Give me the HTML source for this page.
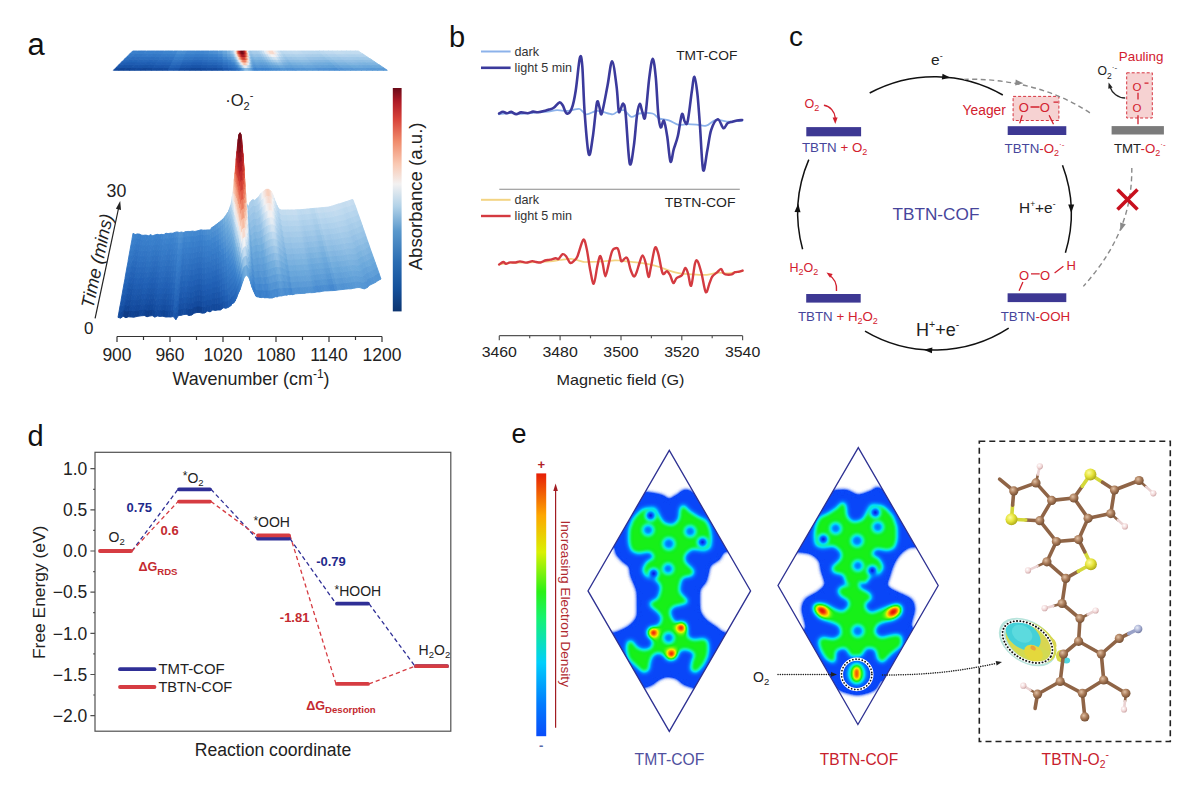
<!DOCTYPE html>
<html><head><meta charset="utf-8"><title>Figure</title>
<style>
html,body{margin:0;padding:0;background:#fff;}
body{width:1202px;height:797px;overflow:hidden;}
svg{display:block;font-family:"Liberation Sans", Arial, sans-serif;}
</style></head><body>
<svg width="1202" height="797" viewBox="0 0 1202 797">
<rect width="1202" height="797" fill="#fff"/>
<text x="27.5" y="54.5" font-size="31" fill="#111">a</text><path d="M117.0 336.5H382.0" stroke="#333" stroke-width="1.2" fill="none"/><path d="M117.0 336.5V342.0" stroke="#333" stroke-width="1.2"/><path d="M143.5 336.5V340.0" stroke="#333" stroke-width="1.2"/><path d="M170.0 336.5V342.0" stroke="#333" stroke-width="1.2"/><path d="M196.5 336.5V340.0" stroke="#333" stroke-width="1.2"/><path d="M223.0 336.5V342.0" stroke="#333" stroke-width="1.2"/><path d="M249.5 336.5V340.0" stroke="#333" stroke-width="1.2"/><path d="M276.0 336.5V342.0" stroke="#333" stroke-width="1.2"/><path d="M302.5 336.5V340.0" stroke="#333" stroke-width="1.2"/><path d="M329.0 336.5V342.0" stroke="#333" stroke-width="1.2"/><path d="M355.5 336.5V340.0" stroke="#333" stroke-width="1.2"/><path d="M382.0 336.5V342.0" stroke="#333" stroke-width="1.2"/><text x="117.0" y="361" font-size="17.5" text-anchor="middle" fill="#222">900</text><text x="170.0" y="361" font-size="17.5" text-anchor="middle" fill="#222">960</text><text x="223.0" y="361" font-size="17.5" text-anchor="middle" fill="#222">1020</text><text x="276.0" y="361" font-size="17.5" text-anchor="middle" fill="#222">1080</text><text x="329.0" y="361" font-size="17.5" text-anchor="middle" fill="#222">1140</text><text x="382.0" y="361" font-size="17.5" text-anchor="middle" fill="#222">1200</text><text x="251" y="385" font-size="17.9" text-anchor="middle" fill="#222">Wavenumber (cm<tspan font-size="12" dy="-7">-1</tspan><tspan dy="7">)</tspan></text><text x="106.6" y="196.6" font-size="17.8" fill="#222">30</text><text x="84" y="333.5" font-size="17" fill="#222">0</text><path d="M95.1 318.4L118.6 208" stroke="#222" stroke-width="1.2" fill="none"/><path d="M120.2 201.0L121.0 209.9L115.9 208.8Z" fill="#222"/><text transform="translate(93.2,309) rotate(-78)" font-size="18.2" font-style="italic" fill="#222">Time (mins)</text><text x="225.2" y="106" font-size="16.5" fill="#222">·O<tspan font-size="11" dy="4">2</tspan><tspan font-size="11" dy="-11">-</tspan></text><defs><linearGradient id="cbA" x1="0" y1="1" x2="0" y2="0"><stop offset="0" stop-color="#0c3470"/><stop offset="0.1" stop-color="#14509a"/><stop offset="0.22" stop-color="#2a6cb2"/><stop offset="0.36" stop-color="#5a98cc"/><stop offset="0.47" stop-color="#b2d2e8"/><stop offset="0.57" stop-color="#f3f1f1"/><stop offset="0.66" stop-color="#f9c8b2"/><stop offset="0.76" stop-color="#f08c6c"/><stop offset="0.86" stop-color="#d8433a"/><stop offset="0.94" stop-color="#ae1a26"/><stop offset="1" stop-color="#6a0a18"/></linearGradient></defs><rect x="392.8" y="88" width="8.8" height="223.4" fill="url(#cbA)"/><text transform="translate(422.2,270.3) rotate(-90)" font-size="18.6" fill="#222">Absorbance (a.u.)</text><g stroke-width="0.9" stroke-linejoin="bevel"><path fill="#3d83cd" stroke="#3d83cd" d="M132.0 239.0l2.2 1.1 1.0 -5.6 -2.2 -1.2z"/><path fill="#3b81cc" stroke="#3b81cc" d="M134.2 240.2l2.2 -0.8 0.9 -5.5 -2.2 0.7z"/><path fill="#397fcb" stroke="#397fcb" d="M136.5 239.4l2.2 0.3 0.9 -5.6 -2.2 -0.2z"/><path fill="#397eca" stroke="#397eca" d="M138.7 239.7l2.2 0.9 0.9 -5.4 -2.2 -1.0z"/><path fill="#3b80cc" stroke="#3b80cc" d="M140.9 240.6l2.2 0.2 0.9 -5.4 -2.2 -0.2z"/><path fill="#3b81cc" stroke="#3b81cc" d="M143.1 240.7l2.2 -0.1 0.8 -5.5 -2.2 0.1z"/><path fill="#3b80cc" stroke="#3b80cc" d="M145.4 240.6l2.2 0.5 0.8 -5.4 -2.2 -0.6z"/><path fill="#3b81cc" stroke="#3b81cc" d="M147.6 241.2l2.2 -1.1 0.8 -5.4 -2.2 1.2z"/><path fill="#3d83cd" stroke="#3d83cd" d="M149.8 240.0l2.2 1.0 0.7 -5.3 -2.2 -1.0z"/><path fill="#3d83cd" stroke="#3d83cd" d="M152.1 241.0l2.2 -0.7 0.7 -5.4 -2.2 0.8z"/><path fill="#3b81cd" stroke="#3b81cd" d="M154.3 240.3l2.2 -0.5 0.7 -5.5 -2.2 0.6z"/><path fill="#3b81cc" stroke="#3b81cc" d="M156.5 239.8l2.2 0.4 0.7 -5.4 -2.2 -0.5z"/><path fill="#3b81cc" stroke="#3b81cc" d="M158.7 240.2l2.2 -0.5 0.6 -5.4 -2.2 0.5z"/><path fill="#3e83ce" stroke="#3e83ce" d="M161.0 239.8l2.2 0.3 0.6 -5.5 -2.2 -0.2z"/><path fill="#4287cf" stroke="#4287cf" d="M163.2 240.1l2.2 -1.4 0.6 -5.5 -2.2 1.5z"/><path fill="#4387cf" stroke="#4387cf" d="M165.4 238.7l2.2 0.4 0.5 -5.5 -2.2 -0.4z"/><path fill="#4186ce" stroke="#4186ce" d="M167.7 239.1l2.2 -0.4 0.5 -5.5 -2.2 0.4z"/><path fill="#3f85ce" stroke="#3f85ce" d="M169.9 238.7l2.2 0.1 0.5 -5.6 -2.2 -0.0z"/><path fill="#4186cf" stroke="#4186cf" d="M172.1 238.8l2.2 -0.7 0.5 -5.6 -2.2 0.8z"/><path fill="#4589d0" stroke="#4589d0" d="M174.3 238.1l2.2 -0.5 0.4 -5.7 -2.2 0.5z"/><path fill="#498cd1" stroke="#498cd1" d="M176.6 237.6l2.2 0.4 0.4 -5.6 -2.2 -0.5z"/><path fill="#5193d3" stroke="#5193d3" d="M178.8 238.0l2.2 -0.2 0.4 -5.8 -2.2 0.5z"/><path fill="#4e90d2" stroke="#4e90d2" d="M181.0 237.8l2.2 0.2 0.3 -5.5 -2.2 -0.5z"/><path fill="#4489d0" stroke="#4489d0" d="M183.3 238.0l2.2 -0.8 0.3 -5.6 -2.2 0.8z"/><path fill="#468ad0" stroke="#468ad0" d="M185.5 237.2l2.2 -0.3 0.3 -5.5 -2.2 0.3z"/><path fill="#478bd0" stroke="#478bd0" d="M187.7 236.9l2.2 0.1 0.3 -5.5 -2.2 -0.1z"/><path fill="#4489cf" stroke="#4489cf" d="M189.9 237.0l2.2 -0.3 0.2 -5.6 -2.2 0.4z"/><path fill="#4287cf" stroke="#4287cf" d="M192.2 236.7l2.2 0.3 0.2 -5.6 -2.2 -0.4z"/><path fill="#4287cf" stroke="#4287cf" d="M194.4 237.1l2.2 -0.6 0.2 -5.5 -2.2 0.5z"/><path fill="#4287cf" stroke="#4287cf" d="M196.6 236.5l2.2 -0.6 0.1 -5.5 -2.2 0.6z"/><path fill="#4186ce" stroke="#4186ce" d="M198.9 235.9l2.2 -0.6 0.1 -5.5 -2.2 0.6z"/><path fill="#4287cf" stroke="#4287cf" d="M201.1 235.3l2.2 0.4 0.1 -5.5 -2.2 -0.3z"/><path fill="#468ad0" stroke="#468ad0" d="M203.3 235.6l2.2 -0.0 0.1 -5.5 -2.2 0.0z"/><path fill="#498cd1" stroke="#498cd1" d="M205.5 235.6l2.2 -0.3 0.0 -5.4 -2.2 0.2z"/><path fill="#4b8ed1" stroke="#4b8ed1" d="M207.8 235.3l2.2 0.2 -0.0 -5.5 -2.2 -0.1z"/><path fill="#4d90d2" stroke="#4d90d2" d="M210.0 235.4l2.2 -2.7 -0.0 -5.5 -2.2 2.7z"/><path fill="#4f91d3" stroke="#4f91d3" d="M212.2 232.8l2.2 -1.2 -0.1 -5.6 -2.2 1.4z"/><path fill="#5293d3" stroke="#5293d3" d="M214.5 231.5l2.2 -1.6 -0.1 -5.7 -2.2 1.6z"/><path fill="#5697d5" stroke="#5697d5" d="M216.7 230.0l2.2 -1.7 -0.1 -5.8 -2.2 1.8z"/><path fill="#5e9dd7" stroke="#5e9dd7" d="M218.9 228.3l2.2 -1.6 -0.1 -5.8 -2.2 1.6z"/><path fill="#66a3da" stroke="#66a3da" d="M221.1 226.7l2.2 -1.8 -0.2 -6.0 -2.2 1.9z"/><path fill="#6fabdc" stroke="#6fabdc" d="M223.4 224.9l2.2 -2.8 -0.2 -6.1 -2.2 2.9z"/><path fill="#80b5e0" stroke="#80b5e0" d="M225.6 222.1l2.2 -3.3 -0.2 -6.2 -2.2 3.4z"/><path fill="#89bae2" stroke="#89bae2" d="M227.8 218.9l0.7 -0.7 -0.2 -6.1 -0.7 0.7z"/><path fill="#8ebde4" stroke="#8ebde4" d="M228.6 218.1l0.7 -1.7 -0.3 -6.2 -0.7 1.8z"/><path fill="#97c3e6" stroke="#97c3e6" d="M229.2 216.4l0.7 -1.7 -0.3 -6.3 -0.7 1.8z"/><path fill="#9fc7e8" stroke="#9fc7e8" d="M229.9 214.7l0.7 -1.7 -0.3 -6.4 -0.7 1.8z"/><path fill="#a7ccea" stroke="#a7ccea" d="M230.6 213.0l0.7 -1.8 -0.3 -6.4 -0.7 1.8z"/><path fill="#b3d3ed" stroke="#b3d3ed" d="M231.2 211.2l0.7 -3.4 -0.3 -6.5 -0.7 3.5z"/><path fill="#cadff0" stroke="#cadff0" d="M231.9 207.8l0.7 -4.6 -0.3 -6.7 -0.7 4.8z"/><path fill="#e9eef4" stroke="#e9eef4" d="M232.6 203.3l0.7 -4.6 -0.3 -6.9 -0.7 4.8z"/><path fill="#f5e3dc" stroke="#f5e3dc" d="M233.3 198.6l0.7 -5.1 -0.3 -7.1 -0.7 5.3z"/><path fill="#f9c7b1" stroke="#f9c7b1" d="M233.9 193.6l0.7 -6.6 -0.3 -7.5 -0.7 6.9z"/><path fill="#f3a184" stroke="#f3a184" d="M234.6 187.0l0.7 -6.6 -0.3 -7.8 -0.7 6.9z"/><path fill="#ea785d" stroke="#ea785d" d="M235.3 180.5l0.7 -6.6 -0.3 -8.1 -0.7 6.9z"/><path fill="#dc4b3a" stroke="#dc4b3a" d="M235.9 173.9l0.7 -6.8 -0.3 -8.5 -0.7 7.2z"/><path fill="#c32f2d" stroke="#c32f2d" d="M236.6 167.1l0.7 -6.9 -0.4 -8.8 -0.7 7.2z"/><path fill="#a51922" stroke="#a51922" d="M237.3 160.2l0.7 -6.6 -0.4 -9.1 -0.7 6.9z"/><path fill="#89101c" stroke="#89101c" d="M237.9 153.5l0.7 -4.8 -0.4 -9.3 -0.7 5.0z"/><path fill="#730917" stroke="#730917" d="M238.6 148.8l0.7 -4.7 -0.4 -9.5 -0.7 5.0z"/><path fill="#6e0816" stroke="#6e0816" d="M239.3 144.0l0.7 -1.3 -0.4 -9.5 -0.7 1.3z"/><path fill="#6e0816" stroke="#6e0816" d="M239.9 142.7l0.7 -0.4 -0.4 -9.5 -0.7 0.4z"/><path fill="#6e0816" stroke="#6e0816" d="M240.6 142.3l0.7 1.4 -0.4 -9.4 -0.7 -1.5z"/><path fill="#780b18" stroke="#780b18" d="M241.3 143.7l0.7 4.2 -0.4 -9.2 -0.7 -4.4z"/><path fill="#95141e" stroke="#95141e" d="M241.9 147.9l0.7 6.4 -0.4 -8.8 -0.7 -6.8z"/><path fill="#b62127" stroke="#b62127" d="M242.6 154.3l0.7 7.4 -0.4 -8.4 -0.7 -7.8z"/><path fill="#d64437" stroke="#d64437" d="M243.3 161.7l0.7 9.4 -0.4 -7.8 -0.7 -9.9z"/><path fill="#ec8165" stroke="#ec8165" d="M244.0 171.0l0.7 9.4 -0.4 -7.4 -0.7 -9.8z"/><path fill="#f7baa1" stroke="#f7baa1" d="M244.6 180.4l0.7 9.0 -0.5 -6.9 -0.7 -9.5z"/><path fill="#f5e5df" stroke="#f5e5df" d="M245.3 189.4l0.7 8.9 -0.5 -6.4 -0.7 -9.5z"/><path fill="#d5e4f1" stroke="#d5e4f1" d="M246.0 198.4l0.7 6.6 -0.5 -6.1 -0.7 -6.9z"/><path fill="#b1d2ec" stroke="#b1d2ec" d="M246.6 205.0l0.7 5.2 -0.5 -5.8 -0.7 -5.5z"/><path fill="#a0c8e8" stroke="#a0c8e8" d="M247.3 210.2l0.7 1.6 -0.5 -5.9 -0.7 -1.6z"/><path fill="#9dc6e7" stroke="#9dc6e7" d="M248.0 211.8l0.7 1.6 -0.5 -5.9 -0.7 -1.6z"/><path fill="#a0c8e8" stroke="#a0c8e8" d="M248.6 213.4l0.7 -1.5 -0.5 -6.1 -0.7 1.7z"/><path fill="#a5cbe9" stroke="#a5cbe9" d="M249.3 211.9l0.7 -1.5 -0.5 -6.2 -0.7 1.6z"/><path fill="#a8cdea" stroke="#a8cdea" d="M250.0 210.4l0.7 -1.5 -0.5 -6.3 -0.7 1.7z"/><path fill="#accfeb" stroke="#accfeb" d="M250.6 208.8l0.2 -0.5 -0.5 -6.3 -0.2 0.5z"/><path fill="#aaceeb" stroke="#aaceeb" d="M250.9 208.3l1.3 -1.4 -0.5 -6.5 -1.3 1.5z"/><path fill="#a9cdea" stroke="#a9cdea" d="M252.2 207.0l1.3 -0.7 -0.6 -6.5 -1.3 0.8z"/><path fill="#aaceea" stroke="#aaceea" d="M253.5 206.2l1.3 0.5 -0.6 -6.5 -1.3 -0.6z"/><path fill="#add0eb" stroke="#add0eb" d="M254.9 206.8l1.3 -0.5 -0.6 -6.5 -1.3 0.6z"/><path fill="#b0d2ec" stroke="#b0d2ec" d="M256.2 206.3l1.3 -1.1 -0.6 -6.6 -1.3 1.1z"/><path fill="#b4d4ed" stroke="#b4d4ed" d="M257.5 205.2l1.3 -1.3 -0.6 -6.7 -1.3 1.4z"/><path fill="#bed9ef" stroke="#bed9ef" d="M258.9 203.9l1.3 -1.7 -0.6 -6.8 -1.3 1.8z"/><path fill="#d0e2f1" stroke="#d0e2f1" d="M260.2 202.2l1.3 -1.7 -0.7 -7.0 -1.3 1.8z"/><path fill="#e5ecf3" stroke="#e5ecf3" d="M261.6 200.6l1.3 -1.2 -0.7 -7.0 -1.3 1.3z"/><path fill="#f3f1f2" stroke="#f3f1f2" d="M262.9 199.3l1.3 -1.0 -0.7 -7.1 -1.3 1.0z"/><path fill="#f5e7e2" stroke="#f5e7e2" d="M264.2 198.3l1.3 -1.0 -0.7 -7.1 -1.3 1.0z"/><path fill="#f6ddd2" stroke="#f6ddd2" d="M265.6 197.3l1.3 -0.7 -0.7 -7.2 -1.3 0.7z"/><path fill="#f8d4c4" stroke="#f8d4c4" d="M266.9 196.6l1.3 -0.2 -0.8 -7.1 -1.3 0.1z"/><path fill="#f8cfbb" stroke="#f8cfbb" d="M268.2 196.4l1.3 0.0 -0.8 -7.1 -1.3 -0.0z"/><path fill="#f8d3c1" stroke="#f8d3c1" d="M269.6 196.5l1.3 1.2 -0.8 -7.0 -1.3 -1.3z"/><path fill="#f6dcd1" stroke="#f6dcd1" d="M270.9 197.6l1.3 1.1 -0.8 -6.9 -1.3 -1.3z"/><path fill="#f4ebe8" stroke="#f4ebe8" d="M272.3 198.8l1.3 2.7 -0.8 -6.7 -1.3 -2.9z"/><path fill="#e9eef4" stroke="#e9eef4" d="M273.6 201.5l1.3 2.9 -0.8 -6.5 -1.3 -3.2z"/><path fill="#d9e7f2" stroke="#d9e7f2" d="M274.9 204.4l1.3 3.2 -0.9 -6.2 -1.3 -3.4z"/><path fill="#cbe0f0" stroke="#cbe0f0" d="M276.3 207.6l1.3 3.4 -0.9 -6.0 -1.3 -3.6z"/><path fill="#bfdaef" stroke="#bfdaef" d="M277.6 211.0l1.3 2.4 -0.9 -5.8 -1.3 -2.6z"/><path fill="#bbd8ee" stroke="#bbd8ee" d="M278.9 213.4l1.3 1.4 -0.9 -5.7 -1.3 -1.4z"/><path fill="#bfdaef" stroke="#bfdaef" d="M280.3 214.8l0.3 0.3 -0.9 -5.7 -0.3 -0.3z"/><path fill="#c4dcef" stroke="#c4dcef" d="M280.6 215.1l2.2 0.7 -0.9 -5.6 -2.2 -0.8z"/><path fill="#c3dcef" stroke="#c3dcef" d="M282.8 215.7l2.2 -0.1 -1.0 -5.6 -2.2 0.0z"/><path fill="#c3dcef" stroke="#c3dcef" d="M285.0 215.7l2.2 -0.1 -1.0 -5.6 -2.2 0.0z"/><path fill="#c5ddef" stroke="#c5ddef" d="M287.3 215.6l2.2 -0.1 -1.0 -5.6 -2.2 0.0z"/><path fill="#c5ddef" stroke="#c5ddef" d="M289.5 215.6l2.2 -0.1 -1.1 -5.5 -2.2 0.0z"/><path fill="#c5ddef" stroke="#c5ddef" d="M291.7 215.5l2.2 -0.1 -1.1 -5.5 -2.2 0.0z"/><path fill="#c6ddf0" stroke="#c6ddf0" d="M293.9 215.5l2.2 -0.0 -1.1 -5.5 -2.2 0.0z"/><path fill="#c5ddef" stroke="#c5ddef" d="M296.2 215.4l2.2 -0.1 -1.1 -5.5 -2.2 0.0z"/><path fill="#c0dbef" stroke="#c0dbef" d="M298.4 215.4l2.2 -0.1 -1.2 -5.5 -2.2 0.0z"/><path fill="#bdd9ef" stroke="#bdd9ef" d="M300.6 215.3l2.2 -0.2 -1.2 -5.5 -2.2 0.2z"/><path fill="#bedaef" stroke="#bedaef" d="M302.9 215.1l2.2 -0.2 -1.2 -5.5 -2.2 0.2z"/><path fill="#c0daef" stroke="#c0daef" d="M305.1 214.8l2.2 -0.2 -1.3 -5.4 -2.2 0.2z"/><path fill="#c1dbef" stroke="#c1dbef" d="M307.3 214.6l2.2 -0.2 -1.3 -5.5 -2.2 0.2z"/><path fill="#bfdaef" stroke="#bfdaef" d="M309.6 214.4l2.2 -0.2 -1.3 -5.5 -2.2 0.2z"/><path fill="#bad8ee" stroke="#bad8ee" d="M311.8 214.2l2.2 -0.2 -1.3 -5.5 -2.2 0.2z"/><path fill="#bad8ee" stroke="#bad8ee" d="M314.0 214.0l2.2 -0.2 -1.4 -5.5 -2.2 0.2z"/><path fill="#c1dbef" stroke="#c1dbef" d="M316.2 213.8l2.2 -0.2 -1.4 -5.5 -2.2 0.2z"/><path fill="#c6ddf0" stroke="#c6ddf0" d="M318.5 213.6l2.2 -0.2 -1.4 -5.5 -2.2 0.2z"/><path fill="#c4dcef" stroke="#c4dcef" d="M320.7 213.3l2.2 -0.2 -1.5 -5.4 -2.2 0.2z"/><path fill="#c3dcef" stroke="#c3dcef" d="M322.9 213.1l2.2 -0.2 -1.5 -5.4 -2.2 0.2z"/><path fill="#c5ddef" stroke="#c5ddef" d="M325.2 212.9l2.2 -0.2 -1.5 -5.4 -2.2 0.2z"/><path fill="#c6ddf0" stroke="#c6ddf0" d="M327.4 212.7l2.2 -0.2 -1.5 -5.4 -2.2 0.2z"/><path fill="#c6ddf0" stroke="#c6ddf0" d="M329.6 212.5l2.2 -0.4 -1.6 -5.4 -2.2 0.4z"/><path fill="#c8def0" stroke="#c8def0" d="M331.8 212.1l2.2 -0.7 -1.6 -5.5 -2.2 0.7z"/><path fill="#cadff0" stroke="#cadff0" d="M334.1 211.4l2.2 -0.7 -1.6 -5.5 -2.2 0.7z"/><path fill="#c9dff0" stroke="#c9dff0" d="M336.3 210.7l2.2 -0.6 -1.7 -5.6 -2.2 0.7z"/><path fill="#c8def0" stroke="#c8def0" d="M338.5 210.1l2.2 -0.6 -1.7 -5.7 -2.2 0.7z"/><path fill="#c6ddf0" stroke="#c6ddf0" d="M340.8 209.5l2.2 -0.7 -1.7 -5.6 -2.2 0.7z"/><path fill="#c4dcef" stroke="#c4dcef" d="M343.0 208.8l2.2 -0.8 -1.7 -5.5 -2.2 0.7z"/><path fill="#c4dcef" stroke="#c4dcef" d="M345.2 208.0l2.2 -0.7 -1.8 -5.5 -2.2 0.7z"/><path fill="#c6ddf0" stroke="#c6ddf0" d="M347.4 207.2l2.2 -0.7 -1.8 -5.4 -2.2 0.7z"/><path fill="#c8def0" stroke="#c8def0" d="M349.7 206.5l2.2 -0.8 -1.8 -5.4 -2.2 0.7z"/><path fill="#c6ddf0" stroke="#c6ddf0" d="M351.9 205.7l2.2 -0.8 -1.9 -5.3 -2.2 0.7z"/><path fill="#c5ddef" stroke="#c5ddef" d="M354.1 205.0l0.7 -0.2 -1.9 -5.3 -0.7 0.2z"/><path fill="#3a7fcb" stroke="#3a7fcb" d="M131.0 244.6l2.3 1.1 1.0 -5.6 -2.2 -1.1z"/><path fill="#397eca" stroke="#397eca" d="M133.3 245.7l2.3 -0.9 0.9 -5.5 -2.2 0.8z"/><path fill="#367bc8" stroke="#367bc8" d="M135.5 244.9l2.3 0.4 0.9 -5.6 -2.2 -0.3z"/><path fill="#367ac7" stroke="#367ac7" d="M137.8 245.2l2.3 0.8 0.9 -5.4 -2.2 -0.9z"/><path fill="#387cc9" stroke="#387cc9" d="M140.0 246.0l2.3 0.2 0.9 -5.4 -2.2 -0.2z"/><path fill="#397eca" stroke="#397eca" d="M142.3 246.2l2.3 -0.1 0.8 -5.5 -2.2 0.1z"/><path fill="#387dc9" stroke="#387dc9" d="M144.5 246.1l2.3 0.5 0.8 -5.4 -2.2 -0.5z"/><path fill="#387dc9" stroke="#387dc9" d="M146.8 246.5l2.3 -1.1 0.8 -5.4 -2.2 1.1z"/><path fill="#397fcb" stroke="#397fcb" d="M149.1 245.5l2.3 0.9 0.7 -5.3 -2.2 -1.0z"/><path fill="#3a7fcb" stroke="#3a7fcb" d="M151.3 246.3l2.3 -0.7 0.7 -5.4 -2.2 0.7z"/><path fill="#387eca" stroke="#387eca" d="M153.6 245.6l2.3 -0.4 0.7 -5.5 -2.2 0.5z"/><path fill="#387dc9" stroke="#387dc9" d="M155.8 245.3l2.3 0.4 0.7 -5.4 -2.2 -0.4z"/><path fill="#387dca" stroke="#387dca" d="M158.1 245.6l2.3 -0.5 0.6 -5.4 -2.2 0.5z"/><path fill="#3a7fcb" stroke="#3a7fcb" d="M160.3 245.2l2.3 0.4 0.6 -5.5 -2.2 -0.3z"/><path fill="#3c81cd" stroke="#3c81cd" d="M162.6 245.6l2.3 -1.4 0.6 -5.5 -2.2 1.4z"/><path fill="#3c82cd" stroke="#3c82cd" d="M164.9 244.2l2.3 0.4 0.5 -5.5 -2.2 -0.4z"/><path fill="#3b81cc" stroke="#3b81cc" d="M167.1 244.6l2.3 -0.3 0.5 -5.5 -2.2 0.4z"/><path fill="#3a80cc" stroke="#3a80cc" d="M169.4 244.3l2.3 0.1 0.5 -5.6 -2.2 -0.1z"/><path fill="#3b81cc" stroke="#3b81cc" d="M171.6 244.4l2.3 -0.7 0.5 -5.6 -2.2 0.7z"/><path fill="#3e83ce" stroke="#3e83ce" d="M173.9 243.7l2.3 -0.4 0.4 -5.7 -2.2 0.5z"/><path fill="#4287cf" stroke="#4287cf" d="M176.1 243.3l2.3 0.4 0.4 -5.6 -2.2 -0.4z"/><path fill="#4b8ed2" stroke="#4b8ed2" d="M178.4 243.6l2.3 0.0 0.4 -5.8 -2.2 0.2z"/><path fill="#488bd0" stroke="#488bd0" d="M180.7 243.6l2.3 -0.1 0.3 -5.5 -2.2 -0.2z"/><path fill="#3d83cd" stroke="#3d83cd" d="M182.9 243.6l2.3 -0.7 0.3 -5.6 -2.2 0.8z"/><path fill="#3f84ce" stroke="#3f84ce" d="M185.2 242.8l2.3 -0.3 0.3 -5.5 -2.2 0.3z"/><path fill="#4086ce" stroke="#4086ce" d="M187.4 242.5l2.3 0.0 0.3 -5.5 -2.2 -0.1z"/><path fill="#3d83cd" stroke="#3d83cd" d="M189.7 242.5l2.3 -0.2 0.2 -5.6 -2.2 0.3z"/><path fill="#3b81cc" stroke="#3b81cc" d="M191.9 242.3l2.3 0.3 0.2 -5.6 -2.2 -0.3z"/><path fill="#3c81cd" stroke="#3c81cd" d="M194.2 242.6l2.3 -0.7 0.2 -5.5 -2.2 0.6z"/><path fill="#3b81cc" stroke="#3b81cc" d="M196.5 242.0l2.3 -0.6 0.1 -5.5 -2.2 0.6z"/><path fill="#3b80cc" stroke="#3b80cc" d="M198.7 241.3l2.3 -0.5 0.1 -5.5 -2.2 0.6z"/><path fill="#3b81cc" stroke="#3b81cc" d="M201.0 240.8l2.3 0.4 0.1 -5.5 -2.2 -0.4z"/><path fill="#3f84ce" stroke="#3f84ce" d="M203.2 241.2l2.3 -0.0 0.1 -5.5 -2.2 0.0z"/><path fill="#4287cf" stroke="#4287cf" d="M205.5 241.1l2.3 -0.4 0.0 -5.4 -2.2 0.3z"/><path fill="#4388cf" stroke="#4388cf" d="M207.7 240.7l2.3 0.2 -0.0 -5.5 -2.2 -0.2z"/><path fill="#468ad0" stroke="#468ad0" d="M210.0 240.9l2.3 -2.6 -0.0 -5.5 -2.2 2.7z"/><path fill="#488bd0" stroke="#488bd0" d="M212.3 238.3l2.3 -1.1 -0.1 -5.6 -2.2 1.2z"/><path fill="#4a8dd1" stroke="#4a8dd1" d="M214.5 237.2l2.3 -1.5 -0.1 -5.7 -2.2 1.6z"/><path fill="#4e90d2" stroke="#4e90d2" d="M216.8 235.7l2.3 -1.5 -0.1 -5.8 -2.2 1.7z"/><path fill="#5697d5" stroke="#5697d5" d="M219.0 234.1l2.3 -1.6 -0.1 -5.8 -2.2 1.6z"/><path fill="#5e9dd7" stroke="#5e9dd7" d="M221.3 232.5l2.3 -1.6 -0.2 -6.0 -2.2 1.8z"/><path fill="#67a4da" stroke="#67a4da" d="M223.6 230.9l2.3 -2.7 -0.2 -6.1 -2.2 2.8z"/><path fill="#74aedd" stroke="#74aedd" d="M225.8 228.2l2.3 -3.2 -0.2 -6.2 -2.2 3.3z"/><path fill="#7db3e0" stroke="#7db3e0" d="M228.1 225.0l0.8 -0.8 -0.2 -6.1 -0.7 0.7z"/><path fill="#82b6e1" stroke="#82b6e1" d="M228.8 224.2l0.7 -1.6 -0.3 -6.2 -0.7 1.7z"/><path fill="#8abbe3" stroke="#8abbe3" d="M229.5 222.6l0.7 -1.6 -0.3 -6.3 -0.7 1.7z"/><path fill="#92bfe5" stroke="#92bfe5" d="M230.2 221.0l0.7 -1.7 -0.3 -6.4 -0.7 1.7z"/><path fill="#99c4e6" stroke="#99c4e6" d="M230.8 219.3l0.7 -1.7 -0.3 -6.4 -0.7 1.8z"/><path fill="#a5cbe9" stroke="#a5cbe9" d="M231.5 217.6l0.7 -3.3 -0.3 -6.5 -0.7 3.4z"/><path fill="#b9d7ee" stroke="#b9d7ee" d="M232.2 214.4l0.7 -4.4 -0.3 -6.7 -0.7 4.6z"/><path fill="#d6e5f1" stroke="#d6e5f1" d="M232.9 210.0l0.7 -4.4 -0.3 -6.9 -0.7 4.6z"/><path fill="#f3f0f0" stroke="#f3f0f0" d="M233.6 205.6l0.7 -4.8 -0.3 -7.1 -0.7 5.1z"/><path fill="#f7d6c7" stroke="#f7d6c7" d="M234.2 200.7l0.7 -6.2 -0.3 -7.5 -0.7 6.6z"/><path fill="#f6b59b" stroke="#f6b59b" d="M234.9 194.5l0.7 -6.2 -0.3 -7.8 -0.7 6.6z"/><path fill="#f09070" stroke="#f09070" d="M235.6 188.3l0.7 -6.3 -0.3 -8.1 -0.7 6.6z"/><path fill="#e5654e" stroke="#e5654e" d="M236.3 182.0l0.7 -6.5 -0.3 -8.5 -0.7 6.8z"/><path fill="#d23f35" stroke="#d23f35" d="M236.9 175.5l0.7 -6.6 -0.4 -8.8 -0.7 6.9z"/><path fill="#b82328" stroke="#b82328" d="M237.6 169.0l0.7 -6.3 -0.4 -9.1 -0.7 6.6z"/><path fill="#9f1721" stroke="#9f1721" d="M238.3 162.6l0.7 -4.6 -0.4 -9.3 -0.7 4.8z"/><path fill="#8a111c" stroke="#8a111c" d="M239.0 158.0l0.7 -4.5 -0.4 -9.5 -0.7 4.7z"/><path fill="#7d0d19" stroke="#7d0d19" d="M239.7 153.5l0.7 -1.3 -0.4 -9.5 -0.7 1.3z"/><path fill="#7a0c19" stroke="#7a0c19" d="M240.3 152.3l0.7 -0.4 -0.4 -9.5 -0.7 0.4z"/><path fill="#7e0d1a" stroke="#7e0d1a" d="M241.0 151.8l0.7 1.2 -0.4 -9.4 -0.7 -1.4z"/><path fill="#8f121d" stroke="#8f121d" d="M241.7 153.1l0.7 4.0 -0.4 -9.2 -0.7 -4.2z"/><path fill="#a91a23" stroke="#a91a23" d="M242.4 157.1l0.7 6.0 -0.4 -8.8 -0.7 -6.4z"/><path fill="#c4302e" stroke="#c4302e" d="M243.0 163.0l0.7 7.0 -0.4 -8.4 -0.7 -7.4z"/><path fill="#e05541" stroke="#e05541" d="M243.7 170.0l0.7 8.9 -0.4 -7.8 -0.7 -9.4z"/><path fill="#f19474" stroke="#f19474" d="M244.4 178.9l0.7 8.9 -0.4 -7.4 -0.7 -9.4z"/><path fill="#f9c8b2" stroke="#f9c8b2" d="M245.1 187.8l0.7 8.6 -0.5 -6.9 -0.7 -9.0z"/><path fill="#f4eeed" stroke="#f4eeed" d="M245.7 196.4l0.7 8.4 -0.5 -6.4 -0.7 -8.9z"/><path fill="#c9dff0" stroke="#c9dff0" d="M246.4 204.8l0.7 6.2 -0.5 -6.1 -0.7 -6.6z"/><path fill="#a9cdea" stroke="#a9cdea" d="M247.1 211.1l0.7 5.0 -0.5 -5.8 -0.7 -5.2z"/><path fill="#98c3e6" stroke="#98c3e6" d="M247.8 216.0l0.7 1.6 -0.5 -5.9 -0.7 -1.6z"/><path fill="#96c2e5" stroke="#96c2e5" d="M248.5 217.6l0.7 1.6 -0.5 -5.9 -0.7 -1.6z"/><path fill="#98c3e6" stroke="#98c3e6" d="M249.1 219.3l0.7 -1.3 -0.5 -6.1 -0.7 1.5z"/><path fill="#9dc6e7" stroke="#9dc6e7" d="M249.8 218.0l0.7 -1.4 -0.5 -6.2 -0.7 1.5z"/><path fill="#a1c8e8" stroke="#a1c8e8" d="M250.5 216.6l0.7 -1.4 -0.5 -6.3 -0.7 1.5z"/><path fill="#a4cae9" stroke="#a4cae9" d="M251.2 215.1l0.2 -0.5 -0.5 -6.3 -0.2 0.5z"/><path fill="#a2c9e9" stroke="#a2c9e9" d="M251.4 214.7l1.4 -1.2 -0.5 -6.5 -1.3 1.4z"/><path fill="#a1c8e8" stroke="#a1c8e8" d="M252.7 213.4l1.4 -0.7 -0.6 -6.5 -1.3 0.7z"/><path fill="#a2c9e8" stroke="#a2c9e8" d="M254.1 212.7l1.4 0.5 -0.6 -6.5 -1.3 -0.5z"/><path fill="#a5cbe9" stroke="#a5cbe9" d="M255.5 213.2l1.4 -0.4 -0.6 -6.5 -1.3 0.5z"/><path fill="#a8cdea" stroke="#a8cdea" d="M256.8 212.8l1.4 -1.0 -0.6 -6.6 -1.3 1.1z"/><path fill="#abceeb" stroke="#abceeb" d="M258.2 211.8l1.4 -1.2 -0.6 -6.7 -1.3 1.3z"/><path fill="#b4d4ed" stroke="#b4d4ed" d="M259.5 210.6l1.4 -1.5 -0.6 -6.8 -1.3 1.7z"/><path fill="#c4dcef" stroke="#c4dcef" d="M260.9 209.1l1.4 -1.6 -0.7 -7.0 -1.3 1.7z"/><path fill="#d7e6f2" stroke="#d7e6f2" d="M262.2 207.5l1.4 -1.1 -0.7 -7.0 -1.3 1.2z"/><path fill="#e7edf4" stroke="#e7edf4" d="M263.6 206.4l1.4 -1.0 -0.7 -7.1 -1.3 1.0z"/><path fill="#f3f1f1" stroke="#f3f1f1" d="M264.9 205.4l1.4 -1.0 -0.7 -7.1 -1.3 1.0z"/><path fill="#f5e7e2" stroke="#f5e7e2" d="M266.3 204.4l1.4 -0.6 -0.7 -7.2 -1.3 0.7z"/><path fill="#f6dfd6" stroke="#f6dfd6" d="M267.6 203.8l1.4 -0.2 -0.8 -7.1 -1.3 0.2z"/><path fill="#f7dacd" stroke="#f7dacd" d="M269.0 203.6l1.4 0.0 -0.8 -7.1 -1.3 -0.0z"/><path fill="#f6ddd2" stroke="#f6ddd2" d="M270.4 203.6l1.4 1.1 -0.8 -7.0 -1.3 -1.2z"/><path fill="#f5e6e0" stroke="#f5e6e0" d="M271.7 204.6l1.4 1.0 -0.8 -6.9 -1.3 -1.1z"/><path fill="#f2f3f5" stroke="#f2f3f5" d="M273.1 205.7l1.4 2.5 -0.8 -6.7 -1.3 -2.7z"/><path fill="#dce8f2" stroke="#dce8f2" d="M274.4 208.2l1.4 2.7 -0.8 -6.5 -1.3 -2.9z"/><path fill="#cee1f1" stroke="#cee1f1" d="M275.8 210.9l1.4 2.9 -0.9 -6.2 -1.3 -3.2z"/><path fill="#c2dbef" stroke="#c2dbef" d="M277.1 213.8l1.4 3.1 -0.9 -6.0 -1.3 -3.4z"/><path fill="#b6d5ed" stroke="#b6d5ed" d="M278.5 217.0l1.4 2.3 -0.9 -5.8 -1.3 -2.4z"/><path fill="#b3d3ec" stroke="#b3d3ec" d="M279.8 219.2l1.4 1.3 -0.9 -5.7 -1.3 -1.4z"/><path fill="#b7d6ed" stroke="#b7d6ed" d="M281.2 220.5l0.3 0.3 -0.9 -5.7 -0.3 -0.3z"/><path fill="#bcd8ee" stroke="#bcd8ee" d="M281.5 220.7l2.3 0.6 -0.9 -5.6 -2.2 -0.7z"/><path fill="#bbd8ee" stroke="#bbd8ee" d="M283.7 221.3l2.3 -0.1 -1.0 -5.6 -2.2 0.1z"/><path fill="#bad8ee" stroke="#bad8ee" d="M286.0 221.3l2.3 -0.1 -1.0 -5.6 -2.2 0.1z"/><path fill="#bcd9ee" stroke="#bcd9ee" d="M288.3 221.2l2.3 -0.1 -1.0 -5.6 -2.2 0.1z"/><path fill="#bdd9ee" stroke="#bdd9ee" d="M290.5 221.1l2.3 -0.1 -1.1 -5.5 -2.2 0.1z"/><path fill="#bdd9ee" stroke="#bdd9ee" d="M292.8 221.0l2.3 -0.1 -1.1 -5.5 -2.2 0.1z"/><path fill="#bed9ef" stroke="#bed9ef" d="M295.0 221.0l2.3 -0.0 -1.1 -5.5 -2.2 0.0z"/><path fill="#bcd9ee" stroke="#bcd9ee" d="M297.3 220.9l2.3 -0.1 -1.1 -5.5 -2.2 0.1z"/><path fill="#b8d6ee" stroke="#b8d6ee" d="M299.5 220.9l2.3 -0.1 -1.2 -5.5 -2.2 0.1z"/><path fill="#b5d5ed" stroke="#b5d5ed" d="M301.8 220.7l2.3 -0.2 -1.2 -5.5 -2.2 0.2z"/><path fill="#b6d5ed" stroke="#b6d5ed" d="M304.1 220.6l2.3 -0.3 -1.2 -5.5 -2.2 0.2z"/><path fill="#b7d6ee" stroke="#b7d6ee" d="M306.3 220.3l2.3 -0.2 -1.3 -5.4 -2.2 0.2z"/><path fill="#b8d7ee" stroke="#b8d7ee" d="M308.6 220.1l2.3 -0.2 -1.3 -5.5 -2.2 0.2z"/><path fill="#b6d5ed" stroke="#b6d5ed" d="M310.8 219.9l2.3 -0.2 -1.3 -5.5 -2.2 0.2z"/><path fill="#b2d3ec" stroke="#b2d3ec" d="M313.1 219.7l2.3 -0.2 -1.3 -5.5 -2.2 0.2z"/><path fill="#b2d3ec" stroke="#b2d3ec" d="M315.3 219.5l2.3 -0.2 -1.4 -5.5 -2.2 0.2z"/><path fill="#b8d7ee" stroke="#b8d7ee" d="M317.6 219.3l2.3 -0.2 -1.4 -5.5 -2.2 0.2z"/><path fill="#bed9ef" stroke="#bed9ef" d="M319.9 219.0l2.3 -0.2 -1.4 -5.5 -2.2 0.2z"/><path fill="#bcd8ee" stroke="#bcd8ee" d="M322.1 218.8l2.3 -0.2 -1.5 -5.4 -2.2 0.2z"/><path fill="#bad8ee" stroke="#bad8ee" d="M324.4 218.6l2.3 -0.2 -1.5 -5.4 -2.2 0.2z"/><path fill="#bdd9ee" stroke="#bdd9ee" d="M326.6 218.4l2.3 -0.2 -1.5 -5.4 -2.2 0.2z"/><path fill="#bed9ef" stroke="#bed9ef" d="M328.9 218.1l2.3 -0.2 -1.5 -5.4 -2.2 0.2z"/><path fill="#bedaef" stroke="#bedaef" d="M331.2 217.9l2.3 -0.4 -1.6 -5.4 -2.2 0.4z"/><path fill="#c0daef" stroke="#c0daef" d="M333.4 217.5l2.3 -0.7 -1.6 -5.5 -2.2 0.7z"/><path fill="#c2dbef" stroke="#c2dbef" d="M335.7 216.9l2.3 -0.6 -1.6 -5.5 -2.2 0.7z"/><path fill="#c1dbef" stroke="#c1dbef" d="M337.9 216.2l2.3 -0.5 -1.7 -5.6 -2.2 0.6z"/><path fill="#c0daef" stroke="#c0daef" d="M340.2 215.7l2.3 -0.5 -1.7 -5.7 -2.2 0.6z"/><path fill="#bedaef" stroke="#bedaef" d="M342.4 215.2l2.3 -0.8 -1.7 -5.6 -2.2 0.7z"/><path fill="#bbd8ee" stroke="#bbd8ee" d="M344.7 214.4l2.3 -0.9 -1.7 -5.5 -2.2 0.8z"/><path fill="#bcd8ee" stroke="#bcd8ee" d="M347.0 213.5l2.3 -0.8 -1.8 -5.5 -2.2 0.7z"/><path fill="#bedaef" stroke="#bedaef" d="M349.2 212.7l2.3 -0.8 -1.8 -5.4 -2.2 0.7z"/><path fill="#c0daef" stroke="#c0daef" d="M351.5 211.9l2.3 -0.8 -1.8 -5.4 -2.2 0.8z"/><path fill="#bed9ef" stroke="#bed9ef" d="M353.7 211.1l2.3 -0.8 -1.9 -5.3 -2.2 0.8z"/><path fill="#bdd9ee" stroke="#bdd9ee" d="M356.0 210.3l0.8 -0.3 -1.9 -5.3 -0.7 0.2z"/><path fill="#377cc8" stroke="#377cc8" d="M130.0 250.2l2.3 1.1 1.0 -5.6 -2.3 -1.1z"/><path fill="#367ac7" stroke="#367ac7" d="M132.3 251.3l2.3 -0.9 0.9 -5.5 -2.3 0.9z"/><path fill="#3377c5" stroke="#3377c5" d="M134.6 250.4l2.3 0.4 0.9 -5.6 -2.3 -0.4z"/><path fill="#3376c5" stroke="#3376c5" d="M136.9 250.8l2.3 0.6 0.9 -5.4 -2.3 -0.8z"/><path fill="#3579c6" stroke="#3579c6" d="M139.1 251.5l2.3 0.2 0.9 -5.4 -2.3 -0.2z"/><path fill="#367ac7" stroke="#367ac7" d="M141.4 251.6l2.3 -0.1 0.8 -5.5 -2.3 0.1z"/><path fill="#3579c6" stroke="#3579c6" d="M143.7 251.6l2.3 0.4 0.8 -5.4 -2.3 -0.5z"/><path fill="#3579c7" stroke="#3579c7" d="M146.0 251.9l2.3 -1.0 0.8 -5.4 -2.3 1.1z"/><path fill="#377bc8" stroke="#377bc8" d="M148.3 250.9l2.3 0.8 0.7 -5.3 -2.3 -0.9z"/><path fill="#377bc8" stroke="#377bc8" d="M150.6 251.7l2.3 -0.7 0.7 -5.4 -2.3 0.7z"/><path fill="#357ac7" stroke="#357ac7" d="M152.9 251.0l2.3 -0.2 0.7 -5.5 -2.3 0.4z"/><path fill="#3579c6" stroke="#3579c6" d="M155.1 250.8l2.3 0.3 0.7 -5.4 -2.3 -0.4z"/><path fill="#357ac7" stroke="#357ac7" d="M157.4 251.1l2.3 -0.5 0.6 -5.4 -2.3 0.5z"/><path fill="#377cc8" stroke="#377cc8" d="M159.7 250.6l2.3 0.5 0.6 -5.5 -2.3 -0.4z"/><path fill="#397eca" stroke="#397eca" d="M162.0 251.1l2.3 -1.4 0.6 -5.5 -2.3 1.4z"/><path fill="#397eca" stroke="#397eca" d="M164.3 249.7l2.3 0.4 0.5 -5.5 -2.3 -0.4z"/><path fill="#387dc9" stroke="#387dc9" d="M166.6 250.1l2.3 -0.3 0.5 -5.5 -2.3 0.3z"/><path fill="#377cc9" stroke="#377cc9" d="M168.9 249.8l2.3 0.2 0.5 -5.6 -2.3 -0.1z"/><path fill="#387dca" stroke="#387dca" d="M171.1 250.0l2.3 -0.6 0.5 -5.6 -2.3 0.7z"/><path fill="#3a7fcb" stroke="#3a7fcb" d="M173.4 249.3l2.3 -0.4 0.4 -5.7 -2.3 0.4z"/><path fill="#3c82cd" stroke="#3c82cd" d="M175.7 249.0l2.3 0.3 0.4 -5.6 -2.3 -0.4z"/><path fill="#4589d0" stroke="#4589d0" d="M178.0 249.2l2.3 0.2 0.4 -5.8 -2.3 -0.0z"/><path fill="#4186cf" stroke="#4186cf" d="M180.3 249.5l2.3 -0.4 0.3 -5.5 -2.3 0.1z"/><path fill="#3a7fcb" stroke="#3a7fcb" d="M182.6 249.1l2.3 -0.7 0.3 -5.6 -2.3 0.7z"/><path fill="#3a80cb" stroke="#3a80cb" d="M184.9 248.4l2.3 -0.4 0.3 -5.5 -2.3 0.3z"/><path fill="#3b81cc" stroke="#3b81cc" d="M187.2 248.0l2.3 0.0 0.3 -5.5 -2.3 -0.0z"/><path fill="#397fcb" stroke="#397fcb" d="M189.4 248.0l2.3 -0.0 0.2 -5.6 -2.3 0.2z"/><path fill="#387dca" stroke="#387dca" d="M191.7 248.0l2.3 0.2 0.2 -5.6 -2.3 -0.3z"/><path fill="#387eca" stroke="#387eca" d="M194.0 248.2l2.3 -0.7 0.2 -5.5 -2.3 0.7z"/><path fill="#387dca" stroke="#387dca" d="M196.3 247.5l2.3 -0.6 0.1 -5.5 -2.3 0.6z"/><path fill="#377cc9" stroke="#377cc9" d="M198.6 246.8l2.3 -0.5 0.1 -5.5 -2.3 0.5z"/><path fill="#387dc9" stroke="#387dc9" d="M200.9 246.3l2.3 0.4 0.1 -5.5 -2.3 -0.4z"/><path fill="#3a80cb" stroke="#3a80cb" d="M203.2 246.7l2.3 -0.1 0.1 -5.5 -2.3 0.0z"/><path fill="#3b81cc" stroke="#3b81cc" d="M205.4 246.7l2.3 -0.5 0.0 -5.4 -2.3 0.4z"/><path fill="#3c82cd" stroke="#3c82cd" d="M207.7 246.1l2.3 0.2 -0.0 -5.5 -2.3 -0.2z"/><path fill="#3e84ce" stroke="#3e84ce" d="M210.0 246.4l2.3 -2.5 -0.0 -5.5 -2.3 2.6z"/><path fill="#4085ce" stroke="#4085ce" d="M212.3 243.8l2.3 -1.0 -0.1 -5.6 -2.3 1.1z"/><path fill="#4186cf" stroke="#4186cf" d="M214.6 242.8l2.3 -1.4 -0.1 -5.7 -2.3 1.5z"/><path fill="#468ad0" stroke="#468ad0" d="M216.9 241.4l2.3 -1.4 -0.1 -5.8 -2.3 1.5z"/><path fill="#4e90d2" stroke="#4e90d2" d="M219.2 240.0l2.3 -1.7 -0.1 -5.8 -2.3 1.6z"/><path fill="#5697d5" stroke="#5697d5" d="M221.4 238.3l2.3 -1.5 -0.2 -6.0 -2.3 1.6z"/><path fill="#5f9ed7" stroke="#5f9ed7" d="M223.7 236.8l2.3 -2.5 -0.2 -6.1 -2.3 2.7z"/><path fill="#6aa7db" stroke="#6aa7db" d="M226.0 234.3l2.3 -3.1 -0.2 -6.2 -2.3 3.2z"/><path fill="#71acdd" stroke="#71acdd" d="M228.3 231.2l0.8 -0.9 -0.2 -6.1 -0.8 0.8z"/><path fill="#76afde" stroke="#76afde" d="M229.1 230.3l0.7 -1.5 -0.3 -6.2 -0.7 1.6z"/><path fill="#7eb3e0" stroke="#7eb3e0" d="M229.7 228.8l0.7 -1.5 -0.3 -6.3 -0.7 1.6z"/><path fill="#85b8e1" stroke="#85b8e1" d="M230.4 227.3l0.7 -1.6 -0.3 -6.4 -0.7 1.7z"/><path fill="#8cbce3" stroke="#8cbce3" d="M231.1 225.7l0.7 -1.7 -0.3 -6.4 -0.7 1.7z"/><path fill="#97c3e6" stroke="#97c3e6" d="M231.8 224.0l0.7 -3.2 -0.3 -6.5 -0.7 3.3z"/><path fill="#aaceea" stroke="#aaceea" d="M232.5 220.9l0.7 -4.2 -0.3 -6.7 -0.7 4.4z"/><path fill="#c3dcef" stroke="#c3dcef" d="M233.2 216.7l0.7 -4.2 -0.3 -6.9 -0.7 4.4z"/><path fill="#e3ebf3" stroke="#e3ebf3" d="M233.9 212.5l0.7 -4.6 -0.3 -7.1 -0.7 4.8z"/><path fill="#f5e4dd" stroke="#f5e4dd" d="M234.5 207.8l0.7 -5.9 -0.3 -7.5 -0.7 6.2z"/><path fill="#f9c8b2" stroke="#f9c8b2" d="M235.2 202.0l0.7 -5.9 -0.3 -7.8 -0.7 6.2z"/><path fill="#f4a68a" stroke="#f4a68a" d="M235.9 196.1l0.7 -6.0 -0.3 -8.1 -0.7 6.3z"/><path fill="#ec7f63" stroke="#ec7f63" d="M236.6 190.1l0.7 -6.1 -0.3 -8.5 -0.7 6.5z"/><path fill="#e0533f" stroke="#e0533f" d="M237.3 184.0l0.7 -6.3 -0.4 -8.8 -0.7 6.6z"/><path fill="#c93530" stroke="#c93530" d="M238.0 177.7l0.7 -6.0 -0.4 -9.1 -0.7 6.3z"/><path fill="#b41f26" stroke="#b41f26" d="M238.7 171.7l0.7 -4.5 -0.4 -9.3 -0.7 4.6z"/><path fill="#a11821" stroke="#a11821" d="M239.3 167.3l0.7 -4.3 -0.4 -9.5 -0.7 4.5z"/><path fill="#95141e" stroke="#95141e" d="M240.0 163.0l0.7 -1.2 -0.4 -9.5 -0.7 1.3z"/><path fill="#92131e" stroke="#92131e" d="M240.7 161.8l0.7 -0.4 -0.4 -9.5 -0.7 0.4z"/><path fill="#95141f" stroke="#95141f" d="M241.4 161.4l0.7 1.1 -0.4 -9.4 -0.7 -1.2z"/><path fill="#a51922" stroke="#a51922" d="M242.1 162.4l0.7 3.8 -0.4 -9.2 -0.7 -4.0z"/><path fill="#bb2629" stroke="#bb2629" d="M242.8 166.2l0.7 5.6 -0.4 -8.8 -0.7 -6.0z"/><path fill="#d24035" stroke="#d24035" d="M243.5 171.8l0.7 6.5 -0.4 -8.4 -0.7 -7.0z"/><path fill="#e66c53" stroke="#e66c53" d="M244.1 178.4l0.7 8.4 -0.4 -7.8 -0.7 -8.9z"/><path fill="#f4a589" stroke="#f4a589" d="M244.8 186.7l0.7 8.5 -0.4 -7.4 -0.7 -8.9z"/><path fill="#f8d4c4" stroke="#f8d4c4" d="M245.5 195.2l0.7 8.1 -0.5 -6.9 -0.7 -8.6z"/><path fill="#edf0f4" stroke="#edf0f4" d="M246.2 203.3l0.7 7.9 -0.5 -6.4 -0.7 -8.4z"/><path fill="#bed9ef" stroke="#bed9ef" d="M246.9 211.3l0.7 5.9 -0.5 -6.1 -0.7 -6.2z"/><path fill="#a0c8e8" stroke="#a0c8e8" d="M247.6 217.1l0.7 4.7 -0.5 -5.8 -0.7 -5.0z"/><path fill="#90bfe4" stroke="#90bfe4" d="M248.3 221.9l0.7 1.6 -0.5 -5.9 -0.7 -1.6z"/><path fill="#8ebde4" stroke="#8ebde4" d="M248.9 223.5l0.7 1.7 -0.5 -5.9 -0.7 -1.6z"/><path fill="#90bfe4" stroke="#90bfe4" d="M249.6 225.1l0.7 -1.1 -0.5 -6.1 -0.7 1.3z"/><path fill="#95c2e5" stroke="#95c2e5" d="M250.3 224.0l0.7 -1.3 -0.5 -6.2 -0.7 1.4z"/><path fill="#99c4e6" stroke="#99c4e6" d="M251.0 222.7l0.7 -1.3 -0.5 -6.3 -0.7 1.4z"/><path fill="#9cc5e7" stroke="#9cc5e7" d="M251.7 221.4l0.2 -0.4 -0.5 -6.3 -0.2 0.5z"/><path fill="#9ac4e7" stroke="#9ac4e7" d="M251.9 221.0l1.4 -1.1 -0.5 -6.5 -1.4 1.2z"/><path fill="#98c3e6" stroke="#98c3e6" d="M253.3 219.9l1.4 -0.6 -0.6 -6.5 -1.4 0.7z"/><path fill="#9ac4e6" stroke="#9ac4e6" d="M254.7 219.3l1.4 0.4 -0.6 -6.5 -1.4 -0.5z"/><path fill="#9dc6e7" stroke="#9dc6e7" d="M256.0 219.7l1.4 -0.3 -0.6 -6.5 -1.4 0.4z"/><path fill="#9fc8e8" stroke="#9fc8e8" d="M257.4 219.4l1.4 -0.9 -0.6 -6.6 -1.4 1.0z"/><path fill="#a1c9e8" stroke="#a1c9e8" d="M258.8 218.4l1.4 -1.1 -0.6 -6.7 -1.4 1.2z"/><path fill="#aaceea" stroke="#aaceea" d="M260.1 217.3l1.4 -1.4 -0.6 -6.8 -1.4 1.5z"/><path fill="#b8d6ee" stroke="#b8d6ee" d="M261.5 215.9l1.4 -1.5 -0.7 -7.0 -1.4 1.6z"/><path fill="#cadff0" stroke="#cadff0" d="M262.9 214.5l1.4 -1.0 -0.7 -7.0 -1.4 1.1z"/><path fill="#d8e6f2" stroke="#d8e6f2" d="M264.3 213.4l1.4 -1.0 -0.7 -7.1 -1.4 1.0z"/><path fill="#e7edf4" stroke="#e7edf4" d="M265.6 212.4l1.4 -0.9 -0.7 -7.1 -1.4 1.0z"/><path fill="#f3f2f3" stroke="#f3f2f3" d="M267.0 211.5l1.4 -0.6 -0.7 -7.2 -1.4 0.6z"/><path fill="#f4ebe8" stroke="#f4ebe8" d="M268.4 210.9l1.4 -0.3 -0.8 -7.1 -1.4 0.2z"/><path fill="#f5e6df" stroke="#f5e6df" d="M269.8 210.7l1.4 -0.0 -0.8 -7.1 -1.4 -0.0z"/><path fill="#f5e7e3" stroke="#f5e7e3" d="M271.1 210.7l1.4 1.0 -0.8 -7.0 -1.4 -1.1z"/><path fill="#f4efef" stroke="#f4efef" d="M272.5 211.7l1.4 0.9 -0.8 -6.9 -1.4 -1.0z"/><path fill="#e4ecf3" stroke="#e4ecf3" d="M273.9 212.6l1.4 2.3 -0.8 -6.7 -1.4 -2.5z"/><path fill="#cfe2f1" stroke="#cfe2f1" d="M275.2 214.9l1.4 2.5 -0.8 -6.5 -1.4 -2.7z"/><path fill="#c3dcef" stroke="#c3dcef" d="M276.6 217.4l1.4 2.6 -0.9 -6.2 -1.4 -2.9z"/><path fill="#b8d7ee" stroke="#b8d7ee" d="M278.0 220.0l1.4 2.9 -0.9 -6.0 -1.4 -3.1z"/><path fill="#aed0eb" stroke="#aed0eb" d="M279.4 222.9l1.4 2.1 -0.9 -5.8 -1.4 -2.3z"/><path fill="#aaceea" stroke="#aaceea" d="M280.7 225.0l1.4 1.2 -0.9 -5.7 -1.4 -1.3z"/><path fill="#afd1ec" stroke="#afd1ec" d="M282.1 226.2l0.3 0.2 -0.9 -5.7 -0.3 -0.3z"/><path fill="#b4d4ed" stroke="#b4d4ed" d="M282.4 226.4l2.3 0.5 -0.9 -5.6 -2.3 -0.6z"/><path fill="#b3d4ed" stroke="#b3d4ed" d="M284.7 226.9l2.3 -0.1 -1.0 -5.6 -2.3 0.1z"/><path fill="#b3d3ec" stroke="#b3d3ec" d="M287.0 226.8l2.3 -0.1 -1.0 -5.6 -2.3 0.1z"/><path fill="#b5d4ed" stroke="#b5d4ed" d="M289.3 226.8l2.3 -0.1 -1.0 -5.6 -2.3 0.1z"/><path fill="#b5d5ed" stroke="#b5d5ed" d="M291.5 226.7l2.3 -0.1 -1.1 -5.5 -2.3 0.1z"/><path fill="#b5d5ed" stroke="#b5d5ed" d="M293.8 226.6l2.3 -0.1 -1.1 -5.5 -2.3 0.1z"/><path fill="#b6d5ed" stroke="#b6d5ed" d="M296.1 226.5l2.3 -0.0 -1.1 -5.5 -2.3 0.0z"/><path fill="#b5d4ed" stroke="#b5d4ed" d="M298.4 226.5l2.3 -0.1 -1.1 -5.5 -2.3 0.1z"/><path fill="#b0d2ec" stroke="#b0d2ec" d="M300.7 226.4l2.3 -0.2 -1.2 -5.5 -2.3 0.1z"/><path fill="#add0eb" stroke="#add0eb" d="M303.0 226.2l2.3 -0.2 -1.2 -5.5 -2.3 0.2z"/><path fill="#aed1eb" stroke="#aed1eb" d="M305.3 226.1l2.3 -0.3 -1.2 -5.5 -2.3 0.3z"/><path fill="#b0d1ec" stroke="#b0d1ec" d="M307.5 225.8l2.3 -0.3 -1.3 -5.4 -2.3 0.2z"/><path fill="#b1d2ec" stroke="#b1d2ec" d="M309.8 225.5l2.3 -0.2 -1.3 -5.5 -2.3 0.2z"/><path fill="#afd1ec" stroke="#afd1ec" d="M312.1 225.3l2.3 -0.2 -1.3 -5.5 -2.3 0.2z"/><path fill="#aaceea" stroke="#aaceea" d="M314.4 225.1l2.3 -0.2 -1.3 -5.5 -2.3 0.2z"/><path fill="#aaceea" stroke="#aaceea" d="M316.7 224.9l2.3 -0.2 -1.4 -5.5 -2.3 0.2z"/><path fill="#b1d2ec" stroke="#b1d2ec" d="M319.0 224.7l2.3 -0.2 -1.4 -5.5 -2.3 0.2z"/><path fill="#b6d5ed" stroke="#b6d5ed" d="M321.3 224.5l2.3 -0.2 -1.4 -5.5 -2.3 0.2z"/><path fill="#b4d4ed" stroke="#b4d4ed" d="M323.5 224.3l2.3 -0.2 -1.5 -5.4 -2.3 0.2z"/><path fill="#b3d3ed" stroke="#b3d3ed" d="M325.8 224.0l2.3 -0.2 -1.5 -5.4 -2.3 0.2z"/><path fill="#b5d5ed" stroke="#b5d5ed" d="M328.1 223.8l2.3 -0.2 -1.5 -5.4 -2.3 0.2z"/><path fill="#b6d5ed" stroke="#b6d5ed" d="M330.4 223.6l2.3 -0.2 -1.5 -5.4 -2.3 0.2z"/><path fill="#b7d6ed" stroke="#b7d6ed" d="M332.7 223.4l2.3 -0.4 -1.6 -5.4 -2.3 0.4z"/><path fill="#b8d7ee" stroke="#b8d7ee" d="M335.0 223.0l2.3 -0.7 -1.6 -5.5 -2.3 0.7z"/><path fill="#bad7ee" stroke="#bad7ee" d="M337.3 222.3l2.3 -0.6 -1.6 -5.5 -2.3 0.6z"/><path fill="#b9d7ee" stroke="#b9d7ee" d="M339.6 221.7l2.3 -0.4 -1.7 -5.6 -2.3 0.5z"/><path fill="#b8d6ee" stroke="#b8d6ee" d="M341.8 221.3l2.3 -0.4 -1.7 -5.7 -2.3 0.5z"/><path fill="#b7d6ed" stroke="#b7d6ed" d="M344.1 220.9l2.3 -0.8 -1.7 -5.6 -2.3 0.8z"/><path fill="#b4d4ed" stroke="#b4d4ed" d="M346.4 220.1l2.3 -1.1 -1.7 -5.5 -2.3 0.9z"/><path fill="#b4d4ed" stroke="#b4d4ed" d="M348.7 219.0l2.3 -0.8 -1.8 -5.5 -2.3 0.8z"/><path fill="#b7d6ed" stroke="#b7d6ed" d="M351.0 218.2l2.3 -0.8 -1.8 -5.4 -2.3 0.8z"/><path fill="#b8d6ee" stroke="#b8d6ee" d="M353.3 217.4l2.3 -0.9 -1.8 -5.4 -2.3 0.8z"/><path fill="#b6d5ed" stroke="#b6d5ed" d="M355.6 216.5l2.3 -0.9 -1.9 -5.3 -2.3 0.8z"/><path fill="#b5d5ed" stroke="#b5d5ed" d="M357.8 215.6l0.8 -0.3 -1.9 -5.3 -0.8 0.3z"/><path fill="#3478c6" stroke="#3478c6" d="M129.0 255.8l2.3 1.1 1.0 -5.6 -2.3 -1.1z"/><path fill="#3377c5" stroke="#3377c5" d="M131.3 256.9l2.3 -1.0 0.9 -5.5 -2.3 0.9z"/><path fill="#3073c2" stroke="#3073c2" d="M133.6 255.9l2.3 0.5 0.9 -5.6 -2.3 -0.4z"/><path fill="#2f72c2" stroke="#2f72c2" d="M135.9 256.4l2.3 0.5 0.9 -5.4 -2.3 -0.6z"/><path fill="#3275c4" stroke="#3275c4" d="M138.3 256.9l2.3 0.2 0.9 -5.4 -2.3 -0.2z"/><path fill="#3376c5" stroke="#3376c5" d="M140.6 257.1l2.3 -0.0 0.8 -5.5 -2.3 0.1z"/><path fill="#3275c4" stroke="#3275c4" d="M142.9 257.0l2.3 0.3 0.8 -5.4 -2.3 -0.4z"/><path fill="#3275c4" stroke="#3275c4" d="M145.2 257.3l2.3 -1.0 0.8 -5.4 -2.3 1.0z"/><path fill="#3477c5" stroke="#3477c5" d="M147.5 256.3l2.3 0.7 0.7 -5.3 -2.3 -0.8z"/><path fill="#3478c6" stroke="#3478c6" d="M149.8 257.0l2.3 -0.6 0.7 -5.4 -2.3 0.7z"/><path fill="#3276c4" stroke="#3276c4" d="M152.1 256.4l2.3 -0.1 0.7 -5.5 -2.3 0.2z"/><path fill="#3175c3" stroke="#3175c3" d="M154.5 256.3l2.3 0.2 0.7 -5.4 -2.3 -0.3z"/><path fill="#3276c4" stroke="#3276c4" d="M156.8 256.5l2.3 -0.5 0.6 -5.4 -2.3 0.5z"/><path fill="#3478c6" stroke="#3478c6" d="M159.1 256.0l2.3 0.6 0.6 -5.5 -2.3 -0.5z"/><path fill="#367ac7" stroke="#367ac7" d="M161.4 256.6l2.3 -1.4 0.6 -5.5 -2.3 1.4z"/><path fill="#367bc8" stroke="#367bc8" d="M163.7 255.2l2.3 0.4 0.5 -5.5 -2.3 -0.4z"/><path fill="#3579c7" stroke="#3579c7" d="M166.0 255.7l2.3 -0.3 0.5 -5.5 -2.3 0.3z"/><path fill="#3478c6" stroke="#3478c6" d="M168.3 255.3l2.3 0.2 0.5 -5.6 -2.3 -0.2z"/><path fill="#3579c7" stroke="#3579c7" d="M170.7 255.6l2.3 -0.6 0.5 -5.6 -2.3 0.6z"/><path fill="#377cc8" stroke="#377cc8" d="M173.0 255.0l2.3 -0.3 0.4 -5.7 -2.3 0.4z"/><path fill="#397eca" stroke="#397eca" d="M175.3 254.6l2.3 0.2 0.4 -5.6 -2.3 -0.3z"/><path fill="#3f85ce" stroke="#3f85ce" d="M177.6 254.8l2.3 0.5 0.4 -5.8 -2.3 -0.2z"/><path fill="#3c82cd" stroke="#3c82cd" d="M179.9 255.3l2.3 -0.7 0.3 -5.5 -2.3 0.4z"/><path fill="#377bc8" stroke="#377bc8" d="M182.2 254.6l2.3 -0.7 0.3 -5.6 -2.3 0.7z"/><path fill="#377cc9" stroke="#377cc9" d="M184.6 254.0l2.3 -0.4 0.3 -5.5 -2.3 0.4z"/><path fill="#387dc9" stroke="#387dc9" d="M186.9 253.6l2.3 -0.0 0.3 -5.5 -2.3 -0.0z"/><path fill="#367bc8" stroke="#367bc8" d="M189.2 253.5l2.3 0.1 0.2 -5.6 -2.3 0.0z"/><path fill="#3579c7" stroke="#3579c7" d="M191.5 253.6l2.3 0.2 0.2 -5.6 -2.3 -0.2z"/><path fill="#3579c7" stroke="#3579c7" d="M193.8 253.8l2.3 -0.8 0.2 -5.5 -2.3 0.7z"/><path fill="#3579c7" stroke="#3579c7" d="M196.1 252.9l2.3 -0.6 0.1 -5.5 -2.3 0.6z"/><path fill="#3478c6" stroke="#3478c6" d="M198.4 252.3l2.3 -0.5 0.1 -5.5 -2.3 0.5z"/><path fill="#3579c6" stroke="#3579c6" d="M200.8 251.8l2.3 0.4 0.1 -5.5 -2.3 -0.4z"/><path fill="#377cc8" stroke="#377cc8" d="M203.1 252.3l2.3 -0.1 0.1 -5.5 -2.3 0.1z"/><path fill="#387dca" stroke="#387dca" d="M205.4 252.2l2.3 -0.7 0.0 -5.4 -2.3 0.5z"/><path fill="#397eca" stroke="#397eca" d="M207.7 251.5l2.3 0.3 -0.0 -5.5 -2.3 -0.2z"/><path fill="#3a7fcb" stroke="#3a7fcb" d="M210.0 251.8l2.3 -2.5 -0.0 -5.5 -2.3 2.5z"/><path fill="#3a80cb" stroke="#3a80cb" d="M212.3 249.3l2.3 -0.9 -0.1 -5.6 -2.3 1.0z"/><path fill="#3b80cc" stroke="#3b80cc" d="M214.6 248.4l2.3 -1.3 -0.1 -5.7 -2.3 1.4z"/><path fill="#3d83cd" stroke="#3d83cd" d="M217.0 247.1l2.3 -1.3 -0.1 -5.8 -2.3 1.4z"/><path fill="#468ad0" stroke="#468ad0" d="M219.3 245.8l2.3 -1.7 -0.1 -5.8 -2.3 1.7z"/><path fill="#4e91d2" stroke="#4e91d2" d="M221.6 244.1l2.3 -1.3 -0.2 -6.0 -2.3 1.5z"/><path fill="#5797d5" stroke="#5797d5" d="M223.9 242.8l2.3 -2.4 -0.2 -6.1 -2.3 2.5z"/><path fill="#62a0d8" stroke="#62a0d8" d="M226.2 240.4l2.3 -3.0 -0.2 -6.2 -2.3 3.1z"/><path fill="#68a5da" stroke="#68a5da" d="M228.5 237.4l0.8 -1.0 -0.2 -6.1 -0.8 0.9z"/><path fill="#6ba7db" stroke="#6ba7db" d="M229.3 236.4l0.7 -1.4 -0.3 -6.2 -0.7 1.5z"/><path fill="#71acdd" stroke="#71acdd" d="M230.0 235.0l0.7 -1.4 -0.3 -6.3 -0.7 1.5z"/><path fill="#77afde" stroke="#77afde" d="M230.7 233.6l0.7 -1.6 -0.3 -6.4 -0.7 1.6z"/><path fill="#7eb4e0" stroke="#7eb4e0" d="M231.4 232.1l0.7 -1.6 -0.3 -6.4 -0.7 1.7z"/><path fill="#89bae2" stroke="#89bae2" d="M232.1 230.5l0.7 -3.1 -0.3 -6.5 -0.7 3.2z"/><path fill="#9ac4e7" stroke="#9ac4e7" d="M232.8 227.4l0.7 -4.0 -0.3 -6.7 -0.7 4.2z"/><path fill="#b0d2ec" stroke="#b0d2ec" d="M233.5 223.4l0.7 -4.0 -0.3 -6.9 -0.7 4.2z"/><path fill="#cee1f1" stroke="#cee1f1" d="M234.2 219.4l0.7 -4.4 -0.3 -7.1 -0.7 4.6z"/><path fill="#f3f2f3" stroke="#f3f2f3" d="M234.9 215.0l0.7 -5.5 -0.3 -7.5 -0.7 5.9z"/><path fill="#f7d9cb" stroke="#f7d9cb" d="M235.6 209.4l0.7 -5.5 -0.3 -7.8 -0.7 5.9z"/><path fill="#f7bca4" stroke="#f7bca4" d="M236.2 203.9l0.7 -5.7 -0.3 -8.1 -0.7 6.0z"/><path fill="#f2997b" stroke="#f2997b" d="M236.9 198.2l0.7 -5.8 -0.3 -8.5 -0.7 6.1z"/><path fill="#e87057" stroke="#e87057" d="M237.6 192.5l0.7 -6.0 -0.4 -8.8 -0.7 6.3z"/><path fill="#d94738" stroke="#d94738" d="M238.3 186.5l0.7 -5.7 -0.4 -9.1 -0.7 6.0z"/><path fill="#c6322f" stroke="#c6322f" d="M239.0 180.8l0.7 -4.3 -0.4 -9.3 -0.7 4.5z"/><path fill="#b72127" stroke="#b72127" d="M239.7 176.5l0.7 -4.1 -0.4 -9.5 -0.7 4.3z"/><path fill="#ad1b24" stroke="#ad1b24" d="M240.4 172.5l0.7 -1.2 -0.4 -9.5 -0.7 1.2z"/><path fill="#a91a23" stroke="#a91a23" d="M241.1 171.3l0.7 -0.5 -0.4 -9.5 -0.7 0.4z"/><path fill="#ac1b24" stroke="#ac1b24" d="M241.8 170.9l0.7 1.0 -0.4 -9.4 -0.7 -1.1z"/><path fill="#b92428" stroke="#b92428" d="M242.5 171.8l0.7 3.6 -0.4 -9.2 -0.7 -3.8z"/><path fill="#cb3831" stroke="#cb3831" d="M243.2 175.4l0.7 5.2 -0.4 -8.8 -0.7 -5.6z"/><path fill="#df513e" stroke="#df513e" d="M243.9 180.6l0.7 6.1 -0.4 -8.4 -0.7 -6.5z"/><path fill="#ed8366" stroke="#ed8366" d="M244.6 186.7l0.7 7.8 -0.4 -7.8 -0.7 -8.4z"/><path fill="#f6b79d" stroke="#f6b79d" d="M245.3 194.6l0.7 8.0 -0.4 -7.4 -0.7 -8.5z"/><path fill="#f6dfd6" stroke="#f6dfd6" d="M246.0 202.6l0.7 7.7 -0.5 -6.9 -0.7 -8.1z"/><path fill="#dee9f2" stroke="#dee9f2" d="M246.7 210.3l0.7 7.4 -0.5 -6.4 -0.7 -7.9z"/><path fill="#b3d4ed" stroke="#b3d4ed" d="M247.4 217.7l0.7 5.5 -0.5 -6.1 -0.7 -5.9z"/><path fill="#98c3e6" stroke="#98c3e6" d="M248.1 223.2l0.7 4.5 -0.5 -5.8 -0.7 -4.7z"/><path fill="#88bae2" stroke="#88bae2" d="M248.7 227.7l0.7 1.6 -0.5 -5.9 -0.7 -1.6z"/><path fill="#86b8e2" stroke="#86b8e2" d="M249.4 229.3l0.7 1.7 -0.5 -5.9 -0.7 -1.7z"/><path fill="#89bae2" stroke="#89bae2" d="M250.1 231.0l0.7 -1.0 -0.5 -6.1 -0.7 1.1z"/><path fill="#8ebde4" stroke="#8ebde4" d="M250.8 230.1l0.7 -1.1 -0.5 -6.2 -0.7 1.3z"/><path fill="#91bfe4" stroke="#91bfe4" d="M251.5 228.9l0.7 -1.2 -0.5 -6.3 -0.7 1.3z"/><path fill="#94c1e5" stroke="#94c1e5" d="M252.2 227.7l0.2 -0.4 -0.5 -6.3 -0.2 0.4z"/><path fill="#92bfe5" stroke="#92bfe5" d="M252.4 227.3l1.4 -1.0 -0.5 -6.5 -1.4 1.1z"/><path fill="#8fbee4" stroke="#8fbee4" d="M253.8 226.3l1.4 -0.5 -0.6 -6.5 -1.4 0.6z"/><path fill="#91bfe4" stroke="#91bfe4" d="M255.2 225.8l1.4 0.4 -0.6 -6.5 -1.4 -0.4z"/><path fill="#95c1e5" stroke="#95c1e5" d="M256.6 226.1l1.4 -0.2 -0.6 -6.5 -1.4 0.3z"/><path fill="#97c2e6" stroke="#97c2e6" d="M258.0 225.9l1.4 -0.9 -0.6 -6.6 -1.4 0.9z"/><path fill="#98c3e6" stroke="#98c3e6" d="M259.4 225.0l1.4 -1.0 -0.6 -6.7 -1.4 1.1z"/><path fill="#a0c8e8" stroke="#a0c8e8" d="M260.8 224.0l1.4 -1.2 -0.6 -6.8 -1.4 1.4z"/><path fill="#aed0eb" stroke="#aed0eb" d="M262.2 222.8l1.4 -1.4 -0.7 -7.0 -1.4 1.5z"/><path fill="#bdd9ee" stroke="#bdd9ee" d="M263.6 221.4l1.4 -1.0 -0.7 -7.0 -1.4 1.0z"/><path fill="#cadff0" stroke="#cadff0" d="M264.9 220.5l1.4 -0.9 -0.7 -7.1 -1.4 1.0z"/><path fill="#d7e5f2" stroke="#d7e5f2" d="M266.3 219.5l1.4 -0.9 -0.7 -7.1 -1.4 0.9z"/><path fill="#e4ecf3" stroke="#e4ecf3" d="M267.7 218.6l1.4 -0.5 -0.7 -7.2 -1.4 0.6z"/><path fill="#eef1f4" stroke="#eef1f4" d="M269.1 218.1l1.4 -0.3 -0.8 -7.1 -1.4 0.3z"/><path fill="#f3f1f1" stroke="#f3f1f1" d="M270.5 217.8l1.4 -0.0 -0.8 -7.1 -1.4 0.0z"/><path fill="#f3f2f3" stroke="#f3f2f3" d="M271.9 217.8l1.4 0.9 -0.8 -7.0 -1.4 -1.0z"/><path fill="#e9eef4" stroke="#e9eef4" d="M273.3 218.7l1.4 0.8 -0.8 -6.9 -1.4 -0.9z"/><path fill="#d6e5f1" stroke="#d6e5f1" d="M274.7 219.5l1.4 2.1 -0.8 -6.7 -1.4 -2.3z"/><path fill="#c2dcef" stroke="#c2dcef" d="M276.1 221.6l1.4 2.3 -0.8 -6.5 -1.4 -2.5z"/><path fill="#b8d6ee" stroke="#b8d6ee" d="M277.4 223.9l1.4 2.4 -0.9 -6.2 -1.4 -2.6z"/><path fill="#b0d1ec" stroke="#b0d1ec" d="M278.8 226.2l1.4 2.7 -0.9 -6.0 -1.4 -2.9z"/><path fill="#a6cbe9" stroke="#a6cbe9" d="M280.2 228.9l1.4 1.9 -0.9 -5.8 -1.4 -2.1z"/><path fill="#a2c9e8" stroke="#a2c9e8" d="M281.6 230.8l1.4 1.1 -0.9 -5.7 -1.4 -1.2z"/><path fill="#a7ccea" stroke="#a7ccea" d="M283.0 231.9l0.3 0.2 -0.9 -5.7 -0.3 -0.2z"/><path fill="#accfeb" stroke="#accfeb" d="M283.3 232.1l2.3 0.4 -0.9 -5.6 -2.3 -0.5z"/><path fill="#accfeb" stroke="#accfeb" d="M285.6 232.5l2.3 -0.1 -1.0 -5.6 -2.3 0.1z"/><path fill="#abcfeb" stroke="#abcfeb" d="M287.9 232.4l2.3 -0.1 -1.0 -5.6 -2.3 0.1z"/><path fill="#add0eb" stroke="#add0eb" d="M290.3 232.3l2.3 -0.1 -1.0 -5.6 -2.3 0.1z"/><path fill="#add0eb" stroke="#add0eb" d="M292.6 232.3l2.3 -0.2 -1.1 -5.5 -2.3 0.1z"/><path fill="#aed0eb" stroke="#aed0eb" d="M294.9 232.1l2.3 -0.1 -1.1 -5.5 -2.3 0.1z"/><path fill="#afd1eb" stroke="#afd1eb" d="M297.2 232.0l2.3 -0.0 -1.1 -5.5 -2.3 0.0z"/><path fill="#add0eb" stroke="#add0eb" d="M299.5 232.0l2.3 -0.1 -1.1 -5.5 -2.3 0.1z"/><path fill="#a9cdea" stroke="#a9cdea" d="M301.8 231.9l2.3 -0.2 -1.2 -5.5 -2.3 0.2z"/><path fill="#a5cbe9" stroke="#a5cbe9" d="M304.1 231.7l2.3 -0.1 -1.2 -5.5 -2.3 0.2z"/><path fill="#a6ccea" stroke="#a6ccea" d="M306.5 231.5l2.3 -0.3 -1.2 -5.5 -2.3 0.3z"/><path fill="#a8cdea" stroke="#a8cdea" d="M308.8 231.2l2.3 -0.3 -1.3 -5.4 -2.3 0.3z"/><path fill="#a9cdea" stroke="#a9cdea" d="M311.1 231.0l2.3 -0.2 -1.3 -5.5 -2.3 0.2z"/><path fill="#a7ccea" stroke="#a7ccea" d="M313.4 230.8l2.3 -0.2 -1.3 -5.5 -2.3 0.2z"/><path fill="#a2c9e8" stroke="#a2c9e8" d="M315.7 230.6l2.3 -0.2 -1.3 -5.5 -2.3 0.2z"/><path fill="#a2c9e8" stroke="#a2c9e8" d="M318.0 230.4l2.3 -0.2 -1.4 -5.5 -2.3 0.2z"/><path fill="#a9cdea" stroke="#a9cdea" d="M320.3 230.2l2.3 -0.3 -1.4 -5.5 -2.3 0.2z"/><path fill="#afd1ec" stroke="#afd1ec" d="M322.7 229.9l2.3 -0.2 -1.4 -5.5 -2.3 0.2z"/><path fill="#add0eb" stroke="#add0eb" d="M325.0 229.7l2.3 -0.2 -1.5 -5.4 -2.3 0.2z"/><path fill="#abcfeb" stroke="#abcfeb" d="M327.3 229.5l2.3 -0.2 -1.5 -5.4 -2.3 0.2z"/><path fill="#aed0eb" stroke="#aed0eb" d="M329.6 229.2l2.3 -0.2 -1.5 -5.4 -2.3 0.2z"/><path fill="#afd1ec" stroke="#afd1ec" d="M331.9 229.0l2.3 -0.2 -1.5 -5.4 -2.3 0.2z"/><path fill="#afd1ec" stroke="#afd1ec" d="M334.2 228.8l2.3 -0.4 -1.6 -5.4 -2.3 0.4z"/><path fill="#b1d2ec" stroke="#b1d2ec" d="M336.5 228.4l2.3 -0.6 -1.6 -5.5 -2.3 0.7z"/><path fill="#b3d3ed" stroke="#b3d3ed" d="M338.9 227.8l2.3 -0.6 -1.6 -5.5 -2.3 0.6z"/><path fill="#b2d3ec" stroke="#b2d3ec" d="M341.2 227.2l2.3 -0.3 -1.7 -5.6 -2.3 0.4z"/><path fill="#b1d2ec" stroke="#b1d2ec" d="M343.5 226.9l2.3 -0.3 -1.7 -5.7 -2.3 0.4z"/><path fill="#afd1ec" stroke="#afd1ec" d="M345.8 226.5l2.3 -0.8 -1.7 -5.6 -2.3 0.8z"/><path fill="#accfeb" stroke="#accfeb" d="M348.1 225.7l2.3 -1.2 -1.7 -5.5 -2.3 1.1z"/><path fill="#add0eb" stroke="#add0eb" d="M350.4 224.5l2.3 -0.8 -1.8 -5.5 -2.3 0.8z"/><path fill="#afd1ec" stroke="#afd1ec" d="M352.8 223.7l2.3 -0.8 -1.8 -5.4 -2.3 0.8z"/><path fill="#b1d2ec" stroke="#b1d2ec" d="M355.1 222.8l2.3 -1.0 -1.8 -5.4 -2.3 0.9z"/><path fill="#afd1ec" stroke="#afd1ec" d="M357.4 221.8l2.3 -0.9 -1.9 -5.3 -2.3 0.9z"/><path fill="#aed0eb" stroke="#aed0eb" d="M359.7 220.9l0.8 -0.3 -1.9 -5.3 -0.8 0.3z"/><path fill="#3175c3" stroke="#3175c3" d="M128.0 261.4l2.3 1.0 1.0 -5.6 -2.3 -1.1z"/><path fill="#3073c2" stroke="#3073c2" d="M130.3 262.4l2.3 -1.1 0.9 -5.5 -2.3 1.0z"/><path fill="#2d6fbf" stroke="#2d6fbf" d="M132.7 261.4l2.3 0.6 0.9 -5.6 -2.3 -0.5z"/><path fill="#2c6ebf" stroke="#2c6ebf" d="M135.0 262.0l2.3 0.4 0.9 -5.4 -2.3 -0.5z"/><path fill="#2e71c1" stroke="#2e71c1" d="M137.4 262.3l2.3 0.2 0.9 -5.4 -2.3 -0.2z"/><path fill="#2f72c2" stroke="#2f72c2" d="M139.7 262.5l2.3 -0.0 0.8 -5.5 -2.3 0.0z"/><path fill="#2e71c1" stroke="#2e71c1" d="M142.1 262.5l2.3 0.2 0.8 -5.4 -2.3 -0.3z"/><path fill="#2f71c1" stroke="#2f71c1" d="M144.4 262.7l2.3 -0.9 0.8 -5.4 -2.3 1.0z"/><path fill="#3074c3" stroke="#3074c3" d="M146.7 261.8l2.3 0.6 0.7 -5.3 -2.3 -0.7z"/><path fill="#3174c3" stroke="#3174c3" d="M149.1 262.4l2.3 -0.6 0.7 -5.4 -2.3 0.6z"/><path fill="#2f72c1" stroke="#2f72c1" d="M151.4 261.8l2.3 0.0 0.7 -5.5 -2.3 0.1z"/><path fill="#2e71c1" stroke="#2e71c1" d="M153.8 261.8l2.3 0.1 0.7 -5.4 -2.3 -0.2z"/><path fill="#2f71c1" stroke="#2f71c1" d="M156.1 261.9l2.3 -0.5 0.6 -5.4 -2.3 0.5z"/><path fill="#3174c3" stroke="#3174c3" d="M158.5 261.4l2.3 0.7 0.6 -5.5 -2.3 -0.6z"/><path fill="#3376c5" stroke="#3376c5" d="M160.8 262.1l2.3 -1.3 0.6 -5.5 -2.3 1.4z"/><path fill="#3377c5" stroke="#3377c5" d="M163.2 260.8l2.3 0.4 0.5 -5.5 -2.3 -0.4z"/><path fill="#3275c4" stroke="#3275c4" d="M165.5 261.2l2.3 -0.3 0.5 -5.5 -2.3 0.3z"/><path fill="#3174c3" stroke="#3174c3" d="M167.8 260.9l2.3 0.3 0.5 -5.6 -2.3 -0.2z"/><path fill="#3276c4" stroke="#3276c4" d="M170.2 261.1l2.3 -0.5 0.5 -5.6 -2.3 0.6z"/><path fill="#3478c6" stroke="#3478c6" d="M172.5 260.6l2.3 -0.3 0.4 -5.7 -2.3 0.3z"/><path fill="#367bc8" stroke="#367bc8" d="M174.9 260.3l2.3 0.1 0.4 -5.6 -2.3 -0.2z"/><path fill="#3b80cc" stroke="#3b80cc" d="M177.2 260.4l2.3 0.7 0.4 -5.8 -2.3 -0.5z"/><path fill="#397eca" stroke="#397eca" d="M179.6 261.2l2.3 -1.0 0.3 -5.5 -2.3 0.7z"/><path fill="#3377c5" stroke="#3377c5" d="M181.9 260.2l2.3 -0.6 0.3 -5.6 -2.3 0.7z"/><path fill="#3478c6" stroke="#3478c6" d="M184.2 259.5l2.3 -0.4 0.3 -5.5 -2.3 0.4z"/><path fill="#3579c7" stroke="#3579c7" d="M186.6 259.1l2.3 -0.1 0.3 -5.5 -2.3 0.0z"/><path fill="#3377c5" stroke="#3377c5" d="M188.9 259.1l2.3 0.2 0.2 -5.6 -2.3 -0.1z"/><path fill="#3275c4" stroke="#3275c4" d="M191.3 259.2l2.3 0.1 0.2 -5.6 -2.3 -0.2z"/><path fill="#3275c4" stroke="#3275c4" d="M193.6 259.4l2.3 -0.9 0.2 -5.5 -2.3 0.8z"/><path fill="#3275c4" stroke="#3275c4" d="M196.0 258.4l2.3 -0.6 0.1 -5.5 -2.3 0.6z"/><path fill="#3174c3" stroke="#3174c3" d="M198.3 257.8l2.3 -0.4 0.1 -5.5 -2.3 0.5z"/><path fill="#3175c3" stroke="#3175c3" d="M200.6 257.4l2.3 0.4 0.1 -5.5 -2.3 -0.4z"/><path fill="#3478c6" stroke="#3478c6" d="M203.0 257.8l2.3 -0.1 0.1 -5.5 -2.3 0.1z"/><path fill="#3579c7" stroke="#3579c7" d="M205.3 257.7l2.3 -0.8 0.0 -5.4 -2.3 0.7z"/><path fill="#367ac7" stroke="#367ac7" d="M207.7 257.0l2.3 0.3 -0.0 -5.5 -2.3 -0.3z"/><path fill="#367bc8" stroke="#367bc8" d="M210.0 257.3l2.3 -2.4 -0.0 -5.5 -2.3 2.5z"/><path fill="#377cc8" stroke="#377cc8" d="M212.4 254.9l2.3 -0.8 -0.1 -5.6 -2.3 0.9z"/><path fill="#377cc9" stroke="#377cc9" d="M214.7 254.1l2.3 -1.2 -0.1 -5.7 -2.3 1.3z"/><path fill="#397eca" stroke="#397eca" d="M217.0 252.8l2.3 -1.2 -0.1 -5.8 -2.3 1.3z"/><path fill="#3d83cd" stroke="#3d83cd" d="M219.4 251.6l2.3 -1.8 -0.1 -5.8 -2.3 1.7z"/><path fill="#468ad0" stroke="#468ad0" d="M221.7 249.9l2.3 -1.2 -0.2 -6.0 -2.3 1.3z"/><path fill="#4e91d3" stroke="#4e91d3" d="M224.1 248.7l2.3 -2.3 -0.2 -6.1 -2.3 2.4z"/><path fill="#5999d6" stroke="#5999d6" d="M226.4 246.5l2.3 -2.9 -0.2 -6.2 -2.3 3.0z"/><path fill="#5f9ed8" stroke="#5f9ed8" d="M228.8 243.6l0.8 -1.0 -0.2 -6.1 -0.8 1.0z"/><path fill="#62a1d9" stroke="#62a1d9" d="M229.5 242.6l0.7 -1.3 -0.3 -6.2 -0.7 1.4z"/><path fill="#67a5da" stroke="#67a5da" d="M230.2 241.2l0.7 -1.3 -0.3 -6.3 -0.7 1.4z"/><path fill="#6ba8db" stroke="#6ba8db" d="M231.0 240.0l0.7 -1.5 -0.3 -6.4 -0.7 1.6z"/><path fill="#70abdc" stroke="#70abdc" d="M231.7 238.4l0.7 -1.6 -0.3 -6.4 -0.7 1.6z"/><path fill="#7ab1df" stroke="#7ab1df" d="M232.4 236.9l0.7 -3.0 -0.3 -6.5 -0.7 3.1z"/><path fill="#8bbbe3" stroke="#8bbbe3" d="M233.1 233.9l0.7 -3.8 -0.3 -6.7 -0.7 4.0z"/><path fill="#a0c8e8" stroke="#a0c8e8" d="M233.8 230.1l0.7 -3.9 -0.3 -6.9 -0.7 4.0z"/><path fill="#b9d7ee" stroke="#b9d7ee" d="M234.5 226.3l0.7 -4.2 -0.3 -7.1 -0.7 4.4z"/><path fill="#dee9f2" stroke="#dee9f2" d="M235.2 222.1l0.7 -5.2 -0.3 -7.5 -0.7 5.5z"/><path fill="#f5e8e4" stroke="#f5e8e4" d="M235.9 216.9l0.7 -5.2 -0.3 -7.8 -0.7 5.5z"/><path fill="#f8d1be" stroke="#f8d1be" d="M236.6 211.7l0.7 -5.4 -0.3 -8.1 -0.7 5.7z"/><path fill="#f6b298" stroke="#f6b298" d="M237.3 206.3l0.7 -5.4 -0.3 -8.5 -0.7 5.8z"/><path fill="#f08d6e" stroke="#f08d6e" d="M238.0 200.9l0.7 -5.6 -0.4 -8.8 -0.7 6.0z"/><path fill="#e4624c" stroke="#e4624c" d="M238.7 195.3l0.7 -5.4 -0.4 -9.1 -0.7 5.7z"/><path fill="#d74537" stroke="#d74537" d="M239.4 189.9l0.7 -4.1 -0.4 -9.3 -0.7 4.3z"/><path fill="#c93530" stroke="#c93530" d="M240.1 185.8l0.7 -3.8 -0.4 -9.5 -0.7 4.1z"/><path fill="#c02c2c" stroke="#c02c2c" d="M240.8 181.9l0.7 -1.1 -0.4 -9.5 -0.7 1.2z"/><path fill="#be292b" stroke="#be292b" d="M241.5 180.8l0.7 -0.5 -0.4 -9.5 -0.7 0.5z"/><path fill="#c02b2c" stroke="#c02b2c" d="M242.2 180.4l0.7 0.8 -0.4 -9.4 -0.7 -1.0z"/><path fill="#cb3731" stroke="#cb3731" d="M242.9 181.2l0.7 3.4 -0.4 -9.2 -0.7 -3.6z"/><path fill="#db4a3a" stroke="#db4a3a" d="M243.6 184.6l0.7 4.8 -0.4 -8.8 -0.7 -5.2z"/><path fill="#e76c54" stroke="#e76c54" d="M244.3 189.4l0.7 5.7 -0.4 -8.4 -0.7 -6.1z"/><path fill="#f2997a" stroke="#f2997a" d="M245.0 195.1l0.7 7.3 -0.4 -7.8 -0.7 -7.8z"/><path fill="#f9c9b2" stroke="#f9c9b2" d="M245.7 202.4l0.7 7.6 -0.4 -7.4 -0.7 -8.0z"/><path fill="#f4ebe8" stroke="#f4ebe8" d="M246.4 210.0l0.7 7.2 -0.5 -6.9 -0.7 -7.7z"/><path fill="#cfe2f1" stroke="#cfe2f1" d="M247.1 217.2l0.7 6.9 -0.5 -6.4 -0.7 -7.4z"/><path fill="#a9ceea" stroke="#a9ceea" d="M247.8 224.1l0.7 5.2 -0.5 -6.1 -0.7 -5.5z"/><path fill="#8fbee4" stroke="#8fbee4" d="M248.5 229.3l0.7 4.3 -0.5 -5.8 -0.7 -4.5z"/><path fill="#80b5e0" stroke="#80b5e0" d="M249.2 233.6l0.7 1.6 -0.5 -5.9 -0.7 -1.6z"/><path fill="#7eb3e0" stroke="#7eb3e0" d="M249.9 235.2l0.7 1.7 -0.5 -5.9 -0.7 -1.7z"/><path fill="#81b5e0" stroke="#81b5e0" d="M250.6 236.9l0.7 -0.8 -0.5 -6.1 -0.7 1.0z"/><path fill="#86b8e2" stroke="#86b8e2" d="M251.3 236.1l0.7 -1.0 -0.5 -6.2 -0.7 1.1z"/><path fill="#89bae2" stroke="#89bae2" d="M252.0 235.1l0.7 -1.1 -0.5 -6.3 -0.7 1.2z"/><path fill="#8cbce3" stroke="#8cbce3" d="M252.7 234.0l0.2 -0.3 -0.5 -6.3 -0.2 0.4z"/><path fill="#89bae3" stroke="#89bae3" d="M253.0 233.7l1.4 -0.9 -0.5 -6.5 -1.4 1.0z"/><path fill="#86b9e2" stroke="#86b9e2" d="M254.4 232.8l1.4 -0.5 -0.6 -6.5 -1.4 0.5z"/><path fill="#89bae2" stroke="#89bae2" d="M255.8 232.3l1.4 0.3 -0.6 -6.5 -1.4 -0.4z"/><path fill="#8cbce3" stroke="#8cbce3" d="M257.2 232.6l1.4 -0.2 -0.6 -6.5 -1.4 0.2z"/><path fill="#8ebde4" stroke="#8ebde4" d="M258.6 232.4l1.4 -0.8 -0.6 -6.6 -1.4 0.9z"/><path fill="#8fbee4" stroke="#8fbee4" d="M260.0 231.7l1.4 -0.9 -0.6 -6.7 -1.4 1.0z"/><path fill="#96c2e6" stroke="#96c2e6" d="M261.4 230.7l1.4 -1.1 -0.6 -6.8 -1.4 1.2z"/><path fill="#a3cae9" stroke="#a3cae9" d="M262.8 229.6l1.4 -1.2 -0.7 -7.0 -1.4 1.4z"/><path fill="#b0d2ec" stroke="#b0d2ec" d="M264.2 228.4l1.4 -0.9 -0.7 -7.0 -1.4 1.0z"/><path fill="#bbd8ee" stroke="#bbd8ee" d="M265.6 227.5l1.4 -0.9 -0.7 -7.1 -1.4 0.9z"/><path fill="#c7def0" stroke="#c7def0" d="M267.0 226.6l1.4 -0.9 -0.7 -7.1 -1.4 0.9z"/><path fill="#d2e3f1" stroke="#d2e3f1" d="M268.4 225.7l1.4 -0.4 -0.7 -7.2 -1.4 0.5z"/><path fill="#dbe8f2" stroke="#dbe8f2" d="M269.8 225.3l1.4 -0.3 -0.8 -7.1 -1.4 0.3z"/><path fill="#e4ecf3" stroke="#e4ecf3" d="M271.3 224.9l1.4 -0.0 -0.8 -7.1 -1.4 0.0z"/><path fill="#e3ebf3" stroke="#e3ebf3" d="M272.7 224.9l1.4 0.8 -0.8 -7.0 -1.4 -0.9z"/><path fill="#dae7f2" stroke="#dae7f2" d="M274.1 225.7l1.4 0.7 -0.8 -6.9 -1.4 -0.8z"/><path fill="#c7def0" stroke="#c7def0" d="M275.5 226.4l1.4 1.9 -0.8 -6.7 -1.4 -2.1z"/><path fill="#b6d5ed" stroke="#b6d5ed" d="M276.9 228.2l1.4 2.1 -0.8 -6.5 -1.4 -2.3z"/><path fill="#aed1eb" stroke="#aed1eb" d="M278.3 230.4l1.4 2.1 -0.9 -6.2 -1.4 -2.4z"/><path fill="#a7ccea" stroke="#a7ccea" d="M279.7 232.4l1.4 2.5 -0.9 -6.0 -1.4 -2.7z"/><path fill="#9dc6e7" stroke="#9dc6e7" d="M281.1 234.9l1.4 1.7 -0.9 -5.8 -1.4 -1.9z"/><path fill="#99c4e6" stroke="#99c4e6" d="M282.5 236.6l1.4 1.0 -0.9 -5.7 -1.4 -1.1z"/><path fill="#9fc7e8" stroke="#9fc7e8" d="M283.9 237.6l0.3 0.2 -0.9 -5.7 -0.3 -0.2z"/><path fill="#a5cbe9" stroke="#a5cbe9" d="M284.2 237.8l2.3 0.3 -0.9 -5.6 -2.3 -0.4z"/><path fill="#a4cae9" stroke="#a4cae9" d="M286.6 238.0l2.3 -0.1 -1.0 -5.6 -2.3 0.1z"/><path fill="#a3cae9" stroke="#a3cae9" d="M288.9 237.9l2.3 -0.1 -1.0 -5.6 -2.3 0.1z"/><path fill="#a6cbe9" stroke="#a6cbe9" d="M291.3 237.9l2.3 -0.1 -1.0 -5.6 -2.3 0.1z"/><path fill="#a6cce9" stroke="#a6cce9" d="M293.6 237.8l2.3 -0.2 -1.1 -5.5 -2.3 0.2z"/><path fill="#a6cce9" stroke="#a6cce9" d="M295.9 237.6l2.3 -0.1 -1.1 -5.5 -2.3 0.1z"/><path fill="#a7ccea" stroke="#a7ccea" d="M298.3 237.5l2.3 -0.0 -1.1 -5.5 -2.3 0.0z"/><path fill="#a6cbe9" stroke="#a6cbe9" d="M300.6 237.5l2.3 -0.1 -1.1 -5.5 -2.3 0.1z"/><path fill="#a1c8e8" stroke="#a1c8e8" d="M303.0 237.4l2.3 -0.2 -1.2 -5.5 -2.3 0.2z"/><path fill="#9dc6e7" stroke="#9dc6e7" d="M305.3 237.2l2.3 -0.1 -1.2 -5.5 -2.3 0.1z"/><path fill="#9ec7e8" stroke="#9ec7e8" d="M307.7 237.0l2.3 -0.3 -1.2 -5.5 -2.3 0.3z"/><path fill="#a0c8e8" stroke="#a0c8e8" d="M310.0 236.7l2.3 -0.3 -1.3 -5.4 -2.3 0.3z"/><path fill="#a1c9e8" stroke="#a1c9e8" d="M312.3 236.4l2.3 -0.1 -1.3 -5.5 -2.3 0.2z"/><path fill="#9fc7e8" stroke="#9fc7e8" d="M314.7 236.3l2.3 -0.2 -1.3 -5.5 -2.3 0.2z"/><path fill="#99c4e6" stroke="#99c4e6" d="M317.0 236.1l2.3 -0.2 -1.3 -5.5 -2.3 0.2z"/><path fill="#99c4e6" stroke="#99c4e6" d="M319.4 235.9l2.3 -0.2 -1.4 -5.5 -2.3 0.2z"/><path fill="#a1c9e8" stroke="#a1c9e8" d="M321.7 235.7l2.3 -0.3 -1.4 -5.5 -2.3 0.3z"/><path fill="#a7ccea" stroke="#a7ccea" d="M324.1 235.4l2.3 -0.2 -1.4 -5.5 -2.3 0.2z"/><path fill="#a5cbe9" stroke="#a5cbe9" d="M326.4 235.2l2.3 -0.2 -1.5 -5.4 -2.3 0.2z"/><path fill="#a4cae9" stroke="#a4cae9" d="M328.7 234.9l2.3 -0.2 -1.5 -5.4 -2.3 0.2z"/><path fill="#a6cce9" stroke="#a6cce9" d="M331.1 234.7l2.3 -0.2 -1.5 -5.4 -2.3 0.2z"/><path fill="#a7ccea" stroke="#a7ccea" d="M333.4 234.5l2.3 -0.2 -1.5 -5.4 -2.3 0.2z"/><path fill="#a8cdea" stroke="#a8cdea" d="M335.8 234.3l2.3 -0.5 -1.6 -5.4 -2.3 0.4z"/><path fill="#aaceea" stroke="#aaceea" d="M338.1 233.8l2.3 -0.6 -1.6 -5.5 -2.3 0.6z"/><path fill="#accfeb" stroke="#accfeb" d="M340.5 233.2l2.3 -0.5 -1.6 -5.5 -2.3 0.6z"/><path fill="#abceeb" stroke="#abceeb" d="M342.8 232.7l2.3 -0.3 -1.7 -5.6 -2.3 0.3z"/><path fill="#a9ceea" stroke="#a9ceea" d="M345.1 232.4l2.3 -0.2 -1.7 -5.7 -2.3 0.3z"/><path fill="#a8cdea" stroke="#a8cdea" d="M347.5 232.2l2.3 -0.8 -1.7 -5.6 -2.3 0.8z"/><path fill="#a5cbe9" stroke="#a5cbe9" d="M349.8 231.4l2.3 -1.3 -1.7 -5.5 -2.3 1.2z"/><path fill="#a5cbe9" stroke="#a5cbe9" d="M352.2 230.0l2.3 -0.9 -1.8 -5.5 -2.3 0.8z"/><path fill="#a8cdea" stroke="#a8cdea" d="M354.5 229.2l2.3 -0.9 -1.8 -5.4 -2.3 0.8z"/><path fill="#a9ceea" stroke="#a9ceea" d="M356.9 228.3l2.3 -1.1 -1.8 -5.4 -2.3 1.0z"/><path fill="#a8cdea" stroke="#a8cdea" d="M359.2 227.2l2.3 -1.0 -1.9 -5.3 -2.3 0.9z"/><path fill="#a6cce9" stroke="#a6cce9" d="M361.6 226.2l0.8 -0.3 -1.9 -5.3 -0.8 0.3z"/><path fill="#2e71c1" stroke="#2e71c1" d="M127.0 267.0l2.4 1.0 1.0 -5.6 -2.3 -1.0z"/><path fill="#2d6fbf" stroke="#2d6fbf" d="M129.4 268.0l2.4 -1.1 0.9 -5.5 -2.3 1.1z"/><path fill="#296bbc" stroke="#296bbc" d="M131.7 266.9l2.4 0.7 0.9 -5.6 -2.3 -0.6z"/><path fill="#296abc" stroke="#296abc" d="M134.1 267.5l2.4 0.2 0.9 -5.4 -2.3 -0.4z"/><path fill="#2b6dbe" stroke="#2b6dbe" d="M136.5 267.8l2.4 0.2 0.9 -5.4 -2.3 -0.2z"/><path fill="#2c6ebf" stroke="#2c6ebf" d="M138.9 268.0l2.4 0.0 0.8 -5.5 -2.3 0.0z"/><path fill="#2b6dbe" stroke="#2b6dbe" d="M141.2 268.0l2.4 0.1 0.8 -5.4 -2.3 -0.2z"/><path fill="#2b6dbe" stroke="#2b6dbe" d="M143.6 268.1l2.4 -0.9 0.8 -5.4 -2.3 0.9z"/><path fill="#2d70c0" stroke="#2d70c0" d="M146.0 267.2l2.4 0.5 0.7 -5.3 -2.3 -0.6z"/><path fill="#2d70c0" stroke="#2d70c0" d="M148.3 267.7l2.4 -0.6 0.7 -5.4 -2.3 0.6z"/><path fill="#2c6ebf" stroke="#2c6ebf" d="M150.7 267.1l2.4 0.1 0.7 -5.5 -2.3 -0.0z"/><path fill="#2b6cbe" stroke="#2b6cbe" d="M153.1 267.3l2.4 0.0 0.7 -5.4 -2.3 -0.1z"/><path fill="#2b6dbe" stroke="#2b6dbe" d="M155.5 267.3l2.4 -0.5 0.6 -5.4 -2.3 0.5z"/><path fill="#2d70c0" stroke="#2d70c0" d="M157.8 266.9l2.4 0.8 0.6 -5.5 -2.3 -0.7z"/><path fill="#3072c2" stroke="#3072c2" d="M160.2 267.6l2.4 -1.3 0.6 -5.5 -2.3 1.3z"/><path fill="#3073c2" stroke="#3073c2" d="M162.6 266.3l2.4 0.4 0.5 -5.5 -2.3 -0.4z"/><path fill="#2f71c1" stroke="#2f71c1" d="M165.0 266.7l2.4 -0.3 0.5 -5.5 -2.3 0.3z"/><path fill="#2e70c0" stroke="#2e70c0" d="M167.3 266.4l2.4 0.3 0.5 -5.6 -2.3 -0.3z"/><path fill="#2f72c1" stroke="#2f72c1" d="M169.7 266.7l2.4 -0.5 0.5 -5.6 -2.3 0.5z"/><path fill="#3174c3" stroke="#3174c3" d="M172.1 266.2l2.4 -0.3 0.4 -5.7 -2.3 0.3z"/><path fill="#3377c5" stroke="#3377c5" d="M174.4 266.0l2.4 0.1 0.4 -5.6 -2.3 -0.1z"/><path fill="#387dca" stroke="#387dca" d="M176.8 266.1l2.4 1.0 0.4 -5.8 -2.3 -0.7z"/><path fill="#367bc8" stroke="#367bc8" d="M179.2 267.0l2.4 -1.3 0.3 -5.5 -2.3 1.0z"/><path fill="#3073c3" stroke="#3073c3" d="M181.6 265.7l2.4 -0.6 0.3 -5.6 -2.3 0.6z"/><path fill="#3174c3" stroke="#3174c3" d="M183.9 265.1l2.4 -0.5 0.3 -5.5 -2.3 0.4z"/><path fill="#3275c4" stroke="#3275c4" d="M186.3 264.7l2.4 -0.1 0.3 -5.5 -2.3 0.1z"/><path fill="#3073c2" stroke="#3073c2" d="M188.7 264.6l2.4 0.3 0.2 -5.6 -2.3 -0.2z"/><path fill="#2e71c1" stroke="#2e71c1" d="M191.0 264.9l2.4 0.1 0.2 -5.6 -2.3 -0.1z"/><path fill="#2e71c1" stroke="#2e71c1" d="M193.4 264.9l2.4 -1.0 0.2 -5.5 -2.3 0.9z"/><path fill="#2e71c1" stroke="#2e71c1" d="M195.8 263.9l2.4 -0.7 0.1 -5.5 -2.3 0.6z"/><path fill="#2d6fc0" stroke="#2d6fc0" d="M198.2 263.3l2.4 -0.4 0.1 -5.5 -2.3 0.4z"/><path fill="#2e70c0" stroke="#2e70c0" d="M200.5 262.9l2.4 0.5 0.1 -5.5 -2.3 -0.4z"/><path fill="#3073c3" stroke="#3073c3" d="M202.9 263.3l2.4 -0.1 0.1 -5.5 -2.3 0.1z"/><path fill="#3275c4" stroke="#3275c4" d="M205.3 263.2l2.4 -0.9 0.0 -5.4 -2.3 0.8z"/><path fill="#3276c4" stroke="#3276c4" d="M207.6 262.4l2.4 0.4 -0.0 -5.5 -2.3 -0.3z"/><path fill="#3377c5" stroke="#3377c5" d="M210.0 262.7l2.4 -2.4 -0.0 -5.5 -2.3 2.4z"/><path fill="#3377c5" stroke="#3377c5" d="M212.4 260.4l2.4 -0.7 -0.1 -5.6 -2.3 0.8z"/><path fill="#3478c6" stroke="#3478c6" d="M214.8 259.7l2.4 -1.2 -0.1 -5.7 -2.3 1.2z"/><path fill="#357ac7" stroke="#357ac7" d="M217.1 258.5l2.4 -1.1 -0.1 -5.8 -2.3 1.2z"/><path fill="#397eca" stroke="#397eca" d="M219.5 257.5l2.4 -1.8 -0.1 -5.8 -2.3 1.8z"/><path fill="#3e83ce" stroke="#3e83ce" d="M221.9 255.7l2.4 -1.0 -0.2 -6.0 -2.3 1.2z"/><path fill="#468ad0" stroke="#468ad0" d="M224.3 254.7l2.4 -2.1 -0.2 -6.1 -2.3 2.3z"/><path fill="#5193d3" stroke="#5193d3" d="M226.6 252.6l2.4 -2.8 -0.2 -6.2 -2.3 2.9z"/><path fill="#5797d5" stroke="#5797d5" d="M229.0 249.8l0.8 -1.1 -0.2 -6.1 -0.8 1.0z"/><path fill="#5a9ad6" stroke="#5a9ad6" d="M229.8 248.7l0.7 -1.2 -0.3 -6.2 -0.7 1.3z"/><path fill="#5e9dd7" stroke="#5e9dd7" d="M230.5 247.5l0.7 -1.2 -0.3 -6.3 -0.7 1.3z"/><path fill="#62a0d8" stroke="#62a0d8" d="M231.2 246.3l0.7 -1.5 -0.3 -6.4 -0.7 1.5z"/><path fill="#66a4da" stroke="#66a4da" d="M231.9 244.8l0.7 -1.5 -0.3 -6.4 -0.7 1.6z"/><path fill="#6da9dc" stroke="#6da9dc" d="M232.6 243.3l0.7 -2.9 -0.3 -6.5 -0.7 3.0z"/><path fill="#7bb2df" stroke="#7bb2df" d="M233.3 240.4l0.7 -3.5 -0.3 -6.7 -0.7 3.8z"/><path fill="#8ebde4" stroke="#8ebde4" d="M234.1 236.9l0.7 -3.7 -0.3 -6.9 -0.7 3.9z"/><path fill="#a7ccea" stroke="#a7ccea" d="M234.8 233.2l0.7 -4.0 -0.3 -7.1 -0.7 4.2z"/><path fill="#c6ddf0" stroke="#c6ddf0" d="M235.5 229.2l0.7 -4.8 -0.3 -7.5 -0.7 5.2z"/><path fill="#eaeff4" stroke="#eaeff4" d="M236.2 224.4l0.7 -4.9 -0.3 -7.8 -0.7 5.2z"/><path fill="#f5e3db" stroke="#f5e3db" d="M236.9 219.5l0.7 -5.0 -0.3 -8.1 -0.7 5.4z"/><path fill="#f9cbb5" stroke="#f9cbb5" d="M237.6 214.5l0.7 -5.1 -0.3 -8.5 -0.7 5.4z"/><path fill="#f4a88c" stroke="#f4a88c" d="M238.3 209.4l0.7 -5.3 -0.4 -8.8 -0.7 5.6z"/><path fill="#ec8165" stroke="#ec8165" d="M239.0 204.1l0.7 -5.1 -0.4 -9.1 -0.7 5.4z"/><path fill="#e3604a" stroke="#e3604a" d="M239.7 199.0l0.7 -4.0 -0.4 -9.3 -0.7 4.1z"/><path fill="#db4939" stroke="#db4939" d="M240.5 195.0l0.7 -3.6 -0.4 -9.5 -0.7 3.8z"/><path fill="#d34135" stroke="#d34135" d="M241.2 191.4l0.7 -1.1 -0.4 -9.5 -0.7 1.1z"/><path fill="#d03e34" stroke="#d03e34" d="M241.9 190.4l0.7 -0.5 -0.4 -9.5 -0.7 0.5z"/><path fill="#d23f35" stroke="#d23f35" d="M242.6 189.9l0.7 0.7 -0.4 -9.4 -0.7 -0.8z"/><path fill="#dc4b3a" stroke="#dc4b3a" d="M243.3 190.6l0.7 3.2 -0.4 -9.2 -0.7 -3.4z"/><path fill="#e5664f" stroke="#e5664f" d="M244.0 193.7l0.7 4.4 -0.4 -8.8 -0.7 -4.8z"/><path fill="#ee876a" stroke="#ee876a" d="M244.7 198.1l0.7 5.3 -0.4 -8.4 -0.7 -5.7z"/><path fill="#f5ae93" stroke="#f5ae93" d="M245.4 203.4l0.7 6.8 -0.4 -7.8 -0.7 -7.3z"/><path fill="#f7d7c8" stroke="#f7d7c8" d="M246.2 210.2l0.7 7.1 -0.4 -7.4 -0.7 -7.6z"/><path fill="#edf0f4" stroke="#edf0f4" d="M246.9 217.4l0.7 6.8 -0.5 -6.9 -0.7 -7.2z"/><path fill="#c0daef" stroke="#c0daef" d="M247.6 224.2l0.7 6.4 -0.5 -6.4 -0.7 -6.9z"/><path fill="#9fc7e8" stroke="#9fc7e8" d="M248.3 230.6l0.7 4.9 -0.5 -6.1 -0.7 -5.2z"/><path fill="#86b9e2" stroke="#86b9e2" d="M249.0 235.4l0.7 4.0 -0.5 -5.8 -0.7 -4.3z"/><path fill="#78b0de" stroke="#78b0de" d="M249.7 239.4l0.7 1.6 -0.5 -5.9 -0.7 -1.6z"/><path fill="#76afde" stroke="#76afde" d="M250.4 241.0l0.7 1.8 -0.5 -5.9 -0.7 -1.7z"/><path fill="#78b0df" stroke="#78b0df" d="M251.1 242.8l0.7 -0.6 -0.5 -6.1 -0.7 0.8z"/><path fill="#7db3e0" stroke="#7db3e0" d="M251.8 242.2l0.7 -0.9 -0.5 -6.2 -0.7 1.0z"/><path fill="#81b5e0" stroke="#81b5e0" d="M252.6 241.3l0.7 -1.0 -0.5 -6.3 -0.7 1.1z"/><path fill="#83b7e1" stroke="#83b7e1" d="M253.3 240.3l0.2 -0.3 -0.5 -6.3 -0.2 0.3z"/><path fill="#80b5e0" stroke="#80b5e0" d="M253.5 240.0l1.4 -0.7 -0.5 -6.5 -1.4 0.9z"/><path fill="#7db3e0" stroke="#7db3e0" d="M254.9 239.2l1.4 -0.4 -0.6 -6.5 -1.4 0.5z"/><path fill="#80b5e0" stroke="#80b5e0" d="M256.4 238.8l1.4 0.2 -0.6 -6.5 -1.4 -0.3z"/><path fill="#83b7e1" stroke="#83b7e1" d="M257.8 239.1l1.4 -0.1 -0.6 -6.5 -1.4 0.2z"/><path fill="#85b8e2" stroke="#85b8e2" d="M259.2 239.0l1.4 -0.7 -0.6 -6.6 -1.4 0.8z"/><path fill="#85b8e2" stroke="#85b8e2" d="M260.6 238.3l1.4 -0.8 -0.6 -6.7 -1.4 0.9z"/><path fill="#8cbce3" stroke="#8cbce3" d="M262.0 237.4l1.4 -0.9 -0.6 -6.8 -1.4 1.1z"/><path fill="#98c3e6" stroke="#98c3e6" d="M263.5 236.5l1.4 -1.1 -0.7 -7.0 -1.4 1.2z"/><path fill="#a5cbe9" stroke="#a5cbe9" d="M264.9 235.3l1.4 -0.8 -0.7 -7.0 -1.4 0.9z"/><path fill="#aed0eb" stroke="#aed0eb" d="M266.3 234.5l1.4 -0.9 -0.7 -7.1 -1.4 0.9z"/><path fill="#b7d6ee" stroke="#b7d6ee" d="M267.7 233.6l1.4 -0.8 -0.7 -7.1 -1.4 0.9z"/><path fill="#c0dbef" stroke="#c0dbef" d="M269.2 232.8l1.4 -0.4 -0.7 -7.2 -1.4 0.4z"/><path fill="#c9def0" stroke="#c9def0" d="M270.6 232.4l1.4 -0.4 -0.8 -7.1 -1.4 0.3z"/><path fill="#d1e3f1" stroke="#d1e3f1" d="M272.0 232.0l1.4 -0.0 -0.8 -7.1 -1.4 0.0z"/><path fill="#d2e3f1" stroke="#d2e3f1" d="M273.4 232.0l1.4 0.7 -0.8 -7.0 -1.4 -0.8z"/><path fill="#cadff0" stroke="#cadff0" d="M274.9 232.7l1.4 0.5 -0.8 -6.9 -1.4 -0.7z"/><path fill="#b9d7ee" stroke="#b9d7ee" d="M276.3 233.3l1.4 1.6 -0.8 -6.7 -1.4 -1.9z"/><path fill="#abceeb" stroke="#abceeb" d="M277.7 234.9l1.4 1.9 -0.8 -6.5 -1.4 -2.1z"/><path fill="#a4cbe9" stroke="#a4cbe9" d="M279.1 236.8l1.4 1.8 -0.9 -6.2 -1.4 -2.1z"/><path fill="#9ec7e8" stroke="#9ec7e8" d="M280.5 238.7l1.4 2.2 -0.9 -6.0 -1.4 -2.5z"/><path fill="#95c1e5" stroke="#95c1e5" d="M282.0 240.9l1.4 1.5 -0.9 -5.8 -1.4 -1.7z"/><path fill="#91bfe4" stroke="#91bfe4" d="M283.4 242.4l1.4 0.9 -0.9 -5.7 -1.4 -1.0z"/><path fill="#97c2e6" stroke="#97c2e6" d="M284.8 243.3l0.3 0.1 -0.9 -5.7 -0.3 -0.2z"/><path fill="#9dc6e7" stroke="#9dc6e7" d="M285.1 243.4l2.4 0.2 -0.9 -5.6 -2.3 -0.3z"/><path fill="#9cc6e7" stroke="#9cc6e7" d="M287.5 243.6l2.4 -0.1 -1.0 -5.6 -2.3 0.1z"/><path fill="#9bc5e7" stroke="#9bc5e7" d="M289.9 243.5l2.4 -0.1 -1.0 -5.6 -2.3 0.1z"/><path fill="#9ec7e7" stroke="#9ec7e7" d="M292.2 243.4l2.4 -0.1 -1.0 -5.6 -2.3 0.1z"/><path fill="#9ec7e8" stroke="#9ec7e8" d="M294.6 243.4l2.4 -0.2 -1.1 -5.5 -2.3 0.2z"/><path fill="#9ec7e8" stroke="#9ec7e8" d="M297.0 243.1l2.4 -0.1 -1.1 -5.5 -2.3 0.1z"/><path fill="#9fc8e8" stroke="#9fc8e8" d="M299.4 243.0l2.4 0.0 -1.1 -5.5 -2.3 0.0z"/><path fill="#9ec7e7" stroke="#9ec7e7" d="M301.7 243.0l2.4 -0.1 -1.1 -5.5 -2.3 0.1z"/><path fill="#98c3e6" stroke="#98c3e6" d="M304.1 242.9l2.4 -0.3 -1.2 -5.5 -2.3 0.2z"/><path fill="#95c1e5" stroke="#95c1e5" d="M306.5 242.6l2.4 -0.1 -1.2 -5.5 -2.3 0.1z"/><path fill="#96c2e6" stroke="#96c2e6" d="M308.9 242.5l2.4 -0.4 -1.2 -5.5 -2.3 0.3z"/><path fill="#98c3e6" stroke="#98c3e6" d="M311.2 242.1l2.4 -0.3 -1.3 -5.4 -2.3 0.3z"/><path fill="#99c4e6" stroke="#99c4e6" d="M313.6 241.9l2.4 -0.1 -1.3 -5.5 -2.3 0.1z"/><path fill="#97c2e6" stroke="#97c2e6" d="M316.0 241.7l2.4 -0.2 -1.3 -5.5 -2.3 0.2z"/><path fill="#91bfe4" stroke="#91bfe4" d="M318.3 241.5l2.4 -0.2 -1.3 -5.5 -2.3 0.2z"/><path fill="#91bfe4" stroke="#91bfe4" d="M320.7 241.3l2.4 -0.2 -1.4 -5.5 -2.3 0.2z"/><path fill="#99c4e6" stroke="#99c4e6" d="M323.1 241.1l2.4 -0.3 -1.4 -5.5 -2.3 0.3z"/><path fill="#a0c8e8" stroke="#a0c8e8" d="M325.5 240.9l2.4 -0.2 -1.4 -5.5 -2.3 0.2z"/><path fill="#9dc6e7" stroke="#9dc6e7" d="M327.8 240.6l2.4 -0.2 -1.5 -5.4 -2.3 0.2z"/><path fill="#9cc5e7" stroke="#9cc5e7" d="M330.2 240.4l2.4 -0.2 -1.5 -5.4 -2.3 0.2z"/><path fill="#9ec7e8" stroke="#9ec7e8" d="M332.6 240.1l2.4 -0.2 -1.5 -5.4 -2.3 0.2z"/><path fill="#a0c8e8" stroke="#a0c8e8" d="M334.9 239.9l2.4 -0.2 -1.5 -5.4 -2.3 0.2z"/><path fill="#a0c8e8" stroke="#a0c8e8" d="M337.3 239.7l2.4 -0.5 -1.6 -5.4 -2.3 0.5z"/><path fill="#a2c9e9" stroke="#a2c9e9" d="M339.7 239.3l2.4 -0.6 -1.6 -5.5 -2.3 0.6z"/><path fill="#a4cbe9" stroke="#a4cbe9" d="M342.1 238.7l2.4 -0.5 -1.6 -5.5 -2.3 0.5z"/><path fill="#a3cae9" stroke="#a3cae9" d="M344.4 238.2l2.4 -0.2 -1.7 -5.6 -2.3 0.3z"/><path fill="#a2c9e8" stroke="#a2c9e8" d="M346.8 238.0l2.4 -0.1 -1.7 -5.7 -2.3 0.2z"/><path fill="#a0c8e8" stroke="#a0c8e8" d="M349.2 237.9l2.4 -0.9 -1.7 -5.6 -2.3 0.8z"/><path fill="#9dc6e7" stroke="#9dc6e7" d="M351.5 237.0l2.4 -1.4 -1.7 -5.5 -2.3 1.3z"/><path fill="#9ec7e7" stroke="#9ec7e7" d="M353.9 235.6l2.4 -0.9 -1.8 -5.5 -2.3 0.9z"/><path fill="#a0c8e8" stroke="#a0c8e8" d="M356.3 234.7l2.4 -0.9 -1.8 -5.4 -2.3 0.9z"/><path fill="#a2c9e8" stroke="#a2c9e8" d="M358.7 233.7l2.4 -1.1 -1.8 -5.4 -2.3 1.1z"/><path fill="#a0c8e8" stroke="#a0c8e8" d="M361.0 232.6l2.4 -1.1 -1.9 -5.3 -2.3 1.0z"/><path fill="#9ec7e8" stroke="#9ec7e8" d="M363.4 231.5l0.8 -0.3 -1.9 -5.3 -0.8 0.3z"/><path fill="#2b6dbe" stroke="#2b6dbe" d="M126.0 272.6l2.4 1.0 1.0 -5.6 -2.4 -1.0z"/><path fill="#2a6bbd" stroke="#2a6bbd" d="M128.4 273.6l2.4 -1.2 0.9 -5.5 -2.4 1.1z"/><path fill="#2666b9" stroke="#2666b9" d="M130.8 272.4l2.4 0.7 0.9 -5.6 -2.4 -0.7z"/><path fill="#2565b9" stroke="#2565b9" d="M133.2 273.1l2.4 0.1 0.9 -5.4 -2.4 -0.2z"/><path fill="#2869bb" stroke="#2869bb" d="M135.6 273.2l2.4 0.2 0.9 -5.4 -2.4 -0.2z"/><path fill="#296abc" stroke="#296abc" d="M138.0 273.4l2.4 0.0 0.8 -5.5 -2.4 -0.0z"/><path fill="#2869bb" stroke="#2869bb" d="M140.4 273.4l2.4 0.1 0.8 -5.4 -2.4 -0.1z"/><path fill="#2869bb" stroke="#2869bb" d="M142.8 273.5l2.4 -0.9 0.8 -5.4 -2.4 0.9z"/><path fill="#2a6cbd" stroke="#2a6cbd" d="M145.2 272.6l2.4 0.4 0.7 -5.3 -2.4 -0.5z"/><path fill="#2a6cbd" stroke="#2a6cbd" d="M147.6 273.1l2.4 -0.5 0.7 -5.4 -2.4 0.6z"/><path fill="#286abc" stroke="#286abc" d="M150.0 272.5l2.4 0.3 0.7 -5.5 -2.4 -0.1z"/><path fill="#2768ba" stroke="#2768ba" d="M152.4 272.8l2.4 -0.0 0.7 -5.4 -2.4 -0.0z"/><path fill="#2869bb" stroke="#2869bb" d="M154.8 272.7l2.4 -0.5 0.6 -5.4 -2.4 0.5z"/><path fill="#2a6cbd" stroke="#2a6cbd" d="M157.2 272.3l2.4 0.8 0.6 -5.5 -2.4 -0.8z"/><path fill="#2c6ebf" stroke="#2c6ebf" d="M159.6 273.1l2.4 -1.3 0.6 -5.5 -2.4 1.3z"/><path fill="#2d6fc0" stroke="#2d6fc0" d="M162.0 271.8l2.4 0.4 0.5 -5.5 -2.4 -0.4z"/><path fill="#2b6dbe" stroke="#2b6dbe" d="M164.4 272.2l2.4 -0.3 0.5 -5.5 -2.4 0.3z"/><path fill="#2b6cbd" stroke="#2b6cbd" d="M166.8 271.9l2.4 0.4 0.5 -5.6 -2.4 -0.3z"/><path fill="#2c6dbe" stroke="#2c6dbe" d="M169.2 272.3l2.4 -0.4 0.5 -5.6 -2.4 0.5z"/><path fill="#2e70c0" stroke="#2e70c0" d="M171.6 271.9l2.4 -0.2 0.4 -5.7 -2.4 0.3z"/><path fill="#3073c2" stroke="#3073c2" d="M174.0 271.7l2.4 -0.0 0.4 -5.6 -2.4 -0.1z"/><path fill="#357ac7" stroke="#357ac7" d="M176.4 271.7l2.4 1.2 0.4 -5.8 -2.4 -1.0z"/><path fill="#3377c5" stroke="#3377c5" d="M178.8 272.8l2.4 -1.6 0.3 -5.5 -2.4 1.3z"/><path fill="#2d6fc0" stroke="#2d6fc0" d="M181.2 271.2l2.4 -0.5 0.3 -5.6 -2.4 0.6z"/><path fill="#2e70c0" stroke="#2e70c0" d="M183.6 270.7l2.4 -0.5 0.3 -5.5 -2.4 0.5z"/><path fill="#2f71c1" stroke="#2f71c1" d="M186.0 270.2l2.4 -0.1 0.3 -5.5 -2.4 0.1z"/><path fill="#2c6fbf" stroke="#2c6fbf" d="M188.4 270.1l2.4 0.4 0.2 -5.6 -2.4 -0.3z"/><path fill="#2b6dbe" stroke="#2b6dbe" d="M190.8 270.5l2.4 0.0 0.2 -5.6 -2.4 -0.1z"/><path fill="#2b6dbe" stroke="#2b6dbe" d="M193.2 270.5l2.4 -1.1 0.2 -5.5 -2.4 1.0z"/><path fill="#2b6cbd" stroke="#2b6cbd" d="M195.6 269.4l2.4 -0.7 0.1 -5.5 -2.4 0.7z"/><path fill="#2a6bbd" stroke="#2a6bbd" d="M198.0 268.7l2.4 -0.3 0.1 -5.5 -2.4 0.4z"/><path fill="#2a6cbd" stroke="#2a6cbd" d="M200.4 268.4l2.4 0.5 0.1 -5.5 -2.4 -0.5z"/><path fill="#2d6fc0" stroke="#2d6fc0" d="M202.8 268.9l2.4 -0.1 0.1 -5.5 -2.4 0.1z"/><path fill="#2e71c1" stroke="#2e71c1" d="M205.2 268.8l2.4 -1.0 0.0 -5.4 -2.4 0.9z"/><path fill="#2f72c1" stroke="#2f72c1" d="M207.6 267.8l2.4 0.4 -0.0 -5.5 -2.4 -0.4z"/><path fill="#3072c2" stroke="#3072c2" d="M210.0 268.2l2.4 -2.3 -0.0 -5.5 -2.4 2.4z"/><path fill="#3073c2" stroke="#3073c2" d="M212.4 265.9l2.4 -0.6 -0.1 -5.6 -2.4 0.7z"/><path fill="#3073c2" stroke="#3073c2" d="M214.8 265.3l2.4 -1.1 -0.1 -5.7 -2.4 1.2z"/><path fill="#3275c4" stroke="#3275c4" d="M217.2 264.3l2.4 -0.9 -0.1 -5.8 -2.4 1.1z"/><path fill="#357ac7" stroke="#357ac7" d="M219.6 263.3l2.4 -1.8 -0.1 -5.8 -2.4 1.8z"/><path fill="#397eca" stroke="#397eca" d="M222.0 261.5l2.4 -0.8 -0.2 -6.0 -2.4 1.0z"/><path fill="#3e83cd" stroke="#3e83cd" d="M224.4 260.6l2.4 -2.0 -0.2 -6.1 -2.4 2.1z"/><path fill="#488cd1" stroke="#488cd1" d="M226.8 258.6l2.4 -2.7 -0.2 -6.2 -2.4 2.8z"/><path fill="#4e90d2" stroke="#4e90d2" d="M229.2 256.0l0.8 -1.2 -0.2 -6.1 -0.8 1.1z"/><path fill="#5193d3" stroke="#5193d3" d="M230.0 254.8l0.7 -1.1 -0.3 -6.2 -0.7 1.2z"/><path fill="#5596d5" stroke="#5596d5" d="M230.7 253.7l0.7 -1.1 -0.3 -6.3 -0.7 1.2z"/><path fill="#5999d6" stroke="#5999d6" d="M231.5 252.6l0.7 -1.4 -0.3 -6.4 -0.7 1.5z"/><path fill="#5c9cd7" stroke="#5c9cd7" d="M232.2 251.2l0.7 -1.5 -0.3 -6.4 -0.7 1.5z"/><path fill="#63a1d9" stroke="#63a1d9" d="M232.9 249.7l0.7 -2.8 -0.3 -6.5 -0.7 2.9z"/><path fill="#6ca8db" stroke="#6ca8db" d="M233.6 246.9l0.7 -3.3 -0.3 -6.7 -0.7 3.5z"/><path fill="#7db3e0" stroke="#7db3e0" d="M234.4 243.6l0.7 -3.5 -0.3 -6.9 -0.7 3.7z"/><path fill="#94c1e5" stroke="#94c1e5" d="M235.1 240.1l0.7 -3.8 -0.3 -7.1 -0.7 4.0z"/><path fill="#b0d2ec" stroke="#b0d2ec" d="M235.8 236.3l0.7 -4.5 -0.3 -7.5 -0.7 4.8z"/><path fill="#cfe2f1" stroke="#cfe2f1" d="M236.5 231.8l0.7 -4.5 -0.3 -7.8 -0.7 4.9z"/><path fill="#f1f2f5" stroke="#f1f2f5" d="M237.2 227.3l0.7 -4.7 -0.3 -8.1 -0.7 5.0z"/><path fill="#f6ded4" stroke="#f6ded4" d="M238.0 222.6l0.7 -4.7 -0.3 -8.5 -0.7 5.1z"/><path fill="#f8c3ab" stroke="#f8c3ab" d="M238.7 217.9l0.7 -5.0 -0.4 -8.8 -0.7 5.3z"/><path fill="#f39f82" stroke="#f39f82" d="M239.4 212.8l0.7 -4.7 -0.4 -9.1 -0.7 5.1z"/><path fill="#ec8164" stroke="#ec8164" d="M240.1 208.1l0.7 -3.8 -0.4 -9.3 -0.7 4.0z"/><path fill="#e66951" stroke="#e66951" d="M240.8 204.3l0.7 -3.4 -0.4 -9.5 -0.7 3.6z"/><path fill="#e25b46" stroke="#e25b46" d="M241.6 200.9l0.7 -1.0 -0.4 -9.5 -0.7 1.1z"/><path fill="#e05642" stroke="#e05642" d="M242.3 199.9l0.7 -0.5 -0.4 -9.5 -0.7 0.5z"/><path fill="#e15844" stroke="#e15844" d="M243.0 199.4l0.7 0.6 -0.4 -9.4 -0.7 -0.7z"/><path fill="#e66a52" stroke="#e66a52" d="M243.7 199.9l0.7 3.0 -0.4 -9.2 -0.7 -3.2z"/><path fill="#ed8568" stroke="#ed8568" d="M244.4 202.9l0.7 4.0 -0.4 -8.8 -0.7 -4.4z"/><path fill="#f3a184" stroke="#f3a184" d="M245.2 206.9l0.7 4.9 -0.4 -8.4 -0.7 -5.3z"/><path fill="#f8c4ac" stroke="#f8c4ac" d="M245.9 211.8l0.7 6.3 -0.4 -7.8 -0.7 -6.8z"/><path fill="#f5e5df" stroke="#f5e5df" d="M246.6 218.1l0.7 6.7 -0.4 -7.4 -0.7 -7.1z"/><path fill="#dae7f2" stroke="#dae7f2" d="M247.3 224.7l0.7 6.4 -0.5 -6.9 -0.7 -6.8z"/><path fill="#b2d3ec" stroke="#b2d3ec" d="M248.0 231.1l0.7 5.9 -0.5 -6.4 -0.7 -6.4z"/><path fill="#95c1e5" stroke="#95c1e5" d="M248.8 237.0l0.7 4.5 -0.5 -6.1 -0.7 -4.9z"/><path fill="#7db3e0" stroke="#7db3e0" d="M249.5 241.5l0.7 3.8 -0.5 -5.8 -0.7 -4.0z"/><path fill="#6fabdc" stroke="#6fabdc" d="M250.2 245.3l0.7 1.6 -0.5 -5.9 -0.7 -1.6z"/><path fill="#6daadc" stroke="#6daadc" d="M250.9 246.9l0.7 1.8 -0.5 -5.9 -0.7 -1.8z"/><path fill="#70abdd" stroke="#70abdd" d="M251.6 248.7l0.7 -0.5 -0.5 -6.1 -0.7 0.6z"/><path fill="#75aede" stroke="#75aede" d="M252.4 248.2l0.7 -0.8 -0.5 -6.2 -0.7 0.9z"/><path fill="#78b0de" stroke="#78b0de" d="M253.1 247.5l0.7 -0.9 -0.5 -6.3 -0.7 1.0z"/><path fill="#7bb2df" stroke="#7bb2df" d="M253.8 246.6l0.2 -0.3 -0.5 -6.3 -0.2 0.3z"/><path fill="#77b0de" stroke="#77b0de" d="M254.0 246.3l1.4 -0.6 -0.5 -6.5 -1.4 0.7z"/><path fill="#74aedd" stroke="#74aedd" d="M255.5 245.7l1.4 -0.3 -0.6 -6.5 -1.4 0.4z"/><path fill="#77afde" stroke="#77afde" d="M256.9 245.4l1.4 0.2 -0.6 -6.5 -1.4 -0.2z"/><path fill="#7bb2df" stroke="#7bb2df" d="M258.4 245.5l1.4 -0.0 -0.6 -6.5 -1.4 0.1z"/><path fill="#7cb2df" stroke="#7cb2df" d="M259.8 245.5l1.4 -0.7 -0.6 -6.6 -1.4 0.7z"/><path fill="#7bb2df" stroke="#7bb2df" d="M261.2 244.9l1.4 -0.7 -0.6 -6.7 -1.4 0.8z"/><path fill="#82b6e1" stroke="#82b6e1" d="M262.7 244.1l1.4 -0.8 -0.6 -6.8 -1.4 0.9z"/><path fill="#8dbde3" stroke="#8dbde3" d="M264.1 243.3l1.4 -1.0 -0.7 -7.0 -1.4 1.1z"/><path fill="#99c4e6" stroke="#99c4e6" d="M265.6 242.3l1.4 -0.7 -0.7 -7.0 -1.4 0.8z"/><path fill="#a1c9e8" stroke="#a1c9e8" d="M267.0 241.6l1.4 -0.9 -0.7 -7.1 -1.4 0.9z"/><path fill="#a9ceea" stroke="#a9ceea" d="M268.4 240.7l1.4 -0.8 -0.7 -7.1 -1.4 0.8z"/><path fill="#b0d2ec" stroke="#b0d2ec" d="M269.9 239.9l1.4 -0.3 -0.7 -7.2 -1.4 0.4z"/><path fill="#b6d5ed" stroke="#b6d5ed" d="M271.3 239.6l1.4 -0.4 -0.8 -7.1 -1.4 0.4z"/><path fill="#bed9ef" stroke="#bed9ef" d="M272.8 239.2l1.4 -0.0 -0.8 -7.1 -1.4 0.0z"/><path fill="#c0daef" stroke="#c0daef" d="M274.2 239.1l1.4 0.6 -0.8 -7.0 -1.4 -0.7z"/><path fill="#bad7ee" stroke="#bad7ee" d="M275.6 239.8l1.4 0.4 -0.8 -6.9 -1.4 -0.5z"/><path fill="#accfeb" stroke="#accfeb" d="M277.1 240.2l1.4 1.4 -0.8 -6.7 -1.4 -1.6z"/><path fill="#9fc7e8" stroke="#9fc7e8" d="M278.5 241.6l1.4 1.7 -0.8 -6.5 -1.4 -1.9z"/><path fill="#9ac5e7" stroke="#9ac5e7" d="M280.0 243.3l1.4 1.5 -0.9 -6.2 -1.4 -1.8z"/><path fill="#95c2e5" stroke="#95c2e5" d="M281.4 244.9l1.4 2.0 -0.9 -6.0 -1.4 -2.2z"/><path fill="#8cbce3" stroke="#8cbce3" d="M282.8 246.9l1.4 1.3 -0.9 -5.8 -1.4 -1.5z"/><path fill="#88b9e2" stroke="#88b9e2" d="M284.3 248.2l1.4 0.9 -0.9 -5.7 -1.4 -0.9z"/><path fill="#8ebde4" stroke="#8ebde4" d="M285.7 249.0l0.3 0.1 -0.9 -5.7 -0.3 -0.1z"/><path fill="#94c1e5" stroke="#94c1e5" d="M286.0 249.1l2.4 0.1 -0.9 -5.6 -2.4 -0.2z"/><path fill="#94c1e5" stroke="#94c1e5" d="M288.4 249.2l2.4 -0.1 -1.0 -5.6 -2.4 0.1z"/><path fill="#93c0e5" stroke="#93c0e5" d="M290.8 249.1l2.4 -0.1 -1.0 -5.6 -2.4 0.1z"/><path fill="#96c2e6" stroke="#96c2e6" d="M293.2 249.0l2.4 -0.1 -1.0 -5.6 -2.4 0.1z"/><path fill="#96c2e6" stroke="#96c2e6" d="M295.6 248.9l2.4 -0.3 -1.1 -5.5 -2.4 0.2z"/><path fill="#96c2e6" stroke="#96c2e6" d="M298.0 248.7l2.4 -0.1 -1.1 -5.5 -2.4 0.1z"/><path fill="#97c3e6" stroke="#97c3e6" d="M300.4 248.5l2.4 0.0 -1.1 -5.5 -2.4 -0.0z"/><path fill="#96c2e6" stroke="#96c2e6" d="M302.8 248.5l2.4 -0.1 -1.1 -5.5 -2.4 0.1z"/><path fill="#90bee4" stroke="#90bee4" d="M305.2 248.4l2.4 -0.3 -1.2 -5.5 -2.4 0.3z"/><path fill="#8cbce3" stroke="#8cbce3" d="M307.7 248.1l2.4 -0.1 -1.2 -5.5 -2.4 0.1z"/><path fill="#8ebde4" stroke="#8ebde4" d="M310.1 248.0l2.4 -0.4 -1.2 -5.5 -2.4 0.4z"/><path fill="#8fbee4" stroke="#8fbee4" d="M312.5 247.6l2.4 -0.3 -1.3 -5.4 -2.4 0.3z"/><path fill="#91bfe4" stroke="#91bfe4" d="M314.9 247.3l2.4 -0.1 -1.3 -5.5 -2.4 0.1z"/><path fill="#8ebde4" stroke="#8ebde4" d="M317.3 247.2l2.4 -0.2 -1.3 -5.5 -2.4 0.2z"/><path fill="#88bae2" stroke="#88bae2" d="M319.7 247.0l2.4 -0.2 -1.3 -5.5 -2.4 0.2z"/><path fill="#88bae2" stroke="#88bae2" d="M322.1 246.8l2.4 -0.2 -1.4 -5.5 -2.4 0.2z"/><path fill="#91bfe4" stroke="#91bfe4" d="M324.5 246.6l2.4 -0.3 -1.4 -5.5 -2.4 0.3z"/><path fill="#98c3e6" stroke="#98c3e6" d="M326.9 246.3l2.4 -0.2 -1.4 -5.5 -2.4 0.2z"/><path fill="#95c2e5" stroke="#95c2e5" d="M329.3 246.1l2.4 -0.3 -1.5 -5.4 -2.4 0.2z"/><path fill="#94c1e5" stroke="#94c1e5" d="M331.7 245.8l2.4 -0.2 -1.5 -5.4 -2.4 0.2z"/><path fill="#96c2e6" stroke="#96c2e6" d="M334.1 245.6l2.4 -0.2 -1.5 -5.4 -2.4 0.2z"/><path fill="#98c3e6" stroke="#98c3e6" d="M336.5 245.4l2.4 -0.2 -1.5 -5.4 -2.4 0.2z"/><path fill="#99c4e6" stroke="#99c4e6" d="M338.9 245.2l2.4 -0.5 -1.6 -5.4 -2.4 0.5z"/><path fill="#9bc5e7" stroke="#9bc5e7" d="M341.3 244.7l2.4 -0.6 -1.6 -5.5 -2.4 0.6z"/><path fill="#9dc6e7" stroke="#9dc6e7" d="M343.7 244.1l2.4 -0.5 -1.6 -5.5 -2.4 0.5z"/><path fill="#9cc5e7" stroke="#9cc5e7" d="M346.1 243.7l2.4 -0.1 -1.7 -5.6 -2.4 0.2z"/><path fill="#9ac5e7" stroke="#9ac5e7" d="M348.5 243.6l2.4 -0.0 -1.7 -5.7 -2.4 0.1z"/><path fill="#99c4e6" stroke="#99c4e6" d="M350.9 243.5l2.4 -0.9 -1.7 -5.6 -2.4 0.9z"/><path fill="#95c1e5" stroke="#95c1e5" d="M353.3 242.6l2.4 -1.6 -1.7 -5.5 -2.4 1.4z"/><path fill="#96c2e6" stroke="#96c2e6" d="M355.7 241.1l2.4 -0.9 -1.8 -5.5 -2.4 0.9z"/><path fill="#99c4e6" stroke="#99c4e6" d="M358.1 240.1l2.4 -1.0 -1.8 -5.4 -2.4 0.9z"/><path fill="#9ac5e7" stroke="#9ac5e7" d="M360.5 239.2l2.4 -1.2 -1.8 -5.4 -2.4 1.1z"/><path fill="#98c3e6" stroke="#98c3e6" d="M362.9 238.0l2.4 -1.1 -1.9 -5.3 -2.4 1.1z"/><path fill="#97c2e6" stroke="#97c2e6" d="M365.3 236.9l0.8 -0.3 -1.9 -5.3 -0.8 0.3z"/><path fill="#2869bb" stroke="#2869bb" d="M125.0 278.2l2.4 0.9 1.0 -5.6 -2.4 -1.0z"/><path fill="#2667ba" stroke="#2667ba" d="M127.4 279.2l2.4 -1.3 0.9 -5.5 -2.4 1.2z"/><path fill="#2362b6" stroke="#2362b6" d="M129.9 277.9l2.4 0.8 0.9 -5.6 -2.4 -0.7z"/><path fill="#2261b5" stroke="#2261b5" d="M132.3 278.7l2.4 -0.0 0.9 -5.4 -2.4 -0.1z"/><path fill="#2465b8" stroke="#2465b8" d="M134.7 278.7l2.4 0.2 0.9 -5.4 -2.4 -0.2z"/><path fill="#2666b9" stroke="#2666b9" d="M137.1 278.8l2.4 0.1 0.8 -5.5 -2.4 -0.0z"/><path fill="#2464b8" stroke="#2464b8" d="M139.6 278.9l2.4 -0.0 0.8 -5.4 -2.4 -0.1z"/><path fill="#2565b8" stroke="#2565b8" d="M142.0 278.9l2.4 -0.8 0.8 -5.4 -2.4 0.9z"/><path fill="#2767ba" stroke="#2767ba" d="M144.4 278.1l2.4 0.3 0.7 -5.3 -2.4 -0.4z"/><path fill="#2768ba" stroke="#2768ba" d="M146.9 278.4l2.4 -0.5 0.7 -5.4 -2.4 0.5z"/><path fill="#2565b8" stroke="#2565b8" d="M149.3 277.9l2.4 0.4 0.7 -5.5 -2.4 -0.3z"/><path fill="#2464b7" stroke="#2464b7" d="M151.7 278.3l2.4 -0.1 0.7 -5.4 -2.4 0.0z"/><path fill="#2565b8" stroke="#2565b8" d="M154.2 278.2l2.4 -0.5 0.6 -5.4 -2.4 0.5z"/><path fill="#2767ba" stroke="#2767ba" d="M156.6 277.7l2.4 0.9 0.6 -5.5 -2.4 -0.8z"/><path fill="#296abc" stroke="#296abc" d="M159.0 278.6l2.4 -1.3 0.6 -5.5 -2.4 1.3z"/><path fill="#2a6bbd" stroke="#2a6bbd" d="M161.4 277.3l2.4 0.4 0.5 -5.5 -2.4 -0.4z"/><path fill="#2869bb" stroke="#2869bb" d="M163.9 277.7l2.4 -0.3 0.5 -5.5 -2.4 0.3z"/><path fill="#2768ba" stroke="#2768ba" d="M166.3 277.5l2.4 0.4 0.5 -5.6 -2.4 -0.4z"/><path fill="#2869bb" stroke="#2869bb" d="M168.7 277.9l2.4 -0.4 0.5 -5.6 -2.4 0.4z"/><path fill="#2a6cbd" stroke="#2a6cbd" d="M171.2 277.5l2.4 -0.2 0.4 -5.7 -2.4 0.2z"/><path fill="#2d6fc0" stroke="#2d6fc0" d="M173.6 277.3l2.4 -0.1 0.4 -5.6 -2.4 0.0z"/><path fill="#3376c5" stroke="#3376c5" d="M176.0 277.3l2.4 1.4 0.4 -5.8 -2.4 -1.2z"/><path fill="#3073c3" stroke="#3073c3" d="M178.4 278.7l2.4 -1.9 0.3 -5.5 -2.4 1.6z"/><path fill="#2a6bbd" stroke="#2a6bbd" d="M180.9 276.8l2.4 -0.5 0.3 -5.6 -2.4 0.5z"/><path fill="#2a6cbd" stroke="#2a6cbd" d="M183.3 276.3l2.4 -0.5 0.3 -5.5 -2.4 0.5z"/><path fill="#2b6dbe" stroke="#2b6dbe" d="M185.7 275.7l2.4 -0.1 0.3 -5.5 -2.4 0.1z"/><path fill="#296abc" stroke="#296abc" d="M188.2 275.6l2.4 0.5 0.2 -5.6 -2.4 -0.4z"/><path fill="#2768ba" stroke="#2768ba" d="M190.6 276.1l2.4 -0.0 0.2 -5.6 -2.4 -0.0z"/><path fill="#2768bb" stroke="#2768bb" d="M193.0 276.1l2.4 -1.2 0.2 -5.5 -2.4 1.1z"/><path fill="#2768ba" stroke="#2768ba" d="M195.5 274.9l2.4 -0.7 0.1 -5.5 -2.4 0.7z"/><path fill="#2666b9" stroke="#2666b9" d="M197.9 274.2l2.4 -0.3 0.1 -5.5 -2.4 0.3z"/><path fill="#2667ba" stroke="#2667ba" d="M200.3 273.9l2.4 0.5 0.1 -5.5 -2.4 -0.5z"/><path fill="#296bbc" stroke="#296bbc" d="M202.7 274.4l2.4 -0.1 0.1 -5.5 -2.4 0.1z"/><path fill="#2b6dbe" stroke="#2b6dbe" d="M205.2 274.3l2.4 -1.1 0.0 -5.4 -2.4 1.0z"/><path fill="#2b6dbe" stroke="#2b6dbe" d="M207.6 273.2l2.4 0.5 -0.0 -5.5 -2.4 -0.4z"/><path fill="#2c6ebf" stroke="#2c6ebf" d="M210.0 273.7l2.4 -2.2 -0.0 -5.5 -2.4 2.3z"/><path fill="#2c6ebf" stroke="#2c6ebf" d="M212.5 271.4l2.4 -0.4 -0.1 -5.6 -2.4 0.6z"/><path fill="#2c6ebf" stroke="#2c6ebf" d="M214.9 271.0l2.4 -1.0 -0.1 -5.7 -2.4 1.1z"/><path fill="#2e70c0" stroke="#2e70c0" d="M217.3 270.0l2.4 -0.8 -0.1 -5.8 -2.4 0.9z"/><path fill="#3275c4" stroke="#3275c4" d="M219.7 269.1l2.4 -1.9 -0.1 -5.8 -2.4 1.8z"/><path fill="#367ac7" stroke="#367ac7" d="M222.2 267.3l2.4 -0.7 -0.2 -6.0 -2.4 0.8z"/><path fill="#397eca" stroke="#397eca" d="M224.6 266.6l2.4 -1.9 -0.2 -6.1 -2.4 2.0z"/><path fill="#3f85ce" stroke="#3f85ce" d="M227.0 264.7l2.4 -2.6 -0.2 -6.2 -2.4 2.7z"/><path fill="#4589d0" stroke="#4589d0" d="M229.5 262.2l0.8 -1.3 -0.2 -6.1 -0.8 1.2z"/><path fill="#488cd1" stroke="#488cd1" d="M230.3 260.9l0.7 -1.0 -0.3 -6.2 -0.7 1.1z"/><path fill="#4c8fd2" stroke="#4c8fd2" d="M231.0 259.9l0.7 -1.0 -0.3 -6.3 -0.7 1.1z"/><path fill="#4f91d3" stroke="#4f91d3" d="M231.7 258.9l0.7 -1.3 -0.3 -6.4 -0.7 1.4z"/><path fill="#5394d4" stroke="#5394d4" d="M232.5 257.6l0.7 -1.5 -0.3 -6.4 -0.7 1.5z"/><path fill="#5999d6" stroke="#5999d6" d="M233.2 256.1l0.7 -2.7 -0.3 -6.5 -0.7 2.8z"/><path fill="#61a0d8" stroke="#61a0d8" d="M233.9 253.4l0.7 -3.1 -0.3 -6.7 -0.7 3.3z"/><path fill="#6ca9dc" stroke="#6ca9dc" d="M234.6 250.3l0.7 -3.3 -0.3 -6.9 -0.7 3.5z"/><path fill="#81b6e1" stroke="#81b6e1" d="M235.4 247.0l0.7 -3.6 -0.3 -7.1 -0.7 3.8z"/><path fill="#9bc5e7" stroke="#9bc5e7" d="M236.1 243.5l0.7 -4.2 -0.3 -7.5 -0.7 4.5z"/><path fill="#b5d5ed" stroke="#b5d5ed" d="M236.8 239.3l0.7 -4.2 -0.3 -7.8 -0.7 4.5z"/><path fill="#d3e3f1" stroke="#d3e3f1" d="M237.6 235.1l0.7 -4.4 -0.3 -8.1 -0.7 4.7z"/><path fill="#f3f2f3" stroke="#f3f2f3" d="M238.3 230.7l0.7 -4.4 -0.3 -8.5 -0.7 4.7z"/><path fill="#f7dacd" stroke="#f7dacd" d="M239.0 226.3l0.7 -4.7 -0.4 -8.8 -0.7 5.0z"/><path fill="#f7bca3" stroke="#f7bca3" d="M239.7 221.6l0.7 -4.4 -0.4 -9.1 -0.7 4.7z"/><path fill="#f3a083" stroke="#f3a083" d="M240.5 217.2l0.7 -3.6 -0.4 -9.3 -0.7 3.8z"/><path fill="#ef8b6d" stroke="#ef8b6d" d="M241.2 213.5l0.7 -3.2 -0.4 -9.5 -0.7 3.4z"/><path fill="#ec7f63" stroke="#ec7f63" d="M241.9 210.4l0.7 -1.0 -0.4 -9.5 -0.7 1.0z"/><path fill="#ea795e" stroke="#ea795e" d="M242.7 209.4l0.7 -0.5 -0.4 -9.5 -0.7 0.5z"/><path fill="#eb7b60" stroke="#eb7b60" d="M243.4 208.9l0.7 0.4 -0.4 -9.4 -0.7 -0.6z"/><path fill="#ef8c6d" stroke="#ef8c6d" d="M244.1 209.3l0.7 2.8 -0.4 -9.2 -0.7 -3.0z"/><path fill="#f3a285" stroke="#f3a285" d="M244.8 212.1l0.7 3.6 -0.4 -8.8 -0.7 -4.0z"/><path fill="#f7baa1" stroke="#f7baa1" d="M245.6 215.7l0.7 4.4 -0.4 -8.4 -0.7 -4.9z"/><path fill="#f7d6c7" stroke="#f7d6c7" d="M246.3 220.1l0.7 5.8 -0.4 -7.8 -0.7 -6.3z"/><path fill="#f2f3f5" stroke="#f2f3f5" d="M247.0 225.9l0.7 6.2 -0.4 -7.4 -0.7 -6.7z"/><path fill="#c6ddf0" stroke="#c6ddf0" d="M247.8 232.1l0.7 5.9 -0.5 -6.9 -0.7 -6.4z"/><path fill="#a5cbe9" stroke="#a5cbe9" d="M248.5 238.1l0.7 5.4 -0.5 -6.4 -0.7 -5.9z"/><path fill="#8abbe3" stroke="#8abbe3" d="M249.2 243.4l0.7 4.2 -0.5 -6.1 -0.7 -4.5z"/><path fill="#74aedd" stroke="#74aedd" d="M249.9 247.6l0.7 3.5 -0.5 -5.8 -0.7 -3.8z"/><path fill="#69a6da" stroke="#69a6da" d="M250.7 251.1l0.7 1.6 -0.5 -5.9 -0.7 -1.6z"/><path fill="#68a5da" stroke="#68a5da" d="M251.4 252.7l0.7 1.8 -0.5 -5.9 -0.7 -1.8z"/><path fill="#6aa7db" stroke="#6aa7db" d="M252.1 254.6l0.7 -0.3 -0.5 -6.1 -0.7 0.5z"/><path fill="#6da9dc" stroke="#6da9dc" d="M252.9 254.3l0.7 -0.6 -0.5 -6.2 -0.7 0.8z"/><path fill="#6fabdc" stroke="#6fabdc" d="M253.6 253.6l0.7 -0.8 -0.5 -6.3 -0.7 0.9z"/><path fill="#72acdd" stroke="#72acdd" d="M254.3 252.9l0.2 -0.2 -0.5 -6.3 -0.2 0.3z"/><path fill="#6eaadc" stroke="#6eaadc" d="M254.6 252.7l1.5 -0.5 -0.5 -6.5 -1.4 0.6z"/><path fill="#6ca8db" stroke="#6ca8db" d="M256.0 252.2l1.5 -0.3 -0.6 -6.5 -1.4 0.3z"/><path fill="#6eaadc" stroke="#6eaadc" d="M257.5 251.9l1.5 0.1 -0.6 -6.5 -1.4 -0.2z"/><path fill="#71acdd" stroke="#71acdd" d="M258.9 252.0l1.5 0.1 -0.6 -6.5 -1.4 0.0z"/><path fill="#72addd" stroke="#72addd" d="M260.4 252.1l1.5 -0.6 -0.6 -6.6 -1.4 0.7z"/><path fill="#71acdd" stroke="#71acdd" d="M261.9 251.5l1.5 -0.6 -0.6 -6.7 -1.4 0.7z"/><path fill="#77b0de" stroke="#77b0de" d="M263.3 250.8l1.5 -0.7 -0.6 -6.8 -1.4 0.8z"/><path fill="#82b6e1" stroke="#82b6e1" d="M264.8 250.2l1.5 -0.9 -0.7 -7.0 -1.4 1.0z"/><path fill="#8dbde3" stroke="#8dbde3" d="M266.2 249.3l1.5 -0.6 -0.7 -7.0 -1.4 0.7z"/><path fill="#94c1e5" stroke="#94c1e5" d="M267.7 248.6l1.5 -0.8 -0.7 -7.1 -1.4 0.9z"/><path fill="#9bc5e7" stroke="#9bc5e7" d="M269.1 247.8l1.5 -0.8 -0.7 -7.1 -1.4 0.8z"/><path fill="#a1c9e8" stroke="#a1c9e8" d="M270.6 247.0l1.5 -0.2 -0.7 -7.2 -1.4 0.3z"/><path fill="#a6cce9" stroke="#a6cce9" d="M272.1 246.8l1.5 -0.5 -0.8 -7.1 -1.4 0.4z"/><path fill="#add0eb" stroke="#add0eb" d="M273.5 246.3l1.5 -0.0 -0.8 -7.1 -1.4 0.0z"/><path fill="#b0d2ec" stroke="#b0d2ec" d="M275.0 246.2l1.5 0.5 -0.8 -7.0 -1.4 -0.6z"/><path fill="#accfeb" stroke="#accfeb" d="M276.4 246.8l1.5 0.3 -0.8 -6.9 -1.4 -0.4z"/><path fill="#9fc8e8" stroke="#9fc8e8" d="M277.9 247.1l1.5 1.2 -0.8 -6.7 -1.4 -1.4z"/><path fill="#94c1e5" stroke="#94c1e5" d="M279.3 248.3l1.5 1.5 -0.8 -6.5 -1.4 -1.7z"/><path fill="#90bee4" stroke="#90bee4" d="M280.8 249.8l1.5 1.3 -0.9 -6.2 -1.4 -1.5z"/><path fill="#8cbce3" stroke="#8cbce3" d="M282.3 251.1l1.5 1.8 -0.9 -6.0 -1.4 -2.0z"/><path fill="#83b6e1" stroke="#83b6e1" d="M283.7 252.8l1.5 1.1 -0.9 -5.8 -1.4 -1.3z"/><path fill="#7fb4e0" stroke="#7fb4e0" d="M285.2 253.9l1.5 0.8 -0.9 -5.7 -1.4 -0.9z"/><path fill="#85b8e2" stroke="#85b8e2" d="M286.6 254.7l0.3 0.1 -0.9 -5.7 -0.3 -0.1z"/><path fill="#8cbce3" stroke="#8cbce3" d="M287.0 254.8l2.4 -0.0 -0.9 -5.6 -2.4 -0.1z"/><path fill="#8cbce3" stroke="#8cbce3" d="M289.4 254.8l2.4 -0.1 -1.0 -5.6 -2.4 0.1z"/><path fill="#8bbbe3" stroke="#8bbbe3" d="M291.8 254.6l2.4 -0.1 -1.0 -5.6 -2.4 0.1z"/><path fill="#8dbde4" stroke="#8dbde4" d="M294.2 254.6l2.4 -0.1 -1.0 -5.6 -2.4 0.1z"/><path fill="#8ebde4" stroke="#8ebde4" d="M296.7 254.5l2.4 -0.3 -1.1 -5.5 -2.4 0.3z"/><path fill="#8ebde4" stroke="#8ebde4" d="M299.1 254.2l2.4 -0.2 -1.1 -5.5 -2.4 0.1z"/><path fill="#8fbee4" stroke="#8fbee4" d="M301.5 254.0l2.4 0.0 -1.1 -5.5 -2.4 -0.0z"/><path fill="#8ebde4" stroke="#8ebde4" d="M304.0 254.1l2.4 -0.2 -1.1 -5.5 -2.4 0.1z"/><path fill="#88b9e2" stroke="#88b9e2" d="M306.4 253.9l2.4 -0.3 -1.2 -5.5 -2.4 0.3z"/><path fill="#83b7e1" stroke="#83b7e1" d="M308.8 253.6l2.4 -0.1 -1.2 -5.5 -2.4 0.1z"/><path fill="#85b8e1" stroke="#85b8e1" d="M311.2 253.5l2.4 -0.4 -1.2 -5.5 -2.4 0.4z"/><path fill="#87b9e2" stroke="#87b9e2" d="M313.7 253.1l2.4 -0.3 -1.3 -5.4 -2.4 0.3z"/><path fill="#88bae2" stroke="#88bae2" d="M316.1 252.8l2.4 -0.1 -1.3 -5.5 -2.4 0.1z"/><path fill="#85b8e2" stroke="#85b8e2" d="M318.5 252.7l2.4 -0.2 -1.3 -5.5 -2.4 0.2z"/><path fill="#7fb4e0" stroke="#7fb4e0" d="M321.0 252.5l2.4 -0.2 -1.3 -5.5 -2.4 0.2z"/><path fill="#7fb4e0" stroke="#7fb4e0" d="M323.4 252.3l2.4 -0.2 -1.4 -5.5 -2.4 0.2z"/><path fill="#88bae2" stroke="#88bae2" d="M325.8 252.1l2.4 -0.3 -1.4 -5.5 -2.4 0.3z"/><path fill="#90bee4" stroke="#90bee4" d="M328.3 251.8l2.4 -0.2 -1.4 -5.5 -2.4 0.2z"/><path fill="#8dbde3" stroke="#8dbde3" d="M330.7 251.5l2.4 -0.3 -1.5 -5.4 -2.4 0.3z"/><path fill="#8bbce3" stroke="#8bbce3" d="M333.1 251.3l2.4 -0.2 -1.5 -5.4 -2.4 0.2z"/><path fill="#8ebde4" stroke="#8ebde4" d="M335.5 251.0l2.4 -0.2 -1.5 -5.4 -2.4 0.2z"/><path fill="#90bee4" stroke="#90bee4" d="M338.0 250.8l2.4 -0.2 -1.5 -5.4 -2.4 0.2z"/><path fill="#90bfe4" stroke="#90bfe4" d="M340.4 250.6l2.4 -0.5 -1.6 -5.4 -2.4 0.5z"/><path fill="#93c0e5" stroke="#93c0e5" d="M342.8 250.1l2.4 -0.6 -1.6 -5.5 -2.4 0.6z"/><path fill="#95c2e5" stroke="#95c2e5" d="M345.3 249.6l2.4 -0.4 -1.6 -5.5 -2.4 0.5z"/><path fill="#94c1e5" stroke="#94c1e5" d="M347.7 249.1l2.4 0.0 -1.7 -5.6 -2.4 0.1z"/><path fill="#92c0e5" stroke="#92c0e5" d="M350.1 249.2l2.4 0.1 -1.7 -5.7 -2.4 0.0z"/><path fill="#91bfe4" stroke="#91bfe4" d="M352.5 249.2l2.4 -0.9 -1.7 -5.6 -2.4 0.9z"/><path fill="#8dbde3" stroke="#8dbde3" d="M355.0 248.3l2.4 -1.7 -1.7 -5.5 -2.4 1.6z"/><path fill="#8ebde4" stroke="#8ebde4" d="M357.4 246.6l2.4 -1.0 -1.8 -5.5 -2.4 0.9z"/><path fill="#91bfe4" stroke="#91bfe4" d="M359.8 245.6l2.4 -1.0 -1.8 -5.4 -2.4 1.0z"/><path fill="#92c0e5" stroke="#92c0e5" d="M362.3 244.6l2.4 -1.3 -1.8 -5.4 -2.4 1.2z"/><path fill="#90bfe4" stroke="#90bfe4" d="M364.7 243.4l2.4 -1.2 -1.9 -5.3 -2.4 1.1z"/><path fill="#8ebde4" stroke="#8ebde4" d="M367.1 242.2l0.8 -0.3 -1.9 -5.3 -0.8 0.3z"/><path fill="#2565b8" stroke="#2565b8" d="M124.0 283.8l2.5 0.9 1.0 -5.6 -2.4 -0.9z"/><path fill="#2363b7" stroke="#2363b7" d="M126.5 284.7l2.5 -1.3 0.9 -5.5 -2.4 1.3z"/><path fill="#1f5eb3" stroke="#1f5eb3" d="M128.9 283.4l2.5 0.9 0.9 -5.6 -2.4 -0.8z"/><path fill="#1f5db2" stroke="#1f5db2" d="M131.4 284.3l2.5 -0.1 0.9 -5.4 -2.4 0.0z"/><path fill="#2160b5" stroke="#2160b5" d="M133.8 284.1l2.5 0.2 0.9 -5.4 -2.4 -0.2z"/><path fill="#2262b6" stroke="#2262b6" d="M136.3 284.3l2.5 0.1 0.8 -5.5 -2.4 -0.1z"/><path fill="#2160b5" stroke="#2160b5" d="M138.7 284.4l2.5 -0.1 0.8 -5.4 -2.4 0.0z"/><path fill="#2160b5" stroke="#2160b5" d="M141.2 284.3l2.5 -0.8 0.8 -5.4 -2.4 0.8z"/><path fill="#2363b7" stroke="#2363b7" d="M143.7 283.5l2.5 0.2 0.7 -5.3 -2.4 -0.3z"/><path fill="#2363b7" stroke="#2363b7" d="M146.1 283.7l2.5 -0.5 0.7 -5.4 -2.4 0.5z"/><path fill="#2161b5" stroke="#2161b5" d="M148.6 283.3l2.5 0.5 0.7 -5.5 -2.4 -0.4z"/><path fill="#205fb4" stroke="#205fb4" d="M151.0 283.8l2.5 -0.2 0.7 -5.4 -2.4 0.1z"/><path fill="#2160b5" stroke="#2160b5" d="M153.5 283.6l2.5 -0.5 0.6 -5.4 -2.4 0.5z"/><path fill="#2363b7" stroke="#2363b7" d="M156.0 283.1l2.5 1.0 0.6 -5.5 -2.4 -0.9z"/><path fill="#2666b9" stroke="#2666b9" d="M158.4 284.1l2.5 -1.3 0.6 -5.5 -2.4 1.3z"/><path fill="#2667ba" stroke="#2667ba" d="M160.9 282.9l2.5 0.4 0.5 -5.5 -2.4 -0.4z"/><path fill="#2565b8" stroke="#2565b8" d="M163.3 283.2l2.5 -0.2 0.5 -5.5 -2.4 0.3z"/><path fill="#2463b7" stroke="#2463b7" d="M165.8 283.0l2.5 0.5 0.5 -5.6 -2.4 -0.4z"/><path fill="#2565b8" stroke="#2565b8" d="M168.2 283.5l2.5 -0.3 0.5 -5.6 -2.4 0.4z"/><path fill="#2768ba" stroke="#2768ba" d="M170.7 283.1l2.5 -0.1 0.4 -5.7 -2.4 0.2z"/><path fill="#2a6bbd" stroke="#2a6bbd" d="M173.2 283.0l2.5 -0.2 0.4 -5.6 -2.4 0.1z"/><path fill="#3073c2" stroke="#3073c2" d="M175.6 282.9l2.5 1.7 0.4 -5.8 -2.4 -1.4z"/><path fill="#2d6fc0" stroke="#2d6fc0" d="M178.1 284.5l2.5 -2.2 0.3 -5.5 -2.4 1.9z"/><path fill="#2667b9" stroke="#2667b9" d="M180.5 282.3l2.5 -0.5 0.3 -5.6 -2.4 0.5z"/><path fill="#2768ba" stroke="#2768ba" d="M183.0 281.8l2.5 -0.5 0.3 -5.5 -2.4 0.5z"/><path fill="#2869bb" stroke="#2869bb" d="M185.4 281.3l2.5 -0.2 0.3 -5.5 -2.4 0.1z"/><path fill="#2566b9" stroke="#2566b9" d="M187.9 281.1l2.5 0.6 0.2 -5.6 -2.4 -0.5z"/><path fill="#2463b7" stroke="#2463b7" d="M190.4 281.7l2.5 -0.1 0.2 -5.6 -2.4 0.0z"/><path fill="#2464b7" stroke="#2464b7" d="M192.8 281.7l2.5 -1.3 0.2 -5.5 -2.4 1.2z"/><path fill="#2363b7" stroke="#2363b7" d="M195.3 280.3l2.5 -0.7 0.1 -5.5 -2.4 0.7z"/><path fill="#2262b6" stroke="#2262b6" d="M197.7 279.7l2.5 -0.2 0.1 -5.5 -2.4 0.3z"/><path fill="#2362b6" stroke="#2362b6" d="M200.2 279.4l2.5 0.5 0.1 -5.5 -2.4 -0.5z"/><path fill="#2666b9" stroke="#2666b9" d="M202.7 279.9l2.5 -0.1 0.1 -5.5 -2.4 0.1z"/><path fill="#2768bb" stroke="#2768bb" d="M205.1 279.8l2.5 -1.2 0.0 -5.4 -2.4 1.1z"/><path fill="#2869bb" stroke="#2869bb" d="M207.6 278.6l2.5 0.5 -0.0 -5.5 -2.4 -0.5z"/><path fill="#2869bb" stroke="#2869bb" d="M210.0 279.1l2.5 -2.2 -0.0 -5.5 -2.4 2.2z"/><path fill="#2869bb" stroke="#2869bb" d="M212.5 276.9l2.5 -0.3 -0.1 -5.6 -2.4 0.4z"/><path fill="#2869bb" stroke="#2869bb" d="M214.9 276.6l2.5 -0.9 -0.1 -5.7 -2.4 1.0z"/><path fill="#2a6bbd" stroke="#2a6bbd" d="M217.4 275.7l2.5 -0.7 -0.1 -5.8 -2.4 0.8z"/><path fill="#2e70c0" stroke="#2e70c0" d="M219.9 275.0l2.5 -1.9 -0.1 -5.8 -2.4 1.9z"/><path fill="#3275c4" stroke="#3275c4" d="M222.3 273.1l2.5 -0.5 -0.2 -6.0 -2.4 0.7z"/><path fill="#3579c7" stroke="#3579c7" d="M224.8 272.5l2.5 -1.7 -0.2 -6.1 -2.4 1.9z"/><path fill="#3a7fcb" stroke="#3a7fcb" d="M227.2 270.8l2.5 -2.5 -0.2 -6.2 -2.4 2.6z"/><path fill="#3c82cd" stroke="#3c82cd" d="M229.7 268.3l0.8 -1.3 -0.2 -6.1 -0.8 1.3z"/><path fill="#3f84ce" stroke="#3f84ce" d="M230.5 267.0l0.7 -0.9 -0.3 -6.2 -0.7 1.0z"/><path fill="#4387cf" stroke="#4387cf" d="M231.3 266.1l0.7 -0.9 -0.3 -6.3 -0.7 1.0z"/><path fill="#458ad0" stroke="#458ad0" d="M232.0 265.2l0.7 -1.3 -0.3 -6.4 -0.7 1.3z"/><path fill="#498cd1" stroke="#498cd1" d="M232.7 263.9l0.7 -1.4 -0.3 -6.4 -0.7 1.5z"/><path fill="#4e91d3" stroke="#4e91d3" d="M233.5 262.5l0.7 -2.6 -0.3 -6.5 -0.7 2.7z"/><path fill="#5697d5" stroke="#5697d5" d="M234.2 260.0l0.7 -2.9 -0.3 -6.7 -0.7 3.1z"/><path fill="#619fd8" stroke="#619fd8" d="M234.9 257.0l0.7 -3.1 -0.3 -6.9 -0.7 3.3z"/><path fill="#6eaadc" stroke="#6eaadc" d="M235.7 253.9l0.7 -3.4 -0.3 -7.1 -0.7 3.6z"/><path fill="#87b9e2" stroke="#87b9e2" d="M236.4 250.6l0.7 -3.8 -0.3 -7.5 -0.7 4.2z"/><path fill="#9ec7e7" stroke="#9ec7e7" d="M237.1 246.8l0.7 -3.8 -0.3 -7.8 -0.7 4.2z"/><path fill="#b5d5ed" stroke="#b5d5ed" d="M237.9 242.9l0.7 -4.1 -0.3 -8.1 -0.7 4.4z"/><path fill="#d3e4f1" stroke="#d3e4f1" d="M238.6 238.8l0.7 -4.0 -0.3 -8.5 -0.7 4.4z"/><path fill="#f4efef" stroke="#f4efef" d="M239.4 234.8l0.7 -4.4 -0.4 -8.8 -0.7 4.7z"/><path fill="#f7d6c6" stroke="#f7d6c6" d="M240.1 230.4l0.7 -4.1 -0.4 -9.1 -0.7 4.4z"/><path fill="#f7bfa7" stroke="#f7bfa7" d="M240.8 226.3l0.7 -3.5 -0.4 -9.3 -0.7 3.6z"/><path fill="#f5ac90" stroke="#f5ac90" d="M241.6 222.8l0.7 -2.9 -0.4 -9.5 -0.7 3.2z"/><path fill="#f3a184" stroke="#f3a184" d="M242.3 219.9l0.7 -0.9 -0.4 -9.5 -0.7 1.0z"/><path fill="#f29c7e" stroke="#f29c7e" d="M243.0 218.9l0.7 -0.6 -0.4 -9.5 -0.7 0.5z"/><path fill="#f29d7e" stroke="#f29d7e" d="M243.8 218.4l0.7 0.3 -0.4 -9.4 -0.7 -0.4z"/><path fill="#f4ab8f" stroke="#f4ab8f" d="M244.5 218.7l0.7 2.5 -0.4 -9.2 -0.7 -2.8z"/><path fill="#f7bfa6" stroke="#f7bfa6" d="M245.3 221.2l0.7 3.2 -0.4 -8.8 -0.7 -3.6z"/><path fill="#f8d2bf" stroke="#f8d2bf" d="M246.0 224.5l0.7 4.0 -0.4 -8.4 -0.7 -4.4z"/><path fill="#f5e7e2" stroke="#f5e7e2" d="M246.7 228.5l0.7 5.3 -0.4 -7.8 -0.7 -5.8z"/><path fill="#dae7f2" stroke="#dae7f2" d="M247.5 233.8l0.7 5.7 -0.4 -7.4 -0.7 -6.2z"/><path fill="#b3d4ed" stroke="#b3d4ed" d="M248.2 239.5l0.7 5.5 -0.5 -6.9 -0.7 -5.9z"/><path fill="#97c3e6" stroke="#97c3e6" d="M248.9 245.0l0.7 4.9 -0.5 -6.4 -0.7 -5.4z"/><path fill="#7fb4e0" stroke="#7fb4e0" d="M249.7 249.9l0.7 3.8 -0.5 -6.1 -0.7 -4.2z"/><path fill="#6ca8db" stroke="#6ca8db" d="M250.4 253.7l0.7 3.3 -0.5 -5.8 -0.7 -3.5z"/><path fill="#63a1d9" stroke="#63a1d9" d="M251.2 257.0l0.7 1.6 -0.5 -5.9 -0.7 -1.6z"/><path fill="#62a0d8" stroke="#62a0d8" d="M251.9 258.6l0.7 1.8 -0.5 -5.9 -0.7 -1.8z"/><path fill="#64a2d9" stroke="#64a2d9" d="M252.6 260.4l0.7 -0.1 -0.5 -6.1 -0.7 0.3z"/><path fill="#67a4da" stroke="#67a4da" d="M253.4 260.3l0.7 -0.5 -0.5 -6.2 -0.7 0.6z"/><path fill="#69a6da" stroke="#69a6da" d="M254.1 259.8l0.7 -0.7 -0.5 -6.3 -0.7 0.8z"/><path fill="#6aa7db" stroke="#6aa7db" d="M254.8 259.2l0.2 -0.2 -0.5 -6.3 -0.2 0.2z"/><path fill="#68a5da" stroke="#68a5da" d="M255.1 259.0l1.5 -0.4 -0.5 -6.5 -1.5 0.5z"/><path fill="#65a3d9" stroke="#65a3d9" d="M256.6 258.6l1.5 -0.2 -0.6 -6.5 -1.5 0.3z"/><path fill="#67a5da" stroke="#67a5da" d="M258.0 258.4l1.5 0.0 -0.6 -6.5 -1.5 -0.1z"/><path fill="#6aa7db" stroke="#6aa7db" d="M259.5 258.5l1.5 0.1 -0.6 -6.5 -1.5 -0.1z"/><path fill="#6aa7db" stroke="#6aa7db" d="M261.0 258.6l1.5 -0.5 -0.6 -6.6 -1.5 0.6z"/><path fill="#69a6db" stroke="#69a6db" d="M262.5 258.1l1.5 -0.6 -0.6 -6.7 -1.5 0.6z"/><path fill="#6da9dc" stroke="#6da9dc" d="M263.9 257.5l1.5 -0.5 -0.6 -6.8 -1.5 0.7z"/><path fill="#77afde" stroke="#77afde" d="M265.4 257.0l1.5 -0.8 -0.7 -7.0 -1.5 0.9z"/><path fill="#81b5e1" stroke="#81b5e1" d="M266.9 256.2l1.5 -0.5 -0.7 -7.0 -1.5 0.6z"/><path fill="#87b9e2" stroke="#87b9e2" d="M268.4 255.7l1.5 -0.8 -0.7 -7.1 -1.5 0.8z"/><path fill="#8dbde4" stroke="#8dbde4" d="M269.8 254.8l1.5 -0.7 -0.7 -7.1 -1.5 0.8z"/><path fill="#92c0e5" stroke="#92c0e5" d="M271.3 254.1l1.5 -0.2 -0.7 -7.2 -1.5 0.2z"/><path fill="#96c2e6" stroke="#96c2e6" d="M272.8 253.9l1.5 -0.5 -0.8 -7.1 -1.5 0.5z"/><path fill="#9dc6e7" stroke="#9dc6e7" d="M274.3 253.4l1.5 -0.1 -0.8 -7.1 -1.5 0.0z"/><path fill="#a1c9e8" stroke="#a1c9e8" d="M275.7 253.4l1.5 0.4 -0.8 -7.0 -1.5 -0.5z"/><path fill="#9ec7e8" stroke="#9ec7e8" d="M277.2 253.8l1.5 0.2 -0.8 -6.9 -1.5 -0.3z"/><path fill="#93c0e5" stroke="#93c0e5" d="M278.7 254.0l1.5 1.0 -0.8 -6.7 -1.5 -1.2z"/><path fill="#88b9e2" stroke="#88b9e2" d="M280.2 255.0l1.5 1.3 -0.8 -6.5 -1.5 -1.5z"/><path fill="#86b8e2" stroke="#86b8e2" d="M281.6 256.3l1.5 1.0 -0.9 -6.2 -1.5 -1.3z"/><path fill="#82b6e1" stroke="#82b6e1" d="M283.1 257.3l1.5 1.5 -0.9 -6.0 -1.5 -1.8z"/><path fill="#79b1df" stroke="#79b1df" d="M284.6 258.8l1.5 0.9 -0.9 -5.8 -1.5 -1.1z"/><path fill="#75aede" stroke="#75aede" d="M286.1 259.7l1.5 0.7 -0.9 -5.7 -1.5 -0.8z"/><path fill="#7cb2df" stroke="#7cb2df" d="M287.5 260.4l0.3 0.0 -0.9 -5.7 -0.3 -0.1z"/><path fill="#83b7e1" stroke="#83b7e1" d="M287.9 260.5l2.5 -0.1 -0.9 -5.6 -2.4 0.0z"/><path fill="#83b6e1" stroke="#83b6e1" d="M290.3 260.3l2.5 -0.1 -1.0 -5.6 -2.4 0.1z"/><path fill="#82b6e1" stroke="#82b6e1" d="M292.8 260.2l2.5 -0.1 -1.0 -5.6 -2.4 0.1z"/><path fill="#85b8e2" stroke="#85b8e2" d="M295.2 260.1l2.5 -0.1 -1.0 -5.6 -2.4 0.1z"/><path fill="#85b8e2" stroke="#85b8e2" d="M297.7 260.0l2.5 -0.3 -1.1 -5.5 -2.4 0.3z"/><path fill="#85b8e2" stroke="#85b8e2" d="M300.2 259.7l2.5 -0.2 -1.1 -5.5 -2.4 0.2z"/><path fill="#87b9e2" stroke="#87b9e2" d="M302.6 259.6l2.5 0.0 -1.1 -5.5 -2.4 -0.0z"/><path fill="#85b8e2" stroke="#85b8e2" d="M305.1 259.6l2.5 -0.2 -1.1 -5.5 -2.4 0.2z"/><path fill="#7fb4e0" stroke="#7fb4e0" d="M307.5 259.4l2.5 -0.4 -1.2 -5.5 -2.4 0.3z"/><path fill="#7ab1df" stroke="#7ab1df" d="M310.0 259.0l2.5 -0.1 -1.2 -5.5 -2.4 0.1z"/><path fill="#7cb2df" stroke="#7cb2df" d="M312.4 259.0l2.5 -0.4 -1.2 -5.5 -2.4 0.4z"/><path fill="#7eb4e0" stroke="#7eb4e0" d="M314.9 258.5l2.5 -0.3 -1.3 -5.4 -2.4 0.3z"/><path fill="#80b5e0" stroke="#80b5e0" d="M317.4 258.2l2.5 -0.1 -1.3 -5.5 -2.4 0.1z"/><path fill="#7cb3df" stroke="#7cb3df" d="M319.8 258.1l2.5 -0.2 -1.3 -5.5 -2.4 0.2z"/><path fill="#76afde" stroke="#76afde" d="M322.3 257.9l2.5 -0.2 -1.3 -5.5 -2.4 0.2z"/><path fill="#76afde" stroke="#76afde" d="M324.7 257.8l2.5 -0.2 -1.4 -5.5 -2.4 0.2z"/><path fill="#80b5e0" stroke="#80b5e0" d="M327.2 257.5l2.5 -0.3 -1.4 -5.5 -2.4 0.3z"/><path fill="#87b9e2" stroke="#87b9e2" d="M329.7 257.2l2.5 -0.2 -1.4 -5.5 -2.4 0.2z"/><path fill="#84b7e1" stroke="#84b7e1" d="M332.1 257.0l2.5 -0.3 -1.5 -5.4 -2.4 0.3z"/><path fill="#83b6e1" stroke="#83b6e1" d="M334.6 256.7l2.5 -0.2 -1.5 -5.4 -2.4 0.2z"/><path fill="#86b8e2" stroke="#86b8e2" d="M337.0 256.5l2.5 -0.2 -1.5 -5.4 -2.4 0.2z"/><path fill="#87b9e2" stroke="#87b9e2" d="M339.5 256.3l2.5 -0.2 -1.5 -5.4 -2.4 0.2z"/><path fill="#88bae2" stroke="#88bae2" d="M341.9 256.1l2.5 -0.5 -1.6 -5.4 -2.4 0.5z"/><path fill="#8bbbe3" stroke="#8bbbe3" d="M344.4 255.6l2.5 -0.5 -1.6 -5.5 -2.4 0.6z"/><path fill="#8dbde3" stroke="#8dbde3" d="M346.9 255.0l2.5 -0.4 -1.6 -5.5 -2.4 0.4z"/><path fill="#8cbce3" stroke="#8cbce3" d="M349.3 254.6l2.5 0.1 -1.7 -5.6 -2.4 -0.0z"/><path fill="#8abbe3" stroke="#8abbe3" d="M351.8 254.7l2.5 0.2 -1.7 -5.7 -2.4 -0.1z"/><path fill="#88bae2" stroke="#88bae2" d="M354.2 254.9l2.5 -1.0 -1.7 -5.6 -2.4 0.9z"/><path fill="#84b7e1" stroke="#84b7e1" d="M356.7 253.9l2.5 -1.8 -1.7 -5.5 -2.4 1.7z"/><path fill="#85b8e2" stroke="#85b8e2" d="M359.1 252.1l2.5 -1.0 -1.8 -5.5 -2.4 1.0z"/><path fill="#88bae2" stroke="#88bae2" d="M361.6 251.1l2.5 -1.0 -1.8 -5.4 -2.4 1.0z"/><path fill="#8abbe3" stroke="#8abbe3" d="M364.1 250.1l2.5 -1.4 -1.8 -5.4 -2.4 1.3z"/><path fill="#88bae2" stroke="#88bae2" d="M366.5 248.7l2.5 -1.2 -1.9 -5.3 -2.4 1.2z"/><path fill="#86b8e2" stroke="#86b8e2" d="M369.0 247.5l0.8 -0.3 -1.9 -5.3 -0.8 0.3z"/><path fill="#2161b5" stroke="#2161b5" d="M123.0 289.4l2.5 0.9 1.0 -5.6 -2.5 -0.9z"/><path fill="#205fb4" stroke="#205fb4" d="M125.5 290.3l2.5 -1.4 0.9 -5.5 -2.5 1.3z"/><path fill="#1d5aae" stroke="#1d5aae" d="M128.0 288.9l2.5 1.0 0.9 -5.6 -2.5 -0.9z"/><path fill="#1c59ad" stroke="#1c59ad" d="M130.5 289.9l2.5 -0.3 0.9 -5.4 -2.5 0.1z"/><path fill="#1e5cb1" stroke="#1e5cb1" d="M132.9 289.6l2.5 0.2 0.9 -5.4 -2.5 -0.2z"/><path fill="#1f5eb2" stroke="#1f5eb2" d="M135.4 289.7l2.5 0.1 0.8 -5.5 -2.5 -0.1z"/><path fill="#1e5cb1" stroke="#1e5cb1" d="M137.9 289.8l2.5 -0.2 0.8 -5.4 -2.5 0.1z"/><path fill="#1e5cb1" stroke="#1e5cb1" d="M140.4 289.7l2.5 -0.7 0.8 -5.4 -2.5 0.8z"/><path fill="#205fb4" stroke="#205fb4" d="M142.9 288.9l2.5 0.2 0.7 -5.3 -2.5 -0.2z"/><path fill="#205fb4" stroke="#205fb4" d="M145.4 289.1l2.5 -0.5 0.7 -5.4 -2.5 0.5z"/><path fill="#1e5db1" stroke="#1e5db1" d="M147.9 288.6l2.5 0.6 0.7 -5.5 -2.5 -0.5z"/><path fill="#1e5bb0" stroke="#1e5bb0" d="M150.4 289.3l2.5 -0.3 0.7 -5.4 -2.5 0.2z"/><path fill="#1e5cb1" stroke="#1e5cb1" d="M152.8 289.0l2.5 -0.5 0.6 -5.4 -2.5 0.5z"/><path fill="#205eb3" stroke="#205eb3" d="M155.3 288.5l2.5 1.1 0.6 -5.5 -2.5 -1.0z"/><path fill="#2262b6" stroke="#2262b6" d="M157.8 289.6l2.5 -1.2 0.6 -5.5 -2.5 1.3z"/><path fill="#2362b6" stroke="#2362b6" d="M160.3 288.4l2.5 0.4 0.5 -5.5 -2.5 -0.4z"/><path fill="#2160b5" stroke="#2160b5" d="M162.8 288.8l2.5 -0.2 0.5 -5.5 -2.5 0.2z"/><path fill="#205fb4" stroke="#205fb4" d="M165.3 288.5l2.5 0.5 0.5 -5.6 -2.5 -0.5z"/><path fill="#2160b5" stroke="#2160b5" d="M167.8 289.1l2.5 -0.3 0.5 -5.6 -2.5 0.3z"/><path fill="#2363b7" stroke="#2363b7" d="M170.2 288.8l2.5 -0.1 0.4 -5.7 -2.5 0.1z"/><path fill="#2667ba" stroke="#2667ba" d="M172.7 288.7l2.5 -0.2 0.4 -5.6 -2.5 0.2z"/><path fill="#2d6fbf" stroke="#2d6fbf" d="M175.2 288.5l2.5 1.9 0.4 -5.8 -2.5 -1.7z"/><path fill="#2a6bbd" stroke="#2a6bbd" d="M177.7 290.4l2.5 -2.5 0.3 -5.5 -2.5 2.2z"/><path fill="#2262b6" stroke="#2262b6" d="M180.2 287.8l2.5 -0.4 0.3 -5.6 -2.5 0.5z"/><path fill="#2363b7" stroke="#2363b7" d="M182.7 287.4l2.5 -0.6 0.3 -5.5 -2.5 0.5z"/><path fill="#2464b8" stroke="#2464b8" d="M185.2 286.8l2.5 -0.2 0.3 -5.5 -2.5 0.2z"/><path fill="#2261b6" stroke="#2261b6" d="M187.7 286.7l2.5 0.7 0.2 -5.6 -2.5 -0.6z"/><path fill="#205fb4" stroke="#205fb4" d="M190.1 287.4l2.5 -0.1 0.2 -5.6 -2.5 0.1z"/><path fill="#205fb4" stroke="#205fb4" d="M192.6 287.2l2.5 -1.4 0.2 -5.5 -2.5 1.3z"/><path fill="#205eb3" stroke="#205eb3" d="M195.1 285.8l2.5 -0.7 0.1 -5.5 -2.5 0.7z"/><path fill="#1f5db2" stroke="#1f5db2" d="M197.6 285.2l2.5 -0.2 0.1 -5.5 -2.5 0.2z"/><path fill="#1f5eb2" stroke="#1f5eb2" d="M200.1 285.0l2.5 0.5 0.1 -5.5 -2.5 -0.5z"/><path fill="#2262b6" stroke="#2262b6" d="M202.6 285.5l2.5 -0.1 0.1 -5.5 -2.5 0.1z"/><path fill="#2464b7" stroke="#2464b7" d="M205.1 285.3l2.5 -1.3 0.0 -5.4 -2.5 1.2z"/><path fill="#2464b8" stroke="#2464b8" d="M207.5 284.0l2.5 0.5 -0.0 -5.5 -2.5 -0.5z"/><path fill="#2465b8" stroke="#2465b8" d="M210.0 284.6l2.5 -2.1 -0.0 -5.5 -2.5 2.2z"/><path fill="#2464b8" stroke="#2464b8" d="M212.5 282.4l2.5 -0.2 -0.1 -5.6 -2.5 0.3z"/><path fill="#2464b8" stroke="#2464b8" d="M215.0 282.2l2.5 -0.8 -0.1 -5.7 -2.5 0.9z"/><path fill="#2666b9" stroke="#2666b9" d="M217.5 281.4l2.5 -0.6 -0.1 -5.8 -2.5 0.7z"/><path fill="#2a6bbd" stroke="#2a6bbd" d="M220.0 280.8l2.5 -1.9 -0.1 -5.8 -2.5 1.9z"/><path fill="#2e70c0" stroke="#2e70c0" d="M222.5 278.9l2.5 -0.4 -0.2 -6.0 -2.5 0.5z"/><path fill="#3175c3" stroke="#3175c3" d="M225.0 278.5l2.5 -1.6 -0.2 -6.1 -2.5 1.7z"/><path fill="#367ac7" stroke="#367ac7" d="M227.4 276.9l2.5 -2.4 -0.2 -6.2 -2.5 2.5z"/><path fill="#387dc9" stroke="#387dc9" d="M229.9 274.5l0.8 -1.4 -0.2 -6.1 -0.8 1.3z"/><path fill="#397eca" stroke="#397eca" d="M230.8 273.1l0.7 -0.8 -0.3 -6.2 -0.7 0.9z"/><path fill="#3b80cc" stroke="#3b80cc" d="M231.5 272.3l0.7 -0.8 -0.3 -6.3 -0.7 0.9z"/><path fill="#3c82cd" stroke="#3c82cd" d="M232.2 271.5l0.7 -1.2 -0.3 -6.4 -0.7 1.3z"/><path fill="#3f84ce" stroke="#3f84ce" d="M233.0 270.3l0.7 -1.4 -0.3 -6.4 -0.7 1.4z"/><path fill="#4488cf" stroke="#4488cf" d="M233.7 268.9l0.7 -2.5 -0.3 -6.5 -0.7 2.6z"/><path fill="#4b8ed2" stroke="#4b8ed2" d="M234.5 266.5l0.7 -2.7 -0.3 -6.7 -0.7 2.9z"/><path fill="#5596d4" stroke="#5596d4" d="M235.2 263.8l0.7 -2.9 -0.3 -6.9 -0.7 3.1z"/><path fill="#61a0d8" stroke="#61a0d8" d="M236.0 260.8l0.7 -3.1 -0.3 -7.1 -0.7 3.4z"/><path fill="#72acdd" stroke="#72acdd" d="M236.7 257.7l0.7 -3.5 -0.3 -7.5 -0.7 3.8z"/><path fill="#86b9e2" stroke="#86b9e2" d="M237.5 254.2l0.7 -3.5 -0.3 -7.8 -0.7 3.8z"/><path fill="#9bc5e7" stroke="#9bc5e7" d="M238.2 250.7l0.7 -3.8 -0.3 -8.1 -0.7 4.1z"/><path fill="#b3d4ed" stroke="#b3d4ed" d="M239.0 246.9l0.7 -3.7 -0.3 -8.5 -0.7 4.0z"/><path fill="#d5e5f1" stroke="#d5e5f1" d="M239.7 243.3l0.7 -4.1 -0.4 -8.8 -0.7 4.4z"/><path fill="#f4edeb" stroke="#f4edeb" d="M240.5 239.2l0.7 -3.8 -0.4 -9.1 -0.7 4.1z"/><path fill="#f7d9cc" stroke="#f7d9cc" d="M241.2 235.4l0.7 -3.3 -0.4 -9.3 -0.7 3.5z"/><path fill="#f9cbb6" stroke="#f9cbb6" d="M241.9 232.1l0.7 -2.7 -0.4 -9.5 -0.7 2.9z"/><path fill="#f8c2aa" stroke="#f8c2aa" d="M242.7 229.3l0.7 -0.9 -0.4 -9.5 -0.7 0.9z"/><path fill="#f7bca4" stroke="#f7bca4" d="M243.4 228.5l0.7 -0.6 -0.4 -9.5 -0.7 0.6z"/><path fill="#f7bda4" stroke="#f7bda4" d="M244.2 227.9l0.7 0.1 -0.4 -9.4 -0.7 -0.3z"/><path fill="#f9cab3" stroke="#f9cab3" d="M244.9 228.0l0.7 2.3 -0.4 -9.2 -0.7 -2.5z"/><path fill="#f7d8c9" stroke="#f7d8c9" d="M245.7 230.4l0.7 2.9 -0.4 -8.8 -0.7 -3.2z"/><path fill="#f5e6e0" stroke="#f5e6e0" d="M246.4 233.2l0.7 3.6 -0.4 -8.4 -0.7 -4.0z"/><path fill="#eaeff4" stroke="#eaeff4" d="M247.2 236.8l0.7 4.8 -0.4 -7.8 -0.7 -5.3z"/><path fill="#c2dbef" stroke="#c2dbef" d="M247.9 241.6l0.7 5.3 -0.4 -7.4 -0.7 -5.7z"/><path fill="#a2c9e8" stroke="#a2c9e8" d="M248.7 246.9l0.7 5.0 -0.5 -6.9 -0.7 -5.5z"/><path fill="#89bae2" stroke="#89bae2" d="M249.4 252.0l0.7 4.4 -0.5 -6.4 -0.7 -4.9z"/><path fill="#73addd" stroke="#73addd" d="M250.2 256.3l0.7 3.5 -0.5 -6.1 -0.7 -3.8z"/><path fill="#65a3d9" stroke="#65a3d9" d="M250.9 259.8l0.7 3.0 -0.5 -5.8 -0.7 -3.3z"/><path fill="#5c9cd7" stroke="#5c9cd7" d="M251.6 262.8l0.7 1.6 -0.5 -5.9 -0.7 -1.6z"/><path fill="#5b9bd6" stroke="#5b9bd6" d="M252.4 264.4l0.7 1.9 -0.5 -5.9 -0.7 -1.8z"/><path fill="#5e9dd7" stroke="#5e9dd7" d="M253.1 266.3l0.7 0.0 -0.5 -6.1 -0.7 0.1z"/><path fill="#61a0d8" stroke="#61a0d8" d="M253.9 266.4l0.7 -0.4 -0.5 -6.2 -0.7 0.5z"/><path fill="#63a1d9" stroke="#63a1d9" d="M254.6 266.0l0.7 -0.5 -0.5 -6.3 -0.7 0.7z"/><path fill="#64a2d9" stroke="#64a2d9" d="M255.4 265.5l0.2 -0.1 -0.5 -6.3 -0.2 0.2z"/><path fill="#61a0d8" stroke="#61a0d8" d="M255.6 265.3l1.5 -0.2 -0.5 -6.5 -1.5 0.4z"/><path fill="#5f9ed7" stroke="#5f9ed7" d="M257.1 265.1l1.5 -0.1 -0.6 -6.5 -1.5 0.2z"/><path fill="#619fd8" stroke="#619fd8" d="M258.6 264.9l1.5 -0.0 -0.6 -6.5 -1.5 -0.0z"/><path fill="#64a2d9" stroke="#64a2d9" d="M260.1 264.9l1.5 0.2 -0.6 -6.5 -1.5 -0.1z"/><path fill="#64a2d9" stroke="#64a2d9" d="M261.6 265.1l1.5 -0.5 -0.6 -6.6 -1.5 0.5z"/><path fill="#62a1d9" stroke="#62a1d9" d="M263.1 264.7l1.5 -0.5 -0.6 -6.7 -1.5 0.6z"/><path fill="#66a4da" stroke="#66a4da" d="M264.6 264.2l1.5 -0.4 -0.6 -6.8 -1.5 0.5z"/><path fill="#6ca9db" stroke="#6ca9db" d="M266.1 263.9l1.5 -0.7 -0.7 -7.0 -1.5 0.8z"/><path fill="#75aede" stroke="#75aede" d="M267.6 263.2l1.5 -0.5 -0.7 -7.0 -1.5 0.5z"/><path fill="#7ab1df" stroke="#7ab1df" d="M269.1 262.7l1.5 -0.8 -0.7 -7.1 -1.5 0.8z"/><path fill="#7fb4e0" stroke="#7fb4e0" d="M270.5 261.9l1.5 -0.7 -0.7 -7.1 -1.5 0.7z"/><path fill="#83b6e1" stroke="#83b6e1" d="M272.0 261.2l1.5 -0.1 -0.7 -7.2 -1.5 0.2z"/><path fill="#86b8e2" stroke="#86b8e2" d="M273.5 261.1l1.5 -0.6 -0.8 -7.1 -1.5 0.5z"/><path fill="#8dbce3" stroke="#8dbce3" d="M275.0 260.5l1.5 -0.1 -0.8 -7.1 -1.5 0.1z"/><path fill="#92bfe5" stroke="#92bfe5" d="M276.5 260.5l1.5 0.4 -0.8 -7.0 -1.5 -0.4z"/><path fill="#90bee4" stroke="#90bee4" d="M278.0 260.8l1.5 0.1 -0.8 -6.9 -1.5 -0.2z"/><path fill="#86b8e2" stroke="#86b8e2" d="M279.5 260.9l1.5 0.8 -0.8 -6.7 -1.5 -1.0z"/><path fill="#7cb2df" stroke="#7cb2df" d="M281.0 261.7l1.5 1.1 -0.8 -6.5 -1.5 -1.3z"/><path fill="#7bb2df" stroke="#7bb2df" d="M282.5 262.8l1.5 0.7 -0.9 -6.2 -1.5 -1.0z"/><path fill="#79b0df" stroke="#79b0df" d="M284.0 263.5l1.5 1.3 -0.9 -6.0 -1.5 -1.5z"/><path fill="#6fabdc" stroke="#6fabdc" d="M285.5 264.8l1.5 0.7 -0.9 -5.8 -1.5 -0.9z"/><path fill="#6ca9db" stroke="#6ca9db" d="M287.0 265.5l1.5 0.6 -0.9 -5.7 -1.5 -0.7z"/><path fill="#73addd" stroke="#73addd" d="M288.4 266.1l0.3 0.0 -0.9 -5.7 -0.3 -0.0z"/><path fill="#7ab1df" stroke="#7ab1df" d="M288.8 266.1l2.5 -0.2 -0.9 -5.6 -2.5 0.1z"/><path fill="#7ab1df" stroke="#7ab1df" d="M291.3 265.9l2.5 -0.1 -1.0 -5.6 -2.5 0.1z"/><path fill="#79b0df" stroke="#79b0df" d="M293.8 265.8l2.5 -0.1 -1.0 -5.6 -2.5 0.1z"/><path fill="#7cb2df" stroke="#7cb2df" d="M296.2 265.7l2.5 -0.1 -1.0 -5.6 -2.5 0.1z"/><path fill="#7cb3df" stroke="#7cb3df" d="M298.7 265.6l2.5 -0.3 -1.1 -5.5 -2.5 0.3z"/><path fill="#7db3df" stroke="#7db3df" d="M301.2 265.3l2.5 -0.2 -1.1 -5.5 -2.5 0.2z"/><path fill="#7eb4e0" stroke="#7eb4e0" d="M303.7 265.1l2.5 0.0 -1.1 -5.5 -2.5 -0.0z"/><path fill="#7cb3df" stroke="#7cb3df" d="M306.2 265.1l2.5 -0.2 -1.1 -5.5 -2.5 0.2z"/><path fill="#75aede" stroke="#75aede" d="M308.7 264.9l2.5 -0.4 -1.2 -5.5 -2.5 0.4z"/><path fill="#71acdd" stroke="#71acdd" d="M311.2 264.5l2.5 -0.1 -1.2 -5.5 -2.5 0.1z"/><path fill="#73addd" stroke="#73addd" d="M313.6 264.5l2.5 -0.5 -1.2 -5.5 -2.5 0.4z"/><path fill="#75aede" stroke="#75aede" d="M316.1 264.0l2.5 -0.3 -1.3 -5.4 -2.5 0.3z"/><path fill="#77afde" stroke="#77afde" d="M318.6 263.6l2.5 -0.1 -1.3 -5.5 -2.5 0.1z"/><path fill="#73addd" stroke="#73addd" d="M321.1 263.6l2.5 -0.2 -1.3 -5.5 -2.5 0.2z"/><path fill="#6da9dc" stroke="#6da9dc" d="M323.6 263.4l2.5 -0.2 -1.3 -5.5 -2.5 0.2z"/><path fill="#6da9dc" stroke="#6da9dc" d="M326.1 263.2l2.5 -0.2 -1.4 -5.5 -2.5 0.2z"/><path fill="#76afde" stroke="#76afde" d="M328.6 263.0l2.5 -0.3 -1.4 -5.5 -2.5 0.3z"/><path fill="#7eb4e0" stroke="#7eb4e0" d="M331.1 262.7l2.5 -0.3 -1.4 -5.5 -2.5 0.2z"/><path fill="#7cb2df" stroke="#7cb2df" d="M333.5 262.4l2.5 -0.3 -1.5 -5.4 -2.5 0.3z"/><path fill="#7ab1df" stroke="#7ab1df" d="M336.0 262.2l2.5 -0.3 -1.5 -5.4 -2.5 0.2z"/><path fill="#7db3e0" stroke="#7db3e0" d="M338.5 261.9l2.5 -0.2 -1.5 -5.4 -2.5 0.2z"/><path fill="#7fb4e0" stroke="#7fb4e0" d="M341.0 261.7l2.5 -0.2 -1.5 -5.4 -2.5 0.2z"/><path fill="#80b5e0" stroke="#80b5e0" d="M343.5 261.5l2.5 -0.5 -1.6 -5.4 -2.5 0.5z"/><path fill="#82b6e1" stroke="#82b6e1" d="M346.0 261.0l2.5 -0.5 -1.6 -5.5 -2.5 0.5z"/><path fill="#85b8e1" stroke="#85b8e1" d="M348.5 260.5l2.5 -0.3 -1.6 -5.5 -2.5 0.4z"/><path fill="#83b7e1" stroke="#83b7e1" d="M350.9 260.1l2.5 0.2 -1.7 -5.6 -2.5 -0.1z"/><path fill="#82b6e1" stroke="#82b6e1" d="M353.4 260.3l2.5 0.3 -1.7 -5.7 -2.5 -0.2z"/><path fill="#80b5e0" stroke="#80b5e0" d="M355.9 260.6l2.5 -1.0 -1.7 -5.6 -2.5 1.0z"/><path fill="#7cb2df" stroke="#7cb2df" d="M358.4 259.6l2.5 -1.9 -1.7 -5.5 -2.5 1.8z"/><path fill="#7cb3df" stroke="#7cb3df" d="M360.9 257.6l2.5 -1.1 -1.8 -5.5 -2.5 1.0z"/><path fill="#80b5e0" stroke="#80b5e0" d="M363.4 256.6l2.5 -1.1 -1.8 -5.4 -2.5 1.0z"/><path fill="#82b6e1" stroke="#82b6e1" d="M365.9 255.5l2.5 -1.4 -1.8 -5.4 -2.5 1.4z"/><path fill="#7fb4e0" stroke="#7fb4e0" d="M368.4 254.1l2.5 -1.3 -1.9 -5.3 -2.5 1.2z"/><path fill="#7db3e0" stroke="#7db3e0" d="M370.8 252.8l0.8 -0.3 -1.9 -5.3 -0.8 0.3z"/><path fill="#1f5db2" stroke="#1f5db2" d="M122.0 295.0l2.5 0.8 1.0 -5.6 -2.5 -0.9z"/><path fill="#1d5baf" stroke="#1d5baf" d="M124.5 295.9l2.5 -1.5 0.9 -5.5 -2.5 1.4z"/><path fill="#1a55aa" stroke="#1a55aa" d="M127.0 294.4l2.5 1.0 0.9 -5.6 -2.5 -1.0z"/><path fill="#1954a8" stroke="#1954a8" d="M129.5 295.4l2.5 -0.4 0.9 -5.4 -2.5 0.3z"/><path fill="#1c58ac" stroke="#1c58ac" d="M132.1 295.0l2.5 0.2 0.9 -5.4 -2.5 -0.2z"/><path fill="#1d59ae" stroke="#1d59ae" d="M134.6 295.2l2.5 0.1 0.8 -5.5 -2.5 -0.1z"/><path fill="#1c58ac" stroke="#1c58ac" d="M137.1 295.3l2.5 -0.3 0.8 -5.4 -2.5 0.2z"/><path fill="#1c58ac" stroke="#1c58ac" d="M139.6 295.1l2.5 -0.7 0.8 -5.4 -2.5 0.7z"/><path fill="#1d5baf" stroke="#1d5baf" d="M142.1 294.4l2.5 0.1 0.7 -5.3 -2.5 -0.2z"/><path fill="#1d5baf" stroke="#1d5baf" d="M144.6 294.4l2.5 -0.4 0.7 -5.4 -2.5 0.5z"/><path fill="#1c58ad" stroke="#1c58ad" d="M147.2 294.0l2.5 0.7 0.7 -5.5 -2.5 -0.6z"/><path fill="#1b57ab" stroke="#1b57ab" d="M149.7 294.8l2.5 -0.4 0.7 -5.4 -2.5 0.3z"/><path fill="#1c58ac" stroke="#1c58ac" d="M152.2 294.4l2.5 -0.5 0.6 -5.4 -2.5 0.5z"/><path fill="#1d5aaf" stroke="#1d5aaf" d="M154.7 293.9l2.5 1.2 0.6 -5.5 -2.5 -1.1z"/><path fill="#1f5db2" stroke="#1f5db2" d="M157.2 295.1l2.5 -1.2 0.6 -5.5 -2.5 1.2z"/><path fill="#1f5eb3" stroke="#1f5eb3" d="M159.7 293.9l2.5 0.4 0.5 -5.5 -2.5 -0.4z"/><path fill="#1e5cb1" stroke="#1e5cb1" d="M162.2 294.3l2.5 -0.2 0.5 -5.5 -2.5 0.2z"/><path fill="#1d5baf" stroke="#1d5baf" d="M164.8 294.1l2.5 0.6 0.5 -5.6 -2.5 -0.5z"/><path fill="#1e5cb1" stroke="#1e5cb1" d="M167.3 294.6l2.5 -0.2 0.5 -5.6 -2.5 0.3z"/><path fill="#205fb4" stroke="#205fb4" d="M169.8 294.4l2.5 -0.0 0.4 -5.7 -2.5 0.1z"/><path fill="#2363b7" stroke="#2363b7" d="M172.3 294.4l2.5 -0.3 0.4 -5.6 -2.5 0.2z"/><path fill="#296bbc" stroke="#296bbc" d="M174.8 294.1l2.5 2.1 0.4 -5.8 -2.5 -1.9z"/><path fill="#2767ba" stroke="#2767ba" d="M177.3 296.2l2.5 -2.8 0.3 -5.5 -2.5 2.5z"/><path fill="#1f5eb2" stroke="#1f5eb2" d="M179.9 293.4l2.5 -0.4 0.3 -5.6 -2.5 0.4z"/><path fill="#205eb3" stroke="#205eb3" d="M182.4 293.0l2.5 -0.6 0.3 -5.5 -2.5 0.6z"/><path fill="#2160b5" stroke="#2160b5" d="M184.9 292.4l2.5 -0.2 0.3 -5.5 -2.5 0.2z"/><path fill="#1f5db1" stroke="#1f5db1" d="M187.4 292.2l2.5 0.8 0.2 -5.6 -2.5 -0.7z"/><path fill="#1d5aaf" stroke="#1d5aaf" d="M189.9 293.0l2.5 -0.2 0.2 -5.6 -2.5 0.1z"/><path fill="#1d5baf" stroke="#1d5baf" d="M192.4 292.8l2.5 -1.5 0.2 -5.5 -2.5 1.4z"/><path fill="#1d5aae" stroke="#1d5aae" d="M194.9 291.3l2.5 -0.7 0.1 -5.5 -2.5 0.7z"/><path fill="#1c58ad" stroke="#1c58ad" d="M197.5 290.6l2.5 -0.2 0.1 -5.5 -2.5 0.2z"/><path fill="#1c59ae" stroke="#1c59ae" d="M200.0 290.5l2.5 0.6 0.1 -5.5 -2.5 -0.5z"/><path fill="#1f5db2" stroke="#1f5db2" d="M202.5 291.0l2.5 -0.2 0.1 -5.5 -2.5 0.1z"/><path fill="#205fb4" stroke="#205fb4" d="M205.0 290.9l2.5 -1.4 0.0 -5.4 -2.5 1.3z"/><path fill="#205fb4" stroke="#205fb4" d="M207.5 289.4l2.5 0.6 -0.0 -5.5 -2.5 -0.5z"/><path fill="#2060b4" stroke="#2060b4" d="M210.0 290.0l2.5 -2.1 -0.0 -5.5 -2.5 2.1z"/><path fill="#205fb4" stroke="#205fb4" d="M212.6 288.0l2.5 -0.1 -0.1 -5.6 -2.5 0.2z"/><path fill="#205fb4" stroke="#205fb4" d="M215.1 287.9l2.5 -0.8 -0.1 -5.7 -2.5 0.8z"/><path fill="#2161b5" stroke="#2161b5" d="M217.6 287.1l2.5 -0.5 -0.1 -5.8 -2.5 0.6z"/><path fill="#2666b9" stroke="#2666b9" d="M220.1 286.6l2.5 -2.0 -0.1 -5.8 -2.5 1.9z"/><path fill="#2a6bbd" stroke="#2a6bbd" d="M222.6 284.7l2.5 -0.2 -0.2 -6.0 -2.5 0.4z"/><path fill="#2d70c0" stroke="#2d70c0" d="M225.1 284.4l2.5 -1.5 -0.2 -6.1 -2.5 1.6z"/><path fill="#3275c4" stroke="#3275c4" d="M227.6 283.0l2.5 -2.3 -0.2 -6.2 -2.5 2.4z"/><path fill="#3478c6" stroke="#3478c6" d="M230.2 280.7l0.8 -1.5 -0.2 -6.1 -0.8 1.4z"/><path fill="#3579c7" stroke="#3579c7" d="M231.0 279.2l0.8 -0.7 -0.3 -6.2 -0.7 0.8z"/><path fill="#367bc8" stroke="#367bc8" d="M231.8 278.5l0.8 -0.7 -0.3 -6.3 -0.7 0.8z"/><path fill="#377cc9" stroke="#377cc9" d="M232.5 277.8l0.8 -1.2 -0.3 -6.4 -0.7 1.2z"/><path fill="#397eca" stroke="#397eca" d="M233.3 276.7l0.8 -1.3 -0.3 -6.4 -0.7 1.4z"/><path fill="#3b80cc" stroke="#3b80cc" d="M234.0 275.3l0.8 -2.4 -0.3 -6.5 -0.7 2.5z"/><path fill="#3f85ce" stroke="#3f85ce" d="M234.8 273.0l0.8 -2.5 -0.3 -6.7 -0.7 2.7z"/><path fill="#488cd1" stroke="#488cd1" d="M235.5 270.5l0.8 -2.7 -0.3 -6.9 -0.7 2.9z"/><path fill="#5495d4" stroke="#5495d4" d="M236.3 267.7l0.8 -2.9 -0.3 -7.1 -0.7 3.1z"/><path fill="#62a0d8" stroke="#62a0d8" d="M237.0 264.8l0.8 -3.1 -0.3 -7.5 -0.7 3.5z"/><path fill="#6faadc" stroke="#6faadc" d="M237.8 261.7l0.8 -3.1 -0.3 -7.8 -0.7 3.5z"/><path fill="#81b5e1" stroke="#81b5e1" d="M238.5 258.5l0.8 -3.5 -0.3 -8.1 -0.7 3.8z"/><path fill="#96c2e6" stroke="#96c2e6" d="M239.3 255.0l0.8 -3.3 -0.3 -8.5 -0.7 3.7z"/><path fill="#b2d3ec" stroke="#b2d3ec" d="M240.1 251.7l0.8 -3.8 -0.4 -8.8 -0.7 4.1z"/><path fill="#d7e5f2" stroke="#d7e5f2" d="M240.8 247.9l0.8 -3.5 -0.4 -9.1 -0.7 3.8z"/><path fill="#f3f2f3" stroke="#f3f2f3" d="M241.6 244.5l0.8 -3.1 -0.4 -9.3 -0.7 3.3z"/><path fill="#f5e5de" stroke="#f5e5de" d="M242.3 241.3l0.8 -2.5 -0.4 -9.5 -0.7 2.7z"/><path fill="#f6ded3" stroke="#f6ded3" d="M243.1 238.8l0.8 -0.8 -0.4 -9.5 -0.7 0.9z"/><path fill="#f7d9cc" stroke="#f7d9cc" d="M243.8 238.0l0.8 -0.6 -0.4 -9.5 -0.7 0.6z"/><path fill="#f7d9cb" stroke="#f7d9cb" d="M244.6 237.4l0.8 0.0 -0.4 -9.4 -0.7 -0.1z"/><path fill="#f5e2db" stroke="#f5e2db" d="M245.3 237.4l0.8 2.1 -0.4 -9.2 -0.7 -2.3z"/><path fill="#f4eeee" stroke="#f4eeee" d="M246.1 239.5l0.8 2.5 -0.4 -8.8 -0.7 -2.9z"/><path fill="#e8eef4" stroke="#e8eef4" d="M246.8 242.0l0.8 3.2 -0.4 -8.4 -0.7 -3.6z"/><path fill="#cde0f0" stroke="#cde0f0" d="M247.6 245.2l0.8 4.3 -0.4 -7.8 -0.7 -4.8z"/><path fill="#abcfeb" stroke="#abcfeb" d="M248.4 249.5l0.8 4.8 -0.4 -7.4 -0.7 -5.3z"/><path fill="#90bfe4" stroke="#90bfe4" d="M249.1 254.3l0.8 4.6 -0.5 -6.9 -0.7 -5.0z"/><path fill="#7bb2df" stroke="#7bb2df" d="M249.9 258.9l0.8 3.8 -0.5 -6.4 -0.7 -4.4z"/><path fill="#6aa7db" stroke="#6aa7db" d="M250.6 262.7l0.8 3.2 -0.5 -6.1 -0.7 -3.5z"/><path fill="#5e9dd7" stroke="#5e9dd7" d="M251.4 265.9l0.8 2.8 -0.5 -5.8 -0.7 -3.0z"/><path fill="#5696d5" stroke="#5696d5" d="M252.1 268.7l0.8 1.6 -0.5 -5.9 -0.7 -1.6z"/><path fill="#5596d4" stroke="#5596d4" d="M252.9 270.3l0.8 1.9 -0.5 -5.9 -0.7 -1.9z"/><path fill="#5798d5" stroke="#5798d5" d="M253.6 272.2l0.8 0.2 -0.5 -6.1 -0.7 -0.0z"/><path fill="#5a9ad6" stroke="#5a9ad6" d="M254.4 272.4l0.8 -0.2 -0.5 -6.2 -0.7 0.4z"/><path fill="#5c9cd7" stroke="#5c9cd7" d="M255.1 272.2l0.8 -0.4 -0.5 -6.3 -0.7 0.5z"/><path fill="#5e9dd7" stroke="#5e9dd7" d="M255.9 271.7l0.3 -0.1 -0.5 -6.3 -0.2 0.1z"/><path fill="#5b9bd6" stroke="#5b9bd6" d="M256.2 271.7l1.5 -0.1 -0.5 -6.5 -1.5 0.2z"/><path fill="#5898d5" stroke="#5898d5" d="M257.7 271.5l1.5 -0.1 -0.6 -6.5 -1.5 0.1z"/><path fill="#5a9ad6" stroke="#5a9ad6" d="M259.2 271.5l1.5 -0.1 -0.6 -6.5 -1.5 0.0z"/><path fill="#5d9cd7" stroke="#5d9cd7" d="M260.7 271.4l1.5 0.3 -0.6 -6.5 -1.5 -0.2z"/><path fill="#5d9cd7" stroke="#5d9cd7" d="M262.2 271.7l1.5 -0.4 -0.6 -6.6 -1.5 0.5z"/><path fill="#5b9bd6" stroke="#5b9bd6" d="M263.7 271.3l1.5 -0.4 -0.6 -6.7 -1.5 0.5z"/><path fill="#5e9ed7" stroke="#5e9ed7" d="M265.2 270.9l1.5 -0.2 -0.6 -6.8 -1.5 0.4z"/><path fill="#64a2d9" stroke="#64a2d9" d="M266.7 270.7l1.5 -0.6 -0.7 -7.0 -1.5 0.7z"/><path fill="#6aa7db" stroke="#6aa7db" d="M268.2 270.1l1.5 -0.4 -0.7 -7.0 -1.5 0.5z"/><path fill="#6da9dc" stroke="#6da9dc" d="M269.7 269.7l1.5 -0.8 -0.7 -7.1 -1.5 0.8z"/><path fill="#71acdd" stroke="#71acdd" d="M271.2 269.0l1.5 -0.7 -0.7 -7.1 -1.5 0.7z"/><path fill="#73addd" stroke="#73addd" d="M272.8 268.3l1.5 -0.1 -0.7 -7.2 -1.5 0.1z"/><path fill="#75aede" stroke="#75aede" d="M274.3 268.2l1.5 -0.6 -0.8 -7.1 -1.5 0.6z"/><path fill="#7db3df" stroke="#7db3df" d="M275.8 267.6l1.5 -0.1 -0.8 -7.1 -1.5 0.1z"/><path fill="#82b6e1" stroke="#82b6e1" d="M277.3 267.6l1.5 0.3 -0.8 -7.0 -1.5 -0.4z"/><path fill="#82b6e1" stroke="#82b6e1" d="M278.8 267.8l1.5 -0.0 -0.8 -6.9 -1.5 -0.1z"/><path fill="#79b0df" stroke="#79b0df" d="M280.3 267.8l1.5 0.6 -0.8 -6.7 -1.5 -0.8z"/><path fill="#70abdc" stroke="#70abdc" d="M281.8 268.4l1.5 0.9 -0.8 -6.5 -1.5 -1.1z"/><path fill="#70abdc" stroke="#70abdc" d="M283.3 269.2l1.5 0.5 -0.9 -6.2 -1.5 -0.7z"/><path fill="#6eaadc" stroke="#6eaadc" d="M284.8 269.7l1.5 1.1 -0.9 -6.0 -1.5 -1.3z"/><path fill="#68a5da" stroke="#68a5da" d="M286.3 270.8l1.5 0.5 -0.9 -5.8 -1.5 -0.7z"/><path fill="#65a3d9" stroke="#65a3d9" d="M287.8 271.3l1.5 0.5 -0.9 -5.7 -1.5 -0.6z"/><path fill="#6aa7db" stroke="#6aa7db" d="M289.4 271.8l0.3 -0.0 -0.9 -5.7 -0.3 -0.0z"/><path fill="#71acdd" stroke="#71acdd" d="M289.7 271.8l2.5 -0.3 -0.9 -5.6 -2.5 0.2z"/><path fill="#70abdd" stroke="#70abdd" d="M292.2 271.5l2.5 -0.1 -1.0 -5.6 -2.5 0.1z"/><path fill="#6fabdc" stroke="#6fabdc" d="M294.7 271.3l2.5 -0.1 -1.0 -5.6 -2.5 0.1z"/><path fill="#73addd" stroke="#73addd" d="M297.2 271.3l2.5 -0.1 -1.0 -5.6 -2.5 0.1z"/><path fill="#73addd" stroke="#73addd" d="M299.8 271.2l2.5 -0.4 -1.1 -5.5 -2.5 0.3z"/><path fill="#73addd" stroke="#73addd" d="M302.3 270.8l2.5 -0.2 -1.1 -5.5 -2.5 0.2z"/><path fill="#75aede" stroke="#75aede" d="M304.8 270.6l2.5 0.0 -1.1 -5.5 -2.5 -0.0z"/><path fill="#73addd" stroke="#73addd" d="M307.3 270.6l2.5 -0.2 -1.1 -5.5 -2.5 0.2z"/><path fill="#6da9dc" stroke="#6da9dc" d="M309.8 270.4l2.5 -0.4 -1.2 -5.5 -2.5 0.4z"/><path fill="#69a6db" stroke="#69a6db" d="M312.3 270.0l2.5 -0.0 -1.2 -5.5 -2.5 0.1z"/><path fill="#6aa7db" stroke="#6aa7db" d="M314.8 270.0l2.5 -0.5 -1.2 -5.5 -2.5 0.5z"/><path fill="#6ca8db" stroke="#6ca8db" d="M317.4 269.5l2.5 -0.4 -1.3 -5.4 -2.5 0.3z"/><path fill="#6da9dc" stroke="#6da9dc" d="M319.9 269.1l2.5 -0.1 -1.3 -5.5 -2.5 0.1z"/><path fill="#6ba8db" stroke="#6ba8db" d="M322.4 269.0l2.5 -0.2 -1.3 -5.5 -2.5 0.2z"/><path fill="#66a4da" stroke="#66a4da" d="M324.9 268.8l2.5 -0.1 -1.3 -5.5 -2.5 0.2z"/><path fill="#66a4da" stroke="#66a4da" d="M327.4 268.7l2.5 -0.2 -1.4 -5.5 -2.5 0.2z"/><path fill="#6da9dc" stroke="#6da9dc" d="M329.9 268.5l2.5 -0.3 -1.4 -5.5 -2.5 0.3z"/><path fill="#75aede" stroke="#75aede" d="M332.4 268.1l2.5 -0.3 -1.4 -5.5 -2.5 0.3z"/><path fill="#72addd" stroke="#72addd" d="M335.0 267.9l2.5 -0.3 -1.5 -5.4 -2.5 0.3z"/><path fill="#70abdd" stroke="#70abdd" d="M337.5 267.6l2.5 -0.3 -1.5 -5.4 -2.5 0.3z"/><path fill="#74addd" stroke="#74addd" d="M340.0 267.4l2.5 -0.2 -1.5 -5.4 -2.5 0.2z"/><path fill="#76afde" stroke="#76afde" d="M342.5 267.1l2.5 -0.2 -1.5 -5.4 -2.5 0.2z"/><path fill="#77afde" stroke="#77afde" d="M345.0 267.0l2.5 -0.6 -1.6 -5.4 -2.5 0.5z"/><path fill="#79b1df" stroke="#79b1df" d="M347.5 266.4l2.5 -0.5 -1.6 -5.5 -2.5 0.5z"/><path fill="#7cb2df" stroke="#7cb2df" d="M350.1 265.9l2.5 -0.3 -1.6 -5.5 -2.5 0.3z"/><path fill="#7bb2df" stroke="#7bb2df" d="M352.6 265.6l2.5 0.3 -1.7 -5.6 -2.5 -0.2z"/><path fill="#79b0df" stroke="#79b0df" d="M355.1 265.9l2.5 0.3 -1.7 -5.7 -2.5 -0.3z"/><path fill="#77afde" stroke="#77afde" d="M357.6 266.2l2.5 -1.0 -1.7 -5.6 -2.5 1.0z"/><path fill="#72addd" stroke="#72addd" d="M360.1 265.2l2.5 -2.0 -1.7 -5.5 -2.5 1.9z"/><path fill="#73addd" stroke="#73addd" d="M362.6 263.2l2.5 -1.1 -1.8 -5.5 -2.5 1.1z"/><path fill="#77afde" stroke="#77afde" d="M365.1 262.1l2.5 -1.1 -1.8 -5.4 -2.5 1.1z"/><path fill="#79b0df" stroke="#79b0df" d="M367.7 261.0l2.5 -1.5 -1.8 -5.4 -2.5 1.4z"/><path fill="#76afde" stroke="#76afde" d="M370.2 259.5l2.5 -1.3 -1.9 -5.3 -2.5 1.3z"/><path fill="#74aede" stroke="#74aede" d="M372.7 258.1l0.8 -0.3 -1.9 -5.3 -0.8 0.3z"/><path fill="#1c59ad" stroke="#1c59ad" d="M121.0 300.6l2.5 0.8 1.0 -5.6 -2.5 -0.8z"/><path fill="#1b56ab" stroke="#1b56ab" d="M123.5 301.4l2.5 -1.5 0.9 -5.5 -2.5 1.5z"/><path fill="#1751a5" stroke="#1751a5" d="M126.1 299.9l2.5 1.1 0.9 -5.6 -2.5 -1.0z"/><path fill="#1750a3" stroke="#1750a3" d="M128.6 301.0l2.5 -0.5 0.9 -5.4 -2.5 0.4z"/><path fill="#1954a8" stroke="#1954a8" d="M131.2 300.5l2.5 0.2 0.9 -5.4 -2.5 -0.2z"/><path fill="#1a55a9" stroke="#1a55a9" d="M133.7 300.6l2.5 0.2 0.8 -5.5 -2.5 -0.1z"/><path fill="#1953a7" stroke="#1953a7" d="M136.3 300.8l2.5 -0.3 0.8 -5.4 -2.5 0.3z"/><path fill="#1953a7" stroke="#1953a7" d="M138.8 300.5l2.5 -0.6 0.8 -5.4 -2.5 0.7z"/><path fill="#1b56ab" stroke="#1b56ab" d="M141.4 299.8l2.5 -0.0 0.7 -5.3 -2.5 -0.1z"/><path fill="#1b56ab" stroke="#1b56ab" d="M143.9 299.8l2.5 -0.4 0.7 -5.4 -2.5 0.4z"/><path fill="#1954a8" stroke="#1954a8" d="M146.4 299.4l2.5 0.9 0.7 -5.5 -2.5 -0.7z"/><path fill="#1852a6" stroke="#1852a6" d="M149.0 300.3l2.5 -0.4 0.7 -5.4 -2.5 0.4z"/><path fill="#1953a7" stroke="#1953a7" d="M151.5 299.8l2.5 -0.5 0.6 -5.4 -2.5 0.5z"/><path fill="#1a56aa" stroke="#1a56aa" d="M154.1 299.3l2.5 1.3 0.6 -5.5 -2.5 -1.2z"/><path fill="#1c59ad" stroke="#1c59ad" d="M156.6 300.6l2.5 -1.2 0.6 -5.5 -2.5 1.2z"/><path fill="#1d5aae" stroke="#1d5aae" d="M159.2 299.4l2.5 0.4 0.5 -5.5 -2.5 -0.4z"/><path fill="#1c58ac" stroke="#1c58ac" d="M161.7 299.8l2.5 -0.2 0.5 -5.5 -2.5 0.2z"/><path fill="#1b56aa" stroke="#1b56aa" d="M164.2 299.6l2.5 0.6 0.5 -5.6 -2.5 -0.6z"/><path fill="#1b58ac" stroke="#1b58ac" d="M166.8 300.2l2.5 -0.2 0.5 -5.6 -2.5 0.2z"/><path fill="#1d5aaf" stroke="#1d5aaf" d="M169.3 300.0l2.5 -0.0 0.4 -5.7 -2.5 0.0z"/><path fill="#1f5eb3" stroke="#1f5eb3" d="M171.9 300.0l2.5 -0.4 0.4 -5.6 -2.5 0.3z"/><path fill="#2666b9" stroke="#2666b9" d="M174.4 299.7l2.5 2.4 0.4 -5.8 -2.5 -2.1z"/><path fill="#2363b7" stroke="#2363b7" d="M177.0 302.0l2.5 -3.1 0.3 -5.5 -2.5 2.8z"/><path fill="#1c59ae" stroke="#1c59ae" d="M179.5 298.9l2.5 -0.3 0.3 -5.6 -2.5 0.4z"/><path fill="#1d5aaf" stroke="#1d5aaf" d="M182.1 298.6l2.5 -0.6 0.3 -5.5 -2.5 0.6z"/><path fill="#1e5bb0" stroke="#1e5bb0" d="M184.6 297.9l2.5 -0.2 0.3 -5.5 -2.5 0.2z"/><path fill="#1c58ad" stroke="#1c58ad" d="M187.1 297.7l2.5 0.9 0.2 -5.6 -2.5 -0.8z"/><path fill="#1a56aa" stroke="#1a56aa" d="M189.7 298.6l2.5 -0.2 0.2 -5.6 -2.5 0.2z"/><path fill="#1a56aa" stroke="#1a56aa" d="M192.2 298.4l2.5 -1.6 0.2 -5.5 -2.5 1.5z"/><path fill="#1a55a9" stroke="#1a55a9" d="M194.8 296.8l2.5 -0.7 0.1 -5.5 -2.5 0.7z"/><path fill="#1954a8" stroke="#1954a8" d="M197.3 296.1l2.5 -0.1 0.1 -5.5 -2.5 0.2z"/><path fill="#1a54a8" stroke="#1a54a8" d="M199.9 296.0l2.5 0.6 0.1 -5.5 -2.5 -0.6z"/><path fill="#1c58ad" stroke="#1c58ad" d="M202.4 296.6l2.5 -0.2 0.1 -5.5 -2.5 0.2z"/><path fill="#1d5aaf" stroke="#1d5aaf" d="M205.0 296.4l2.5 -1.5 0.0 -5.4 -2.5 1.4z"/><path fill="#1d5aaf" stroke="#1d5aaf" d="M207.5 294.9l2.5 0.6 -0.0 -5.5 -2.5 -0.6z"/><path fill="#1e5bb0" stroke="#1e5bb0" d="M210.0 295.5l2.5 -2.0 -0.0 -5.5 -2.5 2.1z"/><path fill="#1d5baf" stroke="#1d5baf" d="M212.6 293.5l2.5 0.0 -0.1 -5.6 -2.5 0.1z"/><path fill="#1d5aaf" stroke="#1d5aaf" d="M215.1 293.5l2.5 -0.7 -0.1 -5.7 -2.5 0.8z"/><path fill="#1e5cb0" stroke="#1e5cb0" d="M217.7 292.8l2.5 -0.3 -0.1 -5.8 -2.5 0.5z"/><path fill="#2161b5" stroke="#2161b5" d="M220.2 292.5l2.5 -2.0 -0.1 -5.8 -2.5 2.0z"/><path fill="#2666b9" stroke="#2666b9" d="M222.8 290.5l2.5 -0.1 -0.2 -6.0 -2.5 0.2z"/><path fill="#296abc" stroke="#296abc" d="M225.3 290.4l2.5 -1.4 -0.2 -6.1 -2.5 1.5z"/><path fill="#2d70c0" stroke="#2d70c0" d="M227.8 289.0l2.5 -2.2 -0.2 -6.2 -2.5 2.3z"/><path fill="#2f72c2" stroke="#2f72c2" d="M230.4 286.9l0.8 -1.6 -0.2 -6.1 -0.8 1.5z"/><path fill="#3174c3" stroke="#3174c3" d="M231.2 285.3l0.8 -0.6 -0.3 -6.2 -0.8 0.7z"/><path fill="#3275c4" stroke="#3275c4" d="M232.0 284.7l0.8 -0.6 -0.3 -6.3 -0.8 0.7z"/><path fill="#3377c5" stroke="#3377c5" d="M232.8 284.1l0.8 -1.1 -0.3 -6.4 -0.8 1.2z"/><path fill="#3478c6" stroke="#3478c6" d="M233.5 283.0l0.8 -1.3 -0.3 -6.4 -0.8 1.3z"/><path fill="#367ac8" stroke="#367ac8" d="M234.3 281.8l0.8 -2.3 -0.3 -6.5 -0.8 2.4z"/><path fill="#387eca" stroke="#387eca" d="M235.1 279.5l0.8 -2.3 -0.3 -6.7 -0.8 2.5z"/><path fill="#3c82cd" stroke="#3c82cd" d="M235.8 277.2l0.8 -2.5 -0.3 -6.9 -0.8 2.7z"/><path fill="#478bd0" stroke="#478bd0" d="M236.6 274.7l0.8 -2.7 -0.3 -7.1 -0.8 2.9z"/><path fill="#5495d4" stroke="#5495d4" d="M237.3 271.9l0.8 -2.8 -0.3 -7.5 -0.8 3.1z"/><path fill="#5e9dd7" stroke="#5e9dd7" d="M238.1 269.2l0.8 -2.8 -0.3 -7.8 -0.8 3.1z"/><path fill="#69a6da" stroke="#69a6da" d="M238.9 266.3l0.8 -3.2 -0.3 -8.1 -0.8 3.5z"/><path fill="#79b1df" stroke="#79b1df" d="M239.6 263.2l0.8 -3.0 -0.3 -8.5 -0.8 3.3z"/><path fill="#93c0e5" stroke="#93c0e5" d="M240.4 260.2l0.8 -3.5 -0.4 -8.8 -0.8 3.8z"/><path fill="#b1d2ec" stroke="#b1d2ec" d="M241.2 256.7l0.8 -3.2 -0.4 -9.1 -0.8 3.5z"/><path fill="#cde0f0" stroke="#cde0f0" d="M241.9 253.6l0.8 -3.0 -0.4 -9.3 -0.8 3.1z"/><path fill="#e0eaf3" stroke="#e0eaf3" d="M242.7 250.6l0.8 -2.3 -0.4 -9.5 -0.8 2.5z"/><path fill="#ebeff4" stroke="#ebeff4" d="M243.5 248.3l0.8 -0.8 -0.4 -9.5 -0.8 0.8z"/><path fill="#f2f3f5" stroke="#f2f3f5" d="M244.2 247.5l0.8 -0.6 -0.4 -9.5 -0.8 0.6z"/><path fill="#f3f3f4" stroke="#f3f3f4" d="M245.0 246.9l0.8 -0.1 -0.4 -9.4 -0.8 -0.0z"/><path fill="#e5ecf3" stroke="#e5ecf3" d="M245.7 246.8l0.8 1.9 -0.4 -9.2 -0.8 -2.1z"/><path fill="#d4e4f1" stroke="#d4e4f1" d="M246.5 248.7l0.8 2.1 -0.4 -8.8 -0.8 -2.5z"/><path fill="#c5ddf0" stroke="#c5ddf0" d="M247.3 250.8l0.8 2.8 -0.4 -8.4 -0.8 -3.2z"/><path fill="#b0d2ec" stroke="#b0d2ec" d="M248.0 253.6l0.8 3.7 -0.4 -7.8 -0.8 -4.3z"/><path fill="#95c2e5" stroke="#95c2e5" d="M248.8 257.3l0.8 4.4 -0.4 -7.4 -0.8 -4.8z"/><path fill="#7eb4e0" stroke="#7eb4e0" d="M249.6 261.7l0.8 4.2 -0.5 -6.9 -0.8 -4.6z"/><path fill="#6ca9dc" stroke="#6ca9dc" d="M250.3 265.8l0.8 3.3 -0.5 -6.4 -0.8 -3.8z"/><path fill="#61a0d8" stroke="#61a0d8" d="M251.1 269.2l0.8 2.8 -0.5 -6.1 -0.8 -3.2z"/><path fill="#5697d5" stroke="#5697d5" d="M251.8 272.0l0.8 2.5 -0.5 -5.8 -0.8 -2.8z"/><path fill="#4e91d3" stroke="#4e91d3" d="M252.6 274.5l0.8 1.6 -0.5 -5.9 -0.8 -1.6z"/><path fill="#4e90d2" stroke="#4e90d2" d="M253.4 276.2l0.8 1.9 -0.5 -5.9 -0.8 -1.9z"/><path fill="#5092d3" stroke="#5092d3" d="M254.1 278.1l0.8 0.4 -0.5 -6.1 -0.8 -0.2z"/><path fill="#5495d4" stroke="#5495d4" d="M254.9 278.5l0.8 -0.1 -0.5 -6.2 -0.8 0.2z"/><path fill="#5596d5" stroke="#5596d5" d="M255.7 278.4l0.8 -0.3 -0.5 -6.3 -0.8 0.4z"/><path fill="#5797d5" stroke="#5797d5" d="M256.4 278.0l0.3 -0.0 -0.5 -6.3 -0.3 0.1z"/><path fill="#5495d4" stroke="#5495d4" d="M256.7 278.0l1.5 0.0 -0.5 -6.5 -1.5 0.1z"/><path fill="#5092d3" stroke="#5092d3" d="M258.2 278.0l1.5 -0.0 -0.6 -6.5 -1.5 0.1z"/><path fill="#5394d4" stroke="#5394d4" d="M259.7 278.0l1.5 -0.1 -0.6 -6.5 -1.5 0.1z"/><path fill="#5697d5" stroke="#5697d5" d="M261.3 277.8l1.5 0.4 -0.6 -6.5 -1.5 -0.3z"/><path fill="#5696d5" stroke="#5696d5" d="M262.8 278.2l1.5 -0.3 -0.6 -6.6 -1.5 0.4z"/><path fill="#5495d4" stroke="#5495d4" d="M264.3 277.9l1.5 -0.3 -0.6 -6.7 -1.5 0.4z"/><path fill="#5797d5" stroke="#5797d5" d="M265.8 277.6l1.5 -0.1 -0.6 -6.8 -1.5 0.2z"/><path fill="#5c9cd7" stroke="#5c9cd7" d="M267.4 277.6l1.5 -0.5 -0.7 -7.0 -1.5 0.6z"/><path fill="#62a0d8" stroke="#62a0d8" d="M268.9 277.1l1.5 -0.3 -0.7 -7.0 -1.5 0.4z"/><path fill="#64a2d9" stroke="#64a2d9" d="M270.4 276.8l1.5 -0.7 -0.7 -7.1 -1.5 0.8z"/><path fill="#66a4da" stroke="#66a4da" d="M271.9 276.0l1.5 -0.6 -0.7 -7.1 -1.5 0.7z"/><path fill="#67a5da" stroke="#67a5da" d="M273.5 275.4l1.5 0.0 -0.7 -7.2 -1.5 0.1z"/><path fill="#68a5da" stroke="#68a5da" d="M275.0 275.4l1.5 -0.6 -0.8 -7.1 -1.5 0.6z"/><path fill="#6da9dc" stroke="#6da9dc" d="M276.5 274.8l1.5 -0.1 -0.8 -7.1 -1.5 0.1z"/><path fill="#73addd" stroke="#73addd" d="M278.0 274.7l1.5 0.2 -0.8 -7.0 -1.5 -0.3z"/><path fill="#74addd" stroke="#74addd" d="M279.6 274.9l1.5 -0.2 -0.8 -6.9 -1.5 0.0z"/><path fill="#6ca8db" stroke="#6ca8db" d="M281.1 274.7l1.5 0.3 -0.8 -6.7 -1.5 -0.6z"/><path fill="#67a4da" stroke="#67a4da" d="M282.6 275.1l1.5 0.7 -0.8 -6.5 -1.5 -0.9z"/><path fill="#67a5da" stroke="#67a5da" d="M284.2 275.7l1.5 0.2 -0.9 -6.2 -1.5 -0.5z"/><path fill="#67a4da" stroke="#67a4da" d="M285.7 275.9l1.5 0.9 -0.9 -6.0 -1.5 -1.1z"/><path fill="#61a0d8" stroke="#61a0d8" d="M287.2 276.8l1.5 0.3 -0.9 -5.8 -1.5 -0.5z"/><path fill="#5e9dd7" stroke="#5e9dd7" d="M288.7 277.1l1.5 0.4 -0.9 -5.7 -1.5 -0.5z"/><path fill="#64a2d9" stroke="#64a2d9" d="M290.3 277.5l0.3 -0.1 -0.9 -5.7 -0.3 0.0z"/><path fill="#69a6db" stroke="#69a6db" d="M290.6 277.5l2.5 -0.4 -0.9 -5.6 -2.5 0.3z"/><path fill="#69a6da" stroke="#69a6da" d="M293.1 277.1l2.5 -0.2 -1.0 -5.6 -2.5 0.1z"/><path fill="#68a5da" stroke="#68a5da" d="M295.7 276.9l2.5 -0.1 -1.0 -5.6 -2.5 0.1z"/><path fill="#6aa7db" stroke="#6aa7db" d="M298.2 276.8l2.5 -0.1 -1.0 -5.6 -2.5 0.1z"/><path fill="#6ba7db" stroke="#6ba7db" d="M300.8 276.7l2.5 -0.4 -1.1 -5.5 -2.5 0.4z"/><path fill="#6ba8db" stroke="#6ba8db" d="M303.3 276.3l2.5 -0.2 -1.1 -5.5 -2.5 0.2z"/><path fill="#6ca8db" stroke="#6ca8db" d="M305.9 276.1l2.5 0.0 -1.1 -5.5 -2.5 -0.0z"/><path fill="#6ba7db" stroke="#6ba7db" d="M308.4 276.2l2.5 -0.2 -1.1 -5.5 -2.5 0.2z"/><path fill="#66a3da" stroke="#66a3da" d="M311.0 275.9l2.5 -0.5 -1.2 -5.5 -2.5 0.4z"/><path fill="#62a1d9" stroke="#62a1d9" d="M313.5 275.5l2.5 -0.0 -1.2 -5.5 -2.5 0.0z"/><path fill="#64a2d9" stroke="#64a2d9" d="M316.0 275.4l2.5 -0.5 -1.2 -5.5 -2.5 0.5z"/><path fill="#65a3d9" stroke="#65a3d9" d="M318.6 274.9l2.5 -0.4 -1.3 -5.4 -2.5 0.4z"/><path fill="#67a4da" stroke="#67a4da" d="M321.1 274.5l2.5 -0.0 -1.3 -5.5 -2.5 0.1z"/><path fill="#64a2d9" stroke="#64a2d9" d="M323.7 274.5l2.5 -0.2 -1.3 -5.5 -2.5 0.2z"/><path fill="#5f9ed7" stroke="#5f9ed7" d="M326.2 274.3l2.5 -0.1 -1.3 -5.5 -2.5 0.1z"/><path fill="#5f9ed7" stroke="#5f9ed7" d="M328.8 274.2l2.5 -0.2 -1.4 -5.5 -2.5 0.2z"/><path fill="#67a4da" stroke="#67a4da" d="M331.3 274.0l2.5 -0.3 -1.4 -5.5 -2.5 0.3z"/><path fill="#6ca9dc" stroke="#6ca9dc" d="M333.8 273.6l2.5 -0.3 -1.4 -5.5 -2.5 0.3z"/><path fill="#6aa7db" stroke="#6aa7db" d="M336.4 273.3l2.5 -0.3 -1.5 -5.4 -2.5 0.3z"/><path fill="#69a6da" stroke="#69a6da" d="M338.9 273.1l2.5 -0.3 -1.5 -5.4 -2.5 0.3z"/><path fill="#6ba8db" stroke="#6ba8db" d="M341.5 272.8l2.5 -0.2 -1.5 -5.4 -2.5 0.2z"/><path fill="#6da9dc" stroke="#6da9dc" d="M344.0 272.6l2.5 -0.2 -1.5 -5.4 -2.5 0.2z"/><path fill="#6da9dc" stroke="#6da9dc" d="M346.6 272.4l2.5 -0.6 -1.6 -5.4 -2.5 0.6z"/><path fill="#70abdc" stroke="#70abdc" d="M349.1 271.9l2.5 -0.5 -1.6 -5.5 -2.5 0.5z"/><path fill="#73addd" stroke="#73addd" d="M351.7 271.4l2.5 -0.3 -1.6 -5.5 -2.5 0.3z"/><path fill="#71acdd" stroke="#71acdd" d="M354.2 271.1l2.5 0.4 -1.7 -5.6 -2.5 -0.3z"/><path fill="#6fabdc" stroke="#6fabdc" d="M356.7 271.5l2.5 0.4 -1.7 -5.7 -2.5 -0.3z"/><path fill="#6daadc" stroke="#6daadc" d="M359.3 271.9l2.5 -1.0 -1.7 -5.6 -2.5 1.0z"/><path fill="#6aa7db" stroke="#6aa7db" d="M361.8 270.9l2.5 -2.2 -1.7 -5.5 -2.5 2.0z"/><path fill="#6ba8db" stroke="#6ba8db" d="M364.4 268.7l2.5 -1.1 -1.8 -5.5 -2.5 1.1z"/><path fill="#6eaadc" stroke="#6eaadc" d="M366.9 267.6l2.5 -1.1 -1.8 -5.4 -2.5 1.1z"/><path fill="#6fabdc" stroke="#6fabdc" d="M369.5 266.4l2.5 -1.6 -1.8 -5.4 -2.5 1.5z"/><path fill="#6da9dc" stroke="#6da9dc" d="M372.0 264.9l2.5 -1.4 -1.9 -5.3 -2.5 1.3z"/><path fill="#6ca8db" stroke="#6ca8db" d="M374.6 263.5l0.8 -0.4 -1.9 -5.3 -0.8 0.3z"/><path fill="#1954a8" stroke="#1954a8" d="M120.0 306.2l2.6 0.8 1.0 -5.6 -2.5 -0.8z"/><path fill="#1852a6" stroke="#1852a6" d="M122.6 307.0l2.6 -1.6 0.9 -5.5 -2.5 1.5z"/><path fill="#154ca0" stroke="#154ca0" d="M125.1 305.4l2.6 1.2 0.9 -5.6 -2.5 -1.1z"/><path fill="#144b9e" stroke="#144b9e" d="M127.7 306.6l2.6 -0.7 0.9 -5.4 -2.5 0.5z"/><path fill="#164fa2" stroke="#164fa2" d="M130.3 305.9l2.6 0.2 0.9 -5.4 -2.5 -0.2z"/><path fill="#1750a4" stroke="#1750a4" d="M132.9 306.1l2.6 0.2 0.8 -5.5 -2.5 -0.2z"/><path fill="#164ea2" stroke="#164ea2" d="M135.4 306.3l2.6 -0.4 0.8 -5.4 -2.5 0.3z"/><path fill="#164fa2" stroke="#164fa2" d="M138.0 305.8l2.6 -0.6 0.8 -5.4 -2.5 0.6z"/><path fill="#1852a5" stroke="#1852a5" d="M140.6 305.2l2.6 -0.1 0.7 -5.3 -2.5 0.0z"/><path fill="#1852a6" stroke="#1852a6" d="M143.2 305.1l2.6 -0.4 0.7 -5.4 -2.5 0.4z"/><path fill="#164fa3" stroke="#164fa3" d="M145.7 304.8l2.6 1.0 0.7 -5.5 -2.5 -0.9z"/><path fill="#154da1" stroke="#154da1" d="M148.3 305.8l2.6 -0.5 0.7 -5.4 -2.5 0.4z"/><path fill="#164ea2" stroke="#164ea2" d="M150.9 305.2l2.6 -0.5 0.6 -5.4 -2.5 0.5z"/><path fill="#1851a5" stroke="#1851a5" d="M153.4 304.8l2.6 1.4 0.6 -5.5 -2.5 -1.3z"/><path fill="#1a54a8" stroke="#1a54a8" d="M156.0 306.1l2.6 -1.2 0.6 -5.5 -2.5 1.2z"/><path fill="#1a55a9" stroke="#1a55a9" d="M158.6 304.9l2.6 0.4 0.5 -5.5 -2.5 -0.4z"/><path fill="#1953a7" stroke="#1953a7" d="M161.2 305.3l2.6 -0.2 0.5 -5.5 -2.5 0.2z"/><path fill="#1851a5" stroke="#1851a5" d="M163.7 305.1l2.6 0.7 0.5 -5.6 -2.5 -0.6z"/><path fill="#1953a7" stroke="#1953a7" d="M166.3 305.8l2.6 -0.1 0.5 -5.6 -2.5 0.2z"/><path fill="#1a56aa" stroke="#1a56aa" d="M168.9 305.7l2.6 0.0 0.4 -5.7 -2.5 0.0z"/><path fill="#1d59ae" stroke="#1d59ae" d="M171.5 305.7l2.6 -0.4 0.4 -5.6 -2.5 0.4z"/><path fill="#2262b6" stroke="#2262b6" d="M174.0 305.3l2.6 2.6 0.4 -5.8 -2.5 -2.4z"/><path fill="#1f5eb3" stroke="#1f5eb3" d="M176.6 307.9l2.6 -3.5 0.3 -5.5 -2.5 3.1z"/><path fill="#1a54a8" stroke="#1a54a8" d="M179.2 304.4l2.6 -0.3 0.3 -5.6 -2.5 0.3z"/><path fill="#1a55aa" stroke="#1a55aa" d="M181.7 304.1l2.6 -0.7 0.3 -5.5 -2.5 0.6z"/><path fill="#1b57ab" stroke="#1b57ab" d="M184.3 303.5l2.6 -0.3 0.3 -5.5 -2.5 0.2z"/><path fill="#1953a7" stroke="#1953a7" d="M186.9 303.2l2.6 1.0 0.2 -5.6 -2.5 -0.9z"/><path fill="#1751a5" stroke="#1751a5" d="M189.5 304.2l2.6 -0.3 0.2 -5.6 -2.5 0.2z"/><path fill="#1751a5" stroke="#1751a5" d="M192.0 304.0l2.6 -1.7 0.2 -5.5 -2.5 1.6z"/><path fill="#1750a4" stroke="#1750a4" d="M194.6 302.3l2.6 -0.7 0.1 -5.5 -2.5 0.7z"/><path fill="#164ea2" stroke="#164ea2" d="M197.2 301.6l2.6 -0.1 0.1 -5.5 -2.5 0.1z"/><path fill="#164fa3" stroke="#164fa3" d="M199.8 301.5l2.6 0.6 0.1 -5.5 -2.5 -0.6z"/><path fill="#1953a7" stroke="#1953a7" d="M202.3 302.1l2.6 -0.2 0.1 -5.5 -2.5 0.2z"/><path fill="#1a56aa" stroke="#1a56aa" d="M204.9 301.9l2.6 -1.6 0.0 -5.4 -2.5 1.5z"/><path fill="#1a56aa" stroke="#1a56aa" d="M207.5 300.3l2.6 0.7 -0.0 -5.5 -2.5 -0.6z"/><path fill="#1a56aa" stroke="#1a56aa" d="M210.0 300.9l2.6 -1.9 -0.0 -5.5 -2.5 2.0z"/><path fill="#1a56aa" stroke="#1a56aa" d="M212.6 299.0l2.6 0.1 -0.1 -5.6 -2.5 -0.0z"/><path fill="#1a55a9" stroke="#1a55a9" d="M215.2 299.1l2.6 -0.6 -0.1 -5.7 -2.5 0.7z"/><path fill="#1b57ab" stroke="#1b57ab" d="M217.8 298.5l2.6 -0.2 -0.1 -5.8 -2.5 0.3z"/><path fill="#1e5bb0" stroke="#1e5bb0" d="M220.3 298.3l2.6 -2.1 -0.1 -5.8 -2.5 2.0z"/><path fill="#2160b5" stroke="#2160b5" d="M222.9 296.3l2.6 0.1 -0.2 -6.0 -2.5 0.1z"/><path fill="#2465b8" stroke="#2465b8" d="M225.5 296.4l2.6 -1.2 -0.2 -6.1 -2.5 1.4z"/><path fill="#296abc" stroke="#296abc" d="M228.1 295.1l2.6 -2.1 -0.2 -6.2 -2.5 2.2z"/><path fill="#2b6dbe" stroke="#2b6dbe" d="M230.6 293.1l0.9 -1.6 -0.2 -6.1 -0.8 1.6z"/><path fill="#2c6ebf" stroke="#2c6ebf" d="M231.5 291.4l0.8 -0.5 -0.3 -6.2 -0.8 0.6z"/><path fill="#2d70c0" stroke="#2d70c0" d="M232.3 290.9l0.8 -0.5 -0.3 -6.3 -0.8 0.6z"/><path fill="#2e71c1" stroke="#2e71c1" d="M233.0 290.4l0.8 -1.0 -0.3 -6.4 -0.8 1.1z"/><path fill="#2f72c1" stroke="#2f72c1" d="M233.8 289.4l0.8 -1.2 -0.3 -6.4 -0.8 1.3z"/><path fill="#3174c3" stroke="#3174c3" d="M234.6 288.2l0.8 -2.2 -0.3 -6.5 -0.8 2.3z"/><path fill="#3377c5" stroke="#3377c5" d="M235.3 286.0l0.8 -2.1 -0.3 -6.7 -0.8 2.3z"/><path fill="#367bc8" stroke="#367bc8" d="M236.1 283.9l0.8 -2.3 -0.3 -6.9 -0.8 2.5z"/><path fill="#3b80cc" stroke="#3b80cc" d="M236.9 281.6l0.8 -2.5 -0.3 -7.1 -0.8 2.7z"/><path fill="#4489d0" stroke="#4489d0" d="M237.7 279.1l0.8 -2.5 -0.3 -7.5 -0.8 2.8z"/><path fill="#4e90d2" stroke="#4e90d2" d="M238.4 276.6l0.8 -2.5 -0.3 -7.8 -0.8 2.8z"/><path fill="#5797d5" stroke="#5797d5" d="M239.2 274.2l0.8 -2.9 -0.3 -8.1 -0.8 3.2z"/><path fill="#62a0d8" stroke="#62a0d8" d="M240.0 271.3l0.8 -2.6 -0.3 -8.5 -0.8 3.0z"/><path fill="#73addd" stroke="#73addd" d="M240.7 268.7l0.8 -3.2 -0.4 -8.8 -0.8 3.5z"/><path fill="#8fbee4" stroke="#8fbee4" d="M241.5 265.5l0.8 -2.9 -0.4 -9.1 -0.8 3.2z"/><path fill="#a6ccea" stroke="#a6ccea" d="M242.3 262.6l0.8 -2.8 -0.4 -9.3 -0.8 3.0z"/><path fill="#b6d5ed" stroke="#b6d5ed" d="M243.1 259.8l0.8 -2.0 -0.4 -9.5 -0.8 2.3z"/><path fill="#bfdaef" stroke="#bfdaef" d="M243.8 257.8l0.8 -0.7 -0.4 -9.5 -0.8 0.8z"/><path fill="#c6ddf0" stroke="#c6ddf0" d="M244.6 257.0l0.8 -0.6 -0.4 -9.5 -0.8 0.6z"/><path fill="#c8def0" stroke="#c8def0" d="M245.4 256.4l0.8 -0.3 -0.4 -9.4 -0.8 0.1z"/><path fill="#bbd8ee" stroke="#bbd8ee" d="M246.1 256.2l0.8 1.7 -0.4 -9.2 -0.8 -1.9z"/><path fill="#afd1ec" stroke="#afd1ec" d="M246.9 257.9l0.8 1.7 -0.4 -8.8 -0.8 -2.1z"/><path fill="#a6cbe9" stroke="#a6cbe9" d="M247.7 259.6l0.8 2.3 -0.4 -8.4 -0.8 -2.8z"/><path fill="#96c2e6" stroke="#96c2e6" d="M248.5 261.9l0.8 3.2 -0.4 -7.8 -0.8 -3.7z"/><path fill="#7fb4e0" stroke="#7fb4e0" d="M249.2 265.1l0.8 3.9 -0.4 -7.4 -0.8 -4.4z"/><path fill="#6ca8db" stroke="#6ca8db" d="M250.0 269.1l0.8 3.7 -0.5 -6.9 -0.8 -4.2z"/><path fill="#62a0d8" stroke="#62a0d8" d="M250.8 272.8l0.8 2.8 -0.5 -6.4 -0.8 -3.3z"/><path fill="#5999d6" stroke="#5999d6" d="M251.5 275.6l0.8 2.5 -0.5 -6.1 -0.8 -2.8z"/><path fill="#4f91d3" stroke="#4f91d3" d="M252.3 278.1l0.8 2.3 -0.5 -5.8 -0.8 -2.5z"/><path fill="#478bd0" stroke="#478bd0" d="M253.1 280.4l0.8 1.6 -0.5 -5.9 -0.8 -1.6z"/><path fill="#468ad0" stroke="#468ad0" d="M253.9 282.0l0.8 2.0 -0.5 -5.9 -0.8 -1.9z"/><path fill="#498cd1" stroke="#498cd1" d="M254.6 284.0l0.8 0.6 -0.5 -6.1 -0.8 -0.4z"/><path fill="#4c8fd2" stroke="#4c8fd2" d="M255.4 284.5l0.8 0.0 -0.5 -6.2 -0.8 0.1z"/><path fill="#4e90d2" stroke="#4e90d2" d="M256.2 284.5l0.8 -0.2 -0.5 -6.3 -0.8 0.3z"/><path fill="#4f91d3" stroke="#4f91d3" d="M257.0 284.3l0.3 -0.0 -0.5 -6.3 -0.3 0.0z"/><path fill="#4c8fd2" stroke="#4c8fd2" d="M257.2 284.3l1.5 0.1 -0.5 -6.5 -1.5 -0.0z"/><path fill="#498cd1" stroke="#498cd1" d="M258.8 284.5l1.5 0.0 -0.6 -6.5 -1.5 0.0z"/><path fill="#4b8ed1" stroke="#4b8ed1" d="M260.3 284.5l1.5 -0.2 -0.6 -6.5 -1.5 0.1z"/><path fill="#4e91d2" stroke="#4e91d2" d="M261.8 284.3l1.5 0.5 -0.6 -6.5 -1.5 -0.4z"/><path fill="#4e90d2" stroke="#4e90d2" d="M263.4 284.8l1.5 -0.3 -0.6 -6.6 -1.5 0.3z"/><path fill="#4b8ed2" stroke="#4b8ed2" d="M264.9 284.5l1.5 -0.2 -0.6 -6.7 -1.5 0.3z"/><path fill="#4e91d2" stroke="#4e91d2" d="M266.5 284.3l1.5 0.1 -0.6 -6.8 -1.5 0.1z"/><path fill="#5495d4" stroke="#5495d4" d="M268.0 284.4l1.5 -0.4 -0.7 -7.0 -1.5 0.5z"/><path fill="#5999d6" stroke="#5999d6" d="M269.6 284.0l1.5 -0.2 -0.7 -7.0 -1.5 0.3z"/><path fill="#5b9bd6" stroke="#5b9bd6" d="M271.1 283.8l1.5 -0.7 -0.7 -7.1 -1.5 0.7z"/><path fill="#5c9cd7" stroke="#5c9cd7" d="M272.6 283.1l1.5 -0.6 -0.7 -7.1 -1.5 0.6z"/><path fill="#5d9cd7" stroke="#5d9cd7" d="M274.2 282.5l1.5 0.1 -0.7 -7.2 -1.5 -0.0z"/><path fill="#5d9cd7" stroke="#5d9cd7" d="M275.7 282.6l1.5 -0.7 -0.8 -7.1 -1.5 0.6z"/><path fill="#62a0d8" stroke="#62a0d8" d="M277.3 281.9l1.5 -0.1 -0.8 -7.1 -1.5 0.1z"/><path fill="#67a4da" stroke="#67a4da" d="M278.8 281.8l1.5 0.1 -0.8 -7.0 -1.5 -0.2z"/><path fill="#68a5da" stroke="#68a5da" d="M280.4 281.9l1.5 -0.3 -0.8 -6.9 -1.5 0.2z"/><path fill="#63a1d9" stroke="#63a1d9" d="M281.9 281.6l1.5 0.1 -0.8 -6.7 -1.5 -0.3z"/><path fill="#5e9dd7" stroke="#5e9dd7" d="M283.5 281.7l1.5 0.5 -0.8 -6.5 -1.5 -0.7z"/><path fill="#5f9ed8" stroke="#5f9ed8" d="M285.0 282.2l1.5 -0.1 -0.9 -6.2 -1.5 -0.2z"/><path fill="#5f9ed8" stroke="#5f9ed8" d="M286.5 282.1l1.5 0.6 -0.9 -6.0 -1.5 -0.9z"/><path fill="#5999d6" stroke="#5999d6" d="M288.1 282.8l1.5 0.1 -0.9 -5.8 -1.5 -0.3z"/><path fill="#5697d5" stroke="#5697d5" d="M289.6 282.9l1.5 0.4 -0.9 -5.7 -1.5 -0.4z"/><path fill="#5c9cd7" stroke="#5c9cd7" d="M291.2 283.2l0.3 -0.1 -0.9 -5.7 -0.3 0.1z"/><path fill="#62a0d8" stroke="#62a0d8" d="M291.5 283.2l2.6 -0.5 -0.9 -5.6 -2.5 0.4z"/><path fill="#62a0d8" stroke="#62a0d8" d="M294.1 282.6l2.6 -0.2 -1.0 -5.6 -2.5 0.2z"/><path fill="#619fd8" stroke="#619fd8" d="M296.7 282.5l2.6 -0.1 -1.0 -5.6 -2.5 0.1z"/><path fill="#63a1d9" stroke="#63a1d9" d="M299.2 282.4l2.6 -0.1 -1.0 -5.6 -2.5 0.1z"/><path fill="#64a2d9" stroke="#64a2d9" d="M301.8 282.3l2.6 -0.4 -1.1 -5.5 -2.5 0.4z"/><path fill="#64a2d9" stroke="#64a2d9" d="M304.4 281.8l2.6 -0.2 -1.1 -5.5 -2.5 0.2z"/><path fill="#65a3d9" stroke="#65a3d9" d="M306.9 281.6l2.6 0.1 -1.1 -5.5 -2.5 -0.0z"/><path fill="#64a2d9" stroke="#64a2d9" d="M309.5 281.7l2.6 -0.2 -1.1 -5.5 -2.5 0.2z"/><path fill="#5e9ed7" stroke="#5e9ed7" d="M312.1 281.5l2.6 -0.5 -1.2 -5.5 -2.5 0.5z"/><path fill="#5b9bd6" stroke="#5b9bd6" d="M314.7 280.9l2.6 -0.0 -1.2 -5.5 -2.5 0.0z"/><path fill="#5c9cd7" stroke="#5c9cd7" d="M317.2 280.9l2.6 -0.6 -1.2 -5.5 -2.5 0.5z"/><path fill="#5e9dd7" stroke="#5e9dd7" d="M319.8 280.4l2.6 -0.4 -1.3 -5.4 -2.5 0.4z"/><path fill="#5f9ed8" stroke="#5f9ed8" d="M322.4 280.0l2.6 -0.0 -1.3 -5.5 -2.5 0.0z"/><path fill="#5d9cd7" stroke="#5d9cd7" d="M325.0 280.0l2.6 -0.2 -1.3 -5.5 -2.5 0.2z"/><path fill="#5798d5" stroke="#5798d5" d="M327.5 279.8l2.6 -0.1 -1.3 -5.5 -2.5 0.1z"/><path fill="#5798d5" stroke="#5798d5" d="M330.1 279.6l2.6 -0.2 -1.4 -5.5 -2.5 0.2z"/><path fill="#5f9ed8" stroke="#5f9ed8" d="M332.7 279.4l2.6 -0.4 -1.4 -5.5 -2.5 0.3z"/><path fill="#65a3d9" stroke="#65a3d9" d="M335.2 279.1l2.6 -0.3 -1.4 -5.5 -2.5 0.3z"/><path fill="#63a1d9" stroke="#63a1d9" d="M337.8 278.8l2.6 -0.3 -1.5 -5.4 -2.5 0.3z"/><path fill="#62a0d8" stroke="#62a0d8" d="M340.4 278.5l2.6 -0.3 -1.5 -5.4 -2.5 0.3z"/><path fill="#64a2d9" stroke="#64a2d9" d="M343.0 278.3l2.6 -0.2 -1.5 -5.4 -2.5 0.2z"/><path fill="#66a3d9" stroke="#66a3d9" d="M345.5 278.0l2.6 -0.2 -1.5 -5.4 -2.5 0.2z"/><path fill="#66a4da" stroke="#66a4da" d="M348.1 277.9l2.6 -0.6 -1.6 -5.4 -2.5 0.6z"/><path fill="#69a6da" stroke="#69a6da" d="M350.7 277.3l2.6 -0.5 -1.6 -5.5 -2.5 0.5z"/><path fill="#6ba7db" stroke="#6ba7db" d="M353.3 276.8l2.6 -0.2 -1.6 -5.5 -2.5 0.3z"/><path fill="#69a6db" stroke="#69a6db" d="M355.8 276.6l2.6 0.5 -1.7 -5.6 -2.5 -0.4z"/><path fill="#68a5da" stroke="#68a5da" d="M358.4 277.0l2.6 0.5 -1.7 -5.7 -2.5 -0.4z"/><path fill="#67a4da" stroke="#67a4da" d="M361.0 277.6l2.6 -1.1 -1.7 -5.6 -2.5 1.0z"/><path fill="#63a2d9" stroke="#63a2d9" d="M363.5 276.5l2.6 -2.3 -1.7 -5.5 -2.5 2.2z"/><path fill="#64a2d9" stroke="#64a2d9" d="M366.1 274.2l2.6 -1.2 -1.8 -5.5 -2.5 1.1z"/><path fill="#67a4da" stroke="#67a4da" d="M368.7 273.1l2.6 -1.2 -1.8 -5.4 -2.5 1.1z"/><path fill="#68a5da" stroke="#68a5da" d="M371.3 271.9l2.6 -1.6 -1.8 -5.4 -2.5 1.6z"/><path fill="#66a4da" stroke="#66a4da" d="M373.8 270.2l2.6 -1.5 -1.9 -5.3 -2.5 1.4z"/><path fill="#65a3d9" stroke="#65a3d9" d="M376.4 268.8l0.9 -0.4 -1.9 -5.3 -0.8 0.4z"/><path fill="#164fa3" stroke="#164fa3" d="M119.0 311.8l2.6 0.7 1.0 -5.6 -2.6 -0.8z"/><path fill="#154da0" stroke="#154da0" d="M121.6 312.6l2.6 -1.7 0.9 -5.5 -2.6 1.6z"/><path fill="#114698" stroke="#114698" d="M124.2 310.9l2.6 1.3 0.9 -5.6 -2.6 -1.2z"/><path fill="#114495" stroke="#114495" d="M126.8 312.2l2.6 -0.8 0.9 -5.4 -2.6 0.7z"/><path fill="#134a9d" stroke="#134a9d" d="M129.4 311.4l2.6 0.2 0.9 -5.4 -2.6 -0.2z"/><path fill="#144b9f" stroke="#144b9f" d="M132.0 311.5l2.6 0.2 0.8 -5.5 -2.6 -0.2z"/><path fill="#13499c" stroke="#13499c" d="M134.6 311.7l2.6 -0.5 0.8 -5.4 -2.6 0.4z"/><path fill="#13499c" stroke="#13499c" d="M137.2 311.2l2.6 -0.6 0.8 -5.4 -2.6 0.6z"/><path fill="#154ca0" stroke="#154ca0" d="M139.8 310.7l2.6 -0.2 0.7 -5.3 -2.6 0.1z"/><path fill="#154da0" stroke="#154da0" d="M142.4 310.5l2.6 -0.3 0.7 -5.4 -2.6 0.4z"/><path fill="#134a9d" stroke="#134a9d" d="M145.0 310.1l2.6 1.1 0.7 -5.5 -2.6 -1.0z"/><path fill="#12489a" stroke="#12489a" d="M147.6 311.3l2.6 -0.6 0.7 -5.4 -2.6 0.5z"/><path fill="#12499c" stroke="#12499c" d="M150.2 310.7l2.6 -0.5 0.6 -5.4 -2.6 0.5z"/><path fill="#144c9f" stroke="#144c9f" d="M152.8 310.2l2.6 1.4 0.6 -5.5 -2.6 -1.4z"/><path fill="#164fa3" stroke="#164fa3" d="M155.4 311.6l2.6 -1.2 0.6 -5.5 -2.6 1.2z"/><path fill="#1750a4" stroke="#1750a4" d="M158.0 310.5l2.6 0.4 0.5 -5.5 -2.6 -0.4z"/><path fill="#154ea1" stroke="#154ea1" d="M160.6 310.8l2.6 -0.2 0.5 -5.5 -2.6 0.2z"/><path fill="#144c9f" stroke="#144c9f" d="M163.2 310.7l2.6 0.7 0.5 -5.6 -2.6 -0.7z"/><path fill="#154ea1" stroke="#154ea1" d="M165.8 311.4l2.6 -0.1 0.5 -5.6 -2.6 0.1z"/><path fill="#1750a4" stroke="#1750a4" d="M168.4 311.3l2.6 0.1 0.4 -5.7 -2.6 -0.0z"/><path fill="#1a54a9" stroke="#1a54a9" d="M171.0 311.4l2.6 -0.5 0.4 -5.6 -2.6 0.4z"/><path fill="#1e5db1" stroke="#1e5db1" d="M173.6 310.9l2.6 2.9 0.4 -5.8 -2.6 -2.6z"/><path fill="#1c59ad" stroke="#1c59ad" d="M176.2 313.7l2.6 -3.8 0.3 -5.5 -2.6 3.5z"/><path fill="#164fa3" stroke="#164fa3" d="M178.8 310.0l2.6 -0.3 0.3 -5.6 -2.6 0.3z"/><path fill="#1750a4" stroke="#1750a4" d="M181.4 309.7l2.6 -0.7 0.3 -5.5 -2.6 0.7z"/><path fill="#1851a5" stroke="#1851a5" d="M184.0 309.0l2.6 -0.3 0.3 -5.5 -2.6 0.3z"/><path fill="#164ea1" stroke="#164ea1" d="M186.6 308.7l2.6 1.1 0.2 -5.6 -2.6 -1.0z"/><path fill="#144b9f" stroke="#144b9f" d="M189.2 309.9l2.6 -0.3 0.2 -5.6 -2.6 0.3z"/><path fill="#144b9f" stroke="#144b9f" d="M191.8 309.6l2.6 -1.8 0.2 -5.5 -2.6 1.7z"/><path fill="#144b9e" stroke="#144b9e" d="M194.4 307.7l2.6 -0.7 0.1 -5.5 -2.6 0.7z"/><path fill="#13499c" stroke="#13499c" d="M197.0 307.1l2.6 -0.0 0.1 -5.5 -2.6 0.1z"/><path fill="#134a9d" stroke="#134a9d" d="M199.6 307.0l2.6 0.6 0.1 -5.5 -2.6 -0.6z"/><path fill="#164ea2" stroke="#164ea2" d="M202.2 307.6l2.6 -0.2 0.1 -5.5 -2.6 0.2z"/><path fill="#1750a4" stroke="#1750a4" d="M204.8 307.4l2.6 -1.8 0.0 -5.4 -2.6 1.6z"/><path fill="#1750a4" stroke="#1750a4" d="M207.4 305.7l2.6 0.7 -0.0 -5.5 -2.6 -0.7z"/><path fill="#1750a4" stroke="#1750a4" d="M210.0 306.4l2.6 -1.9 -0.0 -5.5 -2.6 1.9z"/><path fill="#1750a4" stroke="#1750a4" d="M212.6 304.5l2.6 0.2 -0.1 -5.6 -2.6 -0.1z"/><path fill="#164fa3" stroke="#164fa3" d="M215.2 304.7l2.6 -0.5 -0.1 -5.7 -2.6 0.6z"/><path fill="#1751a5" stroke="#1751a5" d="M217.9 304.2l2.6 -0.1 -0.1 -5.8 -2.6 0.2z"/><path fill="#1a56aa" stroke="#1a56aa" d="M220.5 304.1l2.6 -2.1 -0.1 -5.8 -2.6 2.1z"/><path fill="#1d5baf" stroke="#1d5baf" d="M223.1 302.0l2.6 0.3 -0.2 -6.0 -2.6 -0.1z"/><path fill="#205eb3" stroke="#205eb3" d="M225.7 302.3l2.6 -1.1 -0.2 -6.1 -2.6 1.2z"/><path fill="#2464b7" stroke="#2464b7" d="M228.3 301.2l2.6 -1.9 -0.2 -6.2 -2.6 2.1z"/><path fill="#2666b9" stroke="#2666b9" d="M230.9 299.3l0.9 -1.7 -0.2 -6.1 -0.9 1.6z"/><path fill="#2767ba" stroke="#2767ba" d="M231.7 297.5l0.8 -0.4 -0.3 -6.2 -0.8 0.5z"/><path fill="#2869bb" stroke="#2869bb" d="M232.5 297.1l0.8 -0.4 -0.3 -6.3 -0.8 0.5z"/><path fill="#296abc" stroke="#296abc" d="M233.3 296.8l0.8 -1.0 -0.3 -6.4 -0.8 1.0z"/><path fill="#2a6bbd" stroke="#2a6bbd" d="M234.1 295.8l0.8 -1.2 -0.3 -6.4 -0.8 1.2z"/><path fill="#2b6dbe" stroke="#2b6dbe" d="M234.8 294.6l0.8 -2.1 -0.3 -6.5 -0.8 2.2z"/><path fill="#2d70c0" stroke="#2d70c0" d="M235.6 292.5l0.8 -1.9 -0.3 -6.7 -0.8 2.1z"/><path fill="#3073c2" stroke="#3073c2" d="M236.4 290.6l0.8 -2.2 -0.3 -6.9 -0.8 2.3z"/><path fill="#3478c6" stroke="#3478c6" d="M237.2 288.5l0.8 -2.3 -0.3 -7.1 -0.8 2.5z"/><path fill="#397eca" stroke="#397eca" d="M238.0 286.2l0.8 -2.1 -0.3 -7.5 -0.8 2.5z"/><path fill="#3c82cd" stroke="#3c82cd" d="M238.7 284.1l0.8 -2.1 -0.3 -7.8 -0.8 2.5z"/><path fill="#4488cf" stroke="#4488cf" d="M239.5 282.0l0.8 -2.6 -0.3 -8.1 -0.8 2.9z"/><path fill="#4d90d2" stroke="#4d90d2" d="M240.3 279.4l0.8 -2.3 -0.3 -8.5 -0.8 2.6z"/><path fill="#5c9bd6" stroke="#5c9bd6" d="M241.1 277.1l0.8 -2.9 -0.4 -8.8 -0.8 3.2z"/><path fill="#6da9dc" stroke="#6da9dc" d="M241.9 274.3l0.8 -2.5 -0.4 -9.1 -0.8 2.9z"/><path fill="#82b6e1" stroke="#82b6e1" d="M242.7 271.7l0.8 -2.7 -0.4 -9.3 -0.8 2.8z"/><path fill="#90bee4" stroke="#90bee4" d="M243.4 269.1l0.8 -1.8 -0.4 -9.5 -0.8 2.0z"/><path fill="#97c3e6" stroke="#97c3e6" d="M244.2 267.3l0.8 -0.7 -0.4 -9.5 -0.8 0.7z"/><path fill="#9dc6e7" stroke="#9dc6e7" d="M245.0 266.6l0.8 -0.7 -0.4 -9.5 -0.8 0.6z"/><path fill="#a0c8e8" stroke="#a0c8e8" d="M245.8 265.9l0.8 -0.4 -0.4 -9.4 -0.8 0.3z"/><path fill="#96c2e6" stroke="#96c2e6" d="M246.6 265.5l0.8 1.5 -0.4 -9.2 -0.8 -1.7z"/><path fill="#8dbce3" stroke="#8dbce3" d="M247.3 267.0l0.8 1.3 -0.4 -8.8 -0.8 -1.7z"/><path fill="#87b9e2" stroke="#87b9e2" d="M248.1 268.3l0.8 1.9 -0.4 -8.4 -0.8 -2.3z"/><path fill="#7bb2df" stroke="#7bb2df" d="M248.9 270.3l0.8 2.7 -0.4 -7.8 -0.8 -3.2z"/><path fill="#6aa7db" stroke="#6aa7db" d="M249.7 273.0l0.8 3.5 -0.4 -7.4 -0.8 -3.9z"/><path fill="#5f9ed7" stroke="#5f9ed7" d="M250.5 276.4l0.8 3.3 -0.5 -6.9 -0.8 -3.7z"/><path fill="#5797d5" stroke="#5797d5" d="M251.2 279.7l0.8 2.3 -0.5 -6.4 -0.8 -2.8z"/><path fill="#4f91d3" stroke="#4f91d3" d="M252.0 282.1l0.8 2.1 -0.5 -6.1 -0.8 -2.5z"/><path fill="#468ad0" stroke="#468ad0" d="M252.8 284.2l0.8 2.1 -0.5 -5.8 -0.8 -2.3z"/><path fill="#3e84ce" stroke="#3e84ce" d="M253.6 286.2l0.8 1.6 -0.5 -5.9 -0.8 -1.6z"/><path fill="#3e84ce" stroke="#3e84ce" d="M254.4 287.9l0.8 2.0 -0.5 -5.9 -0.8 -2.0z"/><path fill="#4186ce" stroke="#4186ce" d="M255.1 289.9l0.8 0.7 -0.5 -6.1 -0.8 -0.6z"/><path fill="#4488cf" stroke="#4488cf" d="M255.9 290.6l0.8 0.1 -0.5 -6.2 -0.8 -0.0z"/><path fill="#468ad0" stroke="#468ad0" d="M256.7 290.7l0.8 -0.1 -0.5 -6.3 -0.8 0.2z"/><path fill="#478bd0" stroke="#478bd0" d="M257.5 290.6l0.3 0.0 -0.5 -6.3 -0.3 0.0z"/><path fill="#4488cf" stroke="#4488cf" d="M257.7 290.7l1.6 0.3 -0.5 -6.5 -1.5 -0.1z"/><path fill="#4085ce" stroke="#4085ce" d="M259.3 290.9l1.6 0.1 -0.6 -6.5 -1.5 -0.0z"/><path fill="#4287cf" stroke="#4287cf" d="M260.9 291.0l1.6 -0.3 -0.6 -6.5 -1.5 0.2z"/><path fill="#468ad0" stroke="#468ad0" d="M262.4 290.8l1.6 0.5 -0.6 -6.5 -1.5 -0.5z"/><path fill="#4589d0" stroke="#4589d0" d="M264.0 291.3l1.6 -0.2 -0.6 -6.6 -1.5 0.3z"/><path fill="#4387cf" stroke="#4387cf" d="M265.5 291.1l1.6 -0.1 -0.6 -6.7 -1.5 0.2z"/><path fill="#4589d0" stroke="#4589d0" d="M267.1 291.0l1.6 0.2 -0.6 -6.8 -1.5 -0.1z"/><path fill="#4a8ed1" stroke="#4a8ed1" d="M268.7 291.2l1.6 -0.2 -0.7 -7.0 -1.5 0.4z"/><path fill="#4f91d3" stroke="#4f91d3" d="M270.2 291.0l1.6 -0.1 -0.7 -7.0 -1.5 0.2z"/><path fill="#5193d3" stroke="#5193d3" d="M271.8 290.9l1.6 -0.7 -0.7 -7.1 -1.5 0.7z"/><path fill="#5293d4" stroke="#5293d4" d="M273.3 290.2l1.6 -0.6 -0.7 -7.1 -1.5 0.6z"/><path fill="#5293d3" stroke="#5293d3" d="M274.9 289.6l1.6 0.1 -0.7 -7.2 -1.5 -0.1z"/><path fill="#5193d3" stroke="#5193d3" d="M276.5 289.7l1.6 -0.7 -0.8 -7.1 -1.5 0.7z"/><path fill="#5697d5" stroke="#5697d5" d="M278.0 289.0l1.6 -0.1 -0.8 -7.1 -1.5 0.1z"/><path fill="#5c9cd7" stroke="#5c9cd7" d="M279.6 288.9l1.6 -0.0 -0.8 -7.0 -1.5 -0.1z"/><path fill="#5e9dd7" stroke="#5e9dd7" d="M281.1 288.9l1.6 -0.4 -0.8 -6.9 -1.5 0.3z"/><path fill="#5999d6" stroke="#5999d6" d="M282.7 288.5l1.6 -0.1 -0.8 -6.7 -1.5 -0.1z"/><path fill="#5495d4" stroke="#5495d4" d="M284.3 288.4l1.6 0.3 -0.8 -6.5 -1.5 -0.5z"/><path fill="#5697d5" stroke="#5697d5" d="M285.8 288.7l1.6 -0.4 -0.9 -6.2 -1.5 0.1z"/><path fill="#5797d5" stroke="#5797d5" d="M287.4 288.3l1.6 0.4 -0.9 -6.0 -1.5 -0.6z"/><path fill="#5193d3" stroke="#5193d3" d="M289.0 288.7l1.6 -0.1 -0.9 -5.8 -1.5 -0.1z"/><path fill="#4e90d2" stroke="#4e90d2" d="M290.5 288.7l1.6 0.3 -0.9 -5.7 -1.5 -0.4z"/><path fill="#5495d4" stroke="#5495d4" d="M292.1 288.9l0.3 -0.1 -0.9 -5.7 -0.3 0.1z"/><path fill="#5a9ad6" stroke="#5a9ad6" d="M292.4 288.8l2.6 -0.6 -0.9 -5.6 -2.6 0.5z"/><path fill="#599ad6" stroke="#599ad6" d="M295.0 288.2l2.6 -0.2 -1.0 -5.6 -2.6 0.2z"/><path fill="#5999d6" stroke="#5999d6" d="M297.6 288.0l2.6 -0.1 -1.0 -5.6 -2.6 0.1z"/><path fill="#5b9bd6" stroke="#5b9bd6" d="M300.2 287.9l2.6 -0.1 -1.0 -5.6 -2.6 0.1z"/><path fill="#5c9bd7" stroke="#5c9bd7" d="M302.8 287.8l2.6 -0.5 -1.1 -5.5 -2.6 0.4z"/><path fill="#5c9bd7" stroke="#5c9bd7" d="M305.4 287.4l2.6 -0.2 -1.1 -5.5 -2.6 0.2z"/><path fill="#5d9cd7" stroke="#5d9cd7" d="M308.0 287.1l2.6 0.1 -1.1 -5.5 -2.6 -0.1z"/><path fill="#5c9bd6" stroke="#5c9bd6" d="M310.6 287.2l2.6 -0.2 -1.1 -5.5 -2.6 0.2z"/><path fill="#5697d5" stroke="#5697d5" d="M313.2 287.0l2.6 -0.6 -1.2 -5.5 -2.6 0.5z"/><path fill="#5394d4" stroke="#5394d4" d="M315.8 286.4l2.6 0.0 -1.2 -5.5 -2.6 0.0z"/><path fill="#5495d4" stroke="#5495d4" d="M318.4 286.4l2.6 -0.6 -1.2 -5.5 -2.6 0.6z"/><path fill="#5697d5" stroke="#5697d5" d="M321.0 285.8l2.6 -0.4 -1.3 -5.4 -2.6 0.4z"/><path fill="#5798d5" stroke="#5798d5" d="M323.6 285.4l2.6 -0.0 -1.3 -5.5 -2.6 0.0z"/><path fill="#5496d4" stroke="#5496d4" d="M326.2 285.4l2.6 -0.2 -1.3 -5.5 -2.6 0.2z"/><path fill="#4f91d3" stroke="#4f91d3" d="M328.8 285.2l2.6 -0.1 -1.3 -5.5 -2.6 0.1z"/><path fill="#4f91d3" stroke="#4f91d3" d="M331.4 285.1l2.6 -0.2 -1.4 -5.5 -2.6 0.2z"/><path fill="#5798d5" stroke="#5798d5" d="M334.0 284.9l2.6 -0.4 -1.4 -5.5 -2.6 0.4z"/><path fill="#5e9dd7" stroke="#5e9dd7" d="M336.6 284.5l2.6 -0.3 -1.4 -5.5 -2.6 0.3z"/><path fill="#5b9bd6" stroke="#5b9bd6" d="M339.2 284.3l2.6 -0.3 -1.5 -5.4 -2.6 0.3z"/><path fill="#5a9ad6" stroke="#5a9ad6" d="M341.8 284.0l2.6 -0.3 -1.5 -5.4 -2.6 0.3z"/><path fill="#5d9cd7" stroke="#5d9cd7" d="M344.4 283.7l2.6 -0.2 -1.5 -5.4 -2.6 0.2z"/><path fill="#5e9dd7" stroke="#5e9dd7" d="M347.1 283.5l2.6 -0.1 -1.5 -5.4 -2.6 0.2z"/><path fill="#5f9ed7" stroke="#5f9ed7" d="M349.7 283.3l2.6 -0.6 -1.6 -5.4 -2.6 0.6z"/><path fill="#61a0d8" stroke="#61a0d8" d="M352.3 282.7l2.6 -0.5 -1.6 -5.5 -2.6 0.5z"/><path fill="#63a1d9" stroke="#63a1d9" d="M354.9 282.3l2.6 -0.2 -1.6 -5.5 -2.6 0.2z"/><path fill="#62a0d8" stroke="#62a0d8" d="M357.5 282.1l2.6 0.5 -1.7 -5.6 -2.6 -0.5z"/><path fill="#609fd8" stroke="#609fd8" d="M360.1 282.6l2.6 0.6 -1.7 -5.7 -2.6 -0.5z"/><path fill="#5f9ed7" stroke="#5f9ed7" d="M362.7 283.2l2.6 -1.1 -1.7 -5.6 -2.6 1.1z"/><path fill="#5c9bd6" stroke="#5c9bd6" d="M365.3 282.1l2.6 -2.4 -1.7 -5.5 -2.6 2.3z"/><path fill="#5c9cd7" stroke="#5c9cd7" d="M367.9 279.7l2.6 -1.2 -1.8 -5.5 -2.6 1.2z"/><path fill="#5f9ed8" stroke="#5f9ed8" d="M370.5 278.5l2.6 -1.2 -1.8 -5.4 -2.6 1.2z"/><path fill="#619fd8" stroke="#619fd8" d="M373.1 277.3l2.6 -1.7 -1.8 -5.4 -2.6 1.6z"/><path fill="#5f9ed7" stroke="#5f9ed7" d="M375.7 275.6l2.6 -1.5 -1.9 -5.3 -2.6 1.5z"/><path fill="#5d9dd7" stroke="#5d9dd7" d="M378.3 274.1l0.9 -0.4 -1.9 -5.3 -0.9 0.4z"/><path fill="#12499c" stroke="#12499c" d="M118.0 317.4l2.6 0.7 1.0 -5.6 -2.6 -0.7z"/><path fill="#114597" stroke="#114597" d="M120.6 318.1l2.6 -1.8 0.9 -5.5 -2.6 1.7z"/><path fill="#0e3c88" stroke="#0e3c88" d="M123.3 316.4l2.6 1.3 0.9 -5.6 -2.6 -1.3z"/><path fill="#0d3a85" stroke="#0d3a85" d="M125.9 317.7l2.6 -0.9 0.9 -5.4 -2.6 0.8z"/><path fill="#0f408f" stroke="#0f408f" d="M128.5 316.8l2.6 0.2 0.9 -5.4 -2.6 -0.2z"/><path fill="#104393" stroke="#104393" d="M131.1 317.0l2.6 0.2 0.8 -5.5 -2.6 -0.2z"/><path fill="#0f408e" stroke="#0f408e" d="M133.8 317.2l2.6 -0.6 0.8 -5.4 -2.6 0.5z"/><path fill="#0f408e" stroke="#0f408e" d="M136.4 316.6l2.6 -0.5 0.8 -5.4 -2.6 0.6z"/><path fill="#114596" stroke="#114596" d="M139.0 316.1l2.6 -0.3 0.7 -5.3 -2.6 0.2z"/><path fill="#114596" stroke="#114596" d="M141.7 315.8l2.6 -0.3 0.7 -5.4 -2.6 0.3z"/><path fill="#0f408f" stroke="#0f408f" d="M144.3 315.5l2.6 1.2 0.7 -5.5 -2.6 -1.1z"/><path fill="#0e3d8a" stroke="#0e3d8a" d="M146.9 316.8l2.6 -0.7 0.7 -5.4 -2.6 0.6z"/><path fill="#0f3f8d" stroke="#0f3f8d" d="M149.6 316.1l2.6 -0.5 0.6 -5.4 -2.6 0.5z"/><path fill="#104494" stroke="#104494" d="M152.2 315.6l2.6 1.5 0.6 -5.5 -2.6 -1.4z"/><path fill="#12489b" stroke="#12489b" d="M154.8 317.1l2.6 -1.1 0.6 -5.5 -2.6 1.2z"/><path fill="#13499c" stroke="#13499c" d="M157.4 316.0l2.6 0.4 0.5 -5.5 -2.6 -0.4z"/><path fill="#114698" stroke="#114698" d="M160.1 316.4l2.6 -0.2 0.5 -5.5 -2.6 0.2z"/><path fill="#104494" stroke="#104494" d="M162.7 316.2l2.6 0.7 0.5 -5.6 -2.6 -0.7z"/><path fill="#114698" stroke="#114698" d="M165.3 317.0l2.6 -0.0 0.5 -5.6 -2.6 0.1z"/><path fill="#134a9d" stroke="#134a9d" d="M168.0 316.9l2.6 0.1 0.4 -5.7 -2.6 -0.1z"/><path fill="#164ea1" stroke="#164ea1" d="M170.6 317.1l2.6 -0.6 0.4 -5.6 -2.6 0.5z"/><path fill="#1b56aa" stroke="#1b56aa" d="M173.2 316.5l2.6 3.1 0.4 -5.8 -2.6 -2.9z"/><path fill="#1852a6" stroke="#1852a6" d="M175.9 319.6l2.6 -4.1 0.3 -5.5 -2.6 3.8z"/><path fill="#12489b" stroke="#12489b" d="M178.5 315.5l2.6 -0.2 0.3 -5.6 -2.6 0.3z"/><path fill="#13499c" stroke="#13499c" d="M181.1 315.3l2.6 -0.7 0.3 -5.5 -2.6 0.7z"/><path fill="#144b9e" stroke="#144b9e" d="M183.8 314.6l2.6 -0.3 0.3 -5.5 -2.6 0.3z"/><path fill="#114698" stroke="#114698" d="M186.4 314.3l2.6 1.2 0.2 -5.6 -2.6 -1.1z"/><path fill="#104292" stroke="#104292" d="M189.0 315.5l2.6 -0.4 0.2 -5.6 -2.6 0.3z"/><path fill="#104392" stroke="#104392" d="M191.6 315.1l2.6 -1.9 0.2 -5.5 -2.6 1.8z"/><path fill="#104191" stroke="#104191" d="M194.3 313.2l2.6 -0.7 0.1 -5.5 -2.6 0.7z"/><path fill="#0f3f8c" stroke="#0f3f8c" d="M196.9 312.5l2.6 0.0 0.1 -5.5 -2.6 0.0z"/><path fill="#0f408e" stroke="#0f408e" d="M199.5 312.5l2.6 0.6 0.1 -5.5 -2.6 -0.6z"/><path fill="#114698" stroke="#114698" d="M202.2 313.2l2.6 -0.2 0.1 -5.5 -2.6 0.2z"/><path fill="#13499c" stroke="#13499c" d="M204.8 313.0l2.6 -1.9 0.0 -5.4 -2.6 1.8z"/><path fill="#13499c" stroke="#13499c" d="M207.4 311.1l2.6 0.8 -0.0 -5.5 -2.6 -0.7z"/><path fill="#13499c" stroke="#13499c" d="M210.1 311.9l2.6 -1.8 -0.0 -5.5 -2.6 1.9z"/><path fill="#12499c" stroke="#12499c" d="M212.7 310.0l2.6 0.4 -0.1 -5.6 -2.6 -0.2z"/><path fill="#12489b" stroke="#12489b" d="M215.3 310.4l2.6 -0.4 -0.1 -5.7 -2.6 0.5z"/><path fill="#134a9d" stroke="#134a9d" d="M217.9 310.0l2.6 0.0 -0.1 -5.8 -2.6 0.1z"/><path fill="#164ea2" stroke="#164ea2" d="M220.6 310.0l2.6 -2.1 -0.1 -5.8 -2.6 2.1z"/><path fill="#1953a7" stroke="#1953a7" d="M223.2 307.8l2.6 0.4 -0.2 -6.0 -2.6 -0.3z"/><path fill="#1b57ac" stroke="#1b57ac" d="M225.8 308.3l2.6 -1.0 -0.2 -6.1 -2.6 1.1z"/><path fill="#1e5cb1" stroke="#1e5cb1" d="M228.5 307.3l2.6 -1.8 -0.2 -6.2 -2.6 1.9z"/><path fill="#1f5eb3" stroke="#1f5eb3" d="M231.1 305.4l0.9 -1.8 -0.2 -6.1 -0.9 1.7z"/><path fill="#205fb4" stroke="#205fb4" d="M232.0 303.7l0.8 -0.3 -0.3 -6.2 -0.8 0.4z"/><path fill="#2161b5" stroke="#2161b5" d="M232.8 303.3l0.8 -0.3 -0.3 -6.3 -0.8 0.4z"/><path fill="#2262b6" stroke="#2262b6" d="M233.5 303.1l0.8 -0.9 -0.3 -6.4 -0.8 1.0z"/><path fill="#2363b7" stroke="#2363b7" d="M234.3 302.1l0.8 -1.1 -0.3 -6.4 -0.8 1.2z"/><path fill="#2565b8" stroke="#2565b8" d="M235.1 301.0l0.8 -2.0 -0.3 -6.5 -0.8 2.1z"/><path fill="#2667ba" stroke="#2667ba" d="M235.9 299.0l0.8 -1.7 -0.3 -6.7 -0.8 1.9z"/><path fill="#296abc" stroke="#296abc" d="M236.7 297.4l0.8 -2.0 -0.3 -6.9 -0.8 2.2z"/><path fill="#2d6fbf" stroke="#2d6fbf" d="M237.5 295.4l0.8 -2.1 -0.3 -7.1 -0.8 2.3z"/><path fill="#3174c3" stroke="#3174c3" d="M238.3 293.3l0.8 -1.8 -0.3 -7.5 -0.8 2.1z"/><path fill="#3377c5" stroke="#3377c5" d="M239.1 291.6l0.8 -1.8 -0.3 -7.8 -0.8 2.1z"/><path fill="#367bc8" stroke="#367bc8" d="M239.9 289.8l0.8 -2.3 -0.3 -8.1 -0.8 2.6z"/><path fill="#3a7fcb" stroke="#3a7fcb" d="M240.6 287.5l0.8 -1.9 -0.3 -8.5 -0.8 2.3z"/><path fill="#4388cf" stroke="#4388cf" d="M241.4 285.6l0.8 -2.5 -0.4 -8.8 -0.8 2.9z"/><path fill="#5395d4" stroke="#5395d4" d="M242.2 283.1l0.8 -2.2 -0.4 -9.1 -0.8 2.5z"/><path fill="#609fd8" stroke="#609fd8" d="M243.0 280.8l0.8 -2.5 -0.4 -9.3 -0.8 2.7z"/><path fill="#69a6da" stroke="#69a6da" d="M243.8 278.3l0.8 -1.6 -0.4 -9.5 -0.8 1.8z"/><path fill="#6da9dc" stroke="#6da9dc" d="M244.6 276.7l0.8 -0.6 -0.4 -9.5 -0.8 0.7z"/><path fill="#73addd" stroke="#73addd" d="M245.4 276.1l0.8 -0.7 -0.4 -9.5 -0.8 0.7z"/><path fill="#76afde" stroke="#76afde" d="M246.2 275.4l0.8 -0.5 -0.4 -9.4 -0.8 0.4z"/><path fill="#6eaadc" stroke="#6eaadc" d="M247.0 274.9l0.8 1.3 -0.4 -9.2 -0.8 -1.5z"/><path fill="#69a6db" stroke="#69a6db" d="M247.7 276.2l0.8 0.9 -0.4 -8.8 -0.8 -1.3z"/><path fill="#67a5da" stroke="#67a5da" d="M248.5 277.1l0.8 1.5 -0.4 -8.4 -0.8 -1.9z"/><path fill="#62a0d8" stroke="#62a0d8" d="M249.3 278.6l0.8 2.2 -0.4 -7.8 -0.8 -2.7z"/><path fill="#5798d5" stroke="#5798d5" d="M250.1 280.8l0.8 3.0 -0.4 -7.4 -0.8 -3.5z"/><path fill="#4e91d3" stroke="#4e91d3" d="M250.9 283.8l0.8 2.8 -0.5 -6.9 -0.8 -3.3z"/><path fill="#498cd1" stroke="#498cd1" d="M251.7 286.7l0.8 1.8 -0.5 -6.4 -0.8 -2.3z"/><path fill="#4287cf" stroke="#4287cf" d="M252.5 288.5l0.8 1.8 -0.5 -6.1 -0.8 -2.1z"/><path fill="#3b81cc" stroke="#3b81cc" d="M253.3 290.3l0.8 1.8 -0.5 -5.8 -0.8 -2.1z"/><path fill="#387dca" stroke="#387dca" d="M254.1 292.1l0.8 1.6 -0.5 -5.9 -0.8 -1.6z"/><path fill="#387dca" stroke="#387dca" d="M254.8 293.7l0.8 2.0 -0.5 -5.9 -0.8 -2.0z"/><path fill="#3a7fcb" stroke="#3a7fcb" d="M255.6 295.7l0.8 0.9 -0.5 -6.1 -0.8 -0.7z"/><path fill="#3b81cc" stroke="#3b81cc" d="M256.4 296.6l0.8 0.3 -0.5 -6.2 -0.8 -0.1z"/><path fill="#3c81cd" stroke="#3c81cd" d="M257.2 296.9l0.8 0.0 -0.5 -6.3 -0.8 0.1z"/><path fill="#3c82cd" stroke="#3c82cd" d="M258.0 296.9l0.3 0.1 -0.5 -6.3 -0.3 -0.0z"/><path fill="#3b80cc" stroke="#3b80cc" d="M258.3 297.0l1.6 0.4 -0.5 -6.5 -1.6 -0.3z"/><path fill="#397eca" stroke="#397eca" d="M259.8 297.4l1.6 0.2 -0.6 -6.5 -1.6 -0.1z"/><path fill="#3a80cb" stroke="#3a80cb" d="M261.4 297.6l1.6 -0.3 -0.6 -6.5 -1.6 0.3z"/><path fill="#3c81cd" stroke="#3c81cd" d="M263.0 297.2l1.6 0.6 -0.6 -6.5 -1.6 -0.5z"/><path fill="#3b81cc" stroke="#3b81cc" d="M264.6 297.8l1.6 -0.1 -0.6 -6.6 -1.6 0.2z"/><path fill="#3a7fcb" stroke="#3a7fcb" d="M266.2 297.7l1.6 0.0 -0.6 -6.7 -1.6 0.1z"/><path fill="#3b81cc" stroke="#3b81cc" d="M267.7 297.7l1.6 0.3 -0.6 -6.8 -1.6 -0.2z"/><path fill="#3f84ce" stroke="#3f84ce" d="M269.3 298.1l1.6 -0.1 -0.7 -7.0 -1.6 0.2z"/><path fill="#4388cf" stroke="#4388cf" d="M270.9 298.0l1.6 -0.0 -0.7 -7.0 -1.6 0.1z"/><path fill="#4589d0" stroke="#4589d0" d="M272.5 297.9l1.6 -0.7 -0.7 -7.1 -1.6 0.7z"/><path fill="#4589d0" stroke="#4589d0" d="M274.0 297.2l1.6 -0.5 -0.7 -7.1 -1.6 0.6z"/><path fill="#4589d0" stroke="#4589d0" d="M275.6 296.7l1.6 0.2 -0.7 -7.2 -1.6 -0.1z"/><path fill="#4488cf" stroke="#4488cf" d="M277.2 296.9l1.6 -0.8 -0.8 -7.1 -1.6 0.7z"/><path fill="#498cd1" stroke="#498cd1" d="M278.8 296.1l1.6 -0.1 -0.8 -7.1 -1.6 0.1z"/><path fill="#4f91d3" stroke="#4f91d3" d="M280.4 296.0l1.6 -0.1 -0.8 -7.0 -1.6 0.0z"/><path fill="#5293d3" stroke="#5293d3" d="M281.9 295.9l1.6 -0.5 -0.8 -6.9 -1.6 0.4z"/><path fill="#4d8fd2" stroke="#4d8fd2" d="M283.5 295.4l1.6 -0.3 -0.8 -6.7 -1.6 0.1z"/><path fill="#498cd1" stroke="#498cd1" d="M285.1 295.1l1.6 0.1 -0.8 -6.5 -1.6 -0.3z"/><path fill="#4b8ed1" stroke="#4b8ed1" d="M286.7 295.2l1.6 -0.6 -0.9 -6.2 -1.6 0.4z"/><path fill="#4c8fd2" stroke="#4c8fd2" d="M288.2 294.5l1.6 0.2 -0.9 -6.0 -1.6 -0.4z"/><path fill="#468ad0" stroke="#468ad0" d="M289.8 294.7l1.6 -0.3 -0.9 -5.8 -1.6 0.1z"/><path fill="#4287cf" stroke="#4287cf" d="M291.4 294.5l1.6 0.2 -0.9 -5.7 -1.6 -0.3z"/><path fill="#498cd1" stroke="#498cd1" d="M293.0 294.6l0.4 -0.1 -0.9 -5.7 -0.3 0.1z"/><path fill="#4f91d3" stroke="#4f91d3" d="M293.3 294.5l2.6 -0.7 -0.9 -5.6 -2.6 0.6z"/><path fill="#4f91d3" stroke="#4f91d3" d="M296.0 293.8l2.6 -0.2 -1.0 -5.6 -2.6 0.2z"/><path fill="#4e90d2" stroke="#4e90d2" d="M298.6 293.6l2.6 -0.1 -1.0 -5.6 -2.6 0.1z"/><path fill="#5193d3" stroke="#5193d3" d="M301.2 293.5l2.6 -0.1 -1.0 -5.6 -2.6 0.1z"/><path fill="#5193d3" stroke="#5193d3" d="M303.9 293.4l2.6 -0.5 -1.1 -5.5 -2.6 0.5z"/><path fill="#5193d3" stroke="#5193d3" d="M306.5 292.9l2.6 -0.2 -1.1 -5.5 -2.6 0.2z"/><path fill="#5394d4" stroke="#5394d4" d="M309.1 292.6l2.6 0.1 -1.1 -5.5 -2.6 -0.1z"/><path fill="#5193d3" stroke="#5193d3" d="M311.7 292.7l2.6 -0.2 -1.1 -5.5 -2.6 0.2z"/><path fill="#4b8ed2" stroke="#4b8ed2" d="M314.4 292.5l2.6 -0.6 -1.2 -5.5 -2.6 0.6z"/><path fill="#488bd1" stroke="#488bd1" d="M317.0 291.9l2.6 0.0 -1.2 -5.5 -2.6 -0.0z"/><path fill="#498cd1" stroke="#498cd1" d="M319.6 291.9l2.6 -0.6 -1.2 -5.5 -2.6 0.6z"/><path fill="#4b8ed1" stroke="#4b8ed1" d="M322.3 291.3l2.6 -0.4 -1.3 -5.4 -2.6 0.4z"/><path fill="#4d8fd2" stroke="#4d8fd2" d="M324.9 290.9l2.6 0.0 -1.3 -5.5 -2.6 0.0z"/><path fill="#4a8dd1" stroke="#4a8dd1" d="M327.5 290.9l2.6 -0.2 -1.3 -5.5 -2.6 0.2z"/><path fill="#4488cf" stroke="#4488cf" d="M330.2 290.7l2.6 -0.1 -1.3 -5.5 -2.6 0.1z"/><path fill="#4488cf" stroke="#4488cf" d="M332.8 290.6l2.6 -0.2 -1.4 -5.5 -2.6 0.2z"/><path fill="#4d8fd2" stroke="#4d8fd2" d="M335.4 290.4l2.6 -0.4 -1.4 -5.5 -2.6 0.4z"/><path fill="#5395d4" stroke="#5395d4" d="M338.0 290.0l2.6 -0.3 -1.4 -5.5 -2.6 0.3z"/><path fill="#5193d3" stroke="#5193d3" d="M340.7 289.7l2.6 -0.3 -1.5 -5.4 -2.6 0.3z"/><path fill="#5092d3" stroke="#5092d3" d="M343.3 289.4l2.6 -0.3 -1.5 -5.4 -2.6 0.3z"/><path fill="#5294d4" stroke="#5294d4" d="M345.9 289.1l2.6 -0.2 -1.5 -5.4 -2.6 0.2z"/><path fill="#5495d4" stroke="#5495d4" d="M348.6 288.9l2.6 -0.1 -1.5 -5.4 -2.6 0.1z"/><path fill="#5596d4" stroke="#5596d4" d="M351.2 288.8l2.6 -0.6 -1.6 -5.4 -2.6 0.6z"/><path fill="#5798d5" stroke="#5798d5" d="M353.8 288.2l2.6 -0.4 -1.6 -5.5 -2.6 0.5z"/><path fill="#5999d6" stroke="#5999d6" d="M356.5 287.7l2.6 -0.2 -1.6 -5.5 -2.6 0.2z"/><path fill="#5898d5" stroke="#5898d5" d="M359.1 287.5l2.6 0.6 -1.7 -5.6 -2.6 -0.5z"/><path fill="#5697d5" stroke="#5697d5" d="M361.7 288.2l2.6 0.7 -1.7 -5.7 -2.6 -0.6z"/><path fill="#5596d4" stroke="#5596d4" d="M364.3 288.9l2.6 -1.1 -1.7 -5.6 -2.6 1.1z"/><path fill="#5293d3" stroke="#5293d3" d="M367.0 287.8l2.6 -2.5 -1.7 -5.5 -2.6 2.4z"/><path fill="#5294d4" stroke="#5294d4" d="M369.6 285.2l2.6 -1.2 -1.8 -5.5 -2.6 1.2z"/><path fill="#5596d5" stroke="#5596d5" d="M372.2 284.0l2.6 -1.2 -1.8 -5.4 -2.6 1.2z"/><path fill="#5797d5" stroke="#5797d5" d="M374.9 282.8l2.6 -1.8 -1.8 -5.4 -2.6 1.7z"/><path fill="#5596d4" stroke="#5596d4" d="M377.5 281.0l2.6 -1.6 -1.9 -5.3 -2.6 1.5z"/><path fill="#5395d4" stroke="#5395d4" d="M380.1 279.4l0.9 -0.4 -1.9 -5.3 -0.9 0.4z"/></g><g stroke-width="0.9" stroke-linejoin="bevel"><path fill="#13499d" stroke="#13499d" d="M113.4 70.3l5.5 0.0 2.6 -2.8 -5.3 0.0z"/><path fill="#114495" stroke="#114495" d="M118.9 70.3l5.5 0.0 2.5 -2.8 -5.3 0.0z"/><path fill="#114596" stroke="#114596" d="M124.4 70.3l5.5 0.0 2.3 -2.8 -5.3 0.0z"/><path fill="#12479a" stroke="#12479a" d="M129.8 70.3l5.5 0.0 2.2 -2.8 -5.3 0.0z"/><path fill="#12489b" stroke="#12489b" d="M135.3 70.3l5.5 0.0 2.1 -2.8 -5.3 0.0z"/><path fill="#114597" stroke="#114597" d="M140.8 70.3l5.5 0.0 1.9 -2.8 -5.3 0.0z"/><path fill="#124799" stroke="#124799" d="M146.3 70.3l5.5 0.0 1.8 -2.8 -5.3 0.0z"/><path fill="#144b9e" stroke="#144b9e" d="M151.7 70.3l5.5 0.0 1.7 -2.8 -5.3 0.0z"/><path fill="#134a9d" stroke="#134a9d" d="M157.2 70.3l5.5 0.0 1.5 -2.8 -5.3 0.0z"/><path fill="#144b9f" stroke="#144b9f" d="M162.7 70.3l5.5 0.0 1.4 -2.8 -5.3 0.0z"/><path fill="#1b57ab" stroke="#1b57ab" d="M168.2 70.3l5.5 0.0 1.2 -2.8 -5.3 0.0z"/><path fill="#1a55a9" stroke="#1a55a9" d="M173.7 70.3l5.5 0.0 1.1 -2.8 -5.3 0.0z"/><path fill="#144c9f" stroke="#144c9f" d="M179.1 70.3l5.5 0.0 1.0 -2.8 -5.3 0.0z"/><path fill="#144b9e" stroke="#144b9e" d="M184.6 70.3l5.5 0.0 0.8 -2.8 -5.3 0.0z"/><path fill="#124799" stroke="#124799" d="M190.1 70.3l5.5 0.0 0.7 -2.8 -5.3 0.0z"/><path fill="#124799" stroke="#124799" d="M195.6 70.3l5.5 0.0 0.5 -2.8 -5.3 0.0z"/><path fill="#134a9e" stroke="#134a9e" d="M201.0 70.3l5.5 0.0 0.4 -2.8 -5.3 0.0z"/><path fill="#154da0" stroke="#154da0" d="M206.5 70.3l5.5 0.0 0.3 -2.8 -5.3 0.0z"/><path fill="#154ca0" stroke="#154ca0" d="M212.0 70.3l5.5 0.0 0.1 -2.8 -5.3 0.0z"/><path fill="#1751a4" stroke="#1751a4" d="M217.5 70.3l5.5 0.0 -0.0 -2.8 -5.3 0.0z"/><path fill="#1d59ae" stroke="#1d59ae" d="M223.0 70.3l5.5 0.0 -0.1 -2.8 -5.3 0.0z"/><path fill="#2060b4" stroke="#2060b4" d="M228.4 70.3l3.7 0.0 -0.2 -2.8 -3.6 0.0z"/><path fill="#2464b7" stroke="#2464b7" d="M232.1 70.3l1.4 0.0 -0.3 -2.8 -1.3 0.0z"/><path fill="#2565b9" stroke="#2565b9" d="M233.5 70.3l1.4 0.0 -0.3 -2.8 -1.3 0.0z"/><path fill="#2768ba" stroke="#2768ba" d="M234.8 70.3l1.4 0.0 -0.3 -2.8 -1.3 0.0z"/><path fill="#2b6dbe" stroke="#2b6dbe" d="M236.2 70.3l1.4 0.0 -0.4 -2.8 -1.3 0.0z"/><path fill="#3073c3" stroke="#3073c3" d="M237.6 70.3l1.4 0.0 -0.4 -2.8 -1.3 0.0z"/><path fill="#367ac7" stroke="#367ac7" d="M238.9 70.3l1.4 0.0 -0.4 -2.8 -1.3 0.0z"/><path fill="#3e83ce" stroke="#3e83ce" d="M240.3 70.3l1.4 0.0 -0.5 -2.8 -1.3 0.0z"/><path fill="#5092d3" stroke="#5092d3" d="M241.7 70.3l1.4 0.0 -0.5 -2.8 -1.3 0.0z"/><path fill="#66a4da" stroke="#66a4da" d="M243.0 70.3l1.4 0.0 -0.5 -2.8 -1.3 0.0z"/><path fill="#7eb4e0" stroke="#7eb4e0" d="M244.4 70.3l1.4 0.0 -0.6 -2.8 -1.3 0.0z"/><path fill="#89bae3" stroke="#89bae3" d="M245.8 70.3l1.4 0.0 -0.6 -2.8 -1.3 0.0z"/><path fill="#84b7e1" stroke="#84b7e1" d="M247.2 70.3l1.4 0.0 -0.6 -2.8 -1.3 0.0z"/><path fill="#77afde" stroke="#77afde" d="M248.5 70.3l1.4 0.0 -0.7 -2.8 -1.3 0.0z"/><path fill="#6da9dc" stroke="#6da9dc" d="M249.9 70.3l1.4 0.0 -0.7 -2.8 -1.3 0.0z"/><path fill="#5e9dd7" stroke="#5e9dd7" d="M251.3 70.3l1.4 0.0 -0.8 -2.8 -1.3 0.0z"/><path fill="#4d8fd2" stroke="#4d8fd2" d="M252.6 70.3l1.4 0.0 -0.8 -2.8 -1.3 0.0z"/><path fill="#3f85ce" stroke="#3f85ce" d="M254.0 70.3l1.4 0.0 -0.8 -2.8 -1.3 0.0z"/><path fill="#3b81cc" stroke="#3b81cc" d="M255.4 70.3l1.4 0.0 -0.9 -2.8 -1.3 0.0z"/><path fill="#3d82cd" stroke="#3d82cd" d="M256.7 70.3l1.4 0.0 -0.9 -2.8 -1.3 0.0z"/><path fill="#4186cf" stroke="#4186cf" d="M258.1 70.3l1.4 0.0 -0.9 -2.8 -1.3 0.0z"/><path fill="#3f84ce" stroke="#3f84ce" d="M259.5 70.3l2.7 0.0 -1.0 -2.8 -2.7 0.0z"/><path fill="#3d82cd" stroke="#3d82cd" d="M262.2 70.3l2.7 0.0 -1.1 -2.8 -2.7 0.0z"/><path fill="#3d83cd" stroke="#3d83cd" d="M265.0 70.3l2.7 0.0 -1.1 -2.8 -2.7 0.0z"/><path fill="#3f85ce" stroke="#3f85ce" d="M267.7 70.3l2.7 0.0 -1.2 -2.8 -2.7 0.0z"/><path fill="#4489cf" stroke="#4489cf" d="M270.4 70.3l2.7 0.0 -1.3 -2.8 -2.7 0.0z"/><path fill="#488cd1" stroke="#488cd1" d="M273.2 70.3l2.7 0.0 -1.3 -2.8 -2.7 0.0z"/><path fill="#4a8dd1" stroke="#4a8dd1" d="M275.9 70.3l2.7 0.0 -1.4 -2.8 -2.7 0.0z"/><path fill="#4b8ed1" stroke="#4b8ed1" d="M278.7 70.3l2.7 0.0 -1.5 -2.8 -2.7 0.0z"/><path fill="#5294d4" stroke="#5294d4" d="M281.4 70.3l2.7 0.0 -1.5 -2.8 -2.7 0.0z"/><path fill="#5395d4" stroke="#5395d4" d="M284.1 70.3l2.7 0.0 -1.6 -2.8 -2.7 0.0z"/><path fill="#4e91d2" stroke="#4e91d2" d="M286.9 70.3l2.7 0.0 -1.7 -2.8 -2.7 0.0z"/><path fill="#4f91d3" stroke="#4f91d3" d="M289.6 70.3l2.7 0.0 -1.8 -2.8 -2.7 0.0z"/><path fill="#4c8fd2" stroke="#4c8fd2" d="M292.3 70.3l2.7 0.0 -1.8 -2.8 -2.7 0.0z"/><path fill="#4e90d2" stroke="#4e90d2" d="M295.1 70.3l0.9 0.0 -1.8 -2.8 -0.9 0.0z"/><path fill="#5294d4" stroke="#5294d4" d="M296.0 70.3l5.5 0.0 -2.0 -2.8 -5.3 0.0z"/><path fill="#5495d4" stroke="#5495d4" d="M301.5 70.3l5.5 0.0 -2.1 -2.8 -5.3 0.0z"/><path fill="#5798d5" stroke="#5798d5" d="M307.0 70.3l5.5 0.0 -2.3 -2.8 -5.3 0.0z"/><path fill="#5697d5" stroke="#5697d5" d="M312.4 70.3l5.5 0.0 -2.4 -2.8 -5.3 0.0z"/><path fill="#5192d3" stroke="#5192d3" d="M317.9 70.3l5.5 0.0 -2.5 -2.8 -5.3 0.0z"/><path fill="#4f91d3" stroke="#4f91d3" d="M323.4 70.3l5.5 0.0 -2.7 -2.8 -5.3 0.0z"/><path fill="#4e90d2" stroke="#4e90d2" d="M328.9 70.3l5.5 0.0 -2.8 -2.8 -5.3 0.0z"/><path fill="#4b8ed2" stroke="#4b8ed2" d="M334.3 70.3l5.5 0.0 -2.9 -2.8 -5.3 0.0z"/><path fill="#5293d4" stroke="#5293d4" d="M339.8 70.3l5.5 0.0 -3.1 -2.8 -5.3 0.0z"/><path fill="#5797d5" stroke="#5797d5" d="M345.3 70.3l5.5 0.0 -3.2 -2.8 -5.3 0.0z"/><path fill="#5797d5" stroke="#5797d5" d="M350.8 70.3l5.5 0.0 -3.4 -2.8 -5.3 0.0z"/><path fill="#5a9ad6" stroke="#5a9ad6" d="M356.3 70.3l5.5 0.0 -3.5 -2.8 -5.3 0.0z"/><path fill="#5c9bd6" stroke="#5c9bd6" d="M361.7 70.3l5.5 0.0 -3.6 -2.8 -5.3 0.0z"/><path fill="#5999d6" stroke="#5999d6" d="M367.2 70.3l5.5 0.0 -3.8 -2.8 -5.3 0.0z"/><path fill="#5899d5" stroke="#5899d5" d="M372.7 70.3l5.5 0.0 -3.9 -2.8 -5.3 0.0z"/><path fill="#5a9ad6" stroke="#5a9ad6" d="M378.2 70.3l5.5 0.0 -4.1 -2.8 -5.3 0.0z"/><path fill="#5a9ad6" stroke="#5a9ad6" d="M383.6 70.3l3.7 0.0 -4.1 -2.8 -3.6 0.0z"/><path fill="#1a55a9" stroke="#1a55a9" d="M116.2 67.5l5.3 0.0 2.6 -2.8 -5.2 0.0z"/><path fill="#1852a6" stroke="#1852a6" d="M121.5 67.5l5.3 0.0 2.5 -2.8 -5.2 0.0z"/><path fill="#1852a6" stroke="#1852a6" d="M126.8 67.5l5.3 0.0 2.3 -2.8 -5.2 0.0z"/><path fill="#1954a8" stroke="#1954a8" d="M132.2 67.5l5.3 0.0 2.2 -2.8 -5.2 0.0z"/><path fill="#1954a8" stroke="#1954a8" d="M137.5 67.5l5.3 0.0 2.1 -2.8 -5.2 0.0z"/><path fill="#1853a6" stroke="#1853a6" d="M142.9 67.5l5.3 0.0 1.9 -2.8 -5.2 0.0z"/><path fill="#1954a8" stroke="#1954a8" d="M148.2 67.5l5.3 0.0 1.8 -2.8 -5.2 0.0z"/><path fill="#1b57ab" stroke="#1b57ab" d="M153.5 67.5l5.3 0.0 1.7 -2.8 -5.2 0.0z"/><path fill="#1b56ab" stroke="#1b56ab" d="M158.9 67.5l5.3 0.0 1.5 -2.8 -5.2 0.0z"/><path fill="#1c58ac" stroke="#1c58ac" d="M164.2 67.5l5.3 0.0 1.4 -2.8 -5.2 0.0z"/><path fill="#2362b6" stroke="#2362b6" d="M169.6 67.5l5.3 0.0 1.2 -2.8 -5.2 0.0z"/><path fill="#2160b5" stroke="#2160b5" d="M174.9 67.5l5.3 0.0 1.1 -2.8 -5.2 0.0z"/><path fill="#1c58ad" stroke="#1c58ad" d="M180.2 67.5l5.3 0.0 1.0 -2.8 -5.2 0.0z"/><path fill="#1b57ac" stroke="#1b57ac" d="M185.6 67.5l5.3 0.0 0.8 -2.8 -5.2 0.0z"/><path fill="#1954a8" stroke="#1954a8" d="M190.9 67.5l5.3 0.0 0.7 -2.8 -5.2 0.0z"/><path fill="#1954a8" stroke="#1954a8" d="M196.3 67.5l5.3 0.0 0.5 -2.8 -5.2 0.0z"/><path fill="#1b57ab" stroke="#1b57ab" d="M201.6 67.5l5.3 0.0 0.4 -2.8 -5.2 0.0z"/><path fill="#1d59ae" stroke="#1d59ae" d="M206.9 67.5l5.3 0.0 0.3 -2.8 -5.2 0.0z"/><path fill="#1d59ae" stroke="#1d59ae" d="M212.3 67.5l5.3 0.0 0.1 -2.8 -5.2 0.0z"/><path fill="#1f5eb2" stroke="#1f5eb2" d="M217.6 67.5l5.3 0.0 -0.0 -2.8 -5.2 0.0z"/><path fill="#2767ba" stroke="#2767ba" d="M223.0 67.5l5.3 0.0 -0.1 -2.8 -5.2 0.0z"/><path fill="#2c6ebf" stroke="#2c6ebf" d="M228.3 67.5l3.6 0.0 -0.2 -2.8 -3.5 0.0z"/><path fill="#3073c2" stroke="#3073c2" d="M231.9 67.5l1.3 0.0 -0.3 -2.8 -1.3 0.0z"/><path fill="#3175c4" stroke="#3175c4" d="M233.2 67.5l1.3 0.0 -0.3 -2.8 -1.3 0.0z"/><path fill="#3377c5" stroke="#3377c5" d="M234.5 67.5l1.3 0.0 -0.3 -2.8 -1.3 0.0z"/><path fill="#397eca" stroke="#397eca" d="M235.9 67.5l1.3 0.0 -0.4 -2.8 -1.3 0.0z"/><path fill="#4287cf" stroke="#4287cf" d="M237.2 67.5l1.3 0.0 -0.4 -2.8 -1.3 0.0z"/><path fill="#5395d4" stroke="#5395d4" d="M238.5 67.5l1.3 0.0 -0.4 -2.8 -1.3 0.0z"/><path fill="#6aa7db" stroke="#6aa7db" d="M239.9 67.5l1.3 0.0 -0.5 -2.8 -1.3 0.0z"/><path fill="#8abbe3" stroke="#8abbe3" d="M241.2 67.5l1.3 0.0 -0.5 -2.8 -1.3 0.0z"/><path fill="#b1d2ec" stroke="#b1d2ec" d="M242.5 67.5l1.3 0.0 -0.5 -2.8 -1.3 0.0z"/><path fill="#d6e5f2" stroke="#d6e5f2" d="M243.9 67.5l1.3 0.0 -0.6 -2.8 -1.3 0.0z"/><path fill="#e5ecf3" stroke="#e5ecf3" d="M245.2 67.5l1.3 0.0 -0.6 -2.8 -1.3 0.0z"/><path fill="#dce8f2" stroke="#dce8f2" d="M246.5 67.5l1.3 0.0 -0.6 -2.8 -1.3 0.0z"/><path fill="#c0dbef" stroke="#c0dbef" d="M247.9 67.5l1.3 0.0 -0.7 -2.8 -1.3 0.0z"/><path fill="#a9cdea" stroke="#a9cdea" d="M249.2 67.5l1.3 0.0 -0.7 -2.8 -1.3 0.0z"/><path fill="#87b9e2" stroke="#87b9e2" d="M250.5 67.5l1.3 0.0 -0.8 -2.8 -1.3 0.0z"/><path fill="#65a3d9" stroke="#65a3d9" d="M251.9 67.5l1.3 0.0 -0.8 -2.8 -1.3 0.0z"/><path fill="#5495d4" stroke="#5495d4" d="M253.2 67.5l1.3 0.0 -0.8 -2.8 -1.3 0.0z"/><path fill="#4d90d2" stroke="#4d90d2" d="M254.6 67.5l1.3 0.0 -0.9 -2.8 -1.3 0.0z"/><path fill="#5092d3" stroke="#5092d3" d="M255.9 67.5l1.3 0.0 -0.9 -2.8 -1.3 0.0z"/><path fill="#5495d4" stroke="#5495d4" d="M257.2 67.5l1.3 0.0 -0.9 -2.8 -1.3 0.0z"/><path fill="#5394d4" stroke="#5394d4" d="M258.6 67.5l2.7 0.0 -1.0 -2.8 -2.6 0.0z"/><path fill="#5092d3" stroke="#5092d3" d="M261.2 67.5l2.7 0.0 -1.1 -2.8 -2.6 0.0z"/><path fill="#5193d3" stroke="#5193d3" d="M263.9 67.5l2.7 0.0 -1.1 -2.8 -2.6 0.0z"/><path fill="#5495d4" stroke="#5495d4" d="M266.6 67.5l2.7 0.0 -1.2 -2.8 -2.6 0.0z"/><path fill="#5a9ad6" stroke="#5a9ad6" d="M269.2 67.5l2.7 0.0 -1.3 -2.8 -2.6 0.0z"/><path fill="#5f9ed7" stroke="#5f9ed7" d="M271.9 67.5l2.7 0.0 -1.3 -2.8 -2.6 0.0z"/><path fill="#62a1d8" stroke="#62a1d8" d="M274.6 67.5l2.7 0.0 -1.4 -2.8 -2.6 0.0z"/><path fill="#65a3d9" stroke="#65a3d9" d="M277.2 67.5l2.7 0.0 -1.5 -2.8 -2.6 0.0z"/><path fill="#6ba8db" stroke="#6ba8db" d="M279.9 67.5l2.7 0.0 -1.5 -2.8 -2.6 0.0z"/><path fill="#6aa7db" stroke="#6aa7db" d="M282.6 67.5l2.7 0.0 -1.6 -2.8 -2.6 0.0z"/><path fill="#64a2d9" stroke="#64a2d9" d="M285.3 67.5l2.7 0.0 -1.7 -2.8 -2.6 0.0z"/><path fill="#63a1d9" stroke="#63a1d9" d="M287.9 67.5l2.7 0.0 -1.8 -2.8 -2.6 0.0z"/><path fill="#609fd8" stroke="#609fd8" d="M290.6 67.5l2.7 0.0 -1.8 -2.8 -2.6 0.0z"/><path fill="#61a0d8" stroke="#61a0d8" d="M293.3 67.5l0.9 0.0 -1.8 -2.8 -0.9 0.0z"/><path fill="#65a3d9" stroke="#65a3d9" d="M294.2 67.5l5.3 0.0 -2.0 -2.8 -5.2 0.0z"/><path fill="#67a4da" stroke="#67a4da" d="M299.5 67.5l5.3 0.0 -2.1 -2.8 -5.2 0.0z"/><path fill="#6aa6db" stroke="#6aa6db" d="M304.8 67.5l5.3 0.0 -2.3 -2.8 -5.2 0.0z"/><path fill="#68a5da" stroke="#68a5da" d="M310.2 67.5l5.3 0.0 -2.4 -2.8 -5.2 0.0z"/><path fill="#64a2d9" stroke="#64a2d9" d="M315.5 67.5l5.3 0.0 -2.5 -2.8 -5.2 0.0z"/><path fill="#62a0d8" stroke="#62a0d8" d="M320.9 67.5l5.3 0.0 -2.7 -2.8 -5.2 0.0z"/><path fill="#61a0d8" stroke="#61a0d8" d="M326.2 67.5l5.3 0.0 -2.8 -2.8 -5.2 0.0z"/><path fill="#5e9ed7" stroke="#5e9ed7" d="M331.5 67.5l5.3 0.0 -2.9 -2.8 -5.2 0.0z"/><path fill="#64a2d9" stroke="#64a2d9" d="M336.9 67.5l5.3 0.0 -3.1 -2.8 -5.2 0.0z"/><path fill="#69a6db" stroke="#69a6db" d="M342.2 67.5l5.3 0.0 -3.2 -2.8 -5.2 0.0z"/><path fill="#69a6da" stroke="#69a6da" d="M347.6 67.5l5.3 0.0 -3.4 -2.8 -5.2 0.0z"/><path fill="#6ca9db" stroke="#6ca9db" d="M352.9 67.5l5.3 0.0 -3.5 -2.8 -5.2 0.0z"/><path fill="#6da9dc" stroke="#6da9dc" d="M358.2 67.5l5.3 0.0 -3.6 -2.8 -5.2 0.0z"/><path fill="#6ba7db" stroke="#6ba7db" d="M363.6 67.5l5.3 0.0 -3.8 -2.8 -5.2 0.0z"/><path fill="#6aa7db" stroke="#6aa7db" d="M368.9 67.5l5.3 0.0 -3.9 -2.8 -5.2 0.0z"/><path fill="#6ca8db" stroke="#6ca8db" d="M374.3 67.5l5.3 0.0 -4.1 -2.8 -5.2 0.0z"/><path fill="#6ca8db" stroke="#6ca8db" d="M379.6 67.5l3.6 0.0 -4.1 -2.8 -3.5 0.0z"/><path fill="#205eb3" stroke="#205eb3" d="M118.9 64.8l5.2 0.0 2.6 -2.8 -5.1 0.0z"/><path fill="#1e5bb0" stroke="#1e5bb0" d="M124.1 64.8l5.2 0.0 2.5 -2.8 -5.1 0.0z"/><path fill="#1e5bb0" stroke="#1e5bb0" d="M129.3 64.8l5.2 0.0 2.3 -2.8 -5.1 0.0z"/><path fill="#1f5db2" stroke="#1f5db2" d="M134.5 64.8l5.2 0.0 2.2 -2.8 -5.1 0.0z"/><path fill="#1f5db2" stroke="#1f5db2" d="M139.7 64.8l5.2 0.0 2.1 -2.8 -5.1 0.0z"/><path fill="#1e5cb1" stroke="#1e5cb1" d="M144.9 64.8l5.2 0.0 1.9 -2.8 -5.1 0.0z"/><path fill="#1f5db2" stroke="#1f5db2" d="M150.1 64.8l5.2 0.0 1.8 -2.8 -5.1 0.0z"/><path fill="#2161b5" stroke="#2161b5" d="M155.3 64.8l5.2 0.0 1.7 -2.8 -5.1 0.0z"/><path fill="#2160b5" stroke="#2160b5" d="M160.5 64.8l5.2 0.0 1.5 -2.8 -5.1 0.0z"/><path fill="#2261b6" stroke="#2261b6" d="M165.7 64.8l5.2 0.0 1.4 -2.8 -5.1 0.0z"/><path fill="#2a6cbd" stroke="#2a6cbd" d="M170.9 64.8l5.2 0.0 1.2 -2.8 -5.1 0.0z"/><path fill="#296abc" stroke="#296abc" d="M176.1 64.8l5.2 0.0 1.1 -2.8 -5.1 0.0z"/><path fill="#2262b6" stroke="#2262b6" d="M181.3 64.8l5.2 0.0 1.0 -2.8 -5.1 0.0z"/><path fill="#2261b5" stroke="#2261b5" d="M186.5 64.8l5.2 0.0 0.8 -2.8 -5.1 0.0z"/><path fill="#1f5eb3" stroke="#1f5eb3" d="M191.7 64.8l5.2 0.0 0.7 -2.8 -5.1 0.0z"/><path fill="#1f5eb3" stroke="#1f5eb3" d="M196.9 64.8l5.2 0.0 0.5 -2.8 -5.1 0.0z"/><path fill="#2261b5" stroke="#2261b5" d="M202.1 64.8l5.2 0.0 0.4 -2.8 -5.1 0.0z"/><path fill="#2464b7" stroke="#2464b7" d="M207.3 64.8l5.2 0.0 0.3 -2.8 -5.1 0.0z"/><path fill="#2464b8" stroke="#2464b8" d="M212.6 64.8l5.2 0.0 0.1 -2.8 -5.1 0.0z"/><path fill="#2869bb" stroke="#2869bb" d="M217.8 64.8l5.2 0.0 -0.0 -2.8 -5.1 0.0z"/><path fill="#3072c2" stroke="#3072c2" d="M223.0 64.8l5.2 0.0 -0.1 -2.8 -5.1 0.0z"/><path fill="#357ac7" stroke="#357ac7" d="M228.2 64.8l3.5 0.0 -0.2 -2.8 -3.4 0.0z"/><path fill="#397eca" stroke="#397eca" d="M231.6 64.8l1.3 0.0 -0.3 -2.8 -1.3 0.0z"/><path fill="#3b81cc" stroke="#3b81cc" d="M232.9 64.8l1.3 0.0 -0.3 -2.8 -1.3 0.0z"/><path fill="#4085ce" stroke="#4085ce" d="M234.2 64.8l1.3 0.0 -0.3 -2.8 -1.3 0.0z"/><path fill="#4f91d3" stroke="#4f91d3" d="M235.5 64.8l1.3 0.0 -0.4 -2.8 -1.3 0.0z"/><path fill="#5f9ed8" stroke="#5f9ed8" d="M236.8 64.8l1.3 0.0 -0.4 -2.8 -1.3 0.0z"/><path fill="#77b0de" stroke="#77b0de" d="M238.1 64.8l1.3 0.0 -0.4 -2.8 -1.3 0.0z"/><path fill="#a4cae9" stroke="#a4cae9" d="M239.4 64.8l1.3 0.0 -0.5 -2.8 -1.3 0.0z"/><path fill="#d0e2f1" stroke="#d0e2f1" d="M240.7 64.8l1.3 0.0 -0.5 -2.8 -1.3 0.0z"/><path fill="#f5e8e4" stroke="#f5e8e4" d="M242.0 64.8l1.3 0.0 -0.5 -2.8 -1.3 0.0z"/><path fill="#f9cdb8" stroke="#f9cdb8" d="M243.3 64.8l1.3 0.0 -0.6 -2.8 -1.3 0.0z"/><path fill="#f8c1a9" stroke="#f8c1a9" d="M244.6 64.8l1.3 0.0 -0.6 -2.8 -1.3 0.0z"/><path fill="#f9cbb5" stroke="#f9cbb5" d="M245.9 64.8l1.3 0.0 -0.6 -2.8 -1.3 0.0z"/><path fill="#f5e3db" stroke="#f5e3db" d="M247.2 64.8l1.3 0.0 -0.7 -2.8 -1.3 0.0z"/><path fill="#e6edf3" stroke="#e6edf3" d="M248.5 64.8l1.3 0.0 -0.7 -2.8 -1.3 0.0z"/><path fill="#b2d3ec" stroke="#b2d3ec" d="M249.8 64.8l1.3 0.0 -0.8 -2.8 -1.3 0.0z"/><path fill="#7fb4e0" stroke="#7fb4e0" d="M251.1 64.8l1.3 0.0 -0.8 -2.8 -1.3 0.0z"/><path fill="#64a2d9" stroke="#64a2d9" d="M252.4 64.8l1.3 0.0 -0.8 -2.8 -1.3 0.0z"/><path fill="#5c9bd7" stroke="#5c9bd7" d="M253.7 64.8l1.3 0.0 -0.9 -2.8 -1.3 0.0z"/><path fill="#5e9dd7" stroke="#5e9dd7" d="M255.0 64.8l1.3 0.0 -0.9 -2.8 -1.3 0.0z"/><path fill="#63a1d9" stroke="#63a1d9" d="M256.3 64.8l1.3 0.0 -0.9 -2.8 -1.3 0.0z"/><path fill="#62a0d8" stroke="#62a0d8" d="M257.6 64.8l2.6 0.0 -1.0 -2.8 -2.5 0.0z"/><path fill="#609ed8" stroke="#609ed8" d="M260.2 64.8l2.6 0.0 -1.1 -2.8 -2.5 0.0z"/><path fill="#619fd8" stroke="#619fd8" d="M262.8 64.8l2.6 0.0 -1.1 -2.8 -2.5 0.0z"/><path fill="#64a2d9" stroke="#64a2d9" d="M265.4 64.8l2.6 0.0 -1.2 -2.8 -2.5 0.0z"/><path fill="#6ba8db" stroke="#6ba8db" d="M268.0 64.8l2.6 0.0 -1.3 -2.8 -2.5 0.0z"/><path fill="#74aedd" stroke="#74aedd" d="M270.6 64.8l2.6 0.0 -1.3 -2.8 -2.5 0.0z"/><path fill="#7db3e0" stroke="#7db3e0" d="M273.2 64.8l2.6 0.0 -1.4 -2.8 -2.5 0.0z"/><path fill="#83b7e1" stroke="#83b7e1" d="M275.8 64.8l2.6 0.0 -1.5 -2.8 -2.5 0.0z"/><path fill="#8bbce3" stroke="#8bbce3" d="M278.4 64.8l2.6 0.0 -1.5 -2.8 -2.5 0.0z"/><path fill="#86b9e2" stroke="#86b9e2" d="M281.0 64.8l2.6 0.0 -1.6 -2.8 -2.5 0.0z"/><path fill="#7ab1df" stroke="#7ab1df" d="M283.6 64.8l2.6 0.0 -1.7 -2.8 -2.5 0.0z"/><path fill="#76afde" stroke="#76afde" d="M286.2 64.8l2.6 0.0 -1.8 -2.8 -2.5 0.0z"/><path fill="#6fabdc" stroke="#6fabdc" d="M288.8 64.8l2.6 0.0 -1.8 -2.8 -2.5 0.0z"/><path fill="#71acdd" stroke="#71acdd" d="M291.4 64.8l0.9 0.0 -1.8 -2.8 -0.8 0.0z"/><path fill="#76afde" stroke="#76afde" d="M292.3 64.8l5.2 0.0 -2.0 -2.8 -5.1 0.0z"/><path fill="#79b1df" stroke="#79b1df" d="M297.5 64.8l5.2 0.0 -2.1 -2.8 -5.1 0.0z"/><path fill="#7cb3df" stroke="#7cb3df" d="M302.7 64.8l5.2 0.0 -2.3 -2.8 -5.1 0.0z"/><path fill="#7ab1df" stroke="#7ab1df" d="M307.9 64.8l5.2 0.0 -2.4 -2.8 -5.1 0.0z"/><path fill="#74aedd" stroke="#74aedd" d="M313.1 64.8l5.2 0.0 -2.5 -2.8 -5.1 0.0z"/><path fill="#72acdd" stroke="#72acdd" d="M318.3 64.8l5.2 0.0 -2.7 -2.8 -5.1 0.0z"/><path fill="#70abdd" stroke="#70abdd" d="M323.5 64.8l5.2 0.0 -2.8 -2.8 -5.1 0.0z"/><path fill="#6daadc" stroke="#6daadc" d="M328.7 64.8l5.2 0.0 -2.9 -2.8 -5.1 0.0z"/><path fill="#75aede" stroke="#75aede" d="M333.9 64.8l5.2 0.0 -3.1 -2.8 -5.1 0.0z"/><path fill="#7bb2df" stroke="#7bb2df" d="M339.1 64.8l5.2 0.0 -3.2 -2.8 -5.1 0.0z"/><path fill="#7bb2df" stroke="#7bb2df" d="M344.3 64.8l5.2 0.0 -3.4 -2.8 -5.1 0.0z"/><path fill="#80b5e0" stroke="#80b5e0" d="M349.5 64.8l5.2 0.0 -3.5 -2.8 -5.1 0.0z"/><path fill="#81b5e1" stroke="#81b5e1" d="M354.7 64.8l5.2 0.0 -3.6 -2.8 -5.1 0.0z"/><path fill="#7eb3e0" stroke="#7eb3e0" d="M359.9 64.8l5.2 0.0 -3.8 -2.8 -5.1 0.0z"/><path fill="#7cb3df" stroke="#7cb3df" d="M365.1 64.8l5.2 0.0 -3.9 -2.8 -5.1 0.0z"/><path fill="#7fb4e0" stroke="#7fb4e0" d="M370.3 64.8l5.2 0.0 -4.1 -2.8 -5.1 0.0z"/><path fill="#7fb4e0" stroke="#7fb4e0" d="M375.5 64.8l3.5 0.0 -4.1 -2.8 -3.4 0.0z"/><path fill="#2767ba" stroke="#2767ba" d="M121.7 62.0l5.1 0.0 2.6 -2.8 -4.9 0.0z"/><path fill="#2464b8" stroke="#2464b8" d="M126.7 62.0l5.1 0.0 2.5 -2.8 -4.9 0.0z"/><path fill="#2465b8" stroke="#2465b8" d="M131.8 62.0l5.1 0.0 2.3 -2.8 -4.9 0.0z"/><path fill="#2666b9" stroke="#2666b9" d="M136.9 62.0l5.1 0.0 2.2 -2.8 -4.9 0.0z"/><path fill="#2667ba" stroke="#2667ba" d="M141.9 62.0l5.1 0.0 2.1 -2.8 -4.9 0.0z"/><path fill="#2565b9" stroke="#2565b9" d="M147.0 62.0l5.1 0.0 1.9 -2.8 -4.9 0.0z"/><path fill="#2667b9" stroke="#2667b9" d="M152.1 62.0l5.1 0.0 1.8 -2.8 -4.9 0.0z"/><path fill="#296abc" stroke="#296abc" d="M157.1 62.0l5.1 0.0 1.7 -2.8 -4.9 0.0z"/><path fill="#2869bb" stroke="#2869bb" d="M162.2 62.0l5.1 0.0 1.5 -2.8 -4.9 0.0z"/><path fill="#296bbc" stroke="#296bbc" d="M167.2 62.0l5.1 0.0 1.4 -2.8 -4.9 0.0z"/><path fill="#3174c3" stroke="#3174c3" d="M172.3 62.0l5.1 0.0 1.2 -2.8 -4.9 0.0z"/><path fill="#3073c2" stroke="#3073c2" d="M177.4 62.0l5.1 0.0 1.1 -2.8 -4.9 0.0z"/><path fill="#2a6cbd" stroke="#2a6cbd" d="M182.4 62.0l5.1 0.0 1.0 -2.8 -4.9 0.0z"/><path fill="#296bbc" stroke="#296bbc" d="M187.5 62.0l5.1 0.0 0.8 -2.8 -4.9 0.0z"/><path fill="#2768ba" stroke="#2768ba" d="M192.6 62.0l5.1 0.0 0.7 -2.8 -4.9 0.0z"/><path fill="#2768bb" stroke="#2768bb" d="M197.6 62.0l5.1 0.0 0.5 -2.8 -4.9 0.0z"/><path fill="#2a6bbd" stroke="#2a6bbd" d="M202.7 62.0l5.1 0.0 0.4 -2.8 -4.9 0.0z"/><path fill="#2c6ebf" stroke="#2c6ebf" d="M207.8 62.0l5.1 0.0 0.3 -2.8 -4.9 0.0z"/><path fill="#2c6fbf" stroke="#2c6fbf" d="M212.8 62.0l5.1 0.0 0.1 -2.8 -4.9 0.0z"/><path fill="#3074c3" stroke="#3074c3" d="M217.9 62.0l5.1 0.0 -0.0 -2.8 -4.9 0.0z"/><path fill="#387dc9" stroke="#387dc9" d="M223.0 62.0l5.1 0.0 -0.1 -2.8 -4.9 0.0z"/><path fill="#4085ce" stroke="#4085ce" d="M228.0 62.0l3.4 0.0 -0.2 -2.8 -3.3 0.0z"/><path fill="#4a8dd1" stroke="#4a8dd1" d="M231.4 62.0l1.3 0.0 -0.3 -2.8 -1.2 0.0z"/><path fill="#4f91d3" stroke="#4f91d3" d="M232.7 62.0l1.3 0.0 -0.3 -2.8 -1.2 0.0z"/><path fill="#5697d5" stroke="#5697d5" d="M233.9 62.0l1.3 0.0 -0.3 -2.8 -1.2 0.0z"/><path fill="#67a5da" stroke="#67a5da" d="M235.2 62.0l1.3 0.0 -0.4 -2.8 -1.2 0.0z"/><path fill="#81b5e1" stroke="#81b5e1" d="M236.5 62.0l1.3 0.0 -0.4 -2.8 -1.2 0.0z"/><path fill="#a7ccea" stroke="#a7ccea" d="M237.7 62.0l1.3 0.0 -0.4 -2.8 -1.2 0.0z"/><path fill="#e4ecf3" stroke="#e4ecf3" d="M239.0 62.0l1.3 0.0 -0.5 -2.8 -1.2 0.0z"/><path fill="#f7dacd" stroke="#f7dacd" d="M240.3 62.0l1.3 0.0 -0.5 -2.8 -1.2 0.0z"/><path fill="#f5b196" stroke="#f5b196" d="M241.5 62.0l1.3 0.0 -0.5 -2.8 -1.2 0.0z"/><path fill="#ee896b" stroke="#ee896b" d="M242.8 62.0l1.3 0.0 -0.6 -2.8 -1.2 0.0z"/><path fill="#ea795e" stroke="#ea795e" d="M244.1 62.0l1.3 0.0 -0.6 -2.8 -1.2 0.0z"/><path fill="#ee8769" stroke="#ee8769" d="M245.3 62.0l1.3 0.0 -0.6 -2.8 -1.2 0.0z"/><path fill="#f5b095" stroke="#f5b095" d="M246.6 62.0l1.3 0.0 -0.7 -2.8 -1.2 0.0z"/><path fill="#f7d6c7" stroke="#f7d6c7" d="M247.8 62.0l1.3 0.0 -0.7 -2.8 -1.2 0.0z"/><path fill="#e0eaf3" stroke="#e0eaf3" d="M249.1 62.0l1.3 0.0 -0.8 -2.8 -1.2 0.0z"/><path fill="#9ac4e7" stroke="#9ac4e7" d="M250.4 62.0l1.3 0.0 -0.8 -2.8 -1.2 0.0z"/><path fill="#74addd" stroke="#74addd" d="M251.6 62.0l1.3 0.0 -0.8 -2.8 -1.2 0.0z"/><path fill="#69a6db" stroke="#69a6db" d="M252.9 62.0l1.3 0.0 -0.9 -2.8 -1.2 0.0z"/><path fill="#6ba8db" stroke="#6ba8db" d="M254.2 62.0l1.3 0.0 -0.9 -2.8 -1.2 0.0z"/><path fill="#71acdd" stroke="#71acdd" d="M255.4 62.0l1.3 0.0 -0.9 -2.8 -1.2 0.0z"/><path fill="#70abdc" stroke="#70abdc" d="M256.7 62.0l2.5 0.0 -1.0 -2.8 -2.5 0.0z"/><path fill="#6eaadc" stroke="#6eaadc" d="M259.2 62.0l2.5 0.0 -1.1 -2.8 -2.5 0.0z"/><path fill="#6fabdc" stroke="#6fabdc" d="M261.8 62.0l2.5 0.0 -1.1 -2.8 -2.5 0.0z"/><path fill="#76afde" stroke="#76afde" d="M264.3 62.0l2.5 0.0 -1.2 -2.8 -2.5 0.0z"/><path fill="#82b6e1" stroke="#82b6e1" d="M266.8 62.0l2.5 0.0 -1.3 -2.8 -2.5 0.0z"/><path fill="#8fbee4" stroke="#8fbee4" d="M269.4 62.0l2.5 0.0 -1.3 -2.8 -2.5 0.0z"/><path fill="#9cc6e7" stroke="#9cc6e7" d="M271.9 62.0l2.5 0.0 -1.4 -2.8 -2.5 0.0z"/><path fill="#a6cce9" stroke="#a6cce9" d="M274.4 62.0l2.5 0.0 -1.5 -2.8 -2.5 0.0z"/><path fill="#add0eb" stroke="#add0eb" d="M277.0 62.0l2.5 0.0 -1.5 -2.8 -2.5 0.0z"/><path fill="#a3cae9" stroke="#a3cae9" d="M279.5 62.0l2.5 0.0 -1.6 -2.8 -2.5 0.0z"/><path fill="#93c0e5" stroke="#93c0e5" d="M282.0 62.0l2.5 0.0 -1.7 -2.8 -2.5 0.0z"/><path fill="#8cbce3" stroke="#8cbce3" d="M284.6 62.0l2.5 0.0 -1.8 -2.8 -2.5 0.0z"/><path fill="#84b7e1" stroke="#84b7e1" d="M287.1 62.0l2.5 0.0 -1.8 -2.8 -2.5 0.0z"/><path fill="#85b8e2" stroke="#85b8e2" d="M289.6 62.0l0.8 0.0 -1.8 -2.8 -0.8 0.0z"/><path fill="#8abbe3" stroke="#8abbe3" d="M290.5 62.0l5.1 0.0 -2.0 -2.8 -4.9 0.0z"/><path fill="#8cbce3" stroke="#8cbce3" d="M295.5 62.0l5.1 0.0 -2.1 -2.8 -4.9 0.0z"/><path fill="#8fbee4" stroke="#8fbee4" d="M300.6 62.0l5.1 0.0 -2.3 -2.8 -4.9 0.0z"/><path fill="#8dbde4" stroke="#8dbde4" d="M305.7 62.0l5.1 0.0 -2.4 -2.8 -4.9 0.0z"/><path fill="#88b9e2" stroke="#88b9e2" d="M310.7 62.0l5.1 0.0 -2.5 -2.8 -4.9 0.0z"/><path fill="#85b8e2" stroke="#85b8e2" d="M315.8 62.0l5.1 0.0 -2.7 -2.8 -4.9 0.0z"/><path fill="#84b7e1" stroke="#84b7e1" d="M320.9 62.0l5.1 0.0 -2.8 -2.8 -4.9 0.0z"/><path fill="#81b6e1" stroke="#81b6e1" d="M325.9 62.0l5.1 0.0 -2.9 -2.8 -4.9 0.0z"/><path fill="#88bae2" stroke="#88bae2" d="M331.0 62.0l5.1 0.0 -3.1 -2.8 -4.9 0.0z"/><path fill="#8ebde4" stroke="#8ebde4" d="M336.0 62.0l5.1 0.0 -3.2 -2.8 -4.9 0.0z"/><path fill="#8ebde4" stroke="#8ebde4" d="M341.1 62.0l5.1 0.0 -3.4 -2.8 -4.9 0.0z"/><path fill="#92bfe5" stroke="#92bfe5" d="M346.2 62.0l5.1 0.0 -3.5 -2.8 -4.9 0.0z"/><path fill="#93c0e5" stroke="#93c0e5" d="M351.2 62.0l5.1 0.0 -3.6 -2.8 -4.9 0.0z"/><path fill="#90bee4" stroke="#90bee4" d="M356.3 62.0l5.1 0.0 -3.8 -2.8 -4.9 0.0z"/><path fill="#8fbee4" stroke="#8fbee4" d="M361.4 62.0l5.1 0.0 -3.9 -2.8 -4.9 0.0z"/><path fill="#91bfe4" stroke="#91bfe4" d="M366.4 62.0l5.1 0.0 -4.1 -2.8 -4.9 0.0z"/><path fill="#91bfe4" stroke="#91bfe4" d="M371.5 62.0l3.4 0.0 -4.1 -2.8 -3.3 0.0z"/><path fill="#2d70c0" stroke="#2d70c0" d="M124.4 59.3l4.9 0.0 2.6 -2.8 -4.8 0.0z"/><path fill="#2b6dbe" stroke="#2b6dbe" d="M129.4 59.3l4.9 0.0 2.5 -2.8 -4.8 0.0z"/><path fill="#2c6dbe" stroke="#2c6dbe" d="M134.3 59.3l4.9 0.0 2.3 -2.8 -4.8 0.0z"/><path fill="#2d6fc0" stroke="#2d6fc0" d="M139.2 59.3l4.9 0.0 2.2 -2.8 -4.8 0.0z"/><path fill="#2d70c0" stroke="#2d70c0" d="M144.1 59.3l4.9 0.0 2.1 -2.8 -4.8 0.0z"/><path fill="#2c6ebf" stroke="#2c6ebf" d="M149.1 59.3l4.9 0.0 1.9 -2.8 -4.8 0.0z"/><path fill="#2d70c0" stroke="#2d70c0" d="M154.0 59.3l4.9 0.0 1.8 -2.8 -4.8 0.0z"/><path fill="#3073c2" stroke="#3073c2" d="M158.9 59.3l4.9 0.0 1.7 -2.8 -4.8 0.0z"/><path fill="#2f72c2" stroke="#2f72c2" d="M163.8 59.3l4.9 0.0 1.5 -2.8 -4.8 0.0z"/><path fill="#3073c3" stroke="#3073c3" d="M168.8 59.3l4.9 0.0 1.4 -2.8 -4.8 0.0z"/><path fill="#377cc9" stroke="#377cc9" d="M173.7 59.3l4.9 0.0 1.2 -2.8 -4.8 0.0z"/><path fill="#367bc8" stroke="#367bc8" d="M178.6 59.3l4.9 0.0 1.1 -2.8 -4.8 0.0z"/><path fill="#3175c3" stroke="#3175c3" d="M183.5 59.3l4.9 0.0 1.0 -2.8 -4.8 0.0z"/><path fill="#3174c3" stroke="#3174c3" d="M188.5 59.3l4.9 0.0 0.8 -2.8 -4.8 0.0z"/><path fill="#2f71c1" stroke="#2f71c1" d="M193.4 59.3l4.9 0.0 0.7 -2.8 -4.8 0.0z"/><path fill="#2f72c1" stroke="#2f72c1" d="M198.3 59.3l4.9 0.0 0.5 -2.8 -4.8 0.0z"/><path fill="#3174c3" stroke="#3174c3" d="M203.2 59.3l4.9 0.0 0.4 -2.8 -4.8 0.0z"/><path fill="#3377c5" stroke="#3377c5" d="M208.2 59.3l4.9 0.0 0.3 -2.8 -4.8 0.0z"/><path fill="#3478c6" stroke="#3478c6" d="M213.1 59.3l4.9 0.0 0.1 -2.8 -4.8 0.0z"/><path fill="#387dca" stroke="#387dca" d="M218.0 59.3l4.9 0.0 -0.0 -2.8 -4.8 0.0z"/><path fill="#4589d0" stroke="#4589d0" d="M222.9 59.3l4.9 0.0 -0.1 -2.8 -4.8 0.0z"/><path fill="#5394d4" stroke="#5394d4" d="M227.9 59.3l3.3 0.0 -0.2 -2.8 -3.2 0.0z"/><path fill="#5d9cd7" stroke="#5d9cd7" d="M231.2 59.3l1.2 0.0 -0.3 -2.8 -1.2 0.0z"/><path fill="#63a1d9" stroke="#63a1d9" d="M232.4 59.3l1.2 0.0 -0.3 -2.8 -1.2 0.0z"/><path fill="#6ba8db" stroke="#6ba8db" d="M233.6 59.3l1.2 0.0 -0.3 -2.8 -1.2 0.0z"/><path fill="#88b9e2" stroke="#88b9e2" d="M234.9 59.3l1.2 0.0 -0.4 -2.8 -1.2 0.0z"/><path fill="#a9cdea" stroke="#a9cdea" d="M236.1 59.3l1.2 0.0 -0.4 -2.8 -1.2 0.0z"/><path fill="#dbe7f2" stroke="#dbe7f2" d="M237.3 59.3l1.2 0.0 -0.4 -2.8 -1.2 0.0z"/><path fill="#f8d4c3" stroke="#f8d4c3" d="M238.5 59.3l1.2 0.0 -0.5 -2.8 -1.2 0.0z"/><path fill="#f4a487" stroke="#f4a487" d="M239.8 59.3l1.2 0.0 -0.5 -2.8 -1.2 0.0z"/><path fill="#e76f56" stroke="#e76f56" d="M241.0 59.3l1.2 0.0 -0.5 -2.8 -1.2 0.0z"/><path fill="#d64537" stroke="#d64537" d="M242.2 59.3l1.2 0.0 -0.6 -2.8 -1.2 0.0z"/><path fill="#ce3b33" stroke="#ce3b33" d="M243.5 59.3l1.2 0.0 -0.6 -2.8 -1.2 0.0z"/><path fill="#d74537" stroke="#d74537" d="M244.7 59.3l1.2 0.0 -0.6 -2.8 -1.2 0.0z"/><path fill="#e9745a" stroke="#e9745a" d="M245.9 59.3l1.2 0.0 -0.7 -2.8 -1.2 0.0z"/><path fill="#f5ab90" stroke="#f5ab90" d="M247.2 59.3l1.2 0.0 -0.7 -2.8 -1.2 0.0z"/><path fill="#f5e2db" stroke="#f5e2db" d="M248.4 59.3l1.2 0.0 -0.8 -2.8 -1.2 0.0z"/><path fill="#b4d4ed" stroke="#b4d4ed" d="M249.6 59.3l1.2 0.0 -0.8 -2.8 -1.2 0.0z"/><path fill="#88b9e2" stroke="#88b9e2" d="M250.9 59.3l1.2 0.0 -0.8 -2.8 -1.2 0.0z"/><path fill="#79b1df" stroke="#79b1df" d="M252.1 59.3l1.2 0.0 -0.9 -2.8 -1.2 0.0z"/><path fill="#7cb2df" stroke="#7cb2df" d="M253.3 59.3l1.2 0.0 -0.9 -2.8 -1.2 0.0z"/><path fill="#83b7e1" stroke="#83b7e1" d="M254.6 59.3l1.2 0.0 -0.9 -2.8 -1.2 0.0z"/><path fill="#83b7e1" stroke="#83b7e1" d="M255.8 59.3l2.5 0.0 -1.0 -2.8 -2.4 0.0z"/><path fill="#81b5e1" stroke="#81b5e1" d="M258.3 59.3l2.5 0.0 -1.1 -2.8 -2.4 0.0z"/><path fill="#83b7e1" stroke="#83b7e1" d="M260.7 59.3l2.5 0.0 -1.1 -2.8 -2.4 0.0z"/><path fill="#8cbce3" stroke="#8cbce3" d="M263.2 59.3l2.5 0.0 -1.2 -2.8 -2.4 0.0z"/><path fill="#9ac4e6" stroke="#9ac4e6" d="M265.6 59.3l2.5 0.0 -1.3 -2.8 -2.4 0.0z"/><path fill="#aaceea" stroke="#aaceea" d="M268.1 59.3l2.5 0.0 -1.3 -2.8 -2.4 0.0z"/><path fill="#bcd9ee" stroke="#bcd9ee" d="M270.6 59.3l2.5 0.0 -1.4 -2.8 -2.4 0.0z"/><path fill="#cbe0f0" stroke="#cbe0f0" d="M273.0 59.3l2.5 0.0 -1.5 -2.8 -2.4 0.0z"/><path fill="#d1e3f1" stroke="#d1e3f1" d="M275.5 59.3l2.5 0.0 -1.5 -2.8 -2.4 0.0z"/><path fill="#c0dbef" stroke="#c0dbef" d="M278.0 59.3l2.5 0.0 -1.6 -2.8 -2.4 0.0z"/><path fill="#accfeb" stroke="#accfeb" d="M280.4 59.3l2.5 0.0 -1.7 -2.8 -2.4 0.0z"/><path fill="#a1c9e8" stroke="#a1c9e8" d="M282.9 59.3l2.5 0.0 -1.8 -2.8 -2.4 0.0z"/><path fill="#97c3e6" stroke="#97c3e6" d="M285.3 59.3l2.5 0.0 -1.8 -2.8 -2.4 0.0z"/><path fill="#98c3e6" stroke="#98c3e6" d="M287.8 59.3l0.8 0.0 -1.8 -2.8 -0.8 0.0z"/><path fill="#9cc5e7" stroke="#9cc5e7" d="M288.6 59.3l4.9 0.0 -2.0 -2.8 -4.8 0.0z"/><path fill="#9ec7e7" stroke="#9ec7e7" d="M293.6 59.3l4.9 0.0 -2.1 -2.8 -4.8 0.0z"/><path fill="#a0c8e8" stroke="#a0c8e8" d="M298.5 59.3l4.9 0.0 -2.3 -2.8 -4.8 0.0z"/><path fill="#9fc7e8" stroke="#9fc7e8" d="M303.4 59.3l4.9 0.0 -2.4 -2.8 -4.8 0.0z"/><path fill="#9ac4e6" stroke="#9ac4e6" d="M308.3 59.3l4.9 0.0 -2.5 -2.8 -4.8 0.0z"/><path fill="#98c3e6" stroke="#98c3e6" d="M313.3 59.3l4.9 0.0 -2.7 -2.8 -4.8 0.0z"/><path fill="#97c2e6" stroke="#97c2e6" d="M318.2 59.3l4.9 0.0 -2.8 -2.8 -4.8 0.0z"/><path fill="#94c1e5" stroke="#94c1e5" d="M323.1 59.3l4.9 0.0 -2.9 -2.8 -4.8 0.0z"/><path fill="#9ac5e7" stroke="#9ac5e7" d="M328.0 59.3l4.9 0.0 -3.1 -2.8 -4.8 0.0z"/><path fill="#9fc8e8" stroke="#9fc8e8" d="M333.0 59.3l4.9 0.0 -3.2 -2.8 -4.8 0.0z"/><path fill="#9fc7e8" stroke="#9fc7e8" d="M337.9 59.3l4.9 0.0 -3.4 -2.8 -4.8 0.0z"/><path fill="#a2c9e9" stroke="#a2c9e9" d="M342.8 59.3l4.9 0.0 -3.5 -2.8 -4.8 0.0z"/><path fill="#a3cae9" stroke="#a3cae9" d="M347.7 59.3l4.9 0.0 -3.6 -2.8 -4.8 0.0z"/><path fill="#a1c9e8" stroke="#a1c9e8" d="M352.7 59.3l4.9 0.0 -3.8 -2.8 -4.8 0.0z"/><path fill="#a0c8e8" stroke="#a0c8e8" d="M357.6 59.3l4.9 0.0 -3.9 -2.8 -4.8 0.0z"/><path fill="#a2c9e8" stroke="#a2c9e8" d="M362.5 59.3l4.9 0.0 -4.1 -2.8 -4.8 0.0z"/><path fill="#a2c9e8" stroke="#a2c9e8" d="M367.4 59.3l3.3 0.0 -4.1 -2.8 -3.2 0.0z"/><path fill="#3478c6" stroke="#3478c6" d="M127.2 56.5l4.8 0.0 2.6 -2.8 -4.7 0.0z"/><path fill="#3275c4" stroke="#3275c4" d="M132.0 56.5l4.8 0.0 2.5 -2.8 -4.7 0.0z"/><path fill="#3276c4" stroke="#3276c4" d="M136.8 56.5l4.8 0.0 2.3 -2.8 -4.6 0.0z"/><path fill="#3478c6" stroke="#3478c6" d="M141.5 56.5l4.8 0.0 2.2 -2.8 -4.7 0.0z"/><path fill="#3478c6" stroke="#3478c6" d="M146.3 56.5l4.8 0.0 2.1 -2.8 -4.7 0.0z"/><path fill="#3377c5" stroke="#3377c5" d="M151.1 56.5l4.8 0.0 1.9 -2.8 -4.7 0.0z"/><path fill="#3478c6" stroke="#3478c6" d="M155.9 56.5l4.8 0.0 1.8 -2.8 -4.7 0.0z"/><path fill="#367bc8" stroke="#367bc8" d="M160.7 56.5l4.8 0.0 1.7 -2.8 -4.7 0.0z"/><path fill="#367bc8" stroke="#367bc8" d="M165.5 56.5l4.8 0.0 1.5 -2.8 -4.6 0.0z"/><path fill="#377cc8" stroke="#377cc8" d="M170.3 56.5l4.8 0.0 1.4 -2.8 -4.7 0.0z"/><path fill="#3e84ce" stroke="#3e84ce" d="M175.1 56.5l4.8 0.0 1.2 -2.8 -4.7 0.0z"/><path fill="#3c82cd" stroke="#3c82cd" d="M179.9 56.5l4.8 0.0 1.1 -2.8 -4.7 0.0z"/><path fill="#387dc9" stroke="#387dc9" d="M184.6 56.5l4.8 0.0 1.0 -2.8 -4.7 0.0z"/><path fill="#377cc9" stroke="#377cc9" d="M189.4 56.5l4.8 0.0 0.8 -2.8 -4.6 0.0z"/><path fill="#367ac8" stroke="#367ac8" d="M194.2 56.5l4.8 0.0 0.7 -2.8 -4.7 0.0z"/><path fill="#367bc8" stroke="#367bc8" d="M199.0 56.5l4.8 0.0 0.5 -2.8 -4.7 0.0z"/><path fill="#387dc9" stroke="#387dc9" d="M203.8 56.5l4.8 0.0 0.4 -2.8 -4.7 0.0z"/><path fill="#3a80cb" stroke="#3a80cb" d="M208.6 56.5l4.8 0.0 0.3 -2.8 -4.7 0.0z"/><path fill="#3c82cd" stroke="#3c82cd" d="M213.4 56.5l4.8 0.0 0.1 -2.8 -4.6 0.0z"/><path fill="#4589d0" stroke="#4589d0" d="M218.2 56.5l4.8 0.0 -0.0 -2.8 -4.7 0.0z"/><path fill="#5697d5" stroke="#5697d5" d="M222.9 56.5l4.8 0.0 -0.1 -2.8 -4.6 0.0z"/><path fill="#65a2d9" stroke="#65a2d9" d="M227.7 56.5l3.2 0.0 -0.2 -2.8 -3.1 0.0z"/><path fill="#71acdd" stroke="#71acdd" d="M230.9 56.5l1.2 0.0 -0.3 -2.8 -1.2 0.0z"/><path fill="#7bb2df" stroke="#7bb2df" d="M232.1 56.5l1.2 0.0 -0.3 -2.8 -1.2 0.0z"/><path fill="#89bae2" stroke="#89bae2" d="M233.3 56.5l1.2 0.0 -0.3 -2.8 -1.2 0.0z"/><path fill="#abceeb" stroke="#abceeb" d="M234.5 56.5l1.2 0.0 -0.4 -2.8 -1.2 0.0z"/><path fill="#d4e4f1" stroke="#d4e4f1" d="M235.7 56.5l1.2 0.0 -0.4 -2.8 -1.2 0.0z"/><path fill="#f6e1d9" stroke="#f6e1d9" d="M236.9 56.5l1.2 0.0 -0.4 -2.8 -1.2 0.0z"/><path fill="#f3a386" stroke="#f3a386" d="M238.1 56.5l1.2 0.0 -0.5 -2.8 -1.2 0.0z"/><path fill="#e56750" stroke="#e56750" d="M239.3 56.5l1.2 0.0 -0.5 -2.8 -1.2 0.0z"/><path fill="#cc3932" stroke="#cc3932" d="M240.5 56.5l1.2 0.0 -0.5 -2.8 -1.2 0.0z"/><path fill="#af1c24" stroke="#af1c24" d="M241.7 56.5l1.2 0.0 -0.6 -2.8 -1.2 0.0z"/><path fill="#a31821" stroke="#a31821" d="M242.9 56.5l1.2 0.0 -0.6 -2.8 -1.2 0.0z"/><path fill="#b01c24" stroke="#b01c24" d="M244.1 56.5l1.2 0.0 -0.6 -2.8 -1.2 0.0z"/><path fill="#d24035" stroke="#d24035" d="M245.3 56.5l1.2 0.0 -0.7 -2.8 -1.2 0.0z"/><path fill="#eb7c60" stroke="#eb7c60" d="M246.5 56.5l1.2 0.0 -0.7 -2.8 -1.2 0.0z"/><path fill="#f8c6af" stroke="#f8c6af" d="M247.7 56.5l1.2 0.0 -0.8 -2.8 -1.2 0.0z"/><path fill="#d1e3f1" stroke="#d1e3f1" d="M248.9 56.5l1.2 0.0 -0.8 -2.8 -1.2 0.0z"/><path fill="#9ac5e7" stroke="#9ac5e7" d="M250.1 56.5l1.2 0.0 -0.8 -2.8 -1.2 0.0z"/><path fill="#8bbbe3" stroke="#8bbbe3" d="M251.3 56.5l1.2 0.0 -0.9 -2.8 -1.2 0.0z"/><path fill="#8dbde3" stroke="#8dbde3" d="M252.5 56.5l1.2 0.0 -0.9 -2.8 -1.2 0.0z"/><path fill="#95c1e5" stroke="#95c1e5" d="M253.7 56.5l1.2 0.0 -0.9 -2.8 -1.2 0.0z"/><path fill="#95c2e5" stroke="#95c2e5" d="M254.9 56.5l2.4 0.0 -1.0 -2.8 -2.3 0.0z"/><path fill="#94c1e5" stroke="#94c1e5" d="M257.3 56.5l2.4 0.0 -1.1 -2.8 -2.3 0.0z"/><path fill="#96c2e6" stroke="#96c2e6" d="M259.7 56.5l2.4 0.0 -1.1 -2.8 -2.3 0.0z"/><path fill="#a1c8e8" stroke="#a1c8e8" d="M262.0 56.5l2.4 0.0 -1.2 -2.8 -2.3 0.0z"/><path fill="#b1d2ec" stroke="#b1d2ec" d="M264.4 56.5l2.4 0.0 -1.3 -2.8 -2.3 0.0z"/><path fill="#c6ddf0" stroke="#c6ddf0" d="M266.8 56.5l2.4 0.0 -1.3 -2.8 -2.3 0.0z"/><path fill="#e0eaf3" stroke="#e0eaf3" d="M269.2 56.5l2.4 0.0 -1.4 -2.8 -2.3 0.0z"/><path fill="#f3f3f4" stroke="#f3f3f4" d="M271.6 56.5l2.4 0.0 -1.5 -2.8 -2.3 0.0z"/><path fill="#f3f0f1" stroke="#f3f0f1" d="M274.0 56.5l2.4 0.0 -1.5 -2.8 -2.3 0.0z"/><path fill="#e1eaf3" stroke="#e1eaf3" d="M276.4 56.5l2.4 0.0 -1.6 -2.8 -2.3 0.0z"/><path fill="#c6ddf0" stroke="#c6ddf0" d="M278.8 56.5l2.4 0.0 -1.7 -2.8 -2.3 0.0z"/><path fill="#b6d5ed" stroke="#b6d5ed" d="M281.2 56.5l2.4 0.0 -1.8 -2.8 -2.3 0.0z"/><path fill="#a9ceea" stroke="#a9ceea" d="M283.6 56.5l2.4 0.0 -1.8 -2.8 -2.3 0.0z"/><path fill="#a9ceea" stroke="#a9ceea" d="M286.0 56.5l0.8 0.0 -1.8 -2.8 -0.8 0.0z"/><path fill="#add0eb" stroke="#add0eb" d="M286.8 56.5l4.8 0.0 -2.0 -2.8 -4.6 0.0z"/><path fill="#aed1eb" stroke="#aed1eb" d="M291.6 56.5l4.8 0.0 -2.1 -2.8 -4.6 0.0z"/><path fill="#b0d2ec" stroke="#b0d2ec" d="M296.4 56.5l4.8 0.0 -2.3 -2.8 -4.7 0.0z"/><path fill="#afd1ec" stroke="#afd1ec" d="M301.1 56.5l4.8 0.0 -2.4 -2.8 -4.7 0.0z"/><path fill="#abceeb" stroke="#abceeb" d="M305.9 56.5l4.8 0.0 -2.5 -2.8 -4.6 0.0z"/><path fill="#a9cdea" stroke="#a9cdea" d="M310.7 56.5l4.8 0.0 -2.7 -2.8 -4.6 0.0z"/><path fill="#a8cdea" stroke="#a8cdea" d="M315.5 56.5l4.8 0.0 -2.8 -2.8 -4.6 0.0z"/><path fill="#a6cce9" stroke="#a6cce9" d="M320.3 56.5l4.8 0.0 -2.9 -2.8 -4.7 0.0z"/><path fill="#abcfeb" stroke="#abcfeb" d="M325.1 56.5l4.8 0.0 -3.1 -2.8 -4.7 0.0z"/><path fill="#afd1ec" stroke="#afd1ec" d="M329.9 56.5l4.8 0.0 -3.2 -2.8 -4.6 0.0z"/><path fill="#afd1ec" stroke="#afd1ec" d="M334.7 56.5l4.8 0.0 -3.4 -2.8 -4.6 0.0z"/><path fill="#b2d3ec" stroke="#b2d3ec" d="M339.5 56.5l4.8 0.0 -3.5 -2.8 -4.6 0.0z"/><path fill="#b3d3ed" stroke="#b3d3ed" d="M344.2 56.5l4.8 0.0 -3.6 -2.8 -4.7 0.0z"/><path fill="#b1d2ec" stroke="#b1d2ec" d="M349.0 56.5l4.8 0.0 -3.8 -2.8 -4.7 0.0z"/><path fill="#b0d2ec" stroke="#b0d2ec" d="M353.8 56.5l4.8 0.0 -3.9 -2.8 -4.6 0.0z"/><path fill="#b2d3ec" stroke="#b2d3ec" d="M358.6 56.5l4.8 0.0 -4.1 -2.8 -4.6 0.0z"/><path fill="#b2d3ec" stroke="#b2d3ec" d="M363.4 56.5l3.2 0.0 -4.1 -2.8 -3.1 0.0z"/><path fill="#3a7fcb" stroke="#3a7fcb" d="M129.9 53.8l4.7 0.0 2.6 -2.8 -4.5 0.0z"/><path fill="#387eca" stroke="#387eca" d="M134.6 53.8l4.7 0.0 2.5 -2.8 -4.5 0.0z"/><path fill="#397eca" stroke="#397eca" d="M139.2 53.8l4.6 0.0 2.3 -2.8 -4.5 0.0z"/><path fill="#3a80cb" stroke="#3a80cb" d="M143.9 53.8l4.7 0.0 2.2 -2.8 -4.5 0.0z"/><path fill="#3a80cc" stroke="#3a80cc" d="M148.5 53.8l4.7 0.0 2.1 -2.8 -4.5 0.0z"/><path fill="#3a7fcb" stroke="#3a7fcb" d="M153.2 53.8l4.7 0.0 1.9 -2.8 -4.5 0.0z"/><path fill="#3b80cc" stroke="#3b80cc" d="M157.8 53.8l4.7 0.0 1.8 -2.8 -4.5 0.0z"/><path fill="#3d83cd" stroke="#3d83cd" d="M162.5 53.8l4.7 0.0 1.7 -2.8 -4.5 0.0z"/><path fill="#3d83cd" stroke="#3d83cd" d="M167.1 53.8l4.6 0.0 1.5 -2.8 -4.5 0.0z"/><path fill="#3f85ce" stroke="#3f85ce" d="M171.8 53.8l4.7 0.0 1.4 -2.8 -4.5 0.0z"/><path fill="#4b8ed2" stroke="#4b8ed2" d="M176.4 53.8l4.7 0.0 1.2 -2.8 -4.5 0.0z"/><path fill="#4a8dd1" stroke="#4a8dd1" d="M181.1 53.8l4.7 0.0 1.1 -2.8 -4.5 0.0z"/><path fill="#4286cf" stroke="#4286cf" d="M185.7 53.8l4.7 0.0 1.0 -2.8 -4.5 0.0z"/><path fill="#4186ce" stroke="#4186ce" d="M190.4 53.8l4.6 0.0 0.8 -2.8 -4.5 0.0z"/><path fill="#3e84ce" stroke="#3e84ce" d="M195.0 53.8l4.7 0.0 0.7 -2.8 -4.5 0.0z"/><path fill="#3f84ce" stroke="#3f84ce" d="M199.7 53.8l4.7 0.0 0.5 -2.8 -4.5 0.0z"/><path fill="#4387cf" stroke="#4387cf" d="M204.3 53.8l4.7 0.0 0.4 -2.8 -4.5 0.0z"/><path fill="#488cd1" stroke="#488cd1" d="M209.0 53.8l4.7 0.0 0.3 -2.8 -4.5 0.0z"/><path fill="#4d8fd2" stroke="#4d8fd2" d="M213.6 53.8l4.6 0.0 0.1 -2.8 -4.5 0.0z"/><path fill="#5697d5" stroke="#5697d5" d="M218.3 53.8l4.7 0.0 -0.0 -2.8 -4.5 0.0z"/><path fill="#67a4da" stroke="#67a4da" d="M222.9 53.8l4.6 0.0 -0.1 -2.8 -4.5 0.0z"/><path fill="#7ab1df" stroke="#7ab1df" d="M227.6 53.8l3.1 0.0 -0.2 -2.8 -3.0 0.0z"/><path fill="#8cbce3" stroke="#8cbce3" d="M230.7 53.8l1.2 0.0 -0.3 -2.8 -1.1 0.0z"/><path fill="#97c3e6" stroke="#97c3e6" d="M231.9 53.8l1.2 0.0 -0.3 -2.8 -1.1 0.0z"/><path fill="#a7ccea" stroke="#a7ccea" d="M233.0 53.8l1.2 0.0 -0.3 -2.8 -1.1 0.0z"/><path fill="#d0e2f1" stroke="#d0e2f1" d="M234.2 53.8l1.2 0.0 -0.4 -2.8 -1.1 0.0z"/><path fill="#f4ebe8" stroke="#f4ebe8" d="M235.3 53.8l1.2 0.0 -0.4 -2.8 -1.1 0.0z"/><path fill="#f7bfa7" stroke="#f7bfa7" d="M236.5 53.8l1.2 0.0 -0.4 -2.8 -1.1 0.0z"/><path fill="#e76e56" stroke="#e76e56" d="M237.7 53.8l1.2 0.0 -0.5 -2.8 -1.1 0.0z"/><path fill="#cb3831" stroke="#cb3831" d="M238.8 53.8l1.2 0.0 -0.5 -2.8 -1.1 0.0z"/><path fill="#a61922" stroke="#a61922" d="M240.0 53.8l1.2 0.0 -0.5 -2.8 -1.1 0.0z"/><path fill="#7e0d19" stroke="#7e0d19" d="M241.2 53.8l1.2 0.0 -0.6 -2.8 -1.1 0.0z"/><path fill="#700916" stroke="#700916" d="M242.3 53.8l1.2 0.0 -0.6 -2.8 -1.1 0.0z"/><path fill="#800e1a" stroke="#800e1a" d="M243.5 53.8l1.2 0.0 -0.6 -2.8 -1.1 0.0z"/><path fill="#b21d25" stroke="#b21d25" d="M244.6 53.8l1.2 0.0 -0.7 -2.8 -1.1 0.0z"/><path fill="#dd4c3a" stroke="#dd4c3a" d="M245.8 53.8l1.2 0.0 -0.7 -2.8 -1.1 0.0z"/><path fill="#f4a488" stroke="#f4a488" d="M247.0 53.8l1.2 0.0 -0.8 -2.8 -1.1 0.0z"/><path fill="#eef1f4" stroke="#eef1f4" d="M248.1 53.8l1.2 0.0 -0.8 -2.8 -1.1 0.0z"/><path fill="#accfeb" stroke="#accfeb" d="M249.3 53.8l1.2 0.0 -0.8 -2.8 -1.1 0.0z"/><path fill="#9cc5e7" stroke="#9cc5e7" d="M250.5 53.8l1.2 0.0 -0.9 -2.8 -1.1 0.0z"/><path fill="#9ec7e7" stroke="#9ec7e7" d="M251.6 53.8l1.2 0.0 -0.9 -2.8 -1.1 0.0z"/><path fill="#a6cbe9" stroke="#a6cbe9" d="M252.8 53.8l1.2 0.0 -0.9 -2.8 -1.1 0.0z"/><path fill="#a7ccea" stroke="#a7ccea" d="M253.9 53.8l2.3 0.0 -1.0 -2.8 -2.3 0.0z"/><path fill="#a6cbe9" stroke="#a6cbe9" d="M256.3 53.8l2.3 0.0 -1.1 -2.8 -2.3 0.0z"/><path fill="#a9cdea" stroke="#a9cdea" d="M258.6 53.8l2.3 0.0 -1.1 -2.8 -2.3 0.0z"/><path fill="#b5d5ed" stroke="#b5d5ed" d="M260.9 53.8l2.3 0.0 -1.2 -2.8 -2.3 0.0z"/><path fill="#c9dff0" stroke="#c9dff0" d="M263.2 53.8l2.3 0.0 -1.3 -2.8 -2.3 0.0z"/><path fill="#e4ecf3" stroke="#e4ecf3" d="M265.6 53.8l2.3 0.0 -1.3 -2.8 -2.3 0.0z"/><path fill="#f5e9e4" stroke="#f5e9e4" d="M267.9 53.8l2.3 0.0 -1.4 -2.8 -2.3 0.0z"/><path fill="#f7dbce" stroke="#f7dbce" d="M270.2 53.8l2.3 0.0 -1.5 -2.8 -2.3 0.0z"/><path fill="#f7d9cc" stroke="#f7d9cc" d="M272.5 53.8l2.3 0.0 -1.5 -2.8 -2.3 0.0z"/><path fill="#f4eae7" stroke="#f4eae7" d="M274.9 53.8l2.3 0.0 -1.6 -2.8 -2.3 0.0z"/><path fill="#e1ebf3" stroke="#e1ebf3" d="M277.2 53.8l2.3 0.0 -1.7 -2.8 -2.3 0.0z"/><path fill="#cce0f0" stroke="#cce0f0" d="M279.5 53.8l2.3 0.0 -1.8 -2.8 -2.3 0.0z"/><path fill="#bbd8ee" stroke="#bbd8ee" d="M281.8 53.8l2.3 0.0 -1.8 -2.8 -2.3 0.0z"/><path fill="#bad8ee" stroke="#bad8ee" d="M284.2 53.8l0.8 0.0 -1.8 -2.8 -0.8 0.0z"/><path fill="#bdd9ef" stroke="#bdd9ef" d="M284.9 53.8l4.6 0.0 -2.0 -2.8 -4.5 0.0z"/><path fill="#bfdaef" stroke="#bfdaef" d="M289.6 53.8l4.6 0.0 -2.1 -2.8 -4.5 0.0z"/><path fill="#c1dbef" stroke="#c1dbef" d="M294.2 53.8l4.7 0.0 -2.3 -2.8 -4.5 0.0z"/><path fill="#c0daef" stroke="#c0daef" d="M298.9 53.8l4.7 0.0 -2.4 -2.8 -4.5 0.0z"/><path fill="#bbd8ee" stroke="#bbd8ee" d="M303.5 53.8l4.6 0.0 -2.5 -2.8 -4.5 0.0z"/><path fill="#bad7ee" stroke="#bad7ee" d="M308.2 53.8l4.6 0.0 -2.7 -2.8 -4.5 0.0z"/><path fill="#b9d7ee" stroke="#b9d7ee" d="M312.8 53.8l4.6 0.0 -2.8 -2.8 -4.5 0.0z"/><path fill="#b7d6ee" stroke="#b7d6ee" d="M317.5 53.8l4.7 0.0 -2.9 -2.8 -4.5 0.0z"/><path fill="#bcd8ee" stroke="#bcd8ee" d="M322.1 53.8l4.7 0.0 -3.1 -2.8 -4.5 0.0z"/><path fill="#c0daef" stroke="#c0daef" d="M326.8 53.8l4.6 0.0 -3.2 -2.8 -4.5 0.0z"/><path fill="#c0daef" stroke="#c0daef" d="M331.4 53.8l4.6 0.0 -3.4 -2.8 -4.5 0.0z"/><path fill="#c3dcef" stroke="#c3dcef" d="M336.1 53.8l4.6 0.0 -3.5 -2.8 -4.5 0.0z"/><path fill="#c4dcef" stroke="#c4dcef" d="M340.7 53.8l4.7 0.0 -3.6 -2.8 -4.5 0.0z"/><path fill="#c1dbef" stroke="#c1dbef" d="M345.4 53.8l4.7 0.0 -3.8 -2.8 -4.5 0.0z"/><path fill="#c1dbef" stroke="#c1dbef" d="M350.0 53.8l4.6 0.0 -3.9 -2.8 -4.5 0.0z"/><path fill="#c2dbef" stroke="#c2dbef" d="M354.7 53.8l4.6 0.0 -4.1 -2.8 -4.5 0.0z"/><path fill="#c2dbef" stroke="#c2dbef" d="M359.3 53.8l3.1 0.0 -4.1 -2.8 -3.0 0.0z"/></g><text x="449" y="46.5" font-size="29" fill="#111">b</text><path d="M481 51.5H510.6" stroke="#8cb2ea" stroke-width="2"/><path d="M481 67.8H510.6" stroke="#3b3a9c" stroke-width="2.6"/><text x="514.6" y="56.4" font-size="12.6" fill="#333">dark</text><text x="514.6" y="71.6" font-size="12.6" fill="#333">light 5 min</text><text x="676.2" y="59.7" font-size="13.7" textLength="61.1" lengthAdjust="spacingAndGlyphs" fill="#222">TMT-COF</text><path d="M481 199.8H510.6" stroke="#f3d483" stroke-width="2"/><path d="M481 216H510.6" stroke="#d43a40" stroke-width="2.4"/><text x="514.6" y="204.3" font-size="12.6" fill="#333">dark</text><text x="514.6" y="219.8" font-size="12.6" fill="#333">light 5 min</text><text x="664.8" y="207.2" font-size="13.7" textLength="70.7" lengthAdjust="spacingAndGlyphs" fill="#222">TBTN-COF</text><path d="M499.3 189.2H739.8" stroke="#8a8a8a" stroke-width="1.1"/><g fill="none" stroke-linejoin="round" stroke-linecap="round"><path d="M499.0 114.3C500.8 114.1 506.5 113.1 510.0 113.0C513.5 112.9 515.8 113.9 520.0 113.8C524.2 113.7 530.3 113.0 535.0 112.6C539.7 112.2 544.3 111.9 548.0 111.5C551.7 111.1 553.9 110.3 557.0 110.2C560.1 110.1 564.1 111.1 566.8 111.0C569.5 110.9 570.8 110.1 573.0 109.8C575.2 109.5 577.6 108.2 579.8 109.0C582.0 109.8 583.6 114.0 586.3 114.3C589.0 114.6 593.4 111.4 596.1 111.0C598.8 110.6 600.0 111.4 602.7 111.9C605.4 112.5 610.0 114.3 612.4 114.3C614.8 114.3 615.1 112.7 617.0 112.0C618.9 111.3 621.5 109.4 623.9 110.2C626.3 111.0 628.7 116.2 631.3 116.8C633.9 117.3 636.0 114.0 639.5 113.5C643.0 113.0 649.2 112.7 652.5 113.5C655.8 114.3 656.3 117.2 659.0 118.4C661.7 119.6 665.5 119.3 668.8 120.4C672.1 121.5 675.6 124.3 678.6 124.9C681.6 125.5 683.8 124.1 686.8 124.1C689.8 124.0 693.4 124.3 696.6 124.6C699.9 124.9 703.0 126.5 706.3 125.7C709.5 124.9 712.3 120.7 716.1 120.0C719.9 119.3 724.9 121.6 729.2 121.7C733.6 121.8 740.0 121.0 742.2 120.8" stroke="#8cb2ea" stroke-width="1.8"/><path d="M499.1 113.5C499.8 113.2 501.7 111.8 503.0 111.8C504.3 111.8 505.6 113.2 507.0 113.2C508.4 113.2 509.8 111.7 511.3 111.9C512.8 112.1 514.6 114.2 516.2 114.3C517.8 114.4 519.1 112.6 521.0 112.4C522.9 112.2 525.6 113.3 527.6 113.2C529.6 113.1 531.3 111.8 533.0 111.6C534.7 111.4 536.2 112.4 538.0 112.3C539.8 112.2 542.1 111.6 543.9 111.1C545.7 110.6 547.4 110.0 549.0 109.5C550.6 109.0 552.0 109.0 553.7 107.8C555.4 106.6 557.9 102.8 559.4 102.4C560.9 102.0 561.5 103.5 562.7 105.3C563.9 107.1 565.3 113.0 566.8 113.5C568.3 114.0 570.2 112.4 571.7 108.6C573.2 104.8 574.4 99.1 575.7 90.7C577.1 82.3 578.7 62.1 579.8 58.0C580.9 53.9 581.5 57.0 582.3 66.2C583.1 75.5 583.6 98.8 584.7 113.5C585.8 128.2 587.4 150.5 588.8 154.3C590.2 158.1 591.5 144.9 592.9 136.3C594.2 127.7 595.8 107.8 596.9 102.9C598.0 98.0 598.6 105.2 599.4 107.0C600.2 108.8 600.4 117.0 601.8 113.5C603.1 110.0 605.8 94.5 607.5 85.8C609.2 77.1 610.6 61.3 612.1 61.3C613.6 61.3 615.4 77.6 616.5 85.8C617.6 94.0 618.0 106.1 618.6 110.2C619.2 114.3 619.4 111.3 620.2 110.2C621.0 109.1 622.3 103.2 623.2 103.7C624.1 104.2 624.5 103.6 625.6 113.5C626.7 123.4 628.3 157.9 629.7 163.3C631.1 168.7 632.6 154.1 633.8 146.1C635.0 138.1 636.0 122.1 637.0 115.1C638.0 108.1 638.9 104.5 639.8 104.0C640.7 103.5 641.5 109.8 642.4 111.9C643.3 114.0 644.1 122.5 645.2 116.8C646.4 111.1 648.0 87.2 649.3 77.6C650.6 67.9 651.7 58.9 652.8 58.9C653.9 58.9 654.9 68.5 655.8 77.6C656.7 86.7 657.4 105.2 658.2 113.5C659.0 121.8 659.8 126.2 660.7 127.4C661.7 128.6 662.8 119.3 663.9 120.8C665.0 122.3 666.1 129.5 667.2 136.3C668.3 143.1 669.4 159.4 670.5 161.6C671.6 163.8 672.5 153.6 673.7 149.4C674.9 145.2 676.4 142.2 677.8 136.3C679.2 130.5 680.7 116.7 681.9 114.3C683.1 111.9 683.8 120.5 684.8 121.7C685.8 122.9 686.5 126.6 687.6 121.7C688.8 116.8 690.6 99.8 691.7 92.3C692.8 84.8 693.5 76.5 694.4 76.8C695.3 77.1 696.5 86.2 697.4 93.9C698.3 101.7 698.8 110.6 699.8 123.3C700.8 135.9 701.9 165.2 703.1 169.8C704.3 174.4 705.9 157.7 707.2 151.0C708.6 144.3 709.4 135.1 711.2 129.8C713.0 124.5 715.8 119.5 717.8 119.2C719.8 118.9 721.9 127.5 723.5 128.2C725.1 128.9 726.0 124.4 727.5 123.3C729.0 122.2 730.8 122.2 732.4 121.7C734.0 121.2 735.4 120.8 737.0 120.5C738.6 120.2 741.3 120.1 742.2 120.0" stroke="#3b3a9c" stroke-width="2.6"/><path d="M499.0 264.5C500.8 264.2 504.8 263.1 510.0 262.8C515.2 262.5 523.3 262.7 530.0 262.5C536.7 262.3 545.0 261.9 550.0 261.5C555.0 261.1 556.3 260.4 560.0 260.0C563.7 259.6 568.4 258.7 572.3 259.0C576.2 259.3 580.1 261.3 583.3 261.8C586.5 262.3 588.3 261.9 591.6 261.8C594.9 261.8 599.1 261.8 603.0 261.5C606.9 261.2 611.9 260.4 615.0 260.3C618.1 260.2 617.9 260.5 621.5 260.8C625.1 261.1 631.7 261.8 636.6 262.4C641.5 263.0 646.7 263.8 650.7 264.6C654.7 265.4 657.3 266.3 660.4 267.3C663.5 268.3 665.9 269.6 669.1 270.6C672.4 271.6 676.3 272.7 679.9 273.3C683.5 273.9 686.2 274.0 690.7 274.3C695.2 274.6 702.4 275.2 706.9 274.9C711.4 274.6 714.1 273.0 717.7 272.7C721.3 272.4 724.5 273.6 728.6 273.3C732.8 273.0 740.3 271.5 742.6 271.1" stroke="#f3d483" stroke-width="1.7"/><path d="M499.1 264.5C499.8 264.1 502.2 262.1 503.3 262.0C504.4 261.9 504.9 263.7 506.0 263.8C507.1 263.9 508.4 262.6 510.0 262.4C511.6 262.2 514.0 262.7 515.7 262.5C517.4 262.3 518.3 261.4 520.0 261.4C521.7 261.4 524.0 262.7 526.0 262.6C528.0 262.6 530.6 261.2 532.3 261.1C534.0 261.0 534.6 261.8 536.0 262.0C537.4 262.2 539.0 262.8 540.5 262.5C542.0 262.2 543.4 261.0 545.0 260.5C546.6 260.0 548.4 260.1 550.2 259.7C552.0 259.3 554.3 258.4 555.7 258.3C557.1 258.2 557.4 259.7 558.5 259.0C559.6 258.3 561.3 254.7 562.6 254.2C563.9 253.7 564.8 254.8 566.1 256.2C567.4 257.6 568.8 262.2 570.2 262.9C571.6 263.6 573.2 261.5 574.4 260.4C575.6 259.3 576.0 259.6 577.5 256.2C579.0 252.8 581.8 240.8 583.3 239.7C584.8 238.5 585.6 244.2 586.8 249.3C587.9 254.4 589.1 264.2 590.2 270.0C591.4 275.8 592.6 284.2 593.7 283.8C594.9 283.4 596.1 271.9 597.1 267.3C598.1 262.7 599.0 256.9 599.9 256.2C600.8 255.5 601.7 259.8 602.6 263.1C603.5 266.5 604.4 276.3 605.4 276.3C606.4 276.3 607.8 267.4 608.9 263.1C610.0 258.8 611.1 253.2 612.3 250.7C613.4 248.2 614.8 248.4 615.8 248.2C616.8 248.0 617.4 247.5 618.2 249.5C619.1 251.5 620.2 258.4 620.9 260.3C621.6 262.2 621.8 261.2 622.6 260.8C623.4 260.4 624.9 257.8 625.8 257.6C626.7 257.4 627.2 257.6 628.0 259.7C628.8 261.8 629.7 267.2 630.7 270.0C631.7 272.8 632.9 276.1 633.9 276.5C634.9 276.9 635.7 274.4 636.6 272.2C637.5 270.0 638.3 266.3 639.3 263.5C640.3 260.7 641.5 255.4 642.6 255.4C643.7 255.4 644.8 259.9 645.8 263.5C646.8 267.1 647.6 276.6 648.5 277.0C649.4 277.4 650.1 270.6 651.2 265.7C652.3 260.8 653.8 249.8 655.0 247.8C656.2 245.8 657.0 249.6 658.3 253.8C659.6 258.1 661.2 270.4 662.6 273.3C664.0 276.2 665.6 270.8 666.9 271.1C668.2 271.5 669.1 273.4 670.2 275.4C671.3 277.4 672.3 282.6 673.4 283.0C674.5 283.4 675.1 279.5 676.6 278.1C678.1 276.8 680.7 276.6 682.1 274.9C683.5 273.2 684.3 268.2 685.3 267.9C686.3 267.6 687.0 270.3 688.0 273.3C689.0 276.3 690.0 287.3 691.2 285.7C692.4 284.1 693.9 267.6 695.0 263.5C696.1 259.4 696.6 259.8 697.7 261.4C698.8 263.0 700.1 268.2 701.5 273.3C702.9 278.4 704.4 290.6 705.8 292.2C707.1 293.8 708.5 285.6 709.6 283.0C710.7 280.4 711.1 278.2 712.3 276.5C713.5 274.8 715.2 274.0 716.7 272.7C718.2 271.4 719.9 268.9 721.0 268.9C722.1 268.9 722.5 271.8 723.2 272.7C723.9 273.6 723.9 274.0 725.3 274.3C726.7 274.6 730.2 274.7 731.8 274.3C733.4 273.9 733.7 272.6 735.0 272.2C736.3 271.8 738.1 271.9 739.4 271.6C740.7 271.3 742.1 270.8 742.6 270.6" stroke="#d43a40" stroke-width="2.4"/></g><path d="M499.3 335.7H742.6" stroke="#555" stroke-width="1.2" fill="none"/><path d="M499.3 335.7V340.2" stroke="#555" stroke-width="1.2"/><path d="M529.7 335.7V338.3" stroke="#555" stroke-width="1.2"/><path d="M560.1 335.7V340.2" stroke="#555" stroke-width="1.2"/><path d="M590.5 335.7V338.3" stroke="#555" stroke-width="1.2"/><path d="M621.0 335.7V340.2" stroke="#555" stroke-width="1.2"/><path d="M651.4 335.7V338.3" stroke="#555" stroke-width="1.2"/><path d="M681.8 335.7V340.2" stroke="#555" stroke-width="1.2"/><path d="M712.2 335.7V338.3" stroke="#555" stroke-width="1.2"/><path d="M742.6 335.7V340.2" stroke="#555" stroke-width="1.2"/><text x="499.3" y="356.5" font-size="14.8" text-anchor="middle" textLength="35.3" lengthAdjust="spacingAndGlyphs" fill="#222">3460</text><text x="560.1" y="356.5" font-size="14.8" text-anchor="middle" textLength="35.3" lengthAdjust="spacingAndGlyphs" fill="#222">3480</text><text x="621.0" y="356.5" font-size="14.8" text-anchor="middle" textLength="35.3" lengthAdjust="spacingAndGlyphs" fill="#222">3500</text><text x="681.8" y="356.5" font-size="14.8" text-anchor="middle" textLength="35.3" lengthAdjust="spacingAndGlyphs" fill="#222">3520</text><text x="742.6" y="356.5" font-size="14.8" text-anchor="middle" textLength="35.3" lengthAdjust="spacingAndGlyphs" fill="#222">3540</text><text x="556.6" y="385.3" font-size="14.6" textLength="127.8" lengthAdjust="spacingAndGlyphs" fill="#222">Magnetic field (G)</text><text x="789" y="46" font-size="28" fill="#111">c</text><g fill="none" stroke="#111" stroke-width="1.5"><path d="M869.7 93.0A136.7 136.7 0 0 1 1002.8 95.0"/><path d="M1062.5 165.3A136.7 136.7 0 0 1 1065.4 252.8"/><path d="M1008.7 328.2A136.7 136.7 0 0 1 865.0 331.1"/><path d="M802.6 249.2A136.7 136.7 0 0 1 808.8 159.6"/></g><path d="M950.6 77.7L941.8 79.6L942.5 73.7Z" fill="#111"/><path d="M1071.2 213.0L1068.2 204.5L1074.2 204.5Z" fill="#111"/><path d="M923.7 349.7L932.4 347.4L931.9 353.3Z" fill="#111"/><path d="M798.2 203.6L800.5 212.3L794.5 211.9Z" fill="#111"/><rect x="806.3" y="127.1" width="54.8" height="9.2" fill="#3d3893"/><rect x="1007.7" y="126.2" width="58.6" height="8.8" fill="#3d3893"/><rect x="1111.6" y="126.1" width="52.3" height="8.4" fill="#7b7b7b"/><rect x="806.2" y="294" width="54.5" height="8.6" fill="#3d3893"/><rect x="1007.6" y="293.3" width="58.7" height="8.8" fill="#3d3893"/><text x="802" y="152.1" font-size="13.3" fill="#46459b">TBTN <tspan fill="#d2202e">+ O<tspan font-size="9" dy="3">2</tspan></tspan></text><text x="1004.6" y="152.8" font-size="13.3" fill="#46459b">TBTN<tspan fill="#d2202e">-O<tspan font-size="9" dy="3">2</tspan><tspan font-size="8" dy="-9">·-</tspan></tspan></text><text x="1113.9" y="152.9" font-size="13.3" fill="#222">TMT<tspan fill="#d2202e">-O<tspan font-size="9" dy="3">2</tspan><tspan font-size="8" dy="-9">·-</tspan></tspan></text><text x="798" y="321" font-size="13.3" fill="#46459b">TBTN <tspan fill="#d2202e">+ H<tspan font-size="9" dy="3">2</tspan><tspan dy="-3">O</tspan><tspan font-size="9" dy="3">2</tspan></tspan></text><text x="1000.7" y="320.9" font-size="13.3" fill="#46459b">TBTN<tspan fill="#d2202e">-OOH</tspan></text><text x="892.5" y="219.6" font-size="17.2" fill="#46459b">TBTN-COF</text><text x="1019" y="213.3" font-size="15.4" fill="#222">H<tspan font-size="8.5" dy="-6">+</tspan><tspan dy="6">+e</tspan><tspan font-size="8.5" dy="-6">-</tspan></text><text x="916.1" y="335.7" font-size="18" fill="#222">H<tspan font-size="10.5" dy="-7.5">+</tspan><tspan dy="7.5">+e</tspan><tspan font-size="10.5" dy="-7.5">-</tspan></text><text x="931" y="65.3" font-size="15.5" fill="#222">e<tspan font-size="9" dy="-6">-</tspan></text><text x="804.4" y="108" font-size="12.5" fill="#d2202e">O<tspan font-size="9" dy="3">2</tspan></text><path d="M823.9 105.2C830 106 835 112 835.3 118" fill="none" stroke="#d2202e" stroke-width="1.4"/><path d="M835.3 124.0L832.6 117.6L837.6 117.4Z" fill="#d2202e"/><text x="789.5" y="271.5" font-size="12.5" fill="#d2202e">H<tspan font-size="9" dy="3">2</tspan><tspan dy="-3">O</tspan><tspan font-size="9" dy="3">2</tspan></text><path d="M836.5 291C837 284 834 278 829 275" fill="none" stroke="#d2202e" stroke-width="1.4"/><path d="M826.5 272.5L832.7 274.1L830.1 277.8Z" fill="#d2202e"/><rect x="1013.1" y="96.4" width="45.8" height="24.1" fill="#f6d2d2" stroke="#d2202e" stroke-width="0.9" stroke-dasharray="3 2"/><text x="962.6" y="114.6" font-size="13.8" fill="#d2202e">Yeager</text><text x="1018.8" y="112.2" font-size="13" fill="#d2202e">O</text><text x="1039.8" y="112.2" font-size="13" fill="#d2202e">O</text><path d="M1030.5 107H1039.5M1053.5 102.2H1058M1022.2 115.2L1019.7 123.4M1049.1 115.2L1053.5 124.2" stroke="#d2202e" stroke-width="1.3"/><rect x="1126.7" y="72.8" width="25.6" height="45.2" fill="#f6d2d2" stroke="#d2202e" stroke-width="0.9" stroke-dasharray="3 2"/><text x="1118.8" y="61.1" font-size="13.4" fill="#d2202e">Pauling</text><text x="1132.6" y="90.6" font-size="11.5" fill="#d2202e">O</text><text x="1132.6" y="112.2" font-size="11.5" fill="#d2202e">O</text><path d="M1144.5 83.2H1148.5M1138 92.7V99.5M1138 115.3V124.3" stroke="#d2202e" stroke-width="1.3"/><text x="1097.5" y="75.4" font-size="12.2" fill="#222">O<tspan font-size="8.5" dy="3.4">2</tspan><tspan font-size="8" dy="-9">·-</tspan></text><path d="M1125.2 98C1118 98 1112 93 1110 87" fill="none" stroke="#222" stroke-width="1.3"/><path d="M1108.6 82.4L1112.6 87.4L1108.3 88.8Z" fill="#222"/><text x="1019" y="279.6" font-size="13" fill="#d2202e">O</text><text x="1039.9" y="279.6" font-size="13" fill="#d2202e">O</text><text x="1066.6" y="270" font-size="13" fill="#d2202e">H</text><path d="M1031 273.9H1039.7M1054.6 272.9L1063.4 266.3M1022.9 282L1019.1 290.8" stroke="#d2202e" stroke-width="1.3"/><path d="M963.8 79.4C1000 78 1050 86 1090 113" fill="none" stroke="#8a8a8a" stroke-width="1.4" stroke-dasharray="5 3.5"/><path d="M1023.4 83.2L1015.2 85.5L1015.7 79.5Z" fill="#8a8a8a"/><path d="M1131.8 167.9C1132 200 1125 240 1083.3 286.4" fill="none" stroke="#8a8a8a" stroke-width="1.4" stroke-dasharray="5 3.5"/><path d="M1120.5 231.0L1120.1 222.5L1125.8 224.3Z" fill="#8a8a8a"/><path d="M1117.5 189.5L1137.5 209.5M1137.5 189.5L1117.5 209.5" stroke="#c8101e" stroke-width="3.6"/><text x="27.4" y="445.6" font-size="29" fill="#111">d</text><rect x="95.0" y="452.3" width="355.8" height="278.90000000000003" fill="none" stroke="#505050" stroke-width="1.2"/><path d="M90.4 468.7H95.0M93.2 489.3H95.0M90.4 509.9H95.0M93.2 530.4H95.0M90.4 551.0H95.0M93.2 571.6H95.0M90.4 592.1H95.0M93.2 612.7H95.0M90.4 633.3H95.0M93.2 653.9H95.0M90.4 674.5H95.0M93.2 695.0H95.0M90.4 715.6H95.0" stroke="#505050" stroke-width="1.2"/><text x="87.3" y="474.9" font-size="17.5" text-anchor="end" fill="#222">1.0</text><text x="87.3" y="516.1" font-size="17.5" text-anchor="end" fill="#222">0.5</text><text x="87.3" y="557.2" font-size="17.5" text-anchor="end" fill="#222">0.0</text><text x="87.3" y="598.4" font-size="17.5" text-anchor="end" fill="#222">−0.5</text><text x="87.3" y="639.5" font-size="17.5" text-anchor="end" fill="#222">−1.0</text><text x="87.3" y="680.7" font-size="17.5" text-anchor="end" fill="#222">−1.5</text><text x="87.3" y="721.8" font-size="17.5" text-anchor="end" fill="#222">−2.0</text><text transform="translate(45.3,659) rotate(-90)" font-size="17.4" fill="#222">Free Energy (eV)</text><text x="194.8" y="755.5" font-size="17.6" fill="#222">Reaction coordinate</text><path d="M132.0 551.0L178.0 489.3M211.0 489.3L257.0 538.7M290.0 538.7L336.0 603.7M369.0 603.7L415.0 666.2" fill="none" stroke="#2f2f96" stroke-width="1.3" stroke-dasharray="4.2 3"/><path d="M132.0 551.0L178.0 501.6M211.0 501.6L257.0 535.4M290.0 535.4L336.0 683.9M369.0 683.9L415.0 666.2" fill="none" stroke="#d63c42" stroke-width="1.3" stroke-dasharray="4.2 3"/><path d="M179.0 489.3H210.0M258.0 538.7H289.0M337.0 603.7H368.0M416.0 666.2H447.0" stroke="#2f2f96" stroke-width="3.8" stroke-linecap="round"/><path d="M100.0 551.0H131.0M179.0 501.6H210.0M258.0 535.4H289.0M337.0 683.9H368.0M416.0 666.2H447.0" stroke="#d63c42" stroke-width="3.8" stroke-linecap="round"/><text x="108.5" y="541.5" font-size="14" fill="#222">O<tspan font-size="9.5" dy="3">2</tspan></text><text x="182.8" y="482.6" font-size="14" fill="#222"><tspan font-size="12" dy="-2.5">*</tspan><tspan dy="2.5">O</tspan><tspan font-size="9.5" dy="3">2</tspan></text><text x="253.4" y="527.3" font-size="14" fill="#222"><tspan font-size="12" dy="-2.5">*</tspan><tspan dy="2.5">OOH</tspan></text><text x="334.5" y="596.2" font-size="14" fill="#222"><tspan font-size="12" dy="-2.5">*</tspan><tspan dy="2.5">HOOH</tspan></text><text x="418.6" y="655.2" font-size="14" fill="#222">H<tspan font-size="9.5" dy="3">2</tspan><tspan dy="-3">O</tspan><tspan font-size="9.5" dy="3">2</tspan></text><text x="126.6" y="512.2" font-size="13" font-weight="bold" fill="#1f2a8c">0.75</text><text x="160.6" y="535.4" font-size="13" font-weight="bold" fill="#c42a30">0.6</text><text x="316.2" y="566.4" font-size="13" font-weight="bold" fill="#1f2a8c">-0.79</text><text x="279.8" y="621.6" font-size="13" font-weight="bold" fill="#c42a30">-1.81</text><text x="138.4" y="571.2" font-size="12.6" font-weight="bold" fill="#c42a30">ΔG<tspan font-size="9.6" dy="3.4">RDS</tspan></text><text x="306.2" y="709.6" font-size="12.6" font-weight="bold" fill="#c42a30">ΔG<tspan font-size="9.6" dy="3.4">Desorption</tspan></text><path d="M120 669.2H154.5" stroke="#2f2f96" stroke-width="3.8" stroke-linecap="round"/><path d="M120 687H154.5" stroke="#d63c42" stroke-width="3.8" stroke-linecap="round"/><text x="158.4" y="674.2" font-size="14.9" fill="#222">TMT-COF</text><text x="158.4" y="692.2" font-size="14.6" fill="#222">TBTN-COF</text><defs><filter id="dens" x="-10%" y="-10%" width="120%" height="120%" color-interpolation-filters="sRGB"><feGaussianBlur stdDeviation="2"/><feComponentTransfer><feFuncR type="table" tableValues="0 0 0 0.014 0.028 0.037 0.027 0.018 0.008 0 0 0 0 0.005 0.029 0.054 0.078 0.096 0.086 0.076 0.067 0.077 0.171 0.264 0.357 0.458 0.59 0.723 0.855 0.963 0.973 0.982 0.992 0.997 0.982 0.968 0.953 0.931 0.882 0.833 0.784"/><feFuncG type="table" tableValues="0 0.02 0.039 0.123 0.207 0.287 0.351 0.415 0.478 0.547 0.635 0.724 0.812 0.886 0.906 0.925 0.945 0.96 0.955 0.95 0.945 0.942 0.947 0.952 0.957 0.96 0.955 0.95 0.945 0.924 0.835 0.747 0.659 0.567 0.459 0.351 0.243 0.147 0.098 0.049 0"/><feFuncB type="table" tableValues="0.549 0.667 0.784 0.854 0.924 0.981 0.986 0.991 0.996 0.999 0.994 0.989 0.984 0.961 0.863 0.765 0.667 0.564 0.441 0.319 0.196 0.096 0.086 0.076 0.067 0.056 0.041 0.026 0.012 0 0 0 0 0.002 0.012 0.022 0.031 0.037 0.025 0.012 0"/><feFuncA type="table" tableValues="0 1 1 1"/></feComponentTransfer></filter><linearGradient id="cbE" x1="0" y1="1" x2="0" y2="0"><stop offset="0" stop-color="rgb(9, 76, 250)"/><stop offset="0.12" stop-color="rgb(1, 122, 254)"/><stop offset="0.28" stop-color="rgb(0, 207, 251)"/><stop offset="0.45" stop-color="rgb(22, 243, 112)"/><stop offset="0.55" stop-color="rgb(43, 241, 21)"/><stop offset="0.7" stop-color="rgb(217, 241, 3)"/><stop offset="0.84" stop-color="rgb(253, 167, 0)"/><stop offset="1" stop-color="rgb(230, 30, 7)"/></linearGradient></defs><text x="511.5" y="443" font-size="27" fill="#111">e</text><rect x="536.3" y="473.4" width="9.9" height="262.8" fill="url(#cbE)"/><text x="541.2" y="468.5" font-size="13" font-weight="bold" fill="#b01e28" text-anchor="middle">+</text><text x="541.2" y="750" font-size="13" font-weight="bold" fill="#5a6aa8" text-anchor="middle">-</text><path d="M555.6 727.7V490" stroke="#a21c22" stroke-width="1.2"/><path d="M555.6 483.6L557.9 491.1L553.3 491.1Z" fill="#a21c22"/><text transform="translate(561.4,520.4) rotate(90)" font-size="13.7" fill="#b0282e">Increasing Electron Density</text><defs><clipPath id="cd1"><path d="M669.3 450.4L750.6 590.9L669.3 731.4L588.0 590.9Z"/></clipPath></defs><g clip-path="url(#cd1)"><g filter="url(#dens)"><path d="M645.0 493.0C647.2 493.4 658.5 495.2 661.8 496.2C665.1 497.2 667.2 500.6 669.4 500.5C671.6 500.4 675.3 496.4 678.3 495.5C681.3 494.6 683.1 486.9 692.0 493.5C700.9 500.1 740.7 537.4 745.0 545.0C749.3 552.6 728.0 548.7 724.5 550.5C721.0 552.3 720.7 556.7 718.7 558.6C716.7 560.5 711.2 562.9 709.7 564.7C708.2 566.5 708.0 570.0 707.4 572.2C706.8 574.4 706.2 579.0 705.1 581.2C704.0 583.4 700.0 586.6 699.1 588.8C698.2 591.0 698.4 594.8 698.4 597.8C698.4 600.8 698.2 608.4 699.1 611.4C700.0 614.4 702.9 618.2 705.1 620.4C707.3 622.6 713.2 626.1 715.7 627.9C718.2 629.7 720.1 632.4 724.0 634.0C727.9 635.6 743.5 631.2 745.0 640.0C746.5 648.8 741.9 693.8 735.0 700.0C728.1 706.2 700.3 688.8 693.5 686.6C686.7 684.4 686.1 684.4 683.9 683.2C681.7 682.0 679.2 678.5 677.0 677.5C674.8 676.5 669.7 675.4 667.3 675.5C664.9 675.6 661.0 677.2 659.0 678.3C657.0 679.4 654.1 682.4 652.1 683.5C650.1 684.6 650.7 684.4 643.8 686.6C636.9 688.8 606.5 706.5 600.0 700.0C593.5 693.5 593.0 646.8 595.0 638.0C597.0 629.2 610.4 635.4 615.1 633.9C619.8 632.4 627.2 628.6 630.2 626.4C633.2 624.2 636.6 620.2 637.7 617.4C638.8 614.6 638.4 608.9 638.4 605.3C638.4 601.7 638.6 594.2 637.7 590.2C636.8 586.2 632.7 578.4 631.7 575.2C630.7 572.0 631.4 568.1 630.2 566.1C629.0 564.1 624.4 561.9 622.6 560.1C620.8 558.3 617.5 554.5 616.6 552.6C615.7 550.7 617.7 547.9 615.5 546.0C613.3 544.1 596.1 545.1 600.0 538.0C603.9 530.9 639.0 499.0 645.0 493.0Z" fill="rgb(31,31,31)"/><path d="M628.8 530.0C629.3 528.7 631.4 521.4 633.0 519.0C634.6 516.6 640.0 510.6 642.6 509.3C645.2 508.0 652.9 507.0 655.0 508.0C657.1 509.0 659.4 515.8 660.5 517.6C661.6 519.4 663.2 522.3 664.7 523.1C666.2 523.9 671.4 525.0 673.0 524.5C674.6 524.0 677.7 520.9 678.5 519.0C679.3 517.1 679.3 509.6 679.9 508.0C680.5 506.4 682.9 504.9 684.0 505.2C685.1 505.5 687.9 509.4 689.5 510.7C691.1 512.0 695.9 515.1 697.8 516.2C699.7 517.3 704.7 519.0 706.1 520.4C707.5 521.8 709.6 526.5 710.2 528.6C710.8 530.7 711.6 536.0 711.6 538.3C711.6 540.6 711.2 546.6 710.2 548.0C709.2 549.4 705.4 550.5 703.3 550.7C701.2 550.9 694.4 548.9 692.3 549.4C690.2 549.9 686.2 553.5 685.4 554.9C684.6 556.3 684.4 560.0 685.4 561.8C686.4 563.6 692.9 568.5 693.7 570.1C694.5 571.7 693.6 574.6 692.3 575.6C691.0 576.6 684.0 577.0 682.6 578.3C681.2 579.6 680.2 584.9 679.9 586.6C679.6 588.3 679.4 590.9 680.3 592.5C681.2 594.1 686.6 598.7 687.3 600.0C688.0 601.3 687.7 602.6 686.1 603.4C684.5 604.2 675.5 605.9 673.7 606.8C671.9 607.7 670.6 610.1 670.3 611.3C670.0 612.5 670.8 615.6 671.5 616.9C672.2 618.2 674.4 621.8 676.0 622.6C677.6 623.4 683.7 622.8 685.0 623.7C686.3 624.6 686.9 628.9 687.3 630.5C687.7 632.1 687.6 636.2 688.4 637.3C689.2 638.3 692.4 639.4 694.1 639.5C695.8 639.6 701.5 638.3 703.1 638.4C704.7 638.5 706.9 639.7 707.6 640.7C708.3 641.8 708.7 645.6 708.7 647.4C708.7 649.2 708.3 654.4 707.6 656.5C706.9 658.6 704.4 663.7 703.1 665.5C701.8 667.3 697.7 671.8 696.3 672.3C694.9 672.8 691.2 671.3 690.7 670.0C690.2 668.7 691.4 662.8 691.8 661.0C692.2 659.2 694.4 655.4 694.1 654.2C693.8 653.0 690.8 651.3 689.5 650.8C688.2 650.3 684.2 649.3 682.8 649.7C681.4 650.1 678.2 653.2 677.1 654.2C676.0 655.2 674.8 658.0 673.7 658.7C672.7 659.4 669.3 660.3 668.1 659.9C666.9 659.5 664.8 656.1 663.6 655.3C662.4 654.5 659.2 653.0 657.9 653.1C656.6 653.2 653.2 655.3 652.3 656.5C651.4 657.7 650.4 661.6 650.0 663.2C649.6 664.8 649.7 668.9 648.9 670.0C648.1 671.1 644.8 672.8 643.2 672.3C641.6 671.8 637.0 667.1 635.3 665.5C633.6 663.9 629.6 660.5 628.6 658.7C627.6 656.9 626.4 651.7 626.3 649.7C626.2 647.7 626.7 642.8 627.4 641.8C628.1 640.8 630.8 640.0 632.0 640.7C633.2 641.4 636.2 646.4 637.6 647.4C639.0 648.4 642.8 649.7 644.4 649.7C646.0 649.7 650.2 648.3 651.1 647.4C652.0 646.5 652.6 643.4 652.3 641.8C652.0 640.2 649.2 635.3 648.9 633.9C648.6 632.5 649.1 630.3 650.0 629.4C650.9 628.5 655.6 626.8 656.8 626.0C658.0 625.2 659.7 623.7 660.2 622.6C660.7 621.5 661.6 618.1 661.3 616.9C661.0 615.7 659.1 613.6 657.9 612.4C656.7 611.2 652.0 608.0 651.1 606.8C650.2 605.6 649.2 603.4 650.0 602.3C650.8 601.2 656.5 599.5 657.7 597.7C658.9 595.9 660.8 588.7 660.5 586.6C660.2 584.5 656.6 580.8 655.0 579.7C653.4 578.6 648.1 578.1 646.7 577.0C645.3 575.9 642.6 571.9 642.6 570.1C642.6 568.3 645.4 563.3 646.7 561.8C648.0 560.3 653.3 558.7 653.6 557.6C653.9 556.5 651.3 552.6 649.5 552.1C647.7 551.6 640.6 553.7 638.5 553.5C636.4 553.3 632.7 552.0 631.6 550.7C630.5 549.4 629.1 544.8 628.8 542.4C628.5 540.0 628.8 531.4 628.8 530.0Z" fill="rgb(135,135,135)"/><circle cx="648.1" cy="530" r="5.6" fill="rgb(48,48,48)"/><circle cx="668.8" cy="543.8" r="6" fill="rgb(48,48,48)"/><circle cx="690.2" cy="531.4" r="5.6" fill="rgb(48,48,48)"/><circle cx="668.1" cy="568.7" r="5.4" fill="rgb(48,48,48)"/><circle cx="668.6" cy="637.8" r="5.6" fill="rgb(48,48,48)"/><circle cx="650.6" cy="515.5" r="5.2" fill="rgb(66,66,66)"/><circle cx="650.6" cy="515.5" r="3.4" fill="rgb(0,0,0)"/><circle cx="702.6" cy="542.2" r="5.2" fill="rgb(66,66,66)"/><circle cx="702.6" cy="542.2" r="3.4" fill="rgb(0,0,0)"/><circle cx="653.6" cy="573.5" r="5.2" fill="rgb(66,66,66)"/><circle cx="653.6" cy="573.5" r="3.4" fill="rgb(0,0,0)"/><g transform="translate(653.4,632.7) rotate(0) scale(1,1)"><circle r="6" fill="rgb(189,189,189)"/><circle r="3.3" fill="rgb(255,255,255)"/></g><g transform="translate(681.1,627.7) rotate(0) scale(1,1)"><circle r="6" fill="rgb(189,189,189)"/><circle r="3.3" fill="rgb(255,255,255)"/></g><g transform="translate(671.5,653.8) rotate(0) scale(1,1)"><circle r="6" fill="rgb(189,189,189)"/><circle r="3.3" fill="rgb(255,255,255)"/></g></g></g><path d="M669.3 450.4L750.6 590.9L669.3 731.4L588.0 590.9Z" fill="none" stroke="#2e3192" stroke-width="1.3"/><text x="634.6" y="765.4" font-size="16" fill="#50509e" textLength="69.6" lengthAdjust="spacingAndGlyphs">TMT-COF</text><defs><clipPath id="cd2"><path d="M858.3 447.6L938.2 585.5L857.9 724.5L778.0 585.5Z"/></clipPath></defs><g clip-path="url(#cd2)"><g filter="url(#dens)"><path d="M830.2 492.2C832.3 492.1 842.6 490.7 846.3 491.2C850.0 491.7 854.8 496.1 858.3 496.2C861.8 496.3 869.1 492.5 872.3 491.8C875.5 491.1 874.7 484.8 882.4 491.2C890.1 497.6 926.5 532.6 930.0 540.0C933.5 547.4 912.7 544.5 908.5 546.4C904.3 548.3 900.5 552.0 898.4 554.4C896.3 556.8 893.7 561.5 892.4 564.4C891.1 567.3 889.3 573.6 888.4 576.5C887.5 579.4 885.2 583.9 886.0 586.0C886.8 588.1 891.1 590.2 894.4 592.1C897.7 594.0 908.0 597.7 910.5 600.1C913.0 602.5 913.5 606.4 913.5 610.1C913.5 613.8 908.3 624.2 910.5 628.2C912.7 632.2 931.4 631.8 930.0 640.0C928.6 648.2 906.3 684.9 900.0 690.0C893.7 695.1 885.9 678.1 882.4 678.0C878.9 677.9 877.3 686.9 874.0 689.0C870.7 691.1 861.8 693.6 857.3 693.6C852.8 693.6 843.2 690.8 840.0 689.0C836.8 687.2 838.3 686.5 833.0 680.0C827.7 673.5 803.5 646.9 800.0 640.0C796.5 633.1 806.7 632.2 807.1 628.2C807.5 624.2 803.2 613.8 803.1 610.1C803.0 606.4 804.1 602.4 806.1 600.1C808.1 597.8 815.3 595.1 818.0 593.0C820.7 590.9 825.6 587.5 826.2 584.5C826.8 581.5 823.0 573.6 822.2 570.4C821.4 567.2 821.8 562.8 820.2 560.4C818.6 558.0 815.5 554.6 810.1 552.4C804.7 550.2 777.3 552.0 780.0 544.0C782.7 536.0 823.5 499.1 830.2 492.2Z" fill="rgb(31,31,31)"/><path d="M897.1 527.0C896.6 525.7 894.5 518.4 892.9 516.0C891.3 513.6 885.9 507.6 883.3 506.3C880.7 505.0 873.0 504.0 870.9 505.0C868.8 506.0 866.5 512.8 865.4 514.6C864.3 516.4 862.7 519.3 861.2 520.1C859.7 520.9 854.5 522.0 852.9 521.5C851.3 521.0 848.2 517.9 847.4 516.0C846.6 514.1 846.6 506.6 846.0 505.0C845.4 503.4 843.0 501.9 841.9 502.2C840.8 502.5 838.0 506.4 836.4 507.7C834.8 509.0 830.0 512.1 828.1 513.2C826.2 514.3 821.2 516.0 819.8 517.4C818.4 518.8 816.3 523.5 815.7 525.6C815.1 527.7 814.3 533.0 814.3 535.3C814.3 537.6 814.7 543.6 815.7 545.0C816.7 546.4 820.5 547.5 822.6 547.7C824.7 547.9 831.5 545.9 833.6 546.4C835.7 546.9 839.7 550.5 840.5 551.9C841.3 553.3 841.5 557.0 840.5 558.8C839.5 560.6 833.0 565.5 832.2 567.1C831.4 568.7 832.3 571.6 833.6 572.6C834.9 573.6 841.9 574.0 843.3 575.3C844.7 576.6 845.2 582.5 846.0 583.6C846.8 584.7 850.7 584.7 850.2 585.0C849.7 585.3 843.3 585.6 841.9 586.2C840.5 586.8 838.0 589.3 837.8 590.4C837.6 591.5 839.4 594.8 840.5 595.9C841.6 597.0 846.4 598.9 847.4 600.0C848.4 601.1 849.3 604.2 848.8 605.5C848.3 606.8 844.7 610.6 843.3 611.1C841.9 611.6 838.5 610.5 836.4 609.7C834.3 608.9 827.7 604.7 825.4 604.2C823.1 603.7 818.4 604.7 817.1 605.5C815.8 606.3 814.0 609.6 814.3 611.1C814.6 612.6 817.9 616.7 819.8 618.0C821.7 619.3 828.6 621.1 830.9 622.1C833.2 623.1 838.1 624.8 839.2 626.2C840.3 627.6 841.2 633.0 840.5 634.5C839.8 636.0 835.7 638.4 833.6 638.7C831.5 639.0 824.4 637.0 822.6 637.3C820.8 637.6 818.7 639.8 818.5 641.4C818.3 643.0 820.2 649.0 821.2 651.1C822.2 653.2 825.1 658.1 826.7 659.4C828.3 660.7 833.9 663.1 835.0 662.1C836.1 661.1 835.3 652.7 836.4 651.1C837.5 649.5 843.1 647.8 844.7 648.3C846.3 648.8 849.2 653.6 850.2 655.2C851.2 656.8 851.9 661.3 853.0 662.1C854.1 662.9 858.9 662.7 859.9 662.1C860.9 661.5 860.4 658.2 861.2 656.6C862.0 655.0 865.2 649.1 866.8 648.3C868.4 647.5 873.7 648.4 875.0 649.7C876.3 651.0 876.8 658.0 877.8 659.4C878.8 660.8 881.7 662.8 883.3 662.1C884.9 661.4 889.5 655.7 891.6 653.8C893.7 651.9 900.2 647.7 901.3 645.6C902.4 643.5 902.1 637.2 901.3 635.9C900.5 634.6 896.8 634.3 894.4 634.5C892.0 634.7 882.9 637.6 880.6 637.3C878.3 637.0 875.3 633.2 875.0 631.8C874.7 630.4 876.7 626.0 877.8 624.9C878.9 623.8 882.8 622.8 884.7 622.1C886.6 621.4 892.5 620.3 894.4 619.3C896.3 618.3 900.7 615.2 901.3 613.8C901.9 612.4 901.0 607.9 899.9 606.9C898.8 605.9 893.5 605.3 891.6 605.5C889.7 605.7 885.6 607.5 883.3 608.3C881.0 609.1 874.2 612.2 872.3 612.4C870.4 612.6 867.6 610.7 866.8 609.7C866.0 608.7 864.8 605.5 865.4 604.2C866.0 602.9 871.1 599.9 871.6 598.6C872.1 597.3 870.9 594.4 869.5 593.1C868.1 591.8 861.0 588.9 859.9 587.6C858.8 586.3 859.3 582.5 859.9 582.0C860.5 581.5 864.1 584.2 865.4 583.6C866.7 583.0 869.3 577.8 870.9 576.7C872.5 575.6 877.8 575.1 879.2 574.0C880.6 572.9 883.3 568.9 883.3 567.1C883.3 565.3 880.5 560.3 879.2 558.8C877.9 557.3 872.6 555.7 872.3 554.6C872.0 553.5 874.6 549.6 876.4 549.1C878.2 548.6 885.3 550.7 887.4 550.5C889.5 550.3 893.2 549.0 894.3 547.7C895.4 546.4 896.8 541.8 897.1 539.4C897.4 537.0 897.1 528.4 897.1 527.0Z" fill="rgb(135,135,135)"/><circle cx="877.8" cy="527" r="5.6" fill="rgb(48,48,48)"/><circle cx="857.1" cy="540.8" r="6" fill="rgb(48,48,48)"/><circle cx="835.7" cy="528.4" r="5.6" fill="rgb(48,48,48)"/><circle cx="857.8" cy="565.7" r="5.4" fill="rgb(48,48,48)"/><circle cx="857.8" cy="631.1" r="6" fill="rgb(48,48,48)"/><circle cx="875.3" cy="512.5" r="5.2" fill="rgb(66,66,66)"/><circle cx="875.3" cy="512.5" r="3.4" fill="rgb(0,0,0)"/><circle cx="823.3" cy="539.2" r="5.2" fill="rgb(66,66,66)"/><circle cx="823.3" cy="539.2" r="3.4" fill="rgb(0,0,0)"/><circle cx="872.3" cy="570.5" r="5.2" fill="rgb(66,66,66)"/><circle cx="872.3" cy="570.5" r="3.4" fill="rgb(0,0,0)"/><g transform="translate(822.2,610.8) rotate(35) scale(1.6,1)"><circle r="6" fill="rgb(189,189,189)"/><circle r="3.3" fill="rgb(255,255,255)"/></g><g transform="translate(893.3,611.9) rotate(-35) scale(1.6,1)"><circle r="6" fill="rgb(189,189,189)"/><circle r="3.3" fill="rgb(255,255,255)"/></g><circle cx="856.7" cy="674.4" r="18.5" fill="rgb(31,31,31)"/><ellipse cx="856.7" cy="673.6" rx="10" ry="11.5" fill="rgb(76,76,76)"/><ellipse cx="856.7" cy="673.6" rx="6.8" ry="9.5" fill="rgb(133,133,133)"/><ellipse cx="856.7" cy="673.6" rx="3.6" ry="7.2" fill="rgb(204,204,204)"/><circle cx="856.7" cy="670.6" r="2.6" fill="rgb(255,255,255)"/><circle cx="856.7" cy="676.6" r="2.6" fill="rgb(255,255,255)"/></g></g><path d="M858.3 447.6L938.2 585.5L857.9 724.5L778.0 585.5Z" fill="none" stroke="#2e3192" stroke-width="1.3"/><circle cx="856.7" cy="674.4" r="15.2" fill="none" stroke="#fff" stroke-width="3.2"/><circle cx="856.7" cy="674.4" r="15.2" fill="none" stroke="#111" stroke-width="1.7" stroke-dasharray="0.1 3.1" stroke-linecap="round"/><text x="819.8" y="765.4" font-size="16" fill="#c8202c" textLength="78.3" lengthAdjust="spacingAndGlyphs">TBTN-COF</text><text x="753" y="681.6" font-size="14" fill="#222">O<tspan font-size="9.5" dy="3">2</tspan></text><path d="M778 674.4H832" stroke="#222" stroke-width="1.5" stroke-dasharray="0.1 2.2" stroke-linecap="round"/><path d="M837.0 674.4L831.0 676.7L831.0 672.1Z" fill="#222"/><path d="M882.5 675C930 675 960 671 996 663.5" fill="none" stroke="#222" stroke-width="1.5" stroke-dasharray="0.1 2.2" stroke-linecap="round"/><path d="M1002.0 662.1L996.6 665.6L995.7 661.1Z" fill="#222"/><rect x="979.3" y="441.3" width="191" height="300.2" fill="none" stroke="#222" stroke-width="1.6" stroke-dasharray="6 4"/><text x="1041.6" y="765.4" font-size="15.8" fill="#c8202c" textLength="67.4" lengthAdjust="spacingAndGlyphs">TBTN-O<tspan font-size="10.5" dy="3">2</tspan><tspan font-size="10.5" dy="-10.5">-</tspan></text><defs><radialGradient id="gC" cx="0.38" cy="0.35" r="0.7"><stop offset="0" stop-color="#e0c0a4"/><stop offset="0.5" stop-color="#a87a58"/><stop offset="1" stop-color="#6e4a30"/></radialGradient><radialGradient id="gS" cx="0.38" cy="0.35" r="0.7"><stop offset="0" stop-color="#fdfca0"/><stop offset="0.5" stop-color="#e6e43a"/><stop offset="1" stop-color="#a8a416"/></radialGradient><radialGradient id="gH" cx="0.38" cy="0.35" r="0.7"><stop offset="0" stop-color="#fff"/><stop offset="0.6" stop-color="#f1d6d6"/><stop offset="1" stop-color="#c8a0a0"/></radialGradient><radialGradient id="gN" cx="0.38" cy="0.35" r="0.7"><stop offset="0" stop-color="#e8ecf8"/><stop offset="0.6" stop-color="#a4acd0"/><stop offset="1" stop-color="#6a729a"/></radialGradient><radialGradient id="gIso" cx="0.45" cy="0.5" r="0.55"><stop offset="0" stop-color="#4fd8d8"/><stop offset="0.55" stop-color="#5cd6d0"/><stop offset="0.8" stop-color="#c6dc5a"/><stop offset="1" stop-color="#e8e060"/></radialGradient></defs><g transform="translate(1027.5,642) rotate(33)"><ellipse rx="31.5" ry="20.5" fill="#b8e4dc"/><ellipse cx="3" cy="-2" rx="28" ry="18" fill="#d2da52"/><ellipse cx="18" cy="-10" rx="9" ry="7" fill="#d8d650"/><ellipse cx="-7" cy="-3" rx="19" ry="12.5" fill="#44d0d8"/><ellipse cx="-9" cy="-4" rx="11" ry="8" fill="#5cdade"/><ellipse cx="11" cy="6" rx="10" ry="7.5" fill="#e4d83c"/><ellipse cx="8" cy="2" rx="3" ry="2" fill="#e8a040"/></g><ellipse cx="1060.5" cy="656" rx="4.5" ry="6" fill="#d8d84a"/><ellipse cx="1066.5" cy="660.5" rx="3.6" ry="3" fill="#50d6e0"/><g stroke="#8f6446" stroke-linecap="round"><path d="M999.6 479.1L1013.8 490.9" stroke-width="3.6"/><path d="M1013.8 490.9L1036 482.9" stroke-width="3.6"/><path d="M1036 482.9L1051.7 500.4" stroke-width="3.6"/><path d="M1051.7 500.4L1039.8 520.7" stroke-width="3.6"/><path d="M1039.8 520.7L1025.7 520.0" stroke-width="3.6" stroke="#8f6446"/><path d="M1025.7 520.0L1011.5 519.3" stroke-width="3.6" stroke="#d4d83a"/><path d="M1011.5 519.3L1012.6 505.1" stroke-width="3.6" stroke="#d4d83a"/><path d="M1012.6 505.1L1013.8 490.9" stroke-width="3.6" stroke="#8f6446"/><path d="M1036 482.9L1037.9 474.6" stroke-width="2.6" stroke="#8f6446"/><path d="M1037.9 474.6L1039.8 466.3" stroke-width="2.6" stroke="#ead2d2"/><path d="M1051.7 500.4L1073.9 498" stroke-width="3.6"/><path d="M1073.9 498L1088.1 518.3" stroke-width="3.6"/><path d="M1088.1 518.3L1078.6 539.6" stroke-width="3.6"/><path d="M1078.6 539.6L1056.4 541.5" stroke-width="3.6"/><path d="M1056.4 541.5L1039.8 520.7" stroke-width="3.6"/><path d="M1073.9 498L1082.2 486.2" stroke-width="3.6" stroke="#8f6446"/><path d="M1082.2 486.2L1090.4 474.4" stroke-width="3.6" stroke="#d4d83a"/><path d="M1090.4 474.4L1102.5 482.2" stroke-width="3.6" stroke="#d4d83a"/><path d="M1102.5 482.2L1114.5 490" stroke-width="3.6" stroke="#8f6446"/><path d="M1114.5 490L1110.8 513.6" stroke-width="3.6"/><path d="M1110.8 513.6L1088.1 518.3" stroke-width="3.6"/><path d="M1110.8 513.6L1117.8 520.0" stroke-width="2.6" stroke="#8f6446"/><path d="M1117.8 520.0L1124.9 526.4" stroke-width="2.6" stroke="#ead2d2"/><path d="M1114.5 490L1139.1 480.5" stroke-width="3.6"/><path d="M1139.1 480.5L1146.2 486.9" stroke-width="2.6" stroke="#8f6446"/><path d="M1146.2 486.9L1153.3 493.3" stroke-width="2.6" stroke="#ead2d2"/><path d="M1056.4 541.5L1046.9 561.8" stroke-width="3.6"/><path d="M1046.9 561.8L1065.8 578.4" stroke-width="3.6"/><path d="M1065.8 578.4L1078.3 571.3" stroke-width="3.6" stroke="#8f6446"/><path d="M1078.3 571.3L1090.9 564.2" stroke-width="3.6" stroke="#d4d83a"/><path d="M1090.9 564.2L1084.8 551.9" stroke-width="3.6" stroke="#d4d83a"/><path d="M1084.8 551.9L1078.6 539.6" stroke-width="3.6" stroke="#8f6446"/><path d="M1046.9 561.8L1037.5 566.1" stroke-width="2.6" stroke="#8f6446"/><path d="M1037.5 566.1L1028 570.4" stroke-width="2.6" stroke="#ead2d2"/><path d="M1065.8 578.4L1062.1 603.5" stroke-width="3.6"/><path d="M1062.1 603.5L1053.3 605.9" stroke-width="2.6" stroke="#8f6446"/><path d="M1053.3 605.9L1044.6 608.2" stroke-width="2.6" stroke="#ead2d2"/><path d="M1062.1 603.5L1080 618.6" stroke-width="3.6"/><path d="M1080 618.6L1087.8 614.5" stroke-width="2.6" stroke="#8f6446"/><path d="M1087.8 614.5L1095.6 610.5" stroke-width="2.6" stroke="#ead2d2"/><path d="M1080 618.6L1078.6 641.3" stroke-width="3.6"/><path d="M1078.6 641.3L1101.3 654" stroke-width="3.6"/><path d="M1101.3 654L1103.7 680" stroke-width="3.6"/><path d="M1103.7 680L1082.4 693.3" stroke-width="3.6"/><path d="M1082.4 693.3L1060.2 681.5" stroke-width="3.6"/><path d="M1060.2 681.5L1063.5 654" stroke-width="3.6"/><path d="M1063.5 654L1078.6 641.3" stroke-width="3.6"/><path d="M1101.3 654L1119.3 638.4" stroke-width="3.6"/><path d="M1119.3 638.4L1128.8 633.7" stroke-width="3.6" stroke="#8f6446"/><path d="M1128.8 633.7L1138.2 629" stroke-width="3.6" stroke="#9aa2c8"/><path d="M1103.7 680L1125.9 693.3" stroke-width="3.6"/><path d="M1125.9 693.3L1125.0 701.3" stroke-width="2.6" stroke="#8f6446"/><path d="M1125.0 701.3L1124 709.4" stroke-width="2.6" stroke="#ead2d2"/><path d="M1082.4 693.3L1084.8 716.9" stroke-width="3.6"/><path d="M1060.2 681.5L1037.5 694.2" stroke-width="3.6"/><path d="M1037.5 694.2L1030.4 690.0" stroke-width="2.6" stroke="#8f6446"/><path d="M1030.4 690.0L1023.3 685.7" stroke-width="2.6" stroke="#ead2d2"/><path d="M1037.5 694.2L1035.1 708.4" stroke-width="3.6"/></g><circle cx="1013.8" cy="490.9" r="4.6" fill="url(#gC)"/><circle cx="1036" cy="482.9" r="4.6" fill="url(#gC)"/><circle cx="1051.7" cy="500.4" r="4.6" fill="url(#gC)"/><circle cx="1039.8" cy="520.7" r="4.6" fill="url(#gC)"/><circle cx="1073.9" cy="498" r="4.6" fill="url(#gC)"/><circle cx="1088.1" cy="518.3" r="4.6" fill="url(#gC)"/><circle cx="1078.6" cy="539.6" r="4.6" fill="url(#gC)"/><circle cx="1056.4" cy="541.5" r="4.6" fill="url(#gC)"/><circle cx="1114.5" cy="490" r="4.6" fill="url(#gC)"/><circle cx="1110.8" cy="513.6" r="4.6" fill="url(#gC)"/><circle cx="1065.8" cy="578.4" r="4.6" fill="url(#gC)"/><circle cx="1046.9" cy="561.8" r="4.6" fill="url(#gC)"/><circle cx="1062.1" cy="603.5" r="4.6" fill="url(#gC)"/><circle cx="1080" cy="618.6" r="4.6" fill="url(#gC)"/><circle cx="1078.6" cy="641.3" r="4.6" fill="url(#gC)"/><circle cx="1101.3" cy="654" r="4.6" fill="url(#gC)"/><circle cx="1103.7" cy="680" r="4.6" fill="url(#gC)"/><circle cx="1082.4" cy="693.3" r="4.6" fill="url(#gC)"/><circle cx="1060.2" cy="681.5" r="4.6" fill="url(#gC)"/><circle cx="1063.5" cy="654" r="4.6" fill="url(#gC)"/><circle cx="1119.3" cy="638.4" r="4.6" fill="url(#gC)"/><circle cx="1138.2" cy="629" r="4.2" fill="url(#gN)"/><circle cx="1125.9" cy="693.3" r="4.6" fill="url(#gC)"/><circle cx="1084.8" cy="716.9" r="4.6" fill="url(#gC)"/><circle cx="1037.5" cy="694.2" r="4.6" fill="url(#gC)"/><circle cx="1139.1" cy="480.5" r="4.6" fill="url(#gC)"/><circle cx="1011.5" cy="519.3" r="6" fill="url(#gS)"/><circle cx="1090.4" cy="474.4" r="6" fill="url(#gS)"/><circle cx="1090.9" cy="564.2" r="6" fill="url(#gS)"/><circle cx="1039.8" cy="466.3" r="3.1" fill="url(#gH)"/><circle cx="1153.3" cy="493.3" r="3.1" fill="url(#gH)"/><circle cx="1124.9" cy="526.4" r="3.1" fill="url(#gH)"/><circle cx="1028" cy="570.4" r="3.1" fill="url(#gH)"/><circle cx="1044.6" cy="608.2" r="3.1" fill="url(#gH)"/><circle cx="1095.6" cy="610.5" r="3.1" fill="url(#gH)"/><circle cx="1124" cy="709.4" r="3.1" fill="url(#gH)"/><circle cx="1023.3" cy="685.7" r="3.1" fill="url(#gH)"/><g transform="translate(1027.5,642) rotate(33)"><ellipse rx="27.5" ry="17.5" fill="none" stroke="#fff" stroke-width="3"/><ellipse rx="27.5" ry="17.5" fill="none" stroke="#111" stroke-width="1.9" stroke-dasharray="0.1 3.2" stroke-linecap="round"/></g>
</svg>
</body></html>
